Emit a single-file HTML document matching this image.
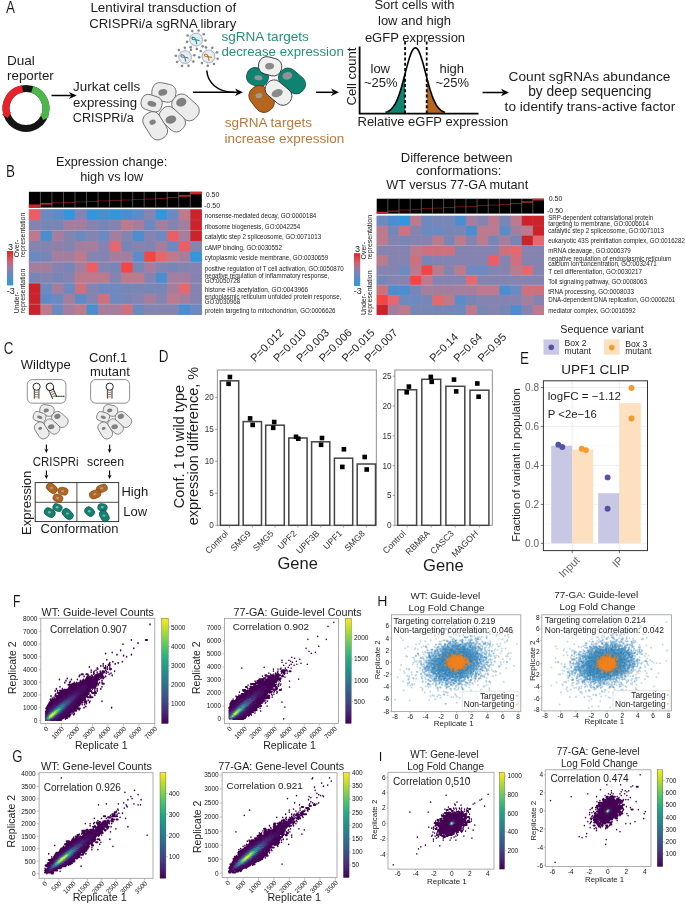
<!DOCTYPE html>
<html><head><meta charset="utf-8"><title>Figure</title>
<style>
html,body{margin:0;padding:0;background:#fff;}
body{width:685px;height:904px;overflow:hidden;}
svg{display:block;font-family:"Liberation Sans",sans-serif;fill:#1c1c1c;}
</style></head><body>
<svg width="685" height="904" viewBox="0 0 685 904">
<rect width="685" height="904" fill="#fff"/>
<text x="6.1" y="12.6" font-size="16" textLength="8.96" lengthAdjust="spacingAndGlyphs" fill="#111" stroke="#fff" stroke-width="0.12">A</text>
<text x="90.4" y="12.1" font-size="13.45" textLength="145.8" lengthAdjust="spacingAndGlyphs">Lentiviral transduction of</text>
<text x="89.2" y="28.1" font-size="13.1" textLength="147" lengthAdjust="spacingAndGlyphs">CRISPRi/a sgRNA library</text>
<text x="6.9" y="64.9" font-size="13.57" textLength="27.9" lengthAdjust="spacingAndGlyphs">Dual</text>
<text x="7.1" y="80.3" font-size="13.34" textLength="46.7" lengthAdjust="spacingAndGlyphs">reporter</text>
<path d="M26 88.4A20 20 0 1 1 25.97 88.4" fill="none" stroke="#141414" stroke-width="7"/>
<path d="M32.18 89.38A20 20 0 0 1 44.67 115.57" fill="none" stroke="#4db84a" stroke-width="7"/>
<path d="M22.53 88.7A20 20 0 0 0 6.68 113.58" fill="none" stroke="#e8212b" stroke-width="7"/>
<path d="M40.1 113.53L49.49 116.95L43.08 119.94Z" fill="#4db84a"/>
<path d="M1.74 114.45L11.45 112.03L7.8 118.09Z" fill="#e8212b"/>
<line x1="51.5" y1="95.5" x2="70.8" y2="95.5" stroke="#000" stroke-width="1.5"/>
<path d="M76.8 95.5L68.8 98.9L71.2 95.5L68.8 92.1Z" fill="#000"/>
<text x="73" y="90.7" font-size="13.46" textLength="67.3" lengthAdjust="spacingAndGlyphs">Jurkat cells</text>
<text x="73" y="106.5" font-size="13.25" textLength="64.1" lengthAdjust="spacingAndGlyphs">expressing</text>
<text x="72.8" y="122.4" font-size="12.62" textLength="61" lengthAdjust="spacingAndGlyphs">CRISPRi/a</text>
<rect x="151.9" y="83.4" width="24" height="18" rx="7.56" ry="7.56" fill="#ececec" stroke="#4a4a4a" stroke-width=".7" transform="rotate(12 163.9 92.4)"/>
<ellipse cx="162.8" cy="92.4" rx="4.5" ry="3.25" fill="#808080" transform="rotate(-10 162.8 92.4)"/>
<rect x="141.1" y="95.45" width="21" height="15.5" rx="6.51" ry="6.51" fill="#ececec" stroke="#4a4a4a" stroke-width=".7" transform="rotate(18 151.6 103.2)"/>
<ellipse cx="151.9" cy="103.8" rx="4.5" ry="2.75" fill="#808080" transform="rotate(15 151.9 103.8)"/>
<rect x="171" y="97.9" width="29" height="19" rx="7.98" ry="7.98" fill="#ececec" stroke="#4a4a4a" stroke-width=".7" transform="rotate(42 185.5 107.4)"/>
<ellipse cx="181.3" cy="102.2" rx="5.25" ry="4.25" fill="#808080" transform="rotate(-20 181.3 102.2)"/>
<rect x="158.3" y="110.45" width="28" height="17.5" rx="7.35" ry="7.35" fill="#ececec" stroke="#4a4a4a" stroke-width=".7" transform="rotate(42 172.3 119.2)"/>
<ellipse cx="170.9" cy="119.6" rx="5.5" ry="4" fill="#808080" transform="rotate(-15 170.9 119.6)"/>
<rect x="140.7" y="116.8" width="29" height="18" rx="7.56" ry="7.56" fill="#ececec" stroke="#4a4a4a" stroke-width=".7" transform="rotate(58 155.2 125.8)"/>
<ellipse cx="152.6" cy="122.2" rx="3.25" ry="2.5" fill="#808080" transform="rotate(-20 152.6 122.2)"/>
<line x1="202.37" y1="40.23" x2="205.45" y2="40.54" stroke="#b4b4b4" stroke-width=".5"/>
<circle cx="205.45" cy="40.54" r="1.3" fill="#888"/>
<line x1="200.5" y1="44.11" x2="202.66" y2="46.33" stroke="#b4b4b4" stroke-width=".5"/>
<circle cx="202.66" cy="46.33" r="1.3" fill="#888"/>
<line x1="196.57" y1="45.88" x2="196.8" y2="48.97" stroke="#b4b4b4" stroke-width=".5"/>
<circle cx="196.8" cy="48.97" r="1.3" fill="#888"/>
<line x1="192.42" y1="44.71" x2="190.61" y2="47.23" stroke="#b4b4b4" stroke-width=".5"/>
<circle cx="190.61" cy="47.23" r="1.3" fill="#888"/>
<line x1="189.99" y1="41.15" x2="186.99" y2="41.92" stroke="#b4b4b4" stroke-width=".5"/>
<circle cx="186.99" cy="41.92" r="1.3" fill="#888"/>
<line x1="190.42" y1="36.87" x2="187.63" y2="35.52" stroke="#b4b4b4" stroke-width=".5"/>
<circle cx="187.63" cy="35.52" r="1.3" fill="#888"/>
<line x1="193.51" y1="33.86" x2="192.24" y2="31.03" stroke="#b4b4b4" stroke-width=".5"/>
<circle cx="192.24" cy="31.03" r="1.3" fill="#888"/>
<line x1="197.81" y1="33.54" x2="198.65" y2="30.55" stroke="#b4b4b4" stroke-width=".5"/>
<circle cx="198.65" cy="30.55" r="1.3" fill="#888"/>
<line x1="201.31" y1="36.05" x2="203.87" y2="34.31" stroke="#b4b4b4" stroke-width=".5"/>
<circle cx="203.87" cy="34.31" r="1.3" fill="#888"/>
<circle cx="196.1" cy="39.6" r="6.4" fill="#e6eff6" stroke="#979eab" stroke-width="0.75"/>
<circle cx="196.1" cy="39.6" r="5.2" fill="none" stroke="#d2dde8" stroke-width="0.5"/>
<path d="M196.7 43.6l-.9 -3.6c-.9 -3.4 -4.4 -3.6 -3.7 -1.2c.5 1.6 3.2 .4 7 1.7" fill="none" stroke="#16907f" stroke-width="1.15" stroke-linecap="round" stroke-linejoin="round"/>
<line x1="190.63" y1="60.12" x2="193.35" y2="61.61" stroke="#b4b4b4" stroke-width=".5"/>
<circle cx="193.35" cy="61.61" r="1.3" fill="#888"/>
<line x1="187.39" y1="62.97" x2="188.52" y2="65.85" stroke="#b4b4b4" stroke-width=".5"/>
<circle cx="188.52" cy="65.85" r="1.3" fill="#888"/>
<line x1="183.09" y1="63.07" x2="182.09" y2="66.01" stroke="#b4b4b4" stroke-width=".5"/>
<circle cx="182.09" cy="66.01" r="1.3" fill="#888"/>
<line x1="179.72" y1="60.38" x2="177.07" y2="61.99" stroke="#b4b4b4" stroke-width=".5"/>
<circle cx="177.07" cy="61.99" r="1.3" fill="#888"/>
<line x1="178.87" y1="56.15" x2="175.81" y2="55.69" stroke="#b4b4b4" stroke-width=".5"/>
<circle cx="175.81" cy="55.69" r="1.3" fill="#888"/>
<line x1="180.94" y1="52.37" x2="178.89" y2="50.04" stroke="#b4b4b4" stroke-width=".5"/>
<circle cx="178.89" cy="50.04" r="1.3" fill="#888"/>
<line x1="184.95" y1="50.8" x2="184.88" y2="47.7" stroke="#b4b4b4" stroke-width=".5"/>
<circle cx="184.88" cy="47.7" r="1.3" fill="#888"/>
<line x1="189.03" y1="52.18" x2="190.97" y2="49.76" stroke="#b4b4b4" stroke-width=".5"/>
<circle cx="190.97" cy="49.76" r="1.3" fill="#888"/>
<line x1="191.28" y1="55.86" x2="194.32" y2="55.25" stroke="#b4b4b4" stroke-width=".5"/>
<circle cx="194.32" cy="55.25" r="1.3" fill="#888"/>
<circle cx="185.1" cy="57.1" r="6.4" fill="#e6eff6" stroke="#979eab" stroke-width="0.75"/>
<circle cx="185.1" cy="57.1" r="5.2" fill="none" stroke="#d2dde8" stroke-width="0.5"/>
<path d="M185.7 61.1l-.9 -3.6c-.9 -3.4 -4.4 -3.6 -3.7 -1.2c.5 1.6 3.2 .4 7 1.7" fill="none" stroke="#67788a" stroke-width="1.15" stroke-linecap="round" stroke-linejoin="round"/>
<line x1="214.6" y1="57.96" x2="217.61" y2="58.73" stroke="#b4b4b4" stroke-width=".5"/>
<circle cx="217.61" cy="58.73" r="1.3" fill="#888"/>
<line x1="212.17" y1="61.52" x2="213.98" y2="64.04" stroke="#b4b4b4" stroke-width=".5"/>
<circle cx="213.98" cy="64.04" r="1.3" fill="#888"/>
<line x1="208.03" y1="62.68" x2="207.79" y2="65.77" stroke="#b4b4b4" stroke-width=".5"/>
<circle cx="207.79" cy="65.77" r="1.3" fill="#888"/>
<line x1="204.1" y1="60.91" x2="201.93" y2="63.12" stroke="#b4b4b4" stroke-width=".5"/>
<circle cx="201.93" cy="63.12" r="1.3" fill="#888"/>
<line x1="202.23" y1="57.02" x2="199.15" y2="57.33" stroke="#b4b4b4" stroke-width=".5"/>
<circle cx="199.15" cy="57.33" r="1.3" fill="#888"/>
<line x1="203.3" y1="52.85" x2="200.74" y2="51.1" stroke="#b4b4b4" stroke-width=".5"/>
<circle cx="200.74" cy="51.1" r="1.3" fill="#888"/>
<line x1="206.8" y1="50.33" x2="205.96" y2="47.35" stroke="#b4b4b4" stroke-width=".5"/>
<circle cx="205.96" cy="47.35" r="1.3" fill="#888"/>
<line x1="211.09" y1="50.66" x2="212.37" y2="47.83" stroke="#b4b4b4" stroke-width=".5"/>
<circle cx="212.37" cy="47.83" r="1.3" fill="#888"/>
<line x1="214.18" y1="53.67" x2="216.97" y2="52.33" stroke="#b4b4b4" stroke-width=".5"/>
<circle cx="216.97" cy="52.33" r="1.3" fill="#888"/>
<circle cx="208.5" cy="56.4" r="6.4" fill="#e6eff6" stroke="#979eab" stroke-width="0.75"/>
<circle cx="208.5" cy="56.4" r="5.2" fill="none" stroke="#d2dde8" stroke-width="0.5"/>
<path d="M209.1 60.4l-.9 -3.6c-.9 -3.4 -4.4 -3.6 -3.7 -1.2c.5 1.6 3.2 .4 7 1.7" fill="none" stroke="#c47a22" stroke-width="1.15" stroke-linecap="round" stroke-linejoin="round"/>
<text x="221.4" y="41" font-size="13.56" textLength="87.4" lengthAdjust="spacingAndGlyphs" fill="#23907c">sgRNA targets</text>
<text x="221.4" y="55.8" font-size="13.26" textLength="122.4" lengthAdjust="spacingAndGlyphs" fill="#23907c">decrease expression</text>
<text x="224.7" y="126.6" font-size="13.54" textLength="87.3" lengthAdjust="spacingAndGlyphs" fill="#b9773a">sgRNA targets</text>
<text x="224.5" y="142.5" font-size="13.46" textLength="119.7" lengthAdjust="spacingAndGlyphs" fill="#b9773a">increase expression</text>
<line x1="193" y1="92.3" x2="237" y2="92.3" stroke="#000" stroke-width="1.5"/>
<path d="M243 92.3L235 96.1L237.4 92.3L235 88.5Z" fill="#000"/>
<path d="M206.8 70.5C207.5 82 217 92.3 234 92.3" fill="none" stroke="#000" stroke-width="1.5"/>
<rect x="246.6" y="68.2" width="21.8" height="17.6" rx="8.1" ry="8.1" fill="#0f8371" stroke="#0b5044" stroke-width=".8" transform="rotate(15 257.5 77)"/>
<ellipse cx="258.4" cy="77.8" rx="4" ry="2.5" fill="#8c9593" transform="rotate(5 258.4 77.8)"/>
<rect x="277.5" y="71.65" width="29" height="18.7" rx="8.6" ry="8.6" fill="#0f8371" stroke="#0b5044" stroke-width=".8" transform="rotate(40 292 81)"/>
<ellipse cx="287.3" cy="75.8" rx="5" ry="3.8" fill="#8c9593" transform="rotate(-15 287.3 75.8)"/>
<rect x="247.6" y="89.05" width="28" height="19.9" rx="9.15" ry="9.15" fill="#b4661f" stroke="#5a3510" stroke-width=".8" transform="rotate(52 261.6 99)"/>
<ellipse cx="258.9" cy="95.6" rx="3.5" ry="2.5" fill="#a09a94" transform="rotate(-10 258.9 95.6)"/>
<rect x="264" y="83.8" width="29" height="17.6" rx="8.1" ry="8.1" fill="#f0f0f0" stroke="#2a2a2a" stroke-width=".8" transform="rotate(40 278.5 92.6)"/>
<ellipse cx="277.2" cy="93.2" rx="5.75" ry="3.8" fill="#8a8a8a" transform="rotate(-20 277.2 93.2)"/>
<rect x="258.4" y="57.55" width="23.4" height="17.5" rx="8.05" ry="8.05" fill="#f0f0f0" stroke="#2a2a2a" stroke-width=".8" transform="rotate(15 270.1 66.3)"/>
<ellipse cx="269.6" cy="66.2" rx="4.5" ry="3.25" fill="#8a8a8a" transform="rotate(-5 269.6 66.2)"/>
<line x1="316" y1="92.3" x2="333" y2="92.3" stroke="#000" stroke-width="1.5"/>
<path d="M339 92.3L331 96.1L333.4 92.3L331 88.5Z" fill="#000"/>
<text x="414.5" y="9.3" font-size="13" text-anchor="middle">Sort cells with</text>
<text x="414.5" y="25.3" font-size="13" text-anchor="middle">low and high</text>
<text x="415" y="41.5" font-size="13" text-anchor="middle">eGFP expression</text>
<path d="M386.5 113.3L386.5 112.02L387.43 111.66L388.36 111.21L389.29 110.66L390.22 110L391.15 109.2L392.08 108.25L393.01 107.13L393.94 105.82L394.87 104.31L395.8 102.59L396.73 100.63L397.66 98.44L398.59 96.01L399.52 93.34L400.45 90.46L401.38 87.36L402.31 84.09L403.24 80.67L404.17 77.15L405.1 73.57L405.1 113.3Z" fill="#0f8371"/>
<path d="M426.7 113.3L426.7 77.42L427.56 80.69L428.43 83.87L429.3 86.93L430.16 89.84L431.02 92.57L431.89 95.12L432.75 97.46L433.62 99.6L434.49 101.53L435.35 103.26L436.21 104.8L437.08 106.15L437.94 107.33L438.81 108.35L439.68 109.23L440.54 109.97L441.4 110.6L442.27 111.12L443.13 111.56L444 111.91L444 113.3Z" fill="#b4661f"/>
<path d="M385.5 112.33L386.49 112.02L387.48 111.64L388.48 111.15L389.47 110.55L390.46 109.81L391.45 108.91L392.44 107.84L393.43 106.56L394.43 105.06L395.42 103.33L396.41 101.33L397.4 99.07L398.39 96.55L399.38 93.75L400.38 90.7L401.37 87.41L402.36 83.92L403.35 80.26L404.34 76.49L405.33 72.67L406.32 68.87L407.32 65.16L408.31 61.62L409.3 58.34L410.29 55.38L411.28 52.83L412.27 50.75L413.27 49.19L414.26 48.2L415.25 47.81L416.24 48.02L417.23 48.83L418.23 50.22L419.22 52.15L420.21 54.56L421.2 57.4L422.19 60.6L423.18 64.07L424.18 67.73L425.17 71.52L426.16 75.34L427.15 79.13L428.14 82.83L429.13 86.37L430.12 89.73L431.12 92.85L432.11 95.73L433.1 98.34L434.09 100.68L435.08 102.75L436.07 104.56L437.07 106.13L438.06 107.47L439.05 108.61L440.04 109.56L441.03 110.34L442.02 110.98L443.02 111.5L444.01 111.92L445 112.25" fill="none" stroke="#000" stroke-width="1.6"/>
<line x1="405.1" y1="41.6" x2="405.1" y2="113.3" stroke="#000" stroke-width="1.8" stroke-dasharray="3 2.3"/>
<line x1="426.7" y1="41.6" x2="426.7" y2="113.3" stroke="#000" stroke-width="1.8" stroke-dasharray="3 2.3"/>
<path d="M359.6 46.5V113.6H478.5" fill="none" stroke="#000" stroke-width="1.8"/>
<text x="370.5" y="72.8" font-size="13">low</text>
<text x="364" y="86.5" font-size="13">~25%</text>
<text x="439.5" y="72.8" font-size="13">high</text>
<text x="435.5" y="86.5" font-size="13">~25%</text>
<text x="355.5" y="105.5" font-size="13" transform="rotate(-90 355.5 105.5)">Cell count</text>
<text x="357.5" y="125.8" font-size="13">Relative eGFP expression</text>
<line x1="482.5" y1="92.5" x2="503" y2="92.5" stroke="#000" stroke-width="1.5"/>
<path d="M509 92.5L501 96.3L503.4 92.5L501 88.7Z" fill="#000"/>
<text x="508.6" y="80.6" font-size="13.66" textLength="161.8" lengthAdjust="spacingAndGlyphs">Count sgRNAs abundance</text>
<text x="528.2" y="96" font-size="13.77" textLength="123.3" lengthAdjust="spacingAndGlyphs">by deep sequencing</text>
<text x="504.6" y="110.9" font-size="13.64" textLength="170.6" lengthAdjust="spacingAndGlyphs">to identify trans-active factor</text>
<text x="5.9" y="177.1" font-size="16" textLength="8.96" lengthAdjust="spacingAndGlyphs" fill="#111" stroke="#fff" stroke-width="0.12">B</text>
<text x="56" y="166.3" font-size="12.67" textLength="111.3" lengthAdjust="spacingAndGlyphs">Expression change:</text>
<text x="80.2" y="181" font-size="12.74" textLength="63" lengthAdjust="spacingAndGlyphs">high vs low</text>
<text x="456.7" y="162.2" font-size="13" text-anchor="middle">Difference between</text>
<text x="458.7" y="175.3" font-size="13" text-anchor="middle">conformations:</text>
<text x="457.2" y="188.5" font-size="13" text-anchor="middle" textLength="142" lengthAdjust="spacingAndGlyphs">WT versus 77-GA mutant</text>
<rect x="28.9" y="191.8" width="172.9" height="15.8" fill="#000"/>
<rect x="28.9" y="204.42" width="11.53" height="3.2" fill="#c9252b"/>
<rect x="40.43" y="203.01" width="11.53" height="1.6" fill="#c9252b"/>
<rect x="51.95" y="202.46" width="11.53" height=".8" fill="#9a191e"/>
<rect x="63.48" y="202.04" width="11.53" height=".7" fill="#9a191e"/>
<rect x="75.01" y="201.56" width="11.53" height=".7" fill="#9a191e"/>
<rect x="86.53" y="201.09" width="11.53" height=".7" fill="#9a191e"/>
<rect x="98.06" y="200.61" width="11.53" height=".7" fill="#9a191e"/>
<rect x="109.59" y="200.14" width="11.53" height=".7" fill="#9a191e"/>
<rect x="121.11" y="199.67" width="11.53" height=".7" fill="#9a191e"/>
<rect x="132.64" y="199.19" width="11.53" height=".7" fill="#9a191e"/>
<rect x="144.17" y="198.72" width="11.53" height=".7" fill="#9a191e"/>
<rect x="155.69" y="198.09" width="11.53" height=".7" fill="#9a191e"/>
<rect x="167.22" y="197.2" width="11.53" height=".9" fill="#9a191e"/>
<rect x="178.75" y="195.11" width="11.53" height="1.6" fill="#c9252b"/>
<rect x="190.27" y="191.76" width="11.53" height="2.6" fill="#c9252b"/>
<line x1="40.43" y1="191.8" x2="40.43" y2="207.6" stroke="#9a9a9a" stroke-width=".5"/>
<line x1="51.95" y1="191.8" x2="51.95" y2="207.6" stroke="#9a9a9a" stroke-width=".5"/>
<line x1="63.48" y1="191.8" x2="63.48" y2="207.6" stroke="#9a9a9a" stroke-width=".5"/>
<line x1="75.01" y1="191.8" x2="75.01" y2="207.6" stroke="#9a9a9a" stroke-width=".5"/>
<line x1="86.53" y1="191.8" x2="86.53" y2="207.6" stroke="#9a9a9a" stroke-width=".5"/>
<line x1="98.06" y1="191.8" x2="98.06" y2="207.6" stroke="#9a9a9a" stroke-width=".5"/>
<line x1="109.59" y1="191.8" x2="109.59" y2="207.6" stroke="#9a9a9a" stroke-width=".5"/>
<line x1="121.11" y1="191.8" x2="121.11" y2="207.6" stroke="#9a9a9a" stroke-width=".5"/>
<line x1="132.64" y1="191.8" x2="132.64" y2="207.6" stroke="#9a9a9a" stroke-width=".5"/>
<line x1="144.17" y1="191.8" x2="144.17" y2="207.6" stroke="#9a9a9a" stroke-width=".5"/>
<line x1="155.69" y1="191.8" x2="155.69" y2="207.6" stroke="#9a9a9a" stroke-width=".5"/>
<line x1="167.22" y1="191.8" x2="167.22" y2="207.6" stroke="#9a9a9a" stroke-width=".5"/>
<line x1="178.75" y1="191.8" x2="178.75" y2="207.6" stroke="#9a9a9a" stroke-width=".5"/>
<line x1="190.27" y1="191.8" x2="190.27" y2="207.6" stroke="#9a9a9a" stroke-width=".5"/>
<rect x="28.9" y="209.4" width="172.9" height="105.4" fill="#8583b0"/>
<rect x="28.9" y="209.4" width="11.93" height="10.94" fill="#ec5e64"/>
<rect x="40.43" y="209.4" width="11.93" height="10.94" fill="#6c89c0"/>
<rect x="51.95" y="209.4" width="11.93" height="10.94" fill="#5c8cc8"/>
<rect x="63.48" y="209.4" width="11.93" height="10.94" fill="#3196dc"/>
<rect x="75.01" y="209.4" width="11.93" height="10.94" fill="#8583b0"/>
<rect x="86.53" y="209.4" width="11.93" height="10.94" fill="#3196dc"/>
<rect x="98.06" y="209.4" width="11.93" height="10.94" fill="#4a8ed0"/>
<rect x="109.59" y="209.4" width="11.93" height="10.94" fill="#3196dc"/>
<rect x="121.11" y="209.4" width="11.93" height="10.94" fill="#4a8ed0"/>
<rect x="132.64" y="209.4" width="11.93" height="10.94" fill="#5c8cc8"/>
<rect x="144.17" y="209.4" width="11.93" height="10.94" fill="#8583b0"/>
<rect x="155.69" y="209.4" width="11.93" height="10.94" fill="#3196dc"/>
<rect x="167.22" y="209.4" width="11.93" height="10.94" fill="#6c89c0"/>
<rect x="178.75" y="209.4" width="11.93" height="10.94" fill="#bc7a8c"/>
<rect x="190.27" y="209.4" width="11.53" height="10.94" fill="#cc2229"/>
<rect x="28.9" y="219.94" width="11.93" height="10.94" fill="#8583b0"/>
<rect x="40.43" y="219.94" width="11.93" height="10.94" fill="#7886b6"/>
<rect x="51.95" y="219.94" width="11.93" height="10.94" fill="#7886b6"/>
<rect x="63.48" y="219.94" width="11.93" height="10.94" fill="#a57e9e"/>
<rect x="75.01" y="219.94" width="11.93" height="10.94" fill="#a57e9e"/>
<rect x="86.53" y="219.94" width="11.93" height="10.94" fill="#8583b0"/>
<rect x="98.06" y="219.94" width="11.93" height="10.94" fill="#7886b6"/>
<rect x="109.59" y="219.94" width="11.93" height="10.94" fill="#8583b0"/>
<rect x="121.11" y="219.94" width="11.93" height="10.94" fill="#bc7a8c"/>
<rect x="132.64" y="219.94" width="11.93" height="10.94" fill="#a57e9e"/>
<rect x="144.17" y="219.94" width="11.93" height="10.94" fill="#6c89c0"/>
<rect x="155.69" y="219.94" width="11.93" height="10.94" fill="#a57e9e"/>
<rect x="167.22" y="219.94" width="11.93" height="10.94" fill="#8583b0"/>
<rect x="178.75" y="219.94" width="11.93" height="10.94" fill="#a57e9e"/>
<rect x="190.27" y="219.94" width="11.53" height="10.94" fill="#cc2229"/>
<rect x="28.9" y="230.48" width="11.93" height="10.94" fill="#bc7a8c"/>
<rect x="40.43" y="230.48" width="11.93" height="10.94" fill="#4a8ed0"/>
<rect x="51.95" y="230.48" width="11.93" height="10.94" fill="#a57e9e"/>
<rect x="63.48" y="230.48" width="11.93" height="10.94" fill="#8583b0"/>
<rect x="75.01" y="230.48" width="11.93" height="10.94" fill="#6c89c0"/>
<rect x="86.53" y="230.48" width="11.93" height="10.94" fill="#8583b0"/>
<rect x="98.06" y="230.48" width="11.93" height="10.94" fill="#6c89c0"/>
<rect x="109.59" y="230.48" width="11.93" height="10.94" fill="#a57e9e"/>
<rect x="121.11" y="230.48" width="11.93" height="10.94" fill="#8583b0"/>
<rect x="132.64" y="230.48" width="11.93" height="10.94" fill="#4a8ed0"/>
<rect x="144.17" y="230.48" width="11.93" height="10.94" fill="#8583b0"/>
<rect x="155.69" y="230.48" width="11.93" height="10.94" fill="#6c89c0"/>
<rect x="167.22" y="230.48" width="11.93" height="10.94" fill="#ec5e64"/>
<rect x="178.75" y="230.48" width="11.93" height="10.94" fill="#a57e9e"/>
<rect x="190.27" y="230.48" width="11.53" height="10.94" fill="#cc2229"/>
<rect x="28.9" y="241.02" width="11.93" height="10.94" fill="#8583b0"/>
<rect x="40.43" y="241.02" width="11.93" height="10.94" fill="#8583b0"/>
<rect x="51.95" y="241.02" width="11.93" height="10.94" fill="#9080a8"/>
<rect x="63.48" y="241.02" width="11.93" height="10.94" fill="#8583b0"/>
<rect x="75.01" y="241.02" width="11.93" height="10.94" fill="#a57e9e"/>
<rect x="86.53" y="241.02" width="11.93" height="10.94" fill="#a57e9e"/>
<rect x="98.06" y="241.02" width="11.93" height="10.94" fill="#8583b0"/>
<rect x="109.59" y="241.02" width="11.93" height="10.94" fill="#e4686e"/>
<rect x="121.11" y="241.02" width="11.93" height="10.94" fill="#7886b6"/>
<rect x="132.64" y="241.02" width="11.93" height="10.94" fill="#8583b0"/>
<rect x="144.17" y="241.02" width="11.93" height="10.94" fill="#8583b0"/>
<rect x="155.69" y="241.02" width="11.93" height="10.94" fill="#a57e9e"/>
<rect x="167.22" y="241.02" width="11.93" height="10.94" fill="#6c89c0"/>
<rect x="178.75" y="241.02" width="11.93" height="10.94" fill="#ec5e64"/>
<rect x="190.27" y="241.02" width="11.53" height="10.94" fill="#8583b0"/>
<rect x="28.9" y="251.56" width="11.93" height="10.94" fill="#6c89c0"/>
<rect x="40.43" y="251.56" width="11.93" height="10.94" fill="#7886b6"/>
<rect x="51.95" y="251.56" width="11.93" height="10.94" fill="#a57e9e"/>
<rect x="63.48" y="251.56" width="11.93" height="10.94" fill="#a57e9e"/>
<rect x="75.01" y="251.56" width="11.93" height="10.94" fill="#bc7a8c"/>
<rect x="86.53" y="251.56" width="11.93" height="10.94" fill="#8583b0"/>
<rect x="98.06" y="251.56" width="11.93" height="10.94" fill="#8583b0"/>
<rect x="109.59" y="251.56" width="11.93" height="10.94" fill="#a57e9e"/>
<rect x="121.11" y="251.56" width="11.93" height="10.94" fill="#a57e9e"/>
<rect x="132.64" y="251.56" width="11.93" height="10.94" fill="#5c8cc8"/>
<rect x="144.17" y="251.56" width="11.93" height="10.94" fill="#f44444"/>
<rect x="155.69" y="251.56" width="11.93" height="10.94" fill="#e4686e"/>
<rect x="167.22" y="251.56" width="11.93" height="10.94" fill="#bc7a8c"/>
<rect x="178.75" y="251.56" width="11.93" height="10.94" fill="#a57e9e"/>
<rect x="190.27" y="251.56" width="11.53" height="10.94" fill="#3196dc"/>
<rect x="28.9" y="262.1" width="11.93" height="10.94" fill="#a57e9e"/>
<rect x="40.43" y="262.1" width="11.93" height="10.94" fill="#a57e9e"/>
<rect x="51.95" y="262.1" width="11.93" height="10.94" fill="#8583b0"/>
<rect x="63.48" y="262.1" width="11.93" height="10.94" fill="#7886b6"/>
<rect x="75.01" y="262.1" width="11.93" height="10.94" fill="#a57e9e"/>
<rect x="86.53" y="262.1" width="11.93" height="10.94" fill="#ec5e64"/>
<rect x="98.06" y="262.1" width="11.93" height="10.94" fill="#8583b0"/>
<rect x="109.59" y="262.1" width="11.93" height="10.94" fill="#7886b6"/>
<rect x="121.11" y="262.1" width="11.93" height="10.94" fill="#f44444"/>
<rect x="132.64" y="262.1" width="11.93" height="10.94" fill="#7886b6"/>
<rect x="144.17" y="262.1" width="11.93" height="10.94" fill="#a57e9e"/>
<rect x="155.69" y="262.1" width="11.93" height="10.94" fill="#8583b0"/>
<rect x="167.22" y="262.1" width="11.93" height="10.94" fill="#7886b6"/>
<rect x="178.75" y="262.1" width="11.93" height="10.94" fill="#8583b0"/>
<rect x="190.27" y="262.1" width="11.53" height="10.94" fill="#8583b0"/>
<rect x="28.9" y="272.64" width="11.93" height="10.94" fill="#7886b6"/>
<rect x="40.43" y="272.64" width="11.93" height="10.94" fill="#8583b0"/>
<rect x="51.95" y="272.64" width="11.93" height="10.94" fill="#7886b6"/>
<rect x="63.48" y="272.64" width="11.93" height="10.94" fill="#8583b0"/>
<rect x="75.01" y="272.64" width="11.93" height="10.94" fill="#bc7a8c"/>
<rect x="86.53" y="272.64" width="11.93" height="10.94" fill="#bc7a8c"/>
<rect x="98.06" y="272.64" width="11.93" height="10.94" fill="#bc7a8c"/>
<rect x="109.59" y="272.64" width="11.93" height="10.94" fill="#8583b0"/>
<rect x="121.11" y="272.64" width="11.93" height="10.94" fill="#bc7a8c"/>
<rect x="132.64" y="272.64" width="11.93" height="10.94" fill="#bc7a8c"/>
<rect x="144.17" y="272.64" width="11.93" height="10.94" fill="#8583b0"/>
<rect x="155.69" y="272.64" width="11.93" height="10.94" fill="#4a8ed0"/>
<rect x="167.22" y="272.64" width="11.93" height="10.94" fill="#a57e9e"/>
<rect x="178.75" y="272.64" width="11.93" height="10.94" fill="#a57e9e"/>
<rect x="190.27" y="272.64" width="11.53" height="10.94" fill="#8583b0"/>
<rect x="28.9" y="283.18" width="11.93" height="10.94" fill="#cc2229"/>
<rect x="40.43" y="283.18" width="11.93" height="10.94" fill="#6c89c0"/>
<rect x="51.95" y="283.18" width="11.93" height="10.94" fill="#a57e9e"/>
<rect x="63.48" y="283.18" width="11.93" height="10.94" fill="#6c89c0"/>
<rect x="75.01" y="283.18" width="11.93" height="10.94" fill="#d0707c"/>
<rect x="86.53" y="283.18" width="11.93" height="10.94" fill="#8583b0"/>
<rect x="98.06" y="283.18" width="11.93" height="10.94" fill="#6c89c0"/>
<rect x="109.59" y="283.18" width="11.93" height="10.94" fill="#6c89c0"/>
<rect x="121.11" y="283.18" width="11.93" height="10.94" fill="#7886b6"/>
<rect x="132.64" y="283.18" width="11.93" height="10.94" fill="#7886b6"/>
<rect x="144.17" y="283.18" width="11.93" height="10.94" fill="#7886b6"/>
<rect x="155.69" y="283.18" width="11.93" height="10.94" fill="#7886b6"/>
<rect x="167.22" y="283.18" width="11.93" height="10.94" fill="#a57e9e"/>
<rect x="178.75" y="283.18" width="11.93" height="10.94" fill="#e4686e"/>
<rect x="190.27" y="283.18" width="11.53" height="10.94" fill="#8583b0"/>
<rect x="28.9" y="293.72" width="11.93" height="10.94" fill="#cc2229"/>
<rect x="40.43" y="293.72" width="11.93" height="10.94" fill="#5c8cc8"/>
<rect x="51.95" y="293.72" width="11.93" height="10.94" fill="#6c89c0"/>
<rect x="63.48" y="293.72" width="11.93" height="10.94" fill="#a57e9e"/>
<rect x="75.01" y="293.72" width="11.93" height="10.94" fill="#5c8cc8"/>
<rect x="86.53" y="293.72" width="11.93" height="10.94" fill="#8583b0"/>
<rect x="98.06" y="293.72" width="11.93" height="10.94" fill="#d0707c"/>
<rect x="109.59" y="293.72" width="11.93" height="10.94" fill="#6c89c0"/>
<rect x="121.11" y="293.72" width="11.93" height="10.94" fill="#7886b6"/>
<rect x="132.64" y="293.72" width="11.93" height="10.94" fill="#8583b0"/>
<rect x="144.17" y="293.72" width="11.93" height="10.94" fill="#a57e9e"/>
<rect x="155.69" y="293.72" width="11.93" height="10.94" fill="#8583b0"/>
<rect x="167.22" y="293.72" width="11.93" height="10.94" fill="#bc7a8c"/>
<rect x="178.75" y="293.72" width="11.93" height="10.94" fill="#a57e9e"/>
<rect x="190.27" y="293.72" width="11.53" height="10.94" fill="#8583b0"/>
<rect x="28.9" y="304.26" width="11.93" height="10.54" fill="#cc2229"/>
<rect x="40.43" y="304.26" width="11.93" height="10.54" fill="#bc7a8c"/>
<rect x="51.95" y="304.26" width="11.93" height="10.54" fill="#6c89c0"/>
<rect x="63.48" y="304.26" width="11.93" height="10.54" fill="#a57e9e"/>
<rect x="75.01" y="304.26" width="11.93" height="10.54" fill="#bc7a8c"/>
<rect x="86.53" y="304.26" width="11.93" height="10.54" fill="#4a8ed0"/>
<rect x="98.06" y="304.26" width="11.93" height="10.54" fill="#a57e9e"/>
<rect x="109.59" y="304.26" width="11.93" height="10.54" fill="#a57e9e"/>
<rect x="121.11" y="304.26" width="11.93" height="10.54" fill="#d0707c"/>
<rect x="132.64" y="304.26" width="11.93" height="10.54" fill="#6c89c0"/>
<rect x="144.17" y="304.26" width="11.93" height="10.54" fill="#8583b0"/>
<rect x="155.69" y="304.26" width="11.93" height="10.54" fill="#8583b0"/>
<rect x="167.22" y="304.26" width="11.93" height="10.54" fill="#8583b0"/>
<rect x="178.75" y="304.26" width="11.93" height="10.54" fill="#4a8ed0"/>
<rect x="190.27" y="304.26" width="11.53" height="10.54" fill="#6c89c0"/>
<line x1="40.43" y1="209.4" x2="40.43" y2="314.8" stroke="#a39ec2" stroke-width=".16"/>
<line x1="51.95" y1="209.4" x2="51.95" y2="314.8" stroke="#a39ec2" stroke-width=".16"/>
<line x1="63.48" y1="209.4" x2="63.48" y2="314.8" stroke="#a39ec2" stroke-width=".16"/>
<line x1="75.01" y1="209.4" x2="75.01" y2="314.8" stroke="#a39ec2" stroke-width=".16"/>
<line x1="86.53" y1="209.4" x2="86.53" y2="314.8" stroke="#a39ec2" stroke-width=".16"/>
<line x1="98.06" y1="209.4" x2="98.06" y2="314.8" stroke="#a39ec2" stroke-width=".16"/>
<line x1="109.59" y1="209.4" x2="109.59" y2="314.8" stroke="#a39ec2" stroke-width=".16"/>
<line x1="121.11" y1="209.4" x2="121.11" y2="314.8" stroke="#a39ec2" stroke-width=".16"/>
<line x1="132.64" y1="209.4" x2="132.64" y2="314.8" stroke="#a39ec2" stroke-width=".16"/>
<line x1="144.17" y1="209.4" x2="144.17" y2="314.8" stroke="#a39ec2" stroke-width=".16"/>
<line x1="155.69" y1="209.4" x2="155.69" y2="314.8" stroke="#a39ec2" stroke-width=".16"/>
<line x1="167.22" y1="209.4" x2="167.22" y2="314.8" stroke="#a39ec2" stroke-width=".16"/>
<line x1="178.75" y1="209.4" x2="178.75" y2="314.8" stroke="#a39ec2" stroke-width=".16"/>
<line x1="190.27" y1="209.4" x2="190.27" y2="314.8" stroke="#a39ec2" stroke-width=".16"/>
<line x1="28.9" y1="219.94" x2="201.8" y2="219.94" stroke="#a39ec2" stroke-width=".16"/>
<line x1="28.9" y1="230.48" x2="201.8" y2="230.48" stroke="#cfcbe0" stroke-width=".35"/>
<line x1="28.9" y1="241.02" x2="201.8" y2="241.02" stroke="#a39ec2" stroke-width=".16"/>
<line x1="28.9" y1="251.56" x2="201.8" y2="251.56" stroke="#a39ec2" stroke-width=".16"/>
<line x1="28.9" y1="262.1" x2="201.8" y2="262.1" stroke="#cfcbe0" stroke-width=".35"/>
<line x1="28.9" y1="272.64" x2="201.8" y2="272.64" stroke="#a39ec2" stroke-width=".16"/>
<line x1="28.9" y1="283.18" x2="201.8" y2="283.18" stroke="#cfcbe0" stroke-width=".35"/>
<line x1="28.9" y1="293.72" x2="201.8" y2="293.72" stroke="#a39ec2" stroke-width=".16"/>
<line x1="28.9" y1="304.26" x2="201.8" y2="304.26" stroke="#cfcbe0" stroke-width=".35"/>
<rect x="376.7" y="198.7" width="167.3" height="14.9" fill="#000"/>
<rect x="376.7" y="211.71" width="11.15" height="2" fill="#c9252b"/>
<rect x="387.85" y="210.62" width="11.15" height="1.2" fill="#9a191e"/>
<rect x="399.01" y="209.62" width="11.15" height=".8" fill="#9a191e"/>
<rect x="410.16" y="208.93" width="11.15" height=".7" fill="#9a191e"/>
<rect x="421.31" y="208.33" width="11.15" height=".7" fill="#9a191e"/>
<rect x="432.47" y="207.74" width="11.15" height=".7" fill="#9a191e"/>
<rect x="443.62" y="207.14" width="11.15" height=".7" fill="#9a191e"/>
<rect x="454.77" y="206.54" width="11.15" height=".7" fill="#9a191e"/>
<rect x="465.93" y="205.95" width="11.15" height=".7" fill="#9a191e"/>
<rect x="477.08" y="205.35" width="11.15" height=".7" fill="#9a191e"/>
<rect x="488.23" y="204.76" width="11.15" height=".7" fill="#9a191e"/>
<rect x="499.39" y="204.01" width="11.15" height=".7" fill="#9a191e"/>
<rect x="510.54" y="203.02" width="11.15" height=".9" fill="#9a191e"/>
<rect x="521.69" y="201.28" width="11.15" height="1.4" fill="#c9252b"/>
<rect x="532.85" y="198.69" width="11.15" height="1.8" fill="#c9252b"/>
<line x1="387.85" y1="198.7" x2="387.85" y2="213.6" stroke="#9a9a9a" stroke-width=".5"/>
<line x1="399.01" y1="198.7" x2="399.01" y2="213.6" stroke="#9a9a9a" stroke-width=".5"/>
<line x1="410.16" y1="198.7" x2="410.16" y2="213.6" stroke="#9a9a9a" stroke-width=".5"/>
<line x1="421.31" y1="198.7" x2="421.31" y2="213.6" stroke="#9a9a9a" stroke-width=".5"/>
<line x1="432.47" y1="198.7" x2="432.47" y2="213.6" stroke="#9a9a9a" stroke-width=".5"/>
<line x1="443.62" y1="198.7" x2="443.62" y2="213.6" stroke="#9a9a9a" stroke-width=".5"/>
<line x1="454.77" y1="198.7" x2="454.77" y2="213.6" stroke="#9a9a9a" stroke-width=".5"/>
<line x1="465.93" y1="198.7" x2="465.93" y2="213.6" stroke="#9a9a9a" stroke-width=".5"/>
<line x1="477.08" y1="198.7" x2="477.08" y2="213.6" stroke="#9a9a9a" stroke-width=".5"/>
<line x1="488.23" y1="198.7" x2="488.23" y2="213.6" stroke="#9a9a9a" stroke-width=".5"/>
<line x1="499.39" y1="198.7" x2="499.39" y2="213.6" stroke="#9a9a9a" stroke-width=".5"/>
<line x1="510.54" y1="198.7" x2="510.54" y2="213.6" stroke="#9a9a9a" stroke-width=".5"/>
<line x1="521.69" y1="198.7" x2="521.69" y2="213.6" stroke="#9a9a9a" stroke-width=".5"/>
<line x1="532.85" y1="198.7" x2="532.85" y2="213.6" stroke="#9a9a9a" stroke-width=".5"/>
<rect x="376.7" y="215.8" width="167.3" height="99.1" fill="#8583b0"/>
<rect x="376.7" y="215.8" width="11.55" height="10.31" fill="#6c89c0"/>
<rect x="387.85" y="215.8" width="11.55" height="10.31" fill="#4a8ed0"/>
<rect x="399.01" y="215.8" width="11.55" height="10.31" fill="#3196dc"/>
<rect x="410.16" y="215.8" width="11.55" height="10.31" fill="#bc7a8c"/>
<rect x="421.31" y="215.8" width="11.55" height="10.31" fill="#6c89c0"/>
<rect x="432.47" y="215.8" width="11.55" height="10.31" fill="#7886b6"/>
<rect x="443.62" y="215.8" width="11.55" height="10.31" fill="#7886b6"/>
<rect x="454.77" y="215.8" width="11.55" height="10.31" fill="#4a8ed0"/>
<rect x="465.93" y="215.8" width="11.55" height="10.31" fill="#a57e9e"/>
<rect x="477.08" y="215.8" width="11.55" height="10.31" fill="#8583b0"/>
<rect x="488.23" y="215.8" width="11.55" height="10.31" fill="#bc7a8c"/>
<rect x="499.39" y="215.8" width="11.55" height="10.31" fill="#7886b6"/>
<rect x="510.54" y="215.8" width="11.55" height="10.31" fill="#bc7a8c"/>
<rect x="521.69" y="215.8" width="11.55" height="10.31" fill="#cc2229"/>
<rect x="532.85" y="215.8" width="11.15" height="10.31" fill="#cc2229"/>
<rect x="376.7" y="225.71" width="11.55" height="10.31" fill="#bc7a8c"/>
<rect x="387.85" y="225.71" width="11.55" height="10.31" fill="#7886b6"/>
<rect x="399.01" y="225.71" width="11.55" height="10.31" fill="#d0707c"/>
<rect x="410.16" y="225.71" width="11.55" height="10.31" fill="#8583b0"/>
<rect x="421.31" y="225.71" width="11.55" height="10.31" fill="#6c89c0"/>
<rect x="432.47" y="225.71" width="11.55" height="10.31" fill="#6c89c0"/>
<rect x="443.62" y="225.71" width="11.55" height="10.31" fill="#7886b6"/>
<rect x="454.77" y="225.71" width="11.55" height="10.31" fill="#7886b6"/>
<rect x="465.93" y="225.71" width="11.55" height="10.31" fill="#4a8ed0"/>
<rect x="477.08" y="225.71" width="11.55" height="10.31" fill="#bc7a8c"/>
<rect x="488.23" y="225.71" width="11.55" height="10.31" fill="#bc7a8c"/>
<rect x="499.39" y="225.71" width="11.55" height="10.31" fill="#5c8cc8"/>
<rect x="510.54" y="225.71" width="11.55" height="10.31" fill="#a57e9e"/>
<rect x="521.69" y="225.71" width="11.55" height="10.31" fill="#bc7a8c"/>
<rect x="532.85" y="225.71" width="11.15" height="10.31" fill="#cc2229"/>
<rect x="376.7" y="235.62" width="11.55" height="10.31" fill="#bc7a8c"/>
<rect x="387.85" y="235.62" width="11.55" height="10.31" fill="#8583b0"/>
<rect x="399.01" y="235.62" width="11.55" height="10.31" fill="#7886b6"/>
<rect x="410.16" y="235.62" width="11.55" height="10.31" fill="#8583b0"/>
<rect x="421.31" y="235.62" width="11.55" height="10.31" fill="#8583b0"/>
<rect x="432.47" y="235.62" width="11.55" height="10.31" fill="#bc7a8c"/>
<rect x="443.62" y="235.62" width="11.55" height="10.31" fill="#7886b6"/>
<rect x="454.77" y="235.62" width="11.55" height="10.31" fill="#bc7a8c"/>
<rect x="465.93" y="235.62" width="11.55" height="10.31" fill="#8583b0"/>
<rect x="477.08" y="235.62" width="11.55" height="10.31" fill="#bc7a8c"/>
<rect x="488.23" y="235.62" width="11.55" height="10.31" fill="#7886b6"/>
<rect x="499.39" y="235.62" width="11.55" height="10.31" fill="#a57e9e"/>
<rect x="510.54" y="235.62" width="11.55" height="10.31" fill="#7886b6"/>
<rect x="521.69" y="235.62" width="11.55" height="10.31" fill="#cc2229"/>
<rect x="532.85" y="235.62" width="11.15" height="10.31" fill="#e4686e"/>
<rect x="376.7" y="245.53" width="11.55" height="10.31" fill="#8583b0"/>
<rect x="387.85" y="245.53" width="11.55" height="10.31" fill="#8583b0"/>
<rect x="399.01" y="245.53" width="11.55" height="10.31" fill="#8583b0"/>
<rect x="410.16" y="245.53" width="11.55" height="10.31" fill="#bc7a8c"/>
<rect x="421.31" y="245.53" width="11.55" height="10.31" fill="#d0707c"/>
<rect x="432.47" y="245.53" width="11.55" height="10.31" fill="#d0707c"/>
<rect x="443.62" y="245.53" width="11.55" height="10.31" fill="#d0707c"/>
<rect x="454.77" y="245.53" width="11.55" height="10.31" fill="#8583b0"/>
<rect x="465.93" y="245.53" width="11.55" height="10.31" fill="#8583b0"/>
<rect x="477.08" y="245.53" width="11.55" height="10.31" fill="#8583b0"/>
<rect x="488.23" y="245.53" width="11.55" height="10.31" fill="#8583b0"/>
<rect x="499.39" y="245.53" width="11.55" height="10.31" fill="#d0707c"/>
<rect x="510.54" y="245.53" width="11.55" height="10.31" fill="#e4686e"/>
<rect x="521.69" y="245.53" width="11.55" height="10.31" fill="#8583b0"/>
<rect x="532.85" y="245.53" width="11.15" height="10.31" fill="#8583b0"/>
<rect x="376.7" y="255.44" width="11.55" height="10.31" fill="#bc7a8c"/>
<rect x="387.85" y="255.44" width="11.55" height="10.31" fill="#8583b0"/>
<rect x="399.01" y="255.44" width="11.55" height="10.31" fill="#8583b0"/>
<rect x="410.16" y="255.44" width="11.55" height="10.31" fill="#d0707c"/>
<rect x="421.31" y="255.44" width="11.55" height="10.31" fill="#7886b6"/>
<rect x="432.47" y="255.44" width="11.55" height="10.31" fill="#8583b0"/>
<rect x="443.62" y="255.44" width="11.55" height="10.31" fill="#8583b0"/>
<rect x="454.77" y="255.44" width="11.55" height="10.31" fill="#8583b0"/>
<rect x="465.93" y="255.44" width="11.55" height="10.31" fill="#8583b0"/>
<rect x="477.08" y="255.44" width="11.55" height="10.31" fill="#8583b0"/>
<rect x="488.23" y="255.44" width="11.55" height="10.31" fill="#ec5e64"/>
<rect x="499.39" y="255.44" width="11.55" height="10.31" fill="#8583b0"/>
<rect x="510.54" y="255.44" width="11.55" height="10.31" fill="#d0707c"/>
<rect x="521.69" y="255.44" width="11.55" height="10.31" fill="#8583b0"/>
<rect x="532.85" y="255.44" width="11.15" height="10.31" fill="#8583b0"/>
<rect x="376.7" y="265.35" width="11.55" height="10.31" fill="#8583b0"/>
<rect x="387.85" y="265.35" width="11.55" height="10.31" fill="#8583b0"/>
<rect x="399.01" y="265.35" width="11.55" height="10.31" fill="#6c89c0"/>
<rect x="410.16" y="265.35" width="11.55" height="10.31" fill="#bc7a8c"/>
<rect x="421.31" y="265.35" width="11.55" height="10.31" fill="#f44444"/>
<rect x="432.47" y="265.35" width="11.55" height="10.31" fill="#bc7a8c"/>
<rect x="443.62" y="265.35" width="11.55" height="10.31" fill="#8583b0"/>
<rect x="454.77" y="265.35" width="11.55" height="10.31" fill="#bc7a8c"/>
<rect x="465.93" y="265.35" width="11.55" height="10.31" fill="#6c89c0"/>
<rect x="477.08" y="265.35" width="11.55" height="10.31" fill="#6c89c0"/>
<rect x="488.23" y="265.35" width="11.55" height="10.31" fill="#8583b0"/>
<rect x="499.39" y="265.35" width="11.55" height="10.31" fill="#8583b0"/>
<rect x="510.54" y="265.35" width="11.55" height="10.31" fill="#bc7a8c"/>
<rect x="521.69" y="265.35" width="11.55" height="10.31" fill="#e4686e"/>
<rect x="532.85" y="265.35" width="11.15" height="10.31" fill="#8583b0"/>
<rect x="376.7" y="275.26" width="11.55" height="10.31" fill="#7886b6"/>
<rect x="387.85" y="275.26" width="11.55" height="10.31" fill="#8583b0"/>
<rect x="399.01" y="275.26" width="11.55" height="10.31" fill="#8583b0"/>
<rect x="410.16" y="275.26" width="11.55" height="10.31" fill="#f44444"/>
<rect x="421.31" y="275.26" width="11.55" height="10.31" fill="#bc7a8c"/>
<rect x="432.47" y="275.26" width="11.55" height="10.31" fill="#8583b0"/>
<rect x="443.62" y="275.26" width="11.55" height="10.31" fill="#8583b0"/>
<rect x="454.77" y="275.26" width="11.55" height="10.31" fill="#8583b0"/>
<rect x="465.93" y="275.26" width="11.55" height="10.31" fill="#e4686e"/>
<rect x="477.08" y="275.26" width="11.55" height="10.31" fill="#8583b0"/>
<rect x="488.23" y="275.26" width="11.55" height="10.31" fill="#8583b0"/>
<rect x="499.39" y="275.26" width="11.55" height="10.31" fill="#8583b0"/>
<rect x="510.54" y="275.26" width="11.55" height="10.31" fill="#8583b0"/>
<rect x="521.69" y="275.26" width="11.55" height="10.31" fill="#8583b0"/>
<rect x="532.85" y="275.26" width="11.15" height="10.31" fill="#8583b0"/>
<rect x="376.7" y="285.17" width="11.55" height="10.31" fill="#d0707c"/>
<rect x="387.85" y="285.17" width="11.55" height="10.31" fill="#4a8ed0"/>
<rect x="399.01" y="285.17" width="11.55" height="10.31" fill="#4a8ed0"/>
<rect x="410.16" y="285.17" width="11.55" height="10.31" fill="#7886b6"/>
<rect x="421.31" y="285.17" width="11.55" height="10.31" fill="#a57e9e"/>
<rect x="432.47" y="285.17" width="11.55" height="10.31" fill="#a57e9e"/>
<rect x="443.62" y="285.17" width="11.55" height="10.31" fill="#a57e9e"/>
<rect x="454.77" y="285.17" width="11.55" height="10.31" fill="#a57e9e"/>
<rect x="465.93" y="285.17" width="11.55" height="10.31" fill="#a57e9e"/>
<rect x="477.08" y="285.17" width="11.55" height="10.31" fill="#bc7a8c"/>
<rect x="488.23" y="285.17" width="11.55" height="10.31" fill="#bc7a8c"/>
<rect x="499.39" y="285.17" width="11.55" height="10.31" fill="#4a8ed0"/>
<rect x="510.54" y="285.17" width="11.55" height="10.31" fill="#6c89c0"/>
<rect x="521.69" y="285.17" width="11.55" height="10.31" fill="#d0707c"/>
<rect x="532.85" y="285.17" width="11.15" height="10.31" fill="#d0707c"/>
<rect x="376.7" y="295.08" width="11.55" height="10.31" fill="#f44444"/>
<rect x="387.85" y="295.08" width="11.55" height="10.31" fill="#e4686e"/>
<rect x="399.01" y="295.08" width="11.55" height="10.31" fill="#6c89c0"/>
<rect x="410.16" y="295.08" width="11.55" height="10.31" fill="#6c89c0"/>
<rect x="421.31" y="295.08" width="11.55" height="10.31" fill="#7886b6"/>
<rect x="432.47" y="295.08" width="11.55" height="10.31" fill="#e4686e"/>
<rect x="443.62" y="295.08" width="11.55" height="10.31" fill="#bc7a8c"/>
<rect x="454.77" y="295.08" width="11.55" height="10.31" fill="#5c8cc8"/>
<rect x="465.93" y="295.08" width="11.55" height="10.31" fill="#7886b6"/>
<rect x="477.08" y="295.08" width="11.55" height="10.31" fill="#8583b0"/>
<rect x="488.23" y="295.08" width="11.55" height="10.31" fill="#8583b0"/>
<rect x="499.39" y="295.08" width="11.55" height="10.31" fill="#8583b0"/>
<rect x="510.54" y="295.08" width="11.55" height="10.31" fill="#8583b0"/>
<rect x="521.69" y="295.08" width="11.55" height="10.31" fill="#a57e9e"/>
<rect x="532.85" y="295.08" width="11.15" height="10.31" fill="#8583b0"/>
<rect x="376.7" y="304.99" width="11.55" height="9.91" fill="#cc2229"/>
<rect x="387.85" y="304.99" width="11.55" height="9.91" fill="#a57e9e"/>
<rect x="399.01" y="304.99" width="11.55" height="9.91" fill="#bc7a8c"/>
<rect x="410.16" y="304.99" width="11.55" height="9.91" fill="#7886b6"/>
<rect x="421.31" y="304.99" width="11.55" height="9.91" fill="#7886b6"/>
<rect x="432.47" y="304.99" width="11.55" height="9.91" fill="#7886b6"/>
<rect x="443.62" y="304.99" width="11.55" height="9.91" fill="#7886b6"/>
<rect x="454.77" y="304.99" width="11.55" height="9.91" fill="#6c89c0"/>
<rect x="465.93" y="304.99" width="11.55" height="9.91" fill="#bc7a8c"/>
<rect x="477.08" y="304.99" width="11.55" height="9.91" fill="#7886b6"/>
<rect x="488.23" y="304.99" width="11.55" height="9.91" fill="#8583b0"/>
<rect x="499.39" y="304.99" width="11.55" height="9.91" fill="#7886b6"/>
<rect x="510.54" y="304.99" width="11.55" height="9.91" fill="#4a8ed0"/>
<rect x="521.69" y="304.99" width="11.55" height="9.91" fill="#8583b0"/>
<rect x="532.85" y="304.99" width="11.15" height="9.91" fill="#bc7a8c"/>
<line x1="387.85" y1="215.8" x2="387.85" y2="314.9" stroke="#a39ec2" stroke-width=".16"/>
<line x1="399.01" y1="215.8" x2="399.01" y2="314.9" stroke="#a39ec2" stroke-width=".16"/>
<line x1="410.16" y1="215.8" x2="410.16" y2="314.9" stroke="#a39ec2" stroke-width=".16"/>
<line x1="421.31" y1="215.8" x2="421.31" y2="314.9" stroke="#a39ec2" stroke-width=".16"/>
<line x1="432.47" y1="215.8" x2="432.47" y2="314.9" stroke="#a39ec2" stroke-width=".16"/>
<line x1="443.62" y1="215.8" x2="443.62" y2="314.9" stroke="#a39ec2" stroke-width=".16"/>
<line x1="454.77" y1="215.8" x2="454.77" y2="314.9" stroke="#a39ec2" stroke-width=".16"/>
<line x1="465.93" y1="215.8" x2="465.93" y2="314.9" stroke="#a39ec2" stroke-width=".16"/>
<line x1="477.08" y1="215.8" x2="477.08" y2="314.9" stroke="#a39ec2" stroke-width=".16"/>
<line x1="488.23" y1="215.8" x2="488.23" y2="314.9" stroke="#a39ec2" stroke-width=".16"/>
<line x1="499.39" y1="215.8" x2="499.39" y2="314.9" stroke="#a39ec2" stroke-width=".16"/>
<line x1="510.54" y1="215.8" x2="510.54" y2="314.9" stroke="#a39ec2" stroke-width=".16"/>
<line x1="521.69" y1="215.8" x2="521.69" y2="314.9" stroke="#a39ec2" stroke-width=".16"/>
<line x1="532.85" y1="215.8" x2="532.85" y2="314.9" stroke="#a39ec2" stroke-width=".16"/>
<line x1="376.7" y1="225.71" x2="544" y2="225.71" stroke="#a39ec2" stroke-width=".16"/>
<line x1="376.7" y1="235.62" x2="544" y2="235.62" stroke="#a39ec2" stroke-width=".16"/>
<line x1="376.7" y1="245.53" x2="544" y2="245.53" stroke="#cfcbe0" stroke-width=".35"/>
<line x1="376.7" y1="255.44" x2="544" y2="255.44" stroke="#a39ec2" stroke-width=".16"/>
<line x1="376.7" y1="265.35" x2="544" y2="265.35" stroke="#a39ec2" stroke-width=".16"/>
<line x1="376.7" y1="275.26" x2="544" y2="275.26" stroke="#cfcbe0" stroke-width=".35"/>
<line x1="376.7" y1="285.17" x2="544" y2="285.17" stroke="#cfcbe0" stroke-width=".35"/>
<line x1="376.7" y1="295.08" x2="544" y2="295.08" stroke="#a39ec2" stroke-width=".16"/>
<line x1="376.7" y1="304.99" x2="544" y2="304.99" stroke="#a39ec2" stroke-width=".16"/>
<text x="205.7" y="196.6" font-size="7">0.50</text>
<text x="204.2" y="208" font-size="7">-0.50</text>
<text x="548.7" y="201.2" font-size="7">0.50</text>
<text x="547" y="212.9" font-size="7">-0.50</text>
<text x="204.8" y="217.97" font-size="7.1" textLength="111.5" lengthAdjust="spacingAndGlyphs">nonsense-mediated decay, GO:0000184</text>
<text x="204.8" y="228.51" font-size="7.1" textLength="95.4" lengthAdjust="spacingAndGlyphs">ribosome biogenesis, GO:0042254</text>
<text x="204.8" y="239.05" font-size="7.1" textLength="116.3" lengthAdjust="spacingAndGlyphs">catalytic step 2 spliceosome, GO:0071013</text>
<text x="204.8" y="249.59" font-size="7.1" textLength="77.1" lengthAdjust="spacingAndGlyphs">cAMP binding, GO:0030552</text>
<text x="204.8" y="260.13" font-size="7.1" textLength="123.4" lengthAdjust="spacingAndGlyphs">cytoplasmic vesicle membrane, GO:0030659</text>
<text x="204.8" y="270.67" font-size="7.1" textLength="138.8" lengthAdjust="spacingAndGlyphs">positive regulation of T cell activation, GO:0050870</text>
<text x="204.8" y="278.31" font-size="7.1" textLength="124.3" lengthAdjust="spacingAndGlyphs">negative regulation of inflammatory response,</text>
<text x="204.8" y="283.31" font-size="7.1" textLength="35.3" lengthAdjust="spacingAndGlyphs">GO:0050728</text>
<text x="204.8" y="291.75" font-size="7.1" textLength="103.4" lengthAdjust="spacingAndGlyphs">histone H3 acetylation, GO:0043966</text>
<text x="204.8" y="299.39" font-size="7.1" textLength="136.5" lengthAdjust="spacingAndGlyphs">endoplasmic reticulum unfolded protein response,</text>
<text x="204.8" y="304.39" font-size="7.1" textLength="35.3" lengthAdjust="spacingAndGlyphs">GO:0030968</text>
<text x="204.8" y="312.83" font-size="7.1" textLength="130.7" lengthAdjust="spacingAndGlyphs">protein targeting to mitochondrion, GO:0006626</text>
<text x="548.2" y="220.4" font-size="7.1" textLength="105" lengthAdjust="spacingAndGlyphs">SRP-dependent cotranslational protein</text>
<text x="548.2" y="226.2" font-size="7.1" textLength="100.7" lengthAdjust="spacingAndGlyphs">targeting to membrane, GO:0006614</text>
<text x="548.2" y="233.3" font-size="7.1" textLength="115.8" lengthAdjust="spacingAndGlyphs">catalytic step 2 spliceosome, GO:0071013</text>
<text x="548.2" y="243.2" font-size="7.1" textLength="136.6" lengthAdjust="spacingAndGlyphs">eukaryotic 43S preinitiation complex, GO:0016282</text>
<text x="548.2" y="253.3" font-size="7.1" textLength="82.6" lengthAdjust="spacingAndGlyphs">mRNA cleavage, GO:0006379</text>
<text x="548.2" y="260.8" font-size="7.1" textLength="123.1" lengthAdjust="spacingAndGlyphs">negative regulation of endoplasmic reticulum</text>
<text x="548.2" y="266.1" font-size="7.1" textLength="108.4" lengthAdjust="spacingAndGlyphs">calcium ion concentration, GO:0032471</text>
<text x="548.2" y="273.5" font-size="7.1" textLength="93.9" lengthAdjust="spacingAndGlyphs">T cell differentiation, GO:0030217</text>
<text x="548.2" y="283.7" font-size="7.1" textLength="98.7" lengthAdjust="spacingAndGlyphs">Toll signaling pathway, GO:0008063</text>
<text x="548.2" y="294" font-size="7.1" textLength="85.7" lengthAdjust="spacingAndGlyphs">tRNA processing, GO:0008033</text>
<text x="548.2" y="302.2" font-size="7.1" textLength="127.1" lengthAdjust="spacingAndGlyphs">DNA-dependent DNA replication, GO:0006261</text>
<text x="548.2" y="312.8" font-size="7.1" textLength="87.4" lengthAdjust="spacingAndGlyphs">mediator complex, GO:0016592</text>
<defs><linearGradient id="hg" x1="0" y1="0" x2="0" y2="1"><stop offset="0" stop-color="#e3222a"/><stop offset="0.3" stop-color="#d8606e"/><stop offset="0.5" stop-color="#8c80ae"/><stop offset="0.75" stop-color="#5a8cc8"/><stop offset="1" stop-color="#2c9ade"/></linearGradient></defs>
<rect x="7" y="251" width="6.2" height="34.4" fill="url(#hg)"/>
<text x="7.9" y="249.7" font-size="9">3</text>
<text x="6.8" y="293.8" font-size="9">-3</text>
<text x="19" y="257.2" font-size="7" transform="rotate(-90 19 257.2)">Over-</text>
<text x="24.6" y="257.2" font-size="7" transform="rotate(-90 24.6 257.2)" textLength="44.6" lengthAdjust="spacingAndGlyphs">representation</text>
<text x="19" y="313.2" font-size="7" transform="rotate(-90 19 313.2)">Under-</text>
<text x="24.6" y="313.2" font-size="7" transform="rotate(-90 24.6 313.2)" textLength="44.6" lengthAdjust="spacingAndGlyphs">representation</text>
<rect x="354" y="253.2" width="6.2" height="32.8" fill="url(#hg)"/>
<text x="354.9" y="251.9" font-size="9">3</text>
<text x="353.8" y="294.4" font-size="9">-3</text>
<text x="366" y="259.5" font-size="7" transform="rotate(-90 366 259.5)">Over-</text>
<text x="371.8" y="259.5" font-size="7" transform="rotate(-90 371.8 259.5)" textLength="44.6" lengthAdjust="spacingAndGlyphs">representation</text>
<text x="366" y="315" font-size="7" transform="rotate(-90 366 315)">Under-</text>
<text x="371.8" y="315" font-size="7" transform="rotate(-90 371.8 315)" textLength="44.6" lengthAdjust="spacingAndGlyphs">representation</text>
<text x="3.7" y="353.8" font-size="16" textLength="9.71" lengthAdjust="spacingAndGlyphs" fill="#111" stroke="#fff" stroke-width="0.12">C</text>
<text x="20.8" y="368.8" font-size="13">Wildtype</text>
<text x="89" y="362" font-size="13">Conf.1</text>
<text x="90" y="375.6" font-size="13">mutant</text>
<rect x="27.3" y="379.6" width="38.6" height="23.6" fill="#fff" stroke="#6a6a6a" stroke-width=".75" rx="5" ry="5"/>
<rect x="90.6" y="379.6" width="39" height="23.6" fill="#fff" stroke="#6a6a6a" stroke-width=".75" rx="5" ry="5"/>
<g transform="rotate(0 36.6 386.7)">
<line x1="34.3" y1="389.3" x2="34.3" y2="398.7" stroke="#222" stroke-width=".9"/>
<line x1="38.9" y1="389.3" x2="38.9" y2="398.7" stroke="#222" stroke-width=".9"/>
<circle cx="36.6" cy="386.7" r="3.6" fill="#fff" stroke="#222" stroke-width="0.95"/>
<line x1="34.6" y1="392.3" x2="38.6" y2="392.3" stroke="#a88a45" stroke-width="1"/>
<line x1="34.6" y1="394.6" x2="38.6" y2="394.6" stroke="#80709a" stroke-width="1"/>
<line x1="34.6" y1="396.9" x2="38.6" y2="396.9" stroke="#a88a45" stroke-width="1"/>
</g>
<g transform="rotate(-24 49.9 386.8)">
<line x1="47.6" y1="389.4" x2="47.6" y2="398.8" stroke="#222" stroke-width=".9"/>
<line x1="52.2" y1="389.4" x2="52.2" y2="398.8" stroke="#222" stroke-width=".9"/>
<circle cx="49.9" cy="386.8" r="3.6" fill="#fff" stroke="#222" stroke-width="0.95"/>
<line x1="47.9" y1="392.4" x2="51.9" y2="392.4" stroke="#a88a45" stroke-width="1"/>
<line x1="47.9" y1="394.7" x2="51.9" y2="394.7" stroke="#80709a" stroke-width="1"/>
<line x1="47.9" y1="397" x2="51.9" y2="397" stroke="#a88a45" stroke-width="1"/>
</g>
<line x1="55.5" y1="396.4" x2="64.5" y2="396.4" stroke="#222" stroke-width="1.1" stroke-dasharray="1.3 0.6"/>
<g transform="rotate(0 109.7 386.7)">
<line x1="107.4" y1="389.3" x2="107.4" y2="398.7" stroke="#222" stroke-width=".9"/>
<line x1="112" y1="389.3" x2="112" y2="398.7" stroke="#222" stroke-width=".9"/>
<circle cx="109.7" cy="386.7" r="3.6" fill="#fff" stroke="#222" stroke-width="0.95"/>
<line x1="107.7" y1="392.3" x2="111.7" y2="392.3" stroke="#a88a45" stroke-width="1"/>
<line x1="107.7" y1="394.6" x2="111.7" y2="394.6" stroke="#80709a" stroke-width="1"/>
<line x1="107.7" y1="396.9" x2="111.7" y2="396.9" stroke="#a88a45" stroke-width="1"/>
</g>
<g transform="translate(-51.4 355) scale(.6)">
<rect x="151.9" y="83.4" width="24" height="18" rx="7.56" ry="7.56" fill="#ececec" stroke="#4a4a4a" stroke-width="1" transform="rotate(12 163.9 92.4)"/>
<ellipse cx="162.8" cy="92.4" rx="4.5" ry="3.25" fill="#808080" transform="rotate(-10 162.8 92.4)"/>
<rect x="141.1" y="95.45" width="21" height="15.5" rx="6.51" ry="6.51" fill="#ececec" stroke="#4a4a4a" stroke-width="1" transform="rotate(18 151.6 103.2)"/>
<ellipse cx="151.9" cy="103.8" rx="4.5" ry="2.75" fill="#808080" transform="rotate(15 151.9 103.8)"/>
<rect x="171" y="97.9" width="29" height="19" rx="7.98" ry="7.98" fill="#ececec" stroke="#4a4a4a" stroke-width="1" transform="rotate(42 185.5 107.4)"/>
<ellipse cx="181.3" cy="102.2" rx="5.25" ry="4.25" fill="#808080" transform="rotate(-20 181.3 102.2)"/>
<rect x="158.3" y="110.45" width="28" height="17.5" rx="7.35" ry="7.35" fill="#ececec" stroke="#4a4a4a" stroke-width="1" transform="rotate(42 172.3 119.2)"/>
<ellipse cx="170.9" cy="119.6" rx="5.5" ry="4" fill="#808080" transform="rotate(-15 170.9 119.6)"/>
<rect x="140.7" y="116.8" width="29" height="18" rx="7.56" ry="7.56" fill="#ececec" stroke="#4a4a4a" stroke-width="1" transform="rotate(58 155.2 125.8)"/>
<ellipse cx="152.6" cy="122.2" rx="3.25" ry="2.5" fill="#808080" transform="rotate(-20 152.6 122.2)"/>
</g>
<g transform="translate(12.1 355) scale(.6)">
<rect x="151.9" y="83.4" width="24" height="18" rx="7.56" ry="7.56" fill="#ececec" stroke="#4a4a4a" stroke-width="1" transform="rotate(12 163.9 92.4)"/>
<ellipse cx="162.8" cy="92.4" rx="4.5" ry="3.25" fill="#808080" transform="rotate(-10 162.8 92.4)"/>
<rect x="141.1" y="95.45" width="21" height="15.5" rx="6.51" ry="6.51" fill="#ececec" stroke="#4a4a4a" stroke-width="1" transform="rotate(18 151.6 103.2)"/>
<ellipse cx="151.9" cy="103.8" rx="4.5" ry="2.75" fill="#808080" transform="rotate(15 151.9 103.8)"/>
<rect x="171" y="97.9" width="29" height="19" rx="7.98" ry="7.98" fill="#ececec" stroke="#4a4a4a" stroke-width="1" transform="rotate(42 185.5 107.4)"/>
<ellipse cx="181.3" cy="102.2" rx="5.25" ry="4.25" fill="#808080" transform="rotate(-20 181.3 102.2)"/>
<rect x="158.3" y="110.45" width="28" height="17.5" rx="7.35" ry="7.35" fill="#ececec" stroke="#4a4a4a" stroke-width="1" transform="rotate(42 172.3 119.2)"/>
<ellipse cx="170.9" cy="119.6" rx="5.5" ry="4" fill="#808080" transform="rotate(-15 170.9 119.6)"/>
<rect x="140.7" y="116.8" width="29" height="18" rx="7.56" ry="7.56" fill="#ececec" stroke="#4a4a4a" stroke-width="1" transform="rotate(58 155.2 125.8)"/>
<ellipse cx="152.6" cy="122.2" rx="3.25" ry="2.5" fill="#808080" transform="rotate(-20 152.6 122.2)"/>
</g>
<line x1="46.4" y1="444.5" x2="46.4" y2="449.85" stroke="#000" stroke-width="1.1"/>
<path d="M46.4 453L44.4 448.8L46.4 450.06L48.4 448.8Z" fill="#000"/>
<line x1="109.6" y1="444.5" x2="109.6" y2="449.85" stroke="#000" stroke-width="1.1"/>
<path d="M109.6 453L107.6 448.8L109.6 450.06L111.6 448.8Z" fill="#000"/>
<text x="32.8" y="466" font-size="12.3" textLength="45.8" lengthAdjust="spacingAndGlyphs">CRISPRi</text>
<text x="87" y="466" font-size="12.3" textLength="37" lengthAdjust="spacingAndGlyphs">screen</text>
<line x1="46.4" y1="470.5" x2="46.4" y2="475.85" stroke="#000" stroke-width="1.1"/>
<path d="M46.4 479L44.4 474.8L46.4 476.06L48.4 474.8Z" fill="#000"/>
<line x1="109.6" y1="470.5" x2="109.6" y2="475.85" stroke="#000" stroke-width="1.1"/>
<path d="M109.6 479L107.6 474.8L109.6 476.06L111.6 474.8Z" fill="#000"/>
<rect x="35.2" y="482.6" width="83.5" height="39" fill="#fff" stroke="#222" stroke-width=".9"/>
<line x1="76.9" y1="482.6" x2="76.9" y2="521.6" stroke="#222" stroke-width=".8"/>
<line x1="35.2" y1="502.3" x2="118.7" y2="502.3" stroke="#222" stroke-width=".8"/>
<text x="121.4" y="496.3" font-size="13">High</text>
<text x="123.3" y="515.7" font-size="13">Low</text>
<text x="30.8" y="535" font-size="13" transform="rotate(-90 30.8 535)">Expression</text>
<text x="40.5" y="533" font-size="13">Conformation</text>
<rect x="45.8" y="484.2" width="12" height="8" rx="4" ry="4" fill="#b4661f" stroke="#6a3d12" stroke-width=".6" transform="rotate(40 51.8 488.2)"/>
<ellipse cx="51.5" cy="488" rx="1.5" ry="1.2" fill="#a79f96" transform="rotate(0 51.5 488)"/>
<rect x="58" y="487.5" width="10" height="7.4" rx="3.7" ry="3.7" fill="#b4661f" stroke="#6a3d12" stroke-width=".6" transform="rotate(10 63 491.2)"/>
<ellipse cx="62.7" cy="491" rx="1.5" ry="1.2" fill="#a79f96" transform="rotate(0 62.7 491)"/>
<rect x="52.9" y="494.6" width="10" height="7.2" rx="3.6" ry="3.6" fill="#b4661f" stroke="#6a3d12" stroke-width=".6" transform="rotate(20 57.9 498.2)"/>
<ellipse cx="57.6" cy="498" rx="1.5" ry="1.2" fill="#a79f96" transform="rotate(0 57.6 498)"/>
<rect x="96.4" y="484.8" width="11" height="7.4" rx="3.7" ry="3.7" fill="#b4661f" stroke="#6a3d12" stroke-width=".6" transform="rotate(-20 101.9 488.5)"/>
<ellipse cx="101.6" cy="488.3" rx="1.5" ry="1.2" fill="#a79f96" transform="rotate(0 101.6 488.3)"/>
<rect x="89.35" y="490.3" width="11.5" height="8" rx="4" ry="4" fill="#b4661f" stroke="#6a3d12" stroke-width=".6" transform="rotate(-20 95.1 494.3)"/>
<ellipse cx="94.8" cy="494.1" rx="1.5" ry="1.2" fill="#a79f96" transform="rotate(0 94.8 494.1)"/>
<rect x="43.95" y="508.6" width="11.5" height="8" rx="4" ry="4" fill="#0f8371" stroke="#0a4a40" stroke-width=".6" transform="rotate(30 49.7 512.6)"/>
<ellipse cx="49.4" cy="512.2" rx="1.5" ry="1.2" fill="#9aa3a0" transform="rotate(0 49.4 512.2)"/>
<rect x="52.75" y="504.1" width="9.5" height="7" rx="3.5" ry="3.5" fill="#0f8371" stroke="#0a4a40" stroke-width=".6" transform="rotate(20 57.5 507.6)"/>
<ellipse cx="57.2" cy="507.2" rx="1.5" ry="1.2" fill="#9aa3a0" transform="rotate(0 57.2 507.2)"/>
<rect x="61.45" y="510" width="12.5" height="8" rx="4" ry="4" fill="#0f8371" stroke="#0a4a40" stroke-width=".6" transform="rotate(45 67.7 514)"/>
<ellipse cx="67.4" cy="513.6" rx="1.5" ry="1.2" fill="#9aa3a0" transform="rotate(0 67.4 513.6)"/>
<rect x="84.35" y="507.6" width="10.5" height="8" rx="4" ry="4" fill="#0f8371" stroke="#0a4a40" stroke-width=".6" transform="rotate(40 89.6 511.6)"/>
<ellipse cx="89.3" cy="511.2" rx="1.5" ry="1.2" fill="#9aa3a0" transform="rotate(0 89.3 511.2)"/>
<rect x="97.75" y="503.8" width="9.5" height="7.4" rx="3.7" ry="3.7" fill="#0f8371" stroke="#0a4a40" stroke-width=".6" transform="rotate(10 102.5 507.5)"/>
<ellipse cx="102.2" cy="507.1" rx="1.5" ry="1.2" fill="#9aa3a0" transform="rotate(0 102.2 507.1)"/>
<rect x="98.3" y="512" width="12" height="8" rx="4" ry="4" fill="#0f8371" stroke="#0a4a40" stroke-width=".6" transform="rotate(60 104.3 516)"/>
<ellipse cx="104" cy="515.6" rx="1.5" ry="1.2" fill="#9aa3a0" transform="rotate(0 104 515.6)"/>
<text x="158.8" y="361.5" font-size="16" textLength="9.71" lengthAdjust="spacingAndGlyphs" fill="#111" stroke="#fff" stroke-width="0.12">D</text>
<text x="184" y="446.5" font-size="14.5" text-anchor="middle" transform="rotate(-90 184 446.5)">Conf. 1 to wild type</text>
<text x="198.3" y="446" font-size="14.5" text-anchor="middle" transform="rotate(-90 198.3 446)">expression difference, %</text>
<rect x="217.3" y="370" width="159" height="155.3" fill="#fff" stroke="#7f7f7f" stroke-width=".85"/>
<line x1="215.1" y1="525.3" x2="217.3" y2="525.3" stroke="#666" stroke-width=".6"/>
<text x="213.9" y="528.2" font-size="8.2" text-anchor="end" fill="#333">0</text>
<line x1="215.1" y1="493.3" x2="217.3" y2="493.3" stroke="#666" stroke-width=".6"/>
<text x="213.9" y="496.2" font-size="8.2" text-anchor="end" fill="#333">5</text>
<line x1="215.1" y1="461.3" x2="217.3" y2="461.3" stroke="#666" stroke-width=".6"/>
<text x="213.9" y="464.2" font-size="8.2" text-anchor="end" fill="#333">10</text>
<line x1="215.1" y1="429.4" x2="217.3" y2="429.4" stroke="#666" stroke-width=".6"/>
<text x="213.9" y="432.3" font-size="8.2" text-anchor="end" fill="#333">15</text>
<line x1="215.1" y1="397.4" x2="217.3" y2="397.4" stroke="#666" stroke-width=".6"/>
<text x="213.9" y="400.3" font-size="8.2" text-anchor="end" fill="#333">20</text>
<rect x="220.4" y="380.8" width="18.3" height="144.5" fill="#fff" stroke="#444" stroke-width="1.5"/>
<rect x="227.6" y="374.7" width="4.6" height="4.6" fill="#000"/>
<rect x="226.3" y="381.5" width="4.6" height="4.6" fill="#000"/>
<line x1="229.55" y1="525.3" x2="229.55" y2="527.5" stroke="#666" stroke-width=".6"/>
<text x="228.75" y="534.1" font-size="8.8" text-anchor="end" transform="rotate(-45 228.75 534.1)" fill="#333">Control</text>
<rect x="243.2" y="421.6" width="18.3" height="103.7" fill="#fff" stroke="#444" stroke-width="1.5"/>
<rect x="247.8" y="416.1" width="4.6" height="4.6" fill="#000"/>
<rect x="250.4" y="422.6" width="4.6" height="4.6" fill="#000"/>
<line x1="252.35" y1="525.3" x2="252.35" y2="527.5" stroke="#666" stroke-width=".6"/>
<text x="251.55" y="534.1" font-size="8.8" text-anchor="end" transform="rotate(-45 251.55 534.1)" fill="#333">SMG9</text>
<rect x="265.7" y="425.2" width="18.6" height="100.1" fill="#fff" stroke="#444" stroke-width="1.5"/>
<rect x="271.9" y="419.7" width="4.6" height="4.6" fill="#000"/>
<rect x="270.9" y="425.5" width="4.6" height="4.6" fill="#000"/>
<line x1="275" y1="525.3" x2="275" y2="527.5" stroke="#666" stroke-width=".6"/>
<text x="274.2" y="534.1" font-size="8.8" text-anchor="end" transform="rotate(-45 274.2 534.1)" fill="#333">SMG5</text>
<rect x="288.8" y="438" width="18.3" height="87.3" fill="#fff" stroke="#444" stroke-width="1.5"/>
<rect x="293.7" y="434.5" width="4.6" height="4.6" fill="#000"/>
<rect x="296" y="436.4" width="4.6" height="4.6" fill="#000"/>
<line x1="297.95" y1="525.3" x2="297.95" y2="527.5" stroke="#666" stroke-width=".6"/>
<text x="297.15" y="534.1" font-size="8.8" text-anchor="end" transform="rotate(-45 297.15 534.1)" fill="#333">UPF2</text>
<rect x="311.6" y="441.8" width="18.2" height="83.5" fill="#fff" stroke="#444" stroke-width="1.5"/>
<rect x="319.7" y="435.7" width="4.6" height="4.6" fill="#000"/>
<rect x="318.8" y="442.5" width="4.6" height="4.6" fill="#000"/>
<line x1="320.7" y1="525.3" x2="320.7" y2="527.5" stroke="#666" stroke-width=".6"/>
<text x="319.9" y="534.1" font-size="8.8" text-anchor="end" transform="rotate(-45 319.9 534.1)" fill="#333">UPF3B</text>
<rect x="334.4" y="458.2" width="18.3" height="67.1" fill="#fff" stroke="#444" stroke-width="1.5"/>
<rect x="341.6" y="447" width="4.6" height="4.6" fill="#000"/>
<rect x="340" y="464.6" width="4.6" height="4.6" fill="#000"/>
<line x1="343.55" y1="525.3" x2="343.55" y2="527.5" stroke="#666" stroke-width=".6"/>
<text x="342.75" y="534.1" font-size="8.8" text-anchor="end" transform="rotate(-45 342.75 534.1)" fill="#333">UPF1</text>
<rect x="357.2" y="464" width="18.3" height="61.3" fill="#fff" stroke="#444" stroke-width="1.5"/>
<rect x="362.4" y="454.7" width="4.6" height="4.6" fill="#000"/>
<rect x="364.4" y="467.2" width="4.6" height="4.6" fill="#000"/>
<line x1="366.35" y1="525.3" x2="366.35" y2="527.5" stroke="#666" stroke-width=".6"/>
<text x="365.55" y="534.1" font-size="8.8" text-anchor="end" transform="rotate(-45 365.55 534.1)" fill="#333">SMG8</text>
<text x="255.05" y="362.6" font-size="11" transform="rotate(-45 255.05 362.6)">P=0.012</text>
<text x="277.7" y="362.6" font-size="11" transform="rotate(-45 277.7 362.6)">P=0.010</text>
<text x="300.65" y="362.6" font-size="11" transform="rotate(-45 300.65 362.6)">P=0.003</text>
<text x="323.4" y="362.6" font-size="11" transform="rotate(-45 323.4 362.6)">P=0.006</text>
<text x="346.25" y="362.6" font-size="11" transform="rotate(-45 346.25 362.6)">P=0.015</text>
<text x="369.05" y="362.6" font-size="11" transform="rotate(-45 369.05 362.6)">P=0.007</text>
<text x="297.7" y="569" font-size="16.5" text-anchor="middle">Gene</text>
<rect x="394.9" y="370" width="97.4" height="155.3" fill="#fff" stroke="#7f7f7f" stroke-width=".85"/>
<line x1="392.7" y1="525.3" x2="394.9" y2="525.3" stroke="#666" stroke-width=".6"/>
<text x="391.5" y="528.2" font-size="8.2" text-anchor="end" fill="#333">0</text>
<line x1="392.7" y1="495.4" x2="394.9" y2="495.4" stroke="#666" stroke-width=".6"/>
<text x="391.5" y="498.3" font-size="8.2" text-anchor="end" fill="#333">5</text>
<line x1="392.7" y1="465.6" x2="394.9" y2="465.6" stroke="#666" stroke-width=".6"/>
<text x="391.5" y="468.5" font-size="8.2" text-anchor="end" fill="#333">10</text>
<line x1="392.7" y1="435.8" x2="394.9" y2="435.8" stroke="#666" stroke-width=".6"/>
<text x="391.5" y="438.7" font-size="8.2" text-anchor="end" fill="#333">15</text>
<line x1="392.7" y1="406" x2="394.9" y2="406" stroke="#666" stroke-width=".6"/>
<text x="391.5" y="408.9" font-size="8.2" text-anchor="end" fill="#333">20</text>
<line x1="392.7" y1="376.2" x2="394.9" y2="376.2" stroke="#666" stroke-width=".6"/>
<text x="391.5" y="379.1" font-size="8.2" text-anchor="end" fill="#333">25</text>
<rect x="397.7" y="389.8" width="18.9" height="135.5" fill="#fff" stroke="#444" stroke-width="1.5"/>
<rect x="406.6" y="384.3" width="4.6" height="4.6" fill="#000"/>
<rect x="404.4" y="390" width="4.6" height="4.6" fill="#000"/>
<line x1="407.15" y1="525.3" x2="407.15" y2="527.5" stroke="#666" stroke-width=".6"/>
<text x="406.35" y="534.1" font-size="8.8" text-anchor="end" transform="rotate(-45 406.35 534.1)" fill="#333">Control</text>
<rect x="421.8" y="379.3" width="18.9" height="146" fill="#fff" stroke="#444" stroke-width="1.5"/>
<rect x="428.5" y="374.6" width="4.6" height="4.6" fill="#000"/>
<rect x="429.4" y="379.5" width="4.6" height="4.6" fill="#000"/>
<line x1="431.25" y1="525.3" x2="431.25" y2="527.5" stroke="#666" stroke-width=".6"/>
<text x="430.45" y="534.1" font-size="8.8" text-anchor="end" transform="rotate(-45 430.45 534.1)" fill="#333">RBM8A</text>
<rect x="445.9" y="386.3" width="18.9" height="139" fill="#fff" stroke="#444" stroke-width="1.5"/>
<rect x="451.7" y="377.3" width="4.6" height="4.6" fill="#000"/>
<rect x="453.9" y="389.1" width="4.6" height="4.6" fill="#000"/>
<line x1="455.35" y1="525.3" x2="455.35" y2="527.5" stroke="#666" stroke-width=".6"/>
<text x="454.55" y="534.1" font-size="8.8" text-anchor="end" transform="rotate(-45 454.55 534.1)" fill="#333">CASC3</text>
<rect x="470" y="390.2" width="18.9" height="135.1" fill="#fff" stroke="#444" stroke-width="1.5"/>
<rect x="475" y="381.2" width="4.6" height="4.6" fill="#000"/>
<rect x="476.3" y="394.4" width="4.6" height="4.6" fill="#000"/>
<line x1="479.45" y1="525.3" x2="479.45" y2="527.5" stroke="#666" stroke-width=".6"/>
<text x="478.65" y="534.1" font-size="8.8" text-anchor="end" transform="rotate(-45 478.65 534.1)" fill="#333">MAGOH</text>
<text x="433.95" y="362.6" font-size="11" transform="rotate(-45 433.95 362.6)">P=0.14</text>
<text x="458.05" y="362.6" font-size="11" transform="rotate(-45 458.05 362.6)">P=0.64</text>
<text x="482.15" y="362.6" font-size="11" transform="rotate(-45 482.15 362.6)">P=0.95</text>
<text x="443.4" y="571.4" font-size="16.6" text-anchor="middle">Gene</text>
<text x="560.3" y="332.8" font-size="10.72" textLength="83.4" lengthAdjust="spacingAndGlyphs">Sequence variant</text>
<rect x="543.5" y="339.4" width="15.7" height="15.3" fill="#c9c8e4"/>
<circle cx="551.3" cy="347.2" r="2.8" fill="#5553a6"/>
<text x="564.6" y="346.3" font-size="8.6">Box 2</text>
<text x="564.6" y="353.8" font-size="8.6">mutant</text>
<rect x="603.9" y="339.4" width="15.7" height="15.3" fill="#fce0bf"/>
<circle cx="611.8" cy="347.6" r="2.8" fill="#f4992c"/>
<text x="625.2" y="346.8" font-size="8.6">Box 3</text>
<text x="625.2" y="354.4" font-size="8.6">mutant</text>
<text x="519.9" y="363.7" font-size="16" textLength="8.96" lengthAdjust="spacingAndGlyphs" fill="#111" stroke="#fff" stroke-width="0.12">E</text>
<text x="561.2" y="374.2" font-size="13.51" textLength="68.3" lengthAdjust="spacingAndGlyphs">UPF1 CLIP</text>
<rect x="543.4" y="380.8" width="104.1" height="169.8" fill="#fff"/>
<line x1="543.4" y1="543.3" x2="647.5" y2="543.3" stroke="#e9e9e9" stroke-width=".7"/>
<line x1="543.4" y1="523.8" x2="647.5" y2="523.8" stroke="#f2f2f2" stroke-width=".4"/>
<line x1="543.4" y1="504.4" x2="647.5" y2="504.4" stroke="#e9e9e9" stroke-width=".7"/>
<line x1="543.4" y1="484.9" x2="647.5" y2="484.9" stroke="#f2f2f2" stroke-width=".4"/>
<line x1="543.4" y1="465.4" x2="647.5" y2="465.4" stroke="#e9e9e9" stroke-width=".7"/>
<line x1="543.4" y1="445.9" x2="647.5" y2="445.9" stroke="#f2f2f2" stroke-width=".4"/>
<line x1="543.4" y1="426.4" x2="647.5" y2="426.4" stroke="#e9e9e9" stroke-width=".7"/>
<line x1="543.4" y1="406.9" x2="647.5" y2="406.9" stroke="#f2f2f2" stroke-width=".4"/>
<line x1="543.4" y1="387.5" x2="647.5" y2="387.5" stroke="#e9e9e9" stroke-width=".7"/>
<line x1="572.2" y1="380.8" x2="572.2" y2="550.6" stroke="#e9e9e9" stroke-width=".7"/>
<line x1="619.4" y1="380.8" x2="619.4" y2="550.6" stroke="#e9e9e9" stroke-width=".7"/>
<rect x="551.2" y="445.8" width="21" height="97.5" fill="#c9c8e4"/>
<rect x="572.2" y="449.6" width="21" height="93.7" fill="#fce0bf"/>
<rect x="598.2" y="493.2" width="21.2" height="50.1" fill="#c9c8e4"/>
<rect x="619.4" y="403.1" width="21.4" height="140.2" fill="#fce0bf"/>
<circle cx="558.3" cy="444.7" r="2.95" fill="#5553a6"/>
<circle cx="562.3" cy="447" r="2.95" fill="#5553a6"/>
<circle cx="581.7" cy="448.7" r="2.95" fill="#f4992c"/>
<circle cx="585.9" cy="450.1" r="2.95" fill="#f4992c"/>
<circle cx="607.6" cy="477.4" r="2.95" fill="#5553a6"/>
<circle cx="607.6" cy="508.7" r="2.95" fill="#5553a6"/>
<circle cx="631.5" cy="388" r="2.95" fill="#f4992c"/>
<circle cx="631.5" cy="418.5" r="2.95" fill="#f4992c"/>
<rect x="543.4" y="380.8" width="104.1" height="169.8" fill="none" stroke="#333" stroke-width="1"/>
<line x1="540.8" y1="543.3" x2="543.4" y2="543.3" stroke="#333" stroke-width=".7"/>
<text x="539" y="546.8" font-size="10" text-anchor="end" fill="#636363">0.0</text>
<line x1="540.8" y1="504.4" x2="543.4" y2="504.4" stroke="#333" stroke-width=".7"/>
<text x="539" y="507.9" font-size="10" text-anchor="end" fill="#636363">0.2</text>
<line x1="540.8" y1="465.4" x2="543.4" y2="465.4" stroke="#333" stroke-width=".7"/>
<text x="539" y="468.9" font-size="10" text-anchor="end" fill="#636363">0.4</text>
<line x1="540.8" y1="426.4" x2="543.4" y2="426.4" stroke="#333" stroke-width=".7"/>
<text x="539" y="429.9" font-size="10" text-anchor="end" fill="#636363">0.6</text>
<line x1="540.8" y1="387.5" x2="543.4" y2="387.5" stroke="#333" stroke-width=".7"/>
<text x="539" y="391" font-size="10" text-anchor="end" fill="#636363">0.8</text>
<line x1="572.2" y1="550.6" x2="572.2" y2="553.2" stroke="#333" stroke-width=".7"/>
<line x1="619.4" y1="550.6" x2="619.4" y2="553.2" stroke="#333" stroke-width=".7"/>
<text x="580.5" y="561" font-size="11" text-anchor="end" transform="rotate(-45 580.5 561)" fill="#636363">Input</text>
<text x="624" y="561" font-size="11" text-anchor="end" transform="rotate(-45 624 561)" fill="#636363">IP</text>
<text x="547.8" y="399.8" font-size="11.55" textLength="73.2" lengthAdjust="spacingAndGlyphs">logFC = −1.12</text>
<text x="547.8" y="418.2" font-size="11.34" textLength="49" lengthAdjust="spacingAndGlyphs">P &lt;2e−16</text>
<text x="520.3" y="465" font-size="11" text-anchor="middle" transform="rotate(-90 520.3 465)">Fraction of variant in population</text>
<defs><linearGradient id="vg" x1="0" y1="1" x2="0" y2="0"><stop offset="0" stop-color="#440154"/><stop offset=".1" stop-color="#482475"/><stop offset=".2" stop-color="#414487"/><stop offset=".3" stop-color="#355f8d"/><stop offset=".4" stop-color="#2a788e"/><stop offset=".5" stop-color="#21918c"/><stop offset=".6" stop-color="#22a884"/><stop offset=".7" stop-color="#44bf70"/><stop offset=".8" stop-color="#7ad151"/><stop offset=".9" stop-color="#bddf26"/><stop offset="1" stop-color="#fde725"/></linearGradient></defs>
<text x="12.9" y="606.8" font-size="16" textLength="7.43" lengthAdjust="spacingAndGlyphs" fill="#111" stroke="#fff" stroke-width="0.12">F</text>
<text x="41.6" y="615.5" font-size="10.69" textLength="112.3" lengthAdjust="spacingAndGlyphs">WT: Guide-level Counts</text>
<g fill="none" stroke-linecap="round" stroke-width="2.1">
<path stroke="#440154" d="M145.8 640h1.2M108.6 665h1.2M104.4 668.1h1.2M109.8 669.1h1.2M102.6 671.2h1.2M103.2 672.2h1.2M100.2 673.3h2.4M81.6 674.3h1.2M86.4 674.3h1.2M97.2 674.3h3.6M95.4 675.4h2.4M100.2 675.4h2.4M94.8 676.4h6M87 677.4h6M95.4 677.4h3.6M101.4 677.4h2.4M86.4 678.5h12M85.8 679.5h13.2M82.8 680.6h3.6M88.8 680.6h3.6M94.8 680.6h2.4M81 681.6h13.2M79.2 682.6h18M72.6 683.7h18M93 683.7h4.8M102.6 683.7h1.2M68.4 684.7h4.8M75.6 684.7h1.2M79.2 684.7h15.6M70.2 685.7h1.2M73.8 685.7h8.4M87 685.7h9.6M69.6 686.8h7.2M79.2 686.8h2.4M87.6 686.8h4.8M71.4 687.8h4.8M78.6 687.8h1.2M87 687.8h8.4M68.4 688.9h9.6M86.4 688.9h3.6M64.2 689.9h10.8M85.8 689.9h3.6M60 690.9h14.4M85.2 690.9h6M61.8 692h9.6M85.8 692h2.4M57.6 693h3.6M63.6 693h6M84 693h4.8M92.4 693h3.6M59.4 694.1h9.6M83.4 694.1h1.2M87 694.1h1.2M58.8 695.1h7.2M81.6 695.1h4.8M55.8 696.1h7.2M79.8 696.1h3.6M85.8 696.1h1.2M56.4 697.2h6M79.2 697.2h6M87.6 697.2h4.8M57 698.2h4.8M78.6 698.2h6M52.8 699.3h7.2M78 699.3h7.2M51 700.3h7.2M77.4 700.3h7.2M51.6 701.3h4.8M76.8 701.3h3.6M85.2 701.3h1.2M49.8 702.4h4.8M76.2 702.4h6M84.6 702.4h1.2M49.2 703.4h3.6M75.6 703.4h4.8M48.6 704.5h3.6M75 704.5h4.8M48 705.5h3.6M74.4 705.5h4.8M47.4 706.5h2.4M72.6 706.5h4.8M46.8 707.6h1.2M70.8 707.6h4.8M46.2 708.6h2.4M71.4 708.6h8.4M70.8 709.7h4.8M70.2 710.7h6M69.6 711.7h3.6M67.8 712.8h2.4M66 713.8h3.6M65.4 714.8h4.8M63.6 715.9h6M61.8 716.9h4.8M60 718h3.6M66 718h1.2M59.4 719h2.4M56.4 720h4.8"/>
<path stroke="#450c5e" d="M83.4 685.7h2.4M82.8 686.8h1.2M81 687.8h4.8M79.2 688.9h6M76.2 689.9h8.4M75.6 690.9h8.4M72.6 692h9.6M70.8 693h2.4M78 693h4.8M70.2 694.1h2.4M79.8 694.1h2.4M67.2 695.1h3.6M78 695.1h2.4M66.6 696.1h1.2M63.6 697.2h3.6M63 698.2h2.4M76.2 698.2h1.2M61.2 699.3h2.4M75.6 699.3h1.2M59.4 700.3h3.6M75 700.3h1.2M57.6 701.3h3.6M73.2 701.3h2.4M55.8 702.4h3.6M72.6 702.4h2.4M54 703.4h4.8M72 703.4h2.4M53.4 704.5h3.6M70.2 704.5h3.6M52.8 705.5h1.2M69.6 705.5h3.6M51 706.5h2.4M70.2 706.5h1.2M49.2 707.6h2.4M68.4 707.6h1.2M49.8 708.6h1.2M66.6 708.6h3.6M48 709.7h1.2M66 709.7h3.6M47.4 710.7h1.2M65.4 710.7h3.6M46.8 711.7h1.2M64.8 711.7h1.2M46.2 712.8h1.2M63 712.8h3.6M61.2 713.8h3.6M60.6 714.8h3.6M58.8 715.9h3.6M59.4 716.9h1.2M57.6 718h1.2M54.6 719h3.6M51.6 720h3.6"/>
<path stroke="#461769" d="M74.4 693h2.4M73.8 694.1h4.8M72 695.1h2.4M69 696.1h2.4M76.2 696.1h1.2M68.4 697.2h1.2M75.6 697.2h1.2M60.6 702.4h1.2M55.2 705.5h1.2M67.8 706.5h1.2M52.8 707.6h1.2M50.4 709.7h1.2M63 710.7h1.2M62.4 711.7h1.2M46.8 713.8h1.2M57 716.9h1.2M55.2 718h1.2"/>
<path stroke="#482273" d="M72.6 696.1h2.4M66 699.3h1.2"/>
<path stroke="#462c7a" d="M69 698.2h3.6"/>
<path stroke="#44367f" d="M68.4 699.3h2.4"/>
<path stroke="#424085" d="M67.8 700.3h1.2"/>
<path stroke="#3f4988" d="M67.2 701.3h1.2M64.2 702.4h1.2M46.8 720h1.2"/>
<path stroke="#375a8c" d="M64.8 703.4h1.2"/>
<path stroke="#21988a" d="M60 707.6h1.2"/>
</g>
<g fill="none" stroke-linecap="round" stroke-width="1.5">
<path stroke="#440154" d="M150 624.1v.6M131.4 639.7v.6M138 642.8v.6M123 643.9v.6M133.8 648v.6M120.6 650.1v.6M112.2 652.2v.6M105.6 653.2v.6M117 654.3v.6M131.4 654.3v.6M123.6 655.3v.6M126.6 656.4v.6M106.8 659.5v.6M112.8 661.5v.6M122.4 661.5v.6M109.8 662.6v.6M118.2 662.6v.6M103.2 663.6v.6M109.2 663.6v.6M115.2 663.6v.6M100.8 665.7v.6M103.2 665.7v.6M105.6 665.7v.6M89.4 666.7v.6M107.4 666.7v.6M109.8 666.7v.6M97.2 667.8v.6M97.8 668.8v.6M107.4 668.8v.6M91.2 669.9v.6M96 669.9v.6M105.6 669.9v.6M94.2 670.9v.6M100.2 670.9v.6M106.2 670.9v.6M114.6 670.9v.6M91.2 671.9v.6M93.6 671.9v.6M97.2 671.9v.6M100.8 671.9v.6M108 671.9v.6M94.2 673v.6M106.2 673v.6M111 673v.6M93.6 674v.6M109.2 674v.6M79.8 675.1v.6M88.2 675.1v.6M91.8 675.1v.6M112.2 675.1v.6M79.2 676.1v.6M84 676.1v.6M87.6 676.1v.6M90 676.1v.6M92.4 676.1v.6M105.6 676.1v.6M67.2 678.2v.6M100.8 678.2v.6M103.2 678.2v.6M59.4 679.2v.6M71.4 679.2v.6M77.4 679.2v.6M83.4 679.2v.6M66 680.3v.6M80.4 680.3v.6M102 680.3v.6M70.2 681.3v.6M96.6 681.3v.6M64.8 682.3v.6M69.6 682.3v.6M74.4 682.3v.6M76.8 682.3v.6M99.6 682.3v.6M102 682.3v.6M98.4 684.4v.6M60 686.5v.6M85.2 686.5v.6M102 686.5v.6M69 687.5v.6M56.4 688.6v.6M62.4 688.6v.6M92.4 688.6v.6M94.8 688.6v.6M97.2 688.6v.6M100.8 688.6v.6M55.2 690.6v.6M57.6 690.6v.6M94.8 690.6v.6M97.2 690.6v.6M83.4 691.7v.6M91.8 691.7v.6M95.4 691.7v.6M55.8 693.8v.6M55.2 694.8v.6M90 694.8v.6M94.8 694.8v.6M51 695.8v.6M65.4 695.8v.6M90.6 695.8v.6M54 696.9v.6M52.2 697.9v.6M54.6 697.9v.6M50.4 699v.6M88.2 700v.6M90 701v.6M102 701v.6M89.4 702.1v.6M86.4 703.1v.6M82.2 704.2v.6M84.6 704.2v.6M85.8 706.2v.6M78 707.3v.6M84 707.3v.6M111.6 707.3v.6M46.8 709.4v.6M79.2 709.4v.6M46.2 710.4v.6M45.6 711.4v.6M67.2 711.4v.6M73.8 712.5v.6M45.6 713.5v.6M72 713.5v.6M74.4 713.5v.6M73.8 714.5v.6M69 716.6v.6M65.4 718.7v.6"/>
<path stroke="#450c5e" d="M86.4 686.5v.6M77.4 687.5v.6M84.6 691.7v.6M64.2 695.8v.6M78.6 695.8v.6M78 696.9v.6M68.4 711.4v.6M46.2 714.5v.6M45.6 715.6v.6M45.6 717.7v.6"/>
<path stroke="#461769" d="M76.8 694.8v.6M66.6 697.9v.6M75 697.9v.6M64.8 699v.6M74.4 699v.6M73.8 700v.6M62.4 701v.6M71.4 702.1v.6M60 703.1v.6M70.8 703.1v.6M58.2 704.2v.6M68.4 705.2v.6M54.6 706.2v.6M67.2 707.3v.6M52.2 708.3v.6M65.4 708.3v.6M64.8 709.4v.6M49.8 710.4v.6M49.2 711.4v.6M61.8 712.5v.6M60 713.5v.6M59.4 714.5v.6M57.6 715.6v.6M53.4 718.7v.6M45.6 719.7v.6"/>
<path stroke="#482273" d="M75.6 694.8v.6M70.8 696.9v.6M73.2 696.9v.6M67.8 697.9v.6M73.8 697.9v.6M73.2 699v.6M64.2 700v.6M72.6 700v.6M63.6 701v.6M72 701v.6M69 704.2v.6M57.6 705.2v.6M67.2 705.2v.6M55.8 706.2v.6M66.6 706.2v.6M55.2 707.3v.6M66 707.3v.6M53.4 708.3v.6M51 710.4v.6M50.4 711.4v.6M48.6 712.5v.6M60.6 712.5v.6M47.4 714.5v.6M58.2 714.5v.6M46.8 715.6v.6M46.2 716.6v.6M55.8 716.6v.6M54 717.7v.6M52.2 718.7v.6M50.4 719.7v.6"/>
<path stroke="#462c7a" d="M72 696.9v.6M74.4 696.9v.6M72 699v.6M65.4 700v.6M71.4 700v.6M70.2 702.1v.6M61.2 703.1v.6M69.6 703.1v.6M59.4 704.2v.6M57 706.2v.6M52.8 709.4v.6M63.6 709.4v.6M52.2 710.4v.6M61.8 710.4v.6M49.8 712.5v.6M58.8 713.5v.6M56.4 715.6v.6"/>
<path stroke="#44367f" d="M66.6 700v.6M70.2 700v.6M64.8 701v.6M70.8 701v.6M63 702.1v.6M67.8 704.2v.6M58.8 705.2v.6M64.8 707.3v.6M54.6 708.3v.6M64.2 708.3v.6M61.2 711.4v.6M49.2 713.5v.6M57 714.5v.6M54.6 716.6v.6M51 718.7v.6M49.2 719.7v.6"/>
<path stroke="#424085" d="M66 701v.6M69.6 701v.6M69 702.1v.6M68.4 703.1v.6M60.6 704.2v.6M66 705.2v.6M65.4 706.2v.6M56.4 707.3v.6M54 709.4v.6M62.4 709.4v.6M51.6 711.4v.6M59.4 712.5v.6M52.8 717.7v.6"/>
<path stroke="#3f4988" d="M62.4 703.1v.6M67.2 703.1v.6M66.6 704.2v.6M60 705.2v.6M58.2 706.2v.6M60 711.4v.6M57.6 713.5v.6M48.6 714.5v.6M55.2 715.6v.6"/>
<path stroke="#3b528a" d="M67.8 702.1v.6M63.6 703.1v.6M55.8 708.3v.6M63 708.3v.6M53.4 710.4v.6M48 715.6v.6M46.2 718.7v.6"/>
<path stroke="#375a8c" d="M66.6 702.1v.6M61.8 704.2v.6M63.6 707.3v.6M60.6 710.4v.6M51 712.5v.6M47.4 716.6v.6M53.4 716.6v.6M46.8 717.7v.6M51.6 717.7v.6"/>
<path stroke="#34628d" d="M65.4 704.2v.6M64.8 705.2v.6M64.2 706.2v.6M57.6 707.3v.6M58.2 712.5v.6M55.8 714.5v.6M49.8 718.7v.6"/>
<path stroke="#306a8d" d="M63 704.2v.6M61.2 705.2v.6M59.4 706.2v.6M61.2 709.4v.6M52.8 711.4v.6M50.4 713.5v.6"/>
<path stroke="#2d728e" d="M64.2 704.2v.6M63.6 705.2v.6M55.2 709.4v.6"/>
<path stroke="#297a8e" d="M62.4 705.2v.6M63 706.2v.6M57 708.3v.6M61.8 708.3v.6M58.8 711.4v.6M54 715.6v.6"/>
<path stroke="#27818d" d="M60.6 706.2v.6M62.4 707.3v.6M56.4 713.5v.6"/>
<path stroke="#24898d" d="M58.8 707.3v.6M49.8 714.5v.6"/>
<path stroke="#21918c" d="M61.8 706.2v.6M60 709.4v.6M54.6 710.4v.6M59.4 710.4v.6M52.2 712.5v.6M52.2 716.6v.6M47.4 718.7v.6"/>
<path stroke="#21988a" d="M48.6 718.7v.6"/>
<path stroke="#229f87" d="M58.2 708.3v.6M60.6 708.3v.6M56.4 709.4v.6M57 712.5v.6M50.4 717.7v.6"/>
<path stroke="#22a784" d="M54.6 714.5v.6M49.2 715.6v.6"/>
<path stroke="#2aae7f" d="M54 711.4v.6M48.6 716.6v.6"/>
<path stroke="#35b579" d="M59.4 708.3v.6M57.6 711.4v.6"/>
<path stroke="#40bc72" d="M58.8 709.4v.6M58.2 710.4v.6M51.6 713.5v.6M48 717.7v.6"/>
<path stroke="#4ec26a" d="M57.6 709.4v.6M55.8 710.4v.6M55.2 713.5v.6"/>
<path stroke="#5fc860" d="M52.8 715.6v.6M49.2 717.7v.6"/>
<path stroke="#70ce57" d="M57 710.4v.6M53.4 712.5v.6"/>
<path stroke="#82d34c" d="M56.4 711.4v.6M55.8 712.5v.6M51 714.5v.6"/>
<path stroke="#97d73e" d="M55.2 711.4v.6M51 716.6v.6"/>
<path stroke="#c1e026" d="M53.4 714.5v.6"/>
<path stroke="#d5e226" d="M54.6 712.5v.6M54 713.5v.6M50.4 715.6v.6M49.8 716.6v.6"/>
<path stroke="#e9e425" d="M52.8 713.5v.6M51.6 715.6v.6"/>
<path stroke="#fde725" d="M52.2 714.5v.6"/>
</g>
<rect x="40.8" y="618.2" width="114" height="105.4" fill="none" stroke="#9a9a9a" stroke-width=".8"/>
<line x1="45.9" y1="723.6" x2="45.9" y2="725.8" stroke="#9a9a9a" stroke-width=".6"/>
<text x="48.9" y="729.2" font-size="6.5" text-anchor="end" transform="rotate(-45 48.9 729.2)" fill="#151515">0</text>
<line x1="61.42" y1="723.6" x2="61.42" y2="725.8" stroke="#9a9a9a" stroke-width=".6"/>
<text x="64.42" y="729.2" font-size="6.5" text-anchor="end" transform="rotate(-45 64.42 729.2)" fill="#151515">1000</text>
<line x1="76.94" y1="723.6" x2="76.94" y2="725.8" stroke="#9a9a9a" stroke-width=".6"/>
<text x="79.94" y="729.2" font-size="6.5" text-anchor="end" transform="rotate(-45 79.94 729.2)" fill="#151515">2000</text>
<line x1="92.46" y1="723.6" x2="92.46" y2="725.8" stroke="#9a9a9a" stroke-width=".6"/>
<text x="95.46" y="729.2" font-size="6.5" text-anchor="end" transform="rotate(-45 95.46 729.2)" fill="#151515">3000</text>
<line x1="107.98" y1="723.6" x2="107.98" y2="725.8" stroke="#9a9a9a" stroke-width=".6"/>
<text x="110.98" y="729.2" font-size="6.5" text-anchor="end" transform="rotate(-45 110.98 729.2)" fill="#151515">4000</text>
<line x1="123.5" y1="723.6" x2="123.5" y2="725.8" stroke="#9a9a9a" stroke-width=".6"/>
<text x="126.5" y="729.2" font-size="6.5" text-anchor="end" transform="rotate(-45 126.5 729.2)" fill="#151515">5000</text>
<line x1="139.02" y1="723.6" x2="139.02" y2="725.8" stroke="#9a9a9a" stroke-width=".6"/>
<text x="142.02" y="729.2" font-size="6.5" text-anchor="end" transform="rotate(-45 142.02 729.2)" fill="#151515">6000</text>
<line x1="154.54" y1="723.6" x2="154.54" y2="725.8" stroke="#9a9a9a" stroke-width=".6"/>
<text x="157.54" y="729.2" font-size="6.5" text-anchor="end" transform="rotate(-45 157.54 729.2)" fill="#151515">7000</text>
<line x1="38.6" y1="720.4" x2="40.8" y2="720.4" stroke="#9a9a9a" stroke-width=".6"/>
<text x="37.4" y="722.8" font-size="6.5" text-anchor="end" fill="#151515">0</text>
<line x1="38.6" y1="707.67" x2="40.8" y2="707.67" stroke="#9a9a9a" stroke-width=".6"/>
<text x="37.4" y="710.07" font-size="6.5" text-anchor="end" fill="#151515">1000</text>
<line x1="38.6" y1="694.94" x2="40.8" y2="694.94" stroke="#9a9a9a" stroke-width=".6"/>
<text x="37.4" y="697.34" font-size="6.5" text-anchor="end" fill="#151515">2000</text>
<line x1="38.6" y1="682.21" x2="40.8" y2="682.21" stroke="#9a9a9a" stroke-width=".6"/>
<text x="37.4" y="684.61" font-size="6.5" text-anchor="end" fill="#151515">3000</text>
<line x1="38.6" y1="669.48" x2="40.8" y2="669.48" stroke="#9a9a9a" stroke-width=".6"/>
<text x="37.4" y="671.88" font-size="6.5" text-anchor="end" fill="#151515">4000</text>
<line x1="38.6" y1="656.75" x2="40.8" y2="656.75" stroke="#9a9a9a" stroke-width=".6"/>
<text x="37.4" y="659.15" font-size="6.5" text-anchor="end" fill="#151515">5000</text>
<line x1="38.6" y1="644.02" x2="40.8" y2="644.02" stroke="#9a9a9a" stroke-width=".6"/>
<text x="37.4" y="646.42" font-size="6.5" text-anchor="end" fill="#151515">6000</text>
<line x1="38.6" y1="631.29" x2="40.8" y2="631.29" stroke="#9a9a9a" stroke-width=".6"/>
<text x="37.4" y="633.69" font-size="6.5" text-anchor="end" fill="#151515">7000</text>
<line x1="38.6" y1="618.56" x2="40.8" y2="618.56" stroke="#9a9a9a" stroke-width=".6"/>
<text x="37.4" y="620.96" font-size="6.5" text-anchor="end" fill="#151515">8000</text>
<text x="49.9" y="633" font-size="10.05" textLength="77.1" lengthAdjust="spacingAndGlyphs">Correlation 0.907</text>
<text x="16" y="667.7" font-size="10.5" text-anchor="middle" transform="rotate(-90 16 667.7)">Replicate 2</text>
<text x="74.9" y="749" font-size="10.53" textLength="52.7" lengthAdjust="spacingAndGlyphs">Replicate 1</text>
<rect x="161.6" y="618.2" width="6.6" height="105.4" fill="url(#vg)" stroke="#3a3a3a" stroke-width=".35"/>
<line x1="168.2" y1="627.3" x2="170" y2="627.3" stroke="#9a9a9a" stroke-width=".6"/>
<text x="171" y="629.6" font-size="6.5" fill="#151515">5000</text>
<line x1="168.2" y1="646.3" x2="170" y2="646.3" stroke="#9a9a9a" stroke-width=".6"/>
<text x="171" y="648.6" font-size="6.5" fill="#151515">4000</text>
<line x1="168.2" y1="665.4" x2="170" y2="665.4" stroke="#9a9a9a" stroke-width=".6"/>
<text x="171" y="667.7" font-size="6.5" fill="#151515">3000</text>
<line x1="168.2" y1="684.6" x2="170" y2="684.6" stroke="#9a9a9a" stroke-width=".6"/>
<text x="171" y="686.9" font-size="6.5" fill="#151515">2000</text>
<line x1="168.2" y1="703.7" x2="170" y2="703.7" stroke="#9a9a9a" stroke-width=".6"/>
<text x="171" y="706" font-size="6.5" fill="#151515">1000</text>
<text x="233.5" y="615.5" font-size="10.73" textLength="128.2" lengthAdjust="spacingAndGlyphs">77-GA: Guide-level Counts</text>
<g fill="none" stroke-linecap="round" stroke-width="2.01">
<path stroke="#440154" d="M282 670.2h4.6M281.4 671.2h1.1M289.5 671.2h1.1M282 672.2h2.3M283.7 673.2h1.1M276.2 674.2h2.3M265.3 675.2h1.1M271.1 675.2h2.3M275.7 675.2h4.6M267.1 676.2h2.3M273.9 676.2h4.6M282 676.2h1.1M268.8 677.2h8M263.6 678.2h1.1M270.5 678.2h10.3M259.6 679.2h3.4M267.6 679.2h8M278 679.2h2.3M259 680.1h4.6M265.9 680.1h11.5M257.3 681.1h5.8M265.3 681.1h10.3M260.1 682.1h16.1M256.1 683.1h18.4M250.9 684.1h4.6M260.1 684.1h11.5M258.4 685.1h17.2M254.4 686.1h9.2M268.2 686.1h2.3M272.8 686.1h2.3M245.8 687.1h1.1M250.4 687.1h11.5M266.5 687.1h5.8M275.7 687.1h1.1M250.9 688.1h8M267.1 688.1h4.6M249.2 689.1h8M266.5 689.1h5.8M275.7 689.1h1.1M242.9 690.1h2.3M249.8 690.1h6.9M264.8 690.1h5.8M273.9 690.1h1.1M279.7 690.1h1.1M243.5 691.1h11.5M264.2 691.1h5.8M245.2 692.1h1.1M248.7 692.1h4.6M263.6 692.1h8M246.9 693.1h4.6M264.2 693.1h3.4M241.8 694.1h8M263.6 694.1h3.4M241.2 695.1h5.8M261.9 695.1h4.6M239.4 696.1h4.6M262.4 696.1h6.9M236.6 697.1h9.2M260.7 697.1h1.1M264.2 697.1h2.3M238.3 698.1h5.8M259 698.1h10.3M236.6 699.1h5.8M258.4 699.1h5.8M236 700.1h3.4M256.7 700.1h6.9M232 701.1h6.9M256.1 701.1h8M231.4 702.1h5.8M256.7 702.1h5.8M230.8 703.1h5.8M256.1 703.1h5.8M230.2 704h4.6M255.6 704h4.6M230.8 705h3.4M253.8 705h4.6M230.2 706h2.3M253.2 706h4.6M260.1 706h1.1M229.7 707h2.3M252.7 707h5.8M229.1 708h2.3M252.1 708h4.6M250.4 709h5.8M249.8 710h6.9M249.2 711h3.4M248.7 712h4.6M246.9 713h3.4M246.3 714h4.6M243.5 715h5.8M242.9 716h3.4M241.2 717h4.6M240.6 718h4.6M237.7 719h5.8"/>
<path stroke="#450c5e" d="M263 687.1h2.3M260.1 688.1h2.3M264.8 688.1h1.1M258.4 689.1h6.9M257.9 690.1h5.8M256.1 691.1h6.9M254.4 692.1h2.3M260.1 692.1h2.3M252.7 693.1h1.1M259.6 693.1h3.4M250.9 694.1h2.3M260.1 694.1h2.3M248.1 695.1h3.4M258.4 695.1h2.3M247.5 696.1h2.3M259 696.1h2.3M246.9 697.1h1.1M257.3 697.1h2.3M245.2 698.1h1.1M256.7 698.1h1.1M243.5 699.1h2.3M256.1 699.1h1.1M240.6 700.1h3.4M240 701.1h2.3M238.3 702.1h3.4M253.2 702.1h2.3M237.7 703.1h2.3M252.7 703.1h2.3M236 704h2.3M252.1 704h2.3M235.4 705h2.3M250.4 705h2.3M233.7 706h2.3M249.8 706h2.3M233.1 707h2.3M249.2 707h2.3M232.6 708h1.1M248.7 708h2.3M230.8 709h1.1M246.9 709h2.3M230.2 710h1.1M247.5 710h1.1M229.7 711h1.1M245.8 711h2.3M243.5 713h2.3M242.9 714h2.3M240.6 716h1.1M238.9 717h1.1M236 718h3.4M233.1 719h3.4"/>
<path stroke="#461769" d="M257.9 692.1h1.1M255 693.1h3.4M254.4 694.1h4.6M252.7 695.1h1.1M250.9 696.1h1.1M256.7 696.1h1.1M249.2 697.1h1.1M247.5 698.1h1.1M234.8 708h1.1M246.3 708h1.1M233.1 709h1.1M232.6 710h1.1M245.2 710h1.1M242.9 712h1.1M240.6 714h1.1M240 715h1.1M238.3 716h1.1M236.6 717h1.1"/>
<path stroke="#482273" d="M255 695.1h1.1M253.2 696.1h2.3M233.7 718h1.1"/>
<path stroke="#462c7a" d="M252.7 697.1h1.1M250.9 698.1h2.3"/>
<path stroke="#44367f" d="M251.5 699.1h1.1"/>
<path stroke="#3f4988" d="M248.1 701.1h1.1"/>
<path stroke="#375a8c" d="M247.5 702.1h1.1"/>
<path stroke="#34628d" d="M245.8 703.1h1.1"/>
<path stroke="#2aae7f" d="M240.6 708h1.1"/>
<path stroke="#acdc31" d="M233.1 715h1.1"/>
</g>
<g fill="none" stroke-linecap="round" stroke-width="1.44">
<path stroke="#440154" d="M333.8 622.2v.3M328 626.2v.3M317.6 636.2v.3M307.9 639.2v.3M326.3 639.2v.3M318.8 646.1v.3M306.1 648.1v.3M309 651.1v.3M315.4 652.1v.3M311.3 653.1v.3M291.8 657.1v.3M294.6 658.1v.3M299.8 659.1v.3M282 660.1v.3M288.9 660.1v.3M290.6 661.1v.3M296.4 661.1v.3M282 662.1v.3M292.4 662.1v.3M286 663.1v.3M301 663.1v.3M291.2 664.1v.3M296.9 664.1v.3M307.3 664.1v.3M283.7 665.1v.3M289.5 665.1v.3M294.1 665.1v.3M264.2 667.1v.3M288.3 667.1v.3M241.8 668v.3M280.9 668v.3M285.4 668v.3M291.2 668v.3M273.4 669v.3M278 669v.3M280.3 669v.3M273.4 671v.3M278 671v.3M284.9 671v.3M287.2 671v.3M277.4 672v.3M268.8 673v.3M275.7 673v.3M278 673v.3M281.4 673v.3M287.2 673v.3M270.5 674v.3M273.9 674v.3M284.3 674v.3M282.6 675v.3M262.4 676v.3M271.6 676v.3M265.3 677v.3M284.9 677v.3M267.1 678v.3M265.3 679v.3M298.7 679v.3M279.7 680v.3M255 681v.3M278 681v.3M280.3 681v.3M289.5 681v.3M255.6 682v.3M257.9 682v.3M279.1 683v.3M257.9 684v.3M273.9 684v.3M276.2 684v.3M278.6 684v.3M280.9 684v.3M248.1 685v.3M253.8 685v.3M256.1 685v.3M278 685v.3M280.3 685v.3M250.9 686v.3M265.9 686v.3M278.6 686v.3M289.5 687v.3M247.5 688v.3M263.6 688v.3M273.9 688v.3M277.4 688v.3M281.4 689v.3M247.5 690v.3M272.2 691v.3M274.5 691v.3M276.8 691v.3M239.4 691.9v.3M273.9 691.9v.3M277.4 691.9v.3M244.6 692.9v.3M269.9 692.9v.3M276.8 692.9v.3M271.6 693.9v.3M273.9 693.9v.3M238.9 694.9v.3M268.8 694.9v.3M272.2 694.9v.3M236 695.9v.3M246.3 695.9v.3M272.2 696.9v.3M233.1 698.9v.3M265.9 699.9v.3M267.6 700.9v.3M265.9 701.9v.3M282 701.9v.3M265.3 702.9v.3M260.7 704.9v.3M267.1 705.9v.3M284.9 706.9v.3M260.1 707.9v.3M229.7 708.9v.3M229.1 709.9v.3M255 710.9v.3M260.7 710.9v.3M229.1 711.9v.3M246.3 711.9v.3M255 712.9v.3M229.1 713.9v.3M251.5 714.9v.3M248.7 715.9v.3M283.7 718.8v.3"/>
<path stroke="#450c5e" d="M264.8 686v.3M267.1 686v.3M245.2 695.9v.3M255.6 699.9v.3M255 700.9v.3M230.2 711.9v.3M245.2 711.9v.3M247.5 711.9v.3M229.7 712.9v.3M242.3 714.9v.3M229.1 715.9v.3"/>
<path stroke="#461769" d="M257.3 694.9v.3M256.1 696.9v.3M255.6 697.9v.3M246.9 698.9v.3M255 698.9v.3M245.2 699.9v.3M254.4 699.9v.3M243.5 700.9v.3M253.8 700.9v.3M242.9 701.9v.3M252.1 701.9v.3M241.2 702.9v.3M251.5 702.9v.3M239.4 703.9v.3M250.9 703.9v.3M238.9 704.9v.3M237.2 705.9v.3M248.7 705.9v.3M236.6 706.9v.3M248.1 706.9v.3M232 710.9v.3M244.6 710.9v.3M231.4 711.9v.3M230.8 712.9v.3M242.3 712.9v.3M230.2 713.9v.3M229.7 714.9v.3M229.1 717.8v.3M229.7 718.8v.3M232 718.8v.3"/>
<path stroke="#482273" d="M251.5 696.9v.3M255 696.9v.3M249.8 697.9v.3M254.4 697.9v.3M248.1 698.9v.3M253.8 698.9v.3M246.3 699.9v.3M253.2 699.9v.3M244.6 700.9v.3M252.7 700.9v.3M242.3 702.9v.3M240.6 703.9v.3M249.8 703.9v.3M240 704.9v.3M249.2 704.9v.3M238.3 705.9v.3M246.9 706.9v.3M235.4 708.9v.3M245.8 708.9v.3M233.1 710.9v.3M243.5 710.9v.3M232.6 711.9v.3M241.8 711.9v.3M241.2 712.9v.3M238.9 714.9v.3M237.2 715.9v.3M230.8 718.8v.3"/>
<path stroke="#462c7a" d="M249.2 698.9v.3M247.5 699.9v.3M252.1 699.9v.3M245.8 700.9v.3M244.1 701.9v.3M250.9 701.9v.3M243.5 702.9v.3M250.4 702.9v.3M241.8 703.9v.3M239.4 705.9v.3M247.5 705.9v.3M237.7 706.9v.3M244.6 708.9v.3M244.1 709.9v.3M239.4 713.9v.3M235.4 716.8v.3"/>
<path stroke="#44367f" d="M248.7 699.9v.3M251.5 700.9v.3M248.1 704.9v.3M237.2 707.9v.3M245.2 707.9v.3M234.8 709.9v.3M242.3 710.9v.3M232 712.9v.3M240 712.9v.3M231.4 713.9v.3M237.7 714.9v.3"/>
<path stroke="#424085" d="M250.4 698.9v.3M250.9 699.9v.3M246.9 700.9v.3M250.4 700.9v.3M245.2 701.9v.3M249.8 701.9v.3M249.2 702.9v.3M248.7 703.9v.3M241.2 704.9v.3M246.3 705.9v.3M238.9 706.9v.3M245.8 706.9v.3M242.9 709.9v.3M234.3 710.9v.3M230.8 714.9v.3M236 715.9v.3"/>
<path stroke="#3f4988" d="M249.8 699.9v.3M242.9 703.9v.3M236.6 708.9v.3M243.5 708.9v.3M233.7 711.9v.3M240.6 711.9v.3M230.2 715.9v.3M229.7 716.8v.3"/>
<path stroke="#3b528a" d="M246.3 701.9v.3M244.6 702.9v.3M248.1 702.9v.3M246.9 704.9v.3M240.6 705.9v.3M236 709.9v.3M238.3 713.9v.3M234.3 716.8v.3M232.6 717.8v.3"/>
<path stroke="#375a8c" d="M247.5 703.9v.3M242.3 704.9v.3M238.3 707.9v.3M244.1 707.9v.3M241.2 710.9v.3"/>
<path stroke="#34628d" d="M244.1 703.9v.3M244.6 706.9v.3M238.9 712.9v.3M236.6 714.9v.3"/>
<path stroke="#306a8d" d="M246.3 703.9v.3M245.2 705.9v.3M233.1 712.9v.3M230.2 717.8v.3"/>
<path stroke="#2d728e" d="M245.2 703.9v.3M245.8 704.9v.3M241.8 705.9v.3M240 706.9v.3M237.7 708.9v.3"/>
<path stroke="#297a8e" d="M243.5 704.9v.3M241.8 709.9v.3M235.4 710.9v.3M239.4 711.9v.3M234.8 715.9v.3M231.4 717.8v.3"/>
<path stroke="#27818d" d="M244.6 704.9v.3M232.6 713.9v.3"/>
<path stroke="#24898d" d="M242.9 705.9v.3M239.4 707.9v.3M242.9 707.9v.3M242.3 708.9v.3M237.2 713.9v.3M233.1 716.8v.3"/>
<path stroke="#21918c" d="M244.1 705.9v.3M241.2 706.9v.3M243.5 706.9v.3M232 714.9v.3"/>
<path stroke="#21988a" d="M237.2 709.9v.3M240 710.9v.3M234.8 711.9v.3"/>
<path stroke="#229f87" d="M242.3 706.9v.3M235.4 714.9v.3M231.4 715.9v.3M230.8 716.8v.3"/>
<path stroke="#22a784" d="M240.6 709.9v.3M237.7 712.9v.3"/>
<path stroke="#2aae7f" d="M238.9 708.9v.3M234.3 712.9v.3"/>
<path stroke="#35b579" d="M241.2 708.9v.3M232 716.8v.3"/>
<path stroke="#40bc72" d="M240 708.9v.3M236.6 710.9v.3M238.3 711.9v.3M233.7 715.9v.3"/>
<path stroke="#4ec26a" d="M238.3 709.9v.3"/>
<path stroke="#70ce57" d="M239.4 709.9v.3M238.9 710.9v.3"/>
<path stroke="#82d34c" d="M233.7 713.9v.3M236 713.9v.3"/>
<path stroke="#97d73e" d="M237.7 710.9v.3M236 711.9v.3M232.6 715.9v.3"/>
<path stroke="#acdc31" d="M236.6 712.9v.3"/>
<path stroke="#c1e026" d="M237.2 711.9v.3"/>
<path stroke="#d5e226" d="M235.4 712.9v.3"/>
<path stroke="#fde725" d="M234.8 713.9v.3"/>
</g>
<rect x="224.5" y="618.4" width="114" height="105.1" fill="none" stroke="#9a9a9a" stroke-width=".8"/>
<line x1="229.3" y1="723.5" x2="229.3" y2="725.7" stroke="#9a9a9a" stroke-width=".6"/>
<text x="232.3" y="729.1" font-size="6.5" text-anchor="end" transform="rotate(-45 232.3 729.1)" fill="#151515">0</text>
<line x1="244.3" y1="723.5" x2="244.3" y2="725.7" stroke="#9a9a9a" stroke-width=".6"/>
<text x="247.3" y="729.1" font-size="6.5" text-anchor="end" transform="rotate(-45 247.3 729.1)" fill="#151515">1000</text>
<line x1="259.3" y1="723.5" x2="259.3" y2="725.7" stroke="#9a9a9a" stroke-width=".6"/>
<text x="262.3" y="729.1" font-size="6.5" text-anchor="end" transform="rotate(-45 262.3 729.1)" fill="#151515">2000</text>
<line x1="274.3" y1="723.5" x2="274.3" y2="725.7" stroke="#9a9a9a" stroke-width=".6"/>
<text x="277.3" y="729.1" font-size="6.5" text-anchor="end" transform="rotate(-45 277.3 729.1)" fill="#151515">3000</text>
<line x1="289.3" y1="723.5" x2="289.3" y2="725.7" stroke="#9a9a9a" stroke-width=".6"/>
<text x="292.3" y="729.1" font-size="6.5" text-anchor="end" transform="rotate(-45 292.3 729.1)" fill="#151515">4000</text>
<line x1="304.3" y1="723.5" x2="304.3" y2="725.7" stroke="#9a9a9a" stroke-width=".6"/>
<text x="307.3" y="729.1" font-size="6.5" text-anchor="end" transform="rotate(-45 307.3 729.1)" fill="#151515">5000</text>
<line x1="319.3" y1="723.5" x2="319.3" y2="725.7" stroke="#9a9a9a" stroke-width=".6"/>
<text x="322.3" y="729.1" font-size="6.5" text-anchor="end" transform="rotate(-45 322.3 729.1)" fill="#151515">6000</text>
<line x1="334.3" y1="723.5" x2="334.3" y2="725.7" stroke="#9a9a9a" stroke-width=".6"/>
<text x="337.3" y="729.1" font-size="6.5" text-anchor="end" transform="rotate(-45 337.3 729.1)" fill="#151515">7000</text>
<line x1="222.3" y1="718.9" x2="224.5" y2="718.9" stroke="#9a9a9a" stroke-width=".6"/>
<text x="221.1" y="721.3" font-size="6.5" text-anchor="end" fill="#151515">0</text>
<line x1="222.3" y1="705.87" x2="224.5" y2="705.87" stroke="#9a9a9a" stroke-width=".6"/>
<text x="221.1" y="708.27" font-size="6.5" text-anchor="end" fill="#151515">1000</text>
<line x1="222.3" y1="692.84" x2="224.5" y2="692.84" stroke="#9a9a9a" stroke-width=".6"/>
<text x="221.1" y="695.24" font-size="6.5" text-anchor="end" fill="#151515">2000</text>
<line x1="222.3" y1="679.81" x2="224.5" y2="679.81" stroke="#9a9a9a" stroke-width=".6"/>
<text x="221.1" y="682.21" font-size="6.5" text-anchor="end" fill="#151515">3000</text>
<line x1="222.3" y1="666.78" x2="224.5" y2="666.78" stroke="#9a9a9a" stroke-width=".6"/>
<text x="221.1" y="669.18" font-size="6.5" text-anchor="end" fill="#151515">4000</text>
<line x1="222.3" y1="653.75" x2="224.5" y2="653.75" stroke="#9a9a9a" stroke-width=".6"/>
<text x="221.1" y="656.15" font-size="6.5" text-anchor="end" fill="#151515">5000</text>
<line x1="222.3" y1="640.72" x2="224.5" y2="640.72" stroke="#9a9a9a" stroke-width=".6"/>
<text x="221.1" y="643.12" font-size="6.5" text-anchor="end" fill="#151515">6000</text>
<line x1="222.3" y1="627.69" x2="224.5" y2="627.69" stroke="#9a9a9a" stroke-width=".6"/>
<text x="221.1" y="630.09" font-size="6.5" text-anchor="end" fill="#151515">7000</text>
<text x="232.7" y="630.2" font-size="9.95" textLength="76.3" lengthAdjust="spacingAndGlyphs">Correlation 0.902</text>
<text x="200.3" y="667.7" font-size="10.5" text-anchor="middle" transform="rotate(-90 200.3 667.7)">Replicate 2</text>
<text x="263.2" y="749" font-size="10.53" textLength="52.7" lengthAdjust="spacingAndGlyphs">Replicate 1</text>
<rect x="345.5" y="618.4" width="5.7" height="105.1" fill="url(#vg)" stroke="#3a3a3a" stroke-width=".35"/>
<line x1="351.2" y1="637.2" x2="353" y2="637.2" stroke="#9a9a9a" stroke-width=".6"/>
<text x="354" y="639.5" font-size="6.5" fill="#151515">2000</text>
<line x1="351.2" y1="658.8" x2="353" y2="658.8" stroke="#9a9a9a" stroke-width=".6"/>
<text x="354" y="661.1" font-size="6.5" fill="#151515">1500</text>
<line x1="351.2" y1="680.2" x2="353" y2="680.2" stroke="#9a9a9a" stroke-width=".6"/>
<text x="354" y="682.5" font-size="6.5" fill="#151515">1000</text>
<line x1="351.2" y1="701.5" x2="353" y2="701.5" stroke="#9a9a9a" stroke-width=".6"/>
<text x="354" y="703.8" font-size="6.5" fill="#151515">500</text>
<text x="12.3" y="761.6" font-size="16" textLength="10.2" lengthAdjust="spacingAndGlyphs" fill="#111" stroke="#fff" stroke-width="0.12">G</text>
<text x="41" y="770.3" font-size="10.8" textLength="111" lengthAdjust="spacingAndGlyphs">WT: Gene-level Counts</text>
<g fill="none" stroke-linecap="round" stroke-width="2.1">
<path stroke="#440154" d="M114.7 812.2h1.2M112.3 814.3h2.4M103.9 816.3h1.2M112.3 816.3h4.8M108.1 817.4h2.4M111.7 819.5h2.4M116.5 819.5h1.2M107.5 820.5h1.2M103.3 821.5h2.4M111.7 821.5h1.2M96.7 822.6h3.6M102.7 822.6h2.4M107.5 822.6h1.2M97.3 823.6h1.2M102.1 823.6h4.8M97.9 824.7h7.2M98.5 825.7h8.4M93.1 826.7h2.4M97.9 826.7h10.8M96.1 827.8h7.2M106.9 827.8h1.2M97.9 828.8h6M86.5 829.9h1.2M90.1 829.9h3.6M96.1 829.9h6M104.5 829.9h1.2M82.3 830.9h2.4M90.7 830.9h1.2M94.3 830.9h7.2M86.5 831.9h6M96.1 831.9h6M82.3 833h2.4M87.1 833h15.6M84.1 834h4.8M93.7 834h6M77.5 835.1h1.2M83.5 835.1h2.4M94.3 835.1h4.8M82.9 836.1h3.6M93.7 836.1h2.4M76.3 837.1h1.2M79.9 837.1h3.6M93.1 837.1h2.4M75.7 838.2h7.2M91.3 838.2h3.6M72.7 839.2h7.2M89.5 839.2h6M97.9 839.2h1.2M72.1 840.2h6M91.3 840.2h3.6M66.7 841.3h2.4M71.5 841.3h4.8M91.9 841.3h2.4M69.7 842.3h4.8M87.7 842.3h2.4M96.1 842.3h1.2M66.7 843.4h4.8M88.3 843.4h3.6M64.9 844.4h7.2M87.7 844.4h1.2M66.7 845.4h4.8M87.1 845.4h1.2M91.9 845.4h1.2M66.1 846.5h2.4M84.1 846.5h4.8M63.1 847.5h3.6M84.7 847.5h3.6M61.3 848.6h4.8M82.9 848.6h4.8M60.7 849.6h2.4M81.1 849.6h3.6M60.1 850.6h2.4M80.5 850.6h2.4M85.3 850.6h1.2M59.5 851.7h2.4M81.1 851.7h3.6M56.5 852.7h3.6M79.3 852.7h1.2M82.9 852.7h1.2M55.9 853.8h2.4M77.5 853.8h2.4M55.3 854.8h1.2M76.9 854.8h6M54.7 855.8h2.4M76.3 855.8h2.4M54.1 856.9h1.2M75.7 856.9h3.6M53.5 857.9h1.2M73.9 857.9h3.6M51.7 859h2.4M73.3 859h1.2M48.7 860h4.8M72.7 860h1.2M50.5 861h2.4M69.7 861h4.8M49.9 862.1h1.2M69.1 862.1h1.2M48.1 863.1h2.4M67.3 863.1h4.8M47.5 864.2h2.4M65.5 864.2h4.8M45.7 865.2h3.6M64.9 865.2h1.2M46.3 866.2h2.4M61.9 866.2h3.6M60.1 867.3h1.2M57.1 868.3h3.6M54.1 869.3h2.4M45.1 870.4h1.2M53.5 870.4h3.6M49.3 871.4h3.6M45.1 872.5h6M51.7 873.5h1.2"/>
<path stroke="#450c5e" d="M93.7 831.9h1.2M89.5 835.1h3.6M87.7 836.1h4.8M84.7 837.1h7.2M84.1 838.2h2.4M88.9 838.2h1.2M81.1 839.2h3.6M79.3 840.2h2.4M87.7 840.2h2.4M77.5 841.3h2.4M87.1 841.3h1.2M75.7 842.3h2.4M85.9 843.4h1.2M73.3 844.4h1.2M84.1 844.4h2.4M69.7 846.5h1.2M67.9 847.5h1.2M81.1 847.5h2.4M80.5 848.6h1.2M64.3 849.6h1.2M63.7 850.6h1.2M63.1 851.7h1.2M76.9 852.7h1.2M59.5 853.8h1.2M75.1 853.8h1.2M57.7 854.8h1.2M74.5 854.8h1.2M58.3 855.8h1.2M73.9 855.8h1.2M56.5 856.9h1.2M72.1 856.9h2.4M55.9 857.9h1.2M71.5 857.9h1.2M55.3 859h1.2M69.7 859h2.4M69.1 860h2.4M67.3 861h1.2M52.3 862.1h1.2M65.5 862.1h2.4M51.7 863.1h1.2M64.9 863.1h1.2M63.1 864.2h1.2M61.3 865.2h2.4M59.5 866.2h1.2M57.7 867.3h1.2M54.7 868.3h1.2M46.9 869.3h1.2M51.1 870.4h1.2M46.9 871.4h1.2"/>
<path stroke="#461769" d="M85.9 839.2h2.4M82.9 840.2h3.6M84.7 841.3h1.2M84.1 842.3h1.2M76.3 843.4h1.2M83.5 843.4h1.2M75.7 844.4h1.2M72.1 846.5h1.2M70.3 847.5h1.2M68.5 848.6h1.2M66.7 849.6h1.2M62.5 852.7h1.2M61.9 853.8h1.2M60.1 854.8h1.2M48.7 870.4h1.2"/>
<path stroke="#482273" d="M82.3 841.3h1.2M80.5 842.3h2.4M49.3 869.3h1.2"/>
<path stroke="#462c7a" d="M79.9 843.4h1.2"/>
<path stroke="#44367f" d="M79.3 844.4h1.2"/>
<path stroke="#424085" d="M77.5 845.4h1.2"/>
<path stroke="#3f4988" d="M75.7 846.5h2.4"/>
<path stroke="#3b528a" d="M75.1 847.5h1.2"/>
<path stroke="#34628d" d="M74.5 848.6h1.2"/>
<path stroke="#2d728e" d="M72.7 849.6h1.2"/>
<path stroke="#21988a" d="M70.3 851.7h1.2"/>
<path stroke="#4ec26a" d="M67.9 853.8h1.2"/>
</g>
<g fill="none" stroke-linecap="round" stroke-width="1.5">
<path stroke="#440154" d="M61.3 777.7v.3M134.5 790.2v.3M124.9 792.3v.3M138.1 794.4v.3M130.9 796.5v.3M132.1 798.5v.3M127.9 799.6v.3M141.1 799.6v.3M123.7 802.7v.3M106.3 803.7v.3M118.3 803.7v.3M133.9 803.7v.3M98.5 804.8v.3M126.1 804.8v.3M138.1 804.8v.3M140.5 804.8v.3M126.7 805.8v.3M127.3 806.8v.3M124.3 807.9v.3M117.7 808.9v.3M118.3 810v.3M116.5 811v.3M118.9 813.1v.3M122.5 813.1v.3M117.1 814.1v.3M110.5 815.2v.3M120.1 817.2v.3M94.3 818.3v.3M101.5 818.3v.3M106.3 818.3v.3M112.3 818.3v.3M125.5 818.3v.3M97.9 820.4v.3M105.1 820.4v.3M111.1 820.4v.3M99.7 821.4v.3M109.3 821.4v.3M94.3 822.4v.3M85.3 823.5v.3M90.1 823.5v.3M93.7 823.5v.3M109.3 823.5v.3M111.7 823.5v.3M107.5 824.5v.3M90.1 825.6v.3M94.9 825.6v.3M111.1 826.6v.3M127.9 826.6v.3M93.7 827.6v.3M93.1 828.7v.3M95.5 828.7v.3M107.5 828.7v.3M115.9 828.7v.3M88.3 830.7v.3M105.1 830.7v.3M110.5 831.8v.3M79.3 833.9v.3M81.7 833.9v.3M91.3 833.9v.3M88.3 834.9v.3M101.5 834.9v.3M147.1 834.9v.3M75.7 835.9v.3M78.1 835.9v.3M80.5 835.9v.3M98.5 835.9v.3M73.9 837v.3M73.3 838v.3M109.9 839.1v.3M99.7 840.1v.3M89.5 841.1v.3M92.5 842.2v.3M100.9 842.2v.3M73.9 843.2v.3M99.7 844.3v.3M54.7 845.3v.3M84.7 845.3v.3M63.7 846.3v.3M112.9 846.3v.3M91.9 847.4v.3M91.9 849.5v.3M97.9 849.5v.3M78.7 851.5v.3M48.7 853.6v.3M83.5 853.6v.3M85.9 853.6v.3M51.7 856.7v.3M81.1 857.8v.3M76.9 858.8v.3M73.9 861.9v.3M68.5 865v.3M81.1 866.1v.3M48.1 867.1v.3M45.1 868.2v.3M47.5 868.2v.3M45.7 869.2v.3M45.7 871.3v.3M60.1 871.3v.3M53.5 872.3v.3M46.9 873.4v.3"/>
<path stroke="#450c5e" d="M96.7 828.7v.3M90.1 833.9v.3M92.5 833.9v.3M87.1 834.9v.3M86.5 842.2v.3M72.7 843.2v.3M75.1 843.2v.3M72.7 845.3v.3M83.5 845.3v.3M82.9 846.3v.3M67.3 848.4v.3M79.9 849.5v.3M79.3 850.5v.3M77.5 851.5v.3M79.9 851.5v.3M61.3 852.6v.3M54.7 859.8v.3M54.1 860.9v.3M51.1 864v.3M50.5 865v.3M49.9 866.1v.3M49.3 867.1v.3M48.7 868.2v.3M52.9 869.2v.3M47.5 870.2v.3"/>
<path stroke="#461769" d="M87.7 838v.3M81.1 841.1v.3M79.3 842.2v.3M82.9 844.3v.3M73.9 845.3v.3M82.3 845.3v.3M81.7 846.3v.3M79.3 848.4v.3M78.7 849.5v.3M66.1 850.5v.3M78.1 850.5v.3M65.5 851.5v.3M76.3 851.5v.3M75.7 852.6v.3M73.9 853.6v.3M73.3 854.6v.3M72.7 855.7v.3M58.9 856.7v.3M70.3 857.8v.3M68.5 858.8v.3M55.9 859.8v.3M67.9 859.8v.3M55.3 860.9v.3M66.1 860.9v.3M64.3 861.9v.3M63.7 863v.3M52.3 864v.3M61.9 864v.3M51.7 865v.3M60.1 865v.3M51.1 866.1v.3M58.3 866.1v.3M56.5 867.1v.3M51.7 869.2v.3"/>
<path stroke="#482273" d="M78.7 843.2v.3M82.3 843.2v.3M75.1 845.3v.3M80.5 846.3v.3M79.9 847.4v.3M69.1 849.5v.3M77.5 849.5v.3M67.3 850.5v.3M76.9 850.5v.3M64.9 852.6v.3M60.7 855.7v.3M71.5 855.7v.3M70.9 856.7v.3M58.3 857.8v.3M69.1 857.8v.3M57.7 858.8v.3M66.7 859.8v.3M54.7 861.9v.3M62.5 863v.3M60.7 864v.3M58.9 865v.3M57.1 866.1v.3M50.5 867.1v.3M55.3 867.1v.3M49.9 868.2v.3M53.5 868.2v.3"/>
<path stroke="#462c7a" d="M78.1 844.3v.3M81.7 844.3v.3M81.1 845.3v.3M74.5 846.3v.3M72.7 847.4v.3M70.9 848.4v.3M78.1 848.4v.3M68.5 850.5v.3M66.7 851.5v.3M75.1 851.5v.3M74.5 852.6v.3M72.1 854.6v.3M60.1 856.7v.3M69.7 856.7v.3M67.3 858.8v.3M57.1 859.8v.3M64.9 860.9v.3M63.1 861.9v.3M54.1 863v.3M61.3 863v.3M52.3 868.2v.3"/>
<path stroke="#44367f" d="M76.3 845.3v.3M79.9 845.3v.3M79.3 846.3v.3M78.7 847.4v.3M64.3 853.6v.3M62.5 854.6v.3M61.9 855.7v.3M59.5 857.8v.3M67.9 857.8v.3M56.5 860.9v.3M53.5 864v.3M54.1 867.1v.3M51.1 868.2v.3"/>
<path stroke="#424085" d="M72.1 848.4v.3M70.3 849.5v.3M76.3 849.5v.3M75.7 850.5v.3M66.1 852.6v.3M72.7 853.6v.3M70.3 855.7v.3M65.5 859.8v.3M63.7 860.9v.3M59.5 864v.3M52.9 865v.3M57.7 865v.3M55.9 866.1v.3"/>
<path stroke="#3f4988" d="M73.9 847.4v.3M77.5 847.4v.3M76.9 848.4v.3M73.9 851.5v.3M73.3 852.6v.3M66.1 858.8v.3M52.3 866.1v.3M51.7 867.1v.3"/>
<path stroke="#3b528a" d="M67.9 851.5v.3M63.7 854.6v.3M70.9 854.6v.3M61.3 856.7v.3M68.5 856.7v.3M58.9 858.8v.3M55.9 861.9v.3M61.9 861.9v.3M52.9 867.1v.3"/>
<path stroke="#375a8c" d="M73.3 848.4v.3M71.5 849.5v.3M69.7 850.5v.3M65.5 853.6v.3M71.5 853.6v.3M60.1 863v.3M54.7 866.1v.3"/>
<path stroke="#34628d" d="M75.1 849.5v.3M74.5 850.5v.3M63.1 855.7v.3M58.3 859.8v.3M64.3 859.8v.3"/>
<path stroke="#306a8d" d="M67.3 852.6v.3M69.1 855.7v.3M55.3 863v.3M58.3 864v.3M56.5 865v.3M53.5 866.1v.3"/>
<path stroke="#2d728e" d="M72.1 852.6v.3M60.7 857.8v.3M66.7 857.8v.3M62.5 860.9v.3M54.7 864v.3M54.1 865v.3"/>
<path stroke="#297a8e" d="M70.9 850.5v.3M73.3 850.5v.3M69.1 851.5v.3M72.7 851.5v.3"/>
<path stroke="#27818d" d="M55.3 865v.3"/>
<path stroke="#24898d" d="M72.1 850.5v.3M64.9 854.6v.3M69.7 854.6v.3M67.3 856.7v.3M57.7 860.9v.3"/>
<path stroke="#21918c" d="M68.5 852.6v.3M62.5 856.7v.3M64.9 858.8v.3M60.7 861.9v.3"/>
<path stroke="#21988a" d="M66.7 853.6v.3M70.3 853.6v.3M58.9 863v.3"/>
<path stroke="#229f87" d="M60.1 858.8v.3M57.1 864v.3"/>
<path stroke="#22a784" d="M70.9 852.6v.3M64.3 855.7v.3M63.1 859.8v.3M57.1 861.9v.3M56.5 863v.3"/>
<path stroke="#2aae7f" d="M69.7 852.6v.3M67.9 855.7v.3M65.5 857.8v.3M59.5 859.8v.3M55.9 864v.3"/>
<path stroke="#35b579" d="M68.5 854.6v.3"/>
<path stroke="#40bc72" d="M66.1 854.6v.3"/>
<path stroke="#4ec26a" d="M61.9 857.8v.3M61.3 860.9v.3"/>
<path stroke="#5fc860" d="M66.1 856.7v.3M58.9 860.9v.3M57.7 863v.3"/>
<path stroke="#70ce57" d="M63.7 856.7v.3M63.7 858.8v.3M59.5 861.9v.3"/>
<path stroke="#82d34c" d="M67.3 854.6v.3"/>
<path stroke="#97d73e" d="M58.3 861.9v.3"/>
<path stroke="#acdc31" d="M66.7 855.7v.3M61.3 858.8v.3"/>
<path stroke="#c1e026" d="M65.5 855.7v.3M60.1 860.9v.3"/>
<path stroke="#d5e226" d="M64.3 857.8v.3M61.9 859.8v.3"/>
<path stroke="#e9e425" d="M64.9 856.7v.3M60.7 859.8v.3"/>
<path stroke="#fde725" d="M63.1 857.8v.3M62.5 858.8v.3"/>
</g>
<rect x="39.1" y="772.7" width="113.9" height="105.6" fill="none" stroke="#9a9a9a" stroke-width=".8"/>
<line x1="44.5" y1="878.3" x2="44.5" y2="880.5" stroke="#9a9a9a" stroke-width=".6"/>
<text x="47.5" y="883.9" font-size="6.5" text-anchor="end" transform="rotate(-45 47.5 883.9)" fill="#151515">0</text>
<line x1="58.8" y1="878.3" x2="58.8" y2="880.5" stroke="#9a9a9a" stroke-width=".6"/>
<text x="61.8" y="883.9" font-size="6.5" text-anchor="end" transform="rotate(-45 61.8 883.9)" fill="#151515">500</text>
<line x1="73.1" y1="878.3" x2="73.1" y2="880.5" stroke="#9a9a9a" stroke-width=".6"/>
<text x="76.1" y="883.9" font-size="6.5" text-anchor="end" transform="rotate(-45 76.1 883.9)" fill="#151515">1000</text>
<line x1="87.4" y1="878.3" x2="87.4" y2="880.5" stroke="#9a9a9a" stroke-width=".6"/>
<text x="90.4" y="883.9" font-size="6.5" text-anchor="end" transform="rotate(-45 90.4 883.9)" fill="#151515">1500</text>
<line x1="101.7" y1="878.3" x2="101.7" y2="880.5" stroke="#9a9a9a" stroke-width=".6"/>
<text x="104.7" y="883.9" font-size="6.5" text-anchor="end" transform="rotate(-45 104.7 883.9)" fill="#151515">2000</text>
<line x1="116" y1="878.3" x2="116" y2="880.5" stroke="#9a9a9a" stroke-width=".6"/>
<text x="119" y="883.9" font-size="6.5" text-anchor="end" transform="rotate(-45 119 883.9)" fill="#151515">2500</text>
<line x1="130.3" y1="878.3" x2="130.3" y2="880.5" stroke="#9a9a9a" stroke-width=".6"/>
<text x="133.3" y="883.9" font-size="6.5" text-anchor="end" transform="rotate(-45 133.3 883.9)" fill="#151515">3000</text>
<line x1="144.6" y1="878.3" x2="144.6" y2="880.5" stroke="#9a9a9a" stroke-width=".6"/>
<text x="147.6" y="883.9" font-size="6.5" text-anchor="end" transform="rotate(-45 147.6 883.9)" fill="#151515">3500</text>
<line x1="36.9" y1="873.6" x2="39.1" y2="873.6" stroke="#9a9a9a" stroke-width=".6"/>
<text x="35.7" y="876" font-size="6.5" text-anchor="end" fill="#151515">0</text>
<line x1="36.9" y1="861.15" x2="39.1" y2="861.15" stroke="#9a9a9a" stroke-width=".6"/>
<text x="35.7" y="863.55" font-size="6.5" text-anchor="end" fill="#151515">500</text>
<line x1="36.9" y1="848.7" x2="39.1" y2="848.7" stroke="#9a9a9a" stroke-width=".6"/>
<text x="35.7" y="851.1" font-size="6.5" text-anchor="end" fill="#151515">1000</text>
<line x1="36.9" y1="836.25" x2="39.1" y2="836.25" stroke="#9a9a9a" stroke-width=".6"/>
<text x="35.7" y="838.65" font-size="6.5" text-anchor="end" fill="#151515">1500</text>
<line x1="36.9" y1="823.8" x2="39.1" y2="823.8" stroke="#9a9a9a" stroke-width=".6"/>
<text x="35.7" y="826.2" font-size="6.5" text-anchor="end" fill="#151515">2000</text>
<line x1="36.9" y1="811.35" x2="39.1" y2="811.35" stroke="#9a9a9a" stroke-width=".6"/>
<text x="35.7" y="813.75" font-size="6.5" text-anchor="end" fill="#151515">2500</text>
<line x1="36.9" y1="798.9" x2="39.1" y2="798.9" stroke="#9a9a9a" stroke-width=".6"/>
<text x="35.7" y="801.3" font-size="6.5" text-anchor="end" fill="#151515">3000</text>
<line x1="36.9" y1="786.45" x2="39.1" y2="786.45" stroke="#9a9a9a" stroke-width=".6"/>
<text x="35.7" y="788.85" font-size="6.5" text-anchor="end" fill="#151515">3500</text>
<line x1="36.9" y1="774" x2="39.1" y2="774" stroke="#9a9a9a" stroke-width=".6"/>
<text x="35.7" y="776.4" font-size="6.5" text-anchor="end" fill="#151515">4000</text>
<text x="43.7" y="791.3" font-size="10.08" textLength="77.3" lengthAdjust="spacingAndGlyphs">Correlation 0.926</text>
<text x="14.8" y="821.3" font-size="10.5" text-anchor="middle" transform="rotate(-90 14.8 821.3)">Replicate 2</text>
<text x="72.7" y="901.2" font-size="10.81" textLength="54.1" lengthAdjust="spacingAndGlyphs">Replicate 1</text>
<rect x="160" y="772.5" width="5.9" height="105.8" fill="url(#vg)" stroke="#3a3a3a" stroke-width=".35"/>
<line x1="165.9" y1="793.3" x2="167.7" y2="793.3" stroke="#9a9a9a" stroke-width=".6"/>
<text x="168.7" y="795.6" font-size="6.5" fill="#151515">400</text>
<line x1="165.9" y1="814.3" x2="167.7" y2="814.3" stroke="#9a9a9a" stroke-width=".6"/>
<text x="168.7" y="816.6" font-size="6.5" fill="#151515">300</text>
<line x1="165.9" y1="835.7" x2="167.7" y2="835.7" stroke="#9a9a9a" stroke-width=".6"/>
<text x="168.7" y="838" font-size="6.5" fill="#151515">200</text>
<line x1="165.9" y1="856.8" x2="167.7" y2="856.8" stroke="#9a9a9a" stroke-width=".6"/>
<text x="168.7" y="859.1" font-size="6.5" fill="#151515">100</text>
<text x="218.3" y="770" font-size="10.73" textLength="125.9" lengthAdjust="spacingAndGlyphs">77-GA: Gene-level Counts</text>
<g fill="none" stroke-linecap="round" stroke-width="2.1">
<path stroke="#440154" d="M313.9 804.9h1.2M309.7 806h1.2M301.9 807h1.2M306.1 808h2.4M307.9 809.1h1.2M303.1 811.2h1.2M301.3 812.2h1.2M296.5 814.3h2.4M301.3 814.3h4.8M295.9 815.3h1.2M300.7 815.3h1.2M297.7 816.3h1.2M298.3 817.4h1.2M290.5 818.4h3.6M296.5 818.4h3.6M288.7 819.5h4.8M282.1 820.5h2.4M290.5 820.5h1.2M283.9 821.5h2.4M288.7 821.5h1.2M293.5 821.5h1.2M279.7 822.6h1.2M283.3 822.6h1.2M286.9 822.6h7.2M274.3 823.6h1.2M277.9 823.6h1.2M281.5 823.6h4.8M288.7 823.6h1.2M279.7 824.7h9.6M274.3 825.7h1.2M277.9 825.7h1.2M282.7 825.7h8.4M273.7 826.7h13.2M275.5 827.8h7.2M285.1 827.8h1.2M264.1 828.8h1.2M273.7 828.8h3.6M279.7 828.8h4.8M264.7 829.9h1.2M268.3 829.9h1.2M273.1 829.9h4.8M281.5 829.9h1.2M268.9 830.9h7.2M279.7 830.9h1.2M283.3 830.9h1.2M264.7 831.9h10.8M280.3 831.9h3.6M264.1 833h2.4M268.9 833h1.2M280.9 833h1.2M286.9 833h1.2M259.9 834h1.2M265.9 834h3.6M280.3 834h3.6M259.3 835.1h2.4M264.1 835.1h3.6M282.1 835.1h1.2M285.7 835.1h1.2M257.5 836.1h1.2M261.1 836.1h6M277.9 836.1h1.2M259.3 837.1h2.4M276.1 837.1h6M255.1 838.2h7.2M277.9 838.2h2.4M256.9 839.2h3.6M273.7 839.2h6M251.5 840.2h7.2M273.1 840.2h6M249.7 841.3h8.4M273.7 841.3h4.8M252.7 842.3h1.2M273.1 842.3h6M249.7 843.4h4.8M271.3 843.4h7.2M249.1 844.4h2.4M270.7 844.4h7.2M247.3 845.4h2.4M268.9 845.4h2.4M246.7 846.5h2.4M269.5 846.5h1.2M244.9 847.5h2.4M267.7 847.5h6M244.3 848.6h2.4M267.1 848.6h2.4M242.5 849.6h2.4M266.5 849.6h2.4M240.7 850.6h2.4M264.7 850.6h4.8M238.9 851.7h3.6M265.3 851.7h2.4M238.3 852.7h3.6M264.7 852.7h2.4M238.9 853.8h1.2M262.9 853.8h3.6M238.3 854.8h1.2M261.1 854.8h3.6M260.5 855.8h7.2M234.7 856.9h3.6M261.1 856.9h2.4M235.3 857.9h1.2M258.1 857.9h2.4M233.5 859h2.4M258.7 859h3.6M234.1 860h2.4M255.7 860h4.8M233.5 861h1.2M253.9 861h4.8M232.9 862.1h1.2M253.3 862.1h2.4M232.3 863.1h1.2M250.3 863.1h3.6M230.5 864.2h1.2M248.5 864.2h2.4M253.3 864.2h1.2M231.1 865.2h1.2M247.9 865.2h2.4M230.5 866.2h1.2M244.9 866.2h3.6M229.9 867.3h1.2M243.1 867.3h3.6M229.3 868.3h1.2M240.1 868.3h3.6M238.3 869.3h3.6M236.5 870.4h4.8M232.3 871.4h1.2M235.9 871.4h2.4M229.3 872.5h1.2M232.9 872.5h2.4"/>
<path stroke="#450c5e" d="M279.1 829.9h1.2M277.3 830.9h1.2M276.7 831.9h2.4M273.7 833h6M270.7 834h8.4M268.9 835.1h2.4M276.1 835.1h2.4M268.3 836.1h1.2M274.3 836.1h2.4M265.3 837.1h2.4M273.7 837.1h1.2M263.5 838.2h1.2M273.1 838.2h1.2M261.7 839.2h1.2M259.9 840.2h2.4M259.3 841.3h1.2M271.3 841.3h1.2M255.1 842.3h2.4M269.5 842.3h2.4M255.7 843.4h1.2M268.9 843.4h1.2M252.7 844.4h2.4M268.3 844.4h1.2M250.9 845.4h2.4M250.3 846.5h2.4M267.1 846.5h1.2M248.5 847.5h2.4M265.3 847.5h1.2M247.9 848.6h1.2M264.7 848.6h1.2M246.1 849.6h2.4M262.9 849.6h2.4M244.3 850.6h2.4M262.3 850.6h1.2M243.7 851.7h2.4M243.1 852.7h1.2M261.1 852.7h2.4M241.3 853.8h2.4M259.3 853.8h2.4M240.7 854.8h1.2M258.7 854.8h1.2M240.1 855.8h1.2M256.9 855.8h2.4M239.5 856.9h1.2M256.3 856.9h1.2M237.7 857.9h1.2M254.5 857.9h2.4M237.1 859h1.2M252.7 859h2.4M252.1 860h2.4M235.9 861h1.2M251.5 861h1.2M249.7 862.1h2.4M246.7 863.1h2.4M232.9 864.2h1.2M246.1 864.2h1.2M244.3 865.2h2.4M242.5 866.2h1.2M239.5 867.3h2.4M237.7 868.3h1.2M234.7 869.3h2.4M230.5 870.4h2.4M229.9 871.4h1.2"/>
<path stroke="#461769" d="M270.7 836.1h2.4M268.9 837.1h2.4M265.9 838.2h1.2M270.7 838.2h1.2M264.1 839.2h1.2M263.5 840.2h1.2M268.9 841.3h1.2M258.7 842.3h1.2M256.3 844.4h1.2M254.5 845.4h1.2M250.3 848.6h1.2M258.7 852.7h1.2M253.9 856.9h1.2M241.9 865.2h1.2M240.1 866.2h1.2M232.3 869.3h1.2"/>
<path stroke="#482273" d="M268.3 838.2h1.2M266.5 839.2h1.2M268.3 840.2h1.2M247.9 861h1.2"/>
<path stroke="#462c7a" d="M265.9 840.2h1.2M264.1 841.3h3.6M265.9 842.3h1.2M232.9 868.3h1.2"/>
<path stroke="#424085" d="M264.1 843.4h1.2"/>
<path stroke="#3f4988" d="M261.7 843.4h1.2M261.1 844.4h2.4"/>
<path stroke="#34628d" d="M259.9 846.5h1.2"/>
<path stroke="#27818d" d="M256.3 848.6h1.2"/>
<path stroke="#22a784" d="M253.9 850.6h1.2"/>
</g>
<g fill="none" stroke-linecap="round" stroke-width="1.5">
<path stroke="#440154" d="M312.7 777.7v.3M329.5 777.7v.3M312.1 778.8v.3M331.3 780.9v.3M321.7 782.9v.3M327.7 785v.3M323.5 786.1v.3M314.5 787.1v.3M315.1 790.2v.3M316.9 793.3v.3M318.7 794.4v.3M296.5 795.4v.3M320.5 795.4v.3M322.9 795.4v.3M309.1 796.5v.3M323.5 796.5v.3M310.9 797.5v.3M316.9 797.5v.3M287.5 798.5v.3M308.5 799.6v.3M310.9 801.6v.3M294.7 802.7v.3M312.7 802.7v.3M318.7 802.7v.3M309.7 803.7v.3M314.5 803.7v.3M316.9 803.7v.3M299.5 804.8v.3M309.1 804.8v.3M300.1 807.9v.3M293.5 808.9v.3M249.7 810v.3M289.3 810v.3M300.1 810v.3M304.9 810v.3M307.3 810v.3M295.9 811v.3M307.9 811v.3M289.3 812v.3M298.9 812v.3M297.1 813.1v.3M300.7 813.1v.3M303.1 813.1v.3M285.7 814.1v.3M291.7 814.1v.3M294.1 814.1v.3M244.3 815.2v.3M293.5 815.2v.3M291.7 816.2v.3M294.1 816.2v.3M302.5 816.2v.3M276.7 817.2v.3M282.7 817.2v.3M286.3 817.2v.3M289.9 817.2v.3M292.3 817.2v.3M295.9 817.2v.3M303.1 817.2v.3M285.7 818.3v.3M283.9 819.3v.3M286.3 819.3v.3M298.3 819.3v.3M288.1 820.4v.3M296.5 820.4v.3M281.5 821.4v.3M297.1 821.4v.3M293.5 823.5v.3M295.9 823.5v.3M273.7 824.5v.3M292.9 824.5v.3M269.5 825.6v.3M293.5 825.6v.3M289.3 826.6v.3M270.7 827.6v.3M271.3 828.7v.3M290.5 828.7v.3M298.9 828.7v.3M285.1 829.7v.3M288.7 829.7v.3M304.3 829.7v.3M262.9 830.7v.3M266.5 830.7v.3M288.1 830.7v.3M235.9 831.8v.3M286.3 831.8v.3M289.9 831.8v.3M259.3 832.8v.3M261.7 832.8v.3M272.5 832.8v.3M286.3 833.9v.3M301.9 833.9v.3M279.7 834.9v.3M291.7 834.9v.3M250.9 837v.3M264.1 837v.3M291.7 837v.3M275.5 838v.3M283.3 839.1v.3M286.9 839.1v.3M249.1 840.1v.3M281.5 840.1v.3M247.3 841.1v.3M281.5 842.2v.3M246.7 844.3v.3M288.7 844.3v.3M244.9 845.3v.3M274.9 845.3v.3M277.3 845.3v.3M243.1 846.3v.3M277.9 846.3v.3M240.7 848.4v.3M238.9 849.5v.3M271.3 849.5v.3M271.9 850.5v.3M262.9 851.5v.3M269.5 852.6v.3M267.1 854.6v.3M236.5 855.7v.3M238.9 855.7v.3M258.7 856.7v.3M262.9 857.8v.3M265.3 857.8v.3M256.3 858.8v.3M282.1 864v.3M252.7 865v.3M246.1 868.2v.3M229.9 869.2v.3M229.3 870.2v.3M234.1 870.2v.3M228.7 871.3v.3M240.7 871.3v.3"/>
<path stroke="#450c5e" d="M287.5 823.5v.3M283.9 827.6v.3M278.5 828.7v.3M283.9 829.7v.3M282.1 830.7v.3M271.3 832.8v.3M273.7 834.9v.3M262.9 837v.3M276.7 838v.3M272.5 839.1v.3M271.9 840.1v.3M267.7 845.3v.3M261.7 851.5v.3M264.1 851.5v.3M259.9 856.7v.3M237.7 859.8v.3M235.3 861.9v.3M234.7 863v.3M233.5 865v.3M232.9 866.1v.3M232.3 867.1v.3M231.7 868.2v.3M231.1 869.2v.3M235.3 870.2v.3"/>
<path stroke="#461769" d="M272.5 834.9v.3M274.9 834.9v.3M268.9 839.1v.3M271.3 839.1v.3M270.7 840.1v.3M261.7 841.1v.3M268.3 842.2v.3M258.1 843.2v.3M267.7 843.2v.3M267.1 844.3v.3M266.5 845.3v.3M253.9 846.3v.3M265.9 846.3v.3M252.1 847.4v.3M264.1 847.4v.3M263.5 848.4v.3M249.7 849.5v.3M261.7 849.5v.3M247.9 850.5v.3M261.1 850.5v.3M260.5 851.5v.3M245.5 852.6v.3M258.1 853.6v.3M243.1 854.6v.3M257.5 854.6v.3M242.5 855.7v.3M255.7 855.7v.3M240.1 857.8v.3M253.3 857.8v.3M251.5 858.8v.3M238.9 859.8v.3M250.9 859.8v.3M250.3 860.9v.3M236.5 861.9v.3M248.5 861.9v.3M235.9 863v.3M235.3 864v.3M244.9 864v.3M234.7 865v.3M233.5 867.1v.3M238.3 867.1v.3M236.5 868.2v.3"/>
<path stroke="#482273" d="M272.5 837v.3M270.1 839.1v.3M262.9 841.1v.3M261.1 842.2v.3M259.3 843.2v.3M265.9 844.3v.3M265.3 845.3v.3M255.1 846.3v.3M264.7 846.3v.3M253.3 847.4v.3M249.1 850.5v.3M259.9 850.5v.3M247.3 851.5v.3M259.3 851.5v.3M246.7 852.6v.3M244.9 853.6v.3M256.9 853.6v.3M244.3 854.6v.3M256.3 854.6v.3M241.9 856.7v.3M241.3 857.8v.3M239.5 858.8v.3M249.7 859.8v.3M238.3 860.9v.3M247.3 861.9v.3M245.5 863v.3M243.7 864v.3M234.1 866.1v.3M237.1 867.1v.3M235.3 868.2v.3"/>
<path stroke="#462c7a" d="M262.3 842.2v.3M260.5 843.2v.3M266.5 843.2v.3M258.7 844.3v.3M256.9 845.3v.3M263.5 846.3v.3M254.5 847.4v.3M262.9 847.4v.3M252.7 848.4v.3M262.3 848.4v.3M250.9 849.5v.3M248.5 851.5v.3M257.5 852.6v.3M255.1 854.6v.3M254.5 855.7v.3M252.7 856.7v.3M252.1 857.8v.3M240.7 858.8v.3M250.3 858.8v.3M237.7 861.9v.3M246.1 861.9v.3M237.1 863v.3M244.3 863v.3M242.5 864v.3M238.9 866.1v.3M234.7 867.1v.3"/>
<path stroke="#44367f" d="M263.5 842.2v.3M259.9 844.3v.3M264.7 844.3v.3M258.1 845.3v.3M264.1 845.3v.3M261.1 848.4v.3M260.5 849.5v.3M246.1 853.6v.3M243.7 855.7v.3M243.1 856.7v.3M240.1 859.8v.3M248.5 859.8v.3M236.5 864v.3M240.7 865v.3M235.9 867.1v.3"/>
<path stroke="#424085" d="M264.7 842.2v.3M256.3 846.3v.3M250.3 850.5v.3M258.7 850.5v.3M258.1 851.5v.3M247.9 852.6v.3M255.7 853.6v.3M253.3 855.7v.3M250.9 857.8v.3M235.9 865v.3M235.3 866.1v.3"/>
<path stroke="#3f4988" d="M262.9 845.3v.3M262.3 846.3v.3M261.7 847.4v.3M252.1 849.5v.3M249.7 851.5v.3M245.5 854.6v.3M242.5 857.8v.3M239.5 860.9v.3M246.7 860.9v.3M244.9 861.9v.3M239.5 865v.3M237.7 866.1v.3"/>
<path stroke="#3b528a" d="M259.3 845.3v.3M257.5 846.3v.3M255.7 847.4v.3M253.9 848.4v.3M259.3 849.5v.3M256.3 852.6v.3M247.3 853.6v.3M249.1 858.8v.3M241.3 864v.3M236.5 866.1v.3"/>
<path stroke="#375a8c" d="M261.7 845.3v.3M258.7 846.3v.3M260.5 847.4v.3M251.5 850.5v.3M253.9 854.6v.3M244.9 855.7v.3M251.5 856.7v.3M243.1 863v.3"/>
<path stroke="#34628d" d="M260.5 845.3v.3M255.1 848.4v.3M259.9 848.4v.3M256.9 851.5v.3M249.1 852.6v.3M244.3 856.7v.3M249.7 857.8v.3M241.9 858.8v.3M247.3 859.8v.3M238.9 861.9v.3"/>
<path stroke="#306a8d" d="M256.9 847.4v.3M253.3 849.5v.3M258.1 849.5v.3M257.5 850.5v.3M254.5 853.6v.3M246.7 854.6v.3M252.1 855.7v.3M241.3 859.8v.3M238.3 863v.3M237.7 864v.3M237.1 865v.3"/>
<path stroke="#2d728e" d="M259.3 847.4v.3M245.5 860.9v.3M243.7 861.9v.3M240.1 864v.3M238.3 865v.3"/>
<path stroke="#297a8e" d="M258.7 848.4v.3M250.9 851.5v.3"/>
<path stroke="#27818d" d="M258.1 847.4v.3M254.5 849.5v.3M255.1 852.6v.3M248.5 853.6v.3M243.7 857.8v.3M241.9 863v.3"/>
<path stroke="#24898d" d="M252.7 850.5v.3M252.7 854.6v.3M246.1 855.7v.3M247.9 858.8v.3M238.9 864v.3"/>
<path stroke="#21918c" d="M256.9 849.5v.3M256.3 850.5v.3M255.7 851.5v.3M250.3 856.7v.3M240.7 860.9v.3M239.5 863v.3"/>
<path stroke="#21988a" d="M250.3 852.6v.3M243.1 858.8v.3M240.1 861.9v.3"/>
<path stroke="#229f87" d="M255.7 849.5v.3M246.1 859.8v.3M240.7 863v.3"/>
<path stroke="#22a784" d="M252.1 851.5v.3M244.3 860.9v.3"/>
<path stroke="#2aae7f" d="M253.9 852.6v.3M253.3 853.6v.3M247.9 854.6v.3"/>
<path stroke="#35b579" d="M254.5 851.5v.3M250.9 855.7v.3M245.5 856.7v.3M248.5 857.8v.3M242.5 861.9v.3"/>
<path stroke="#40bc72" d="M253.3 851.5v.3M251.5 854.6v.3M242.5 859.8v.3M241.3 861.9v.3"/>
<path stroke="#4ec26a" d="M247.3 855.7v.3M249.1 856.7v.3M244.9 857.8v.3M246.7 858.8v.3M241.9 860.9v.3"/>
<path stroke="#5fc860" d="M252.7 852.6v.3M249.7 853.6v.3"/>
<path stroke="#70ce57" d="M251.5 852.6v.3M252.1 853.6v.3M243.1 860.9v.3"/>
<path stroke="#82d34c" d="M249.1 854.6v.3"/>
<path stroke="#97d73e" d="M247.3 857.8v.3"/>
<path stroke="#acdc31" d="M250.9 853.6v.3M249.7 855.7v.3M244.3 858.8v.3M244.9 859.8v.3"/>
<path stroke="#c1e026" d="M250.3 854.6v.3M248.5 855.7v.3M246.7 856.7v.3M245.5 858.8v.3M243.7 859.8v.3"/>
<path stroke="#fde725" d="M247.9 856.7v.3M246.1 857.8v.3"/>
</g>
<rect x="222.1" y="772.7" width="114.9" height="104.9" fill="none" stroke="#9a9a9a" stroke-width=".8"/>
<line x1="227.7" y1="877.6" x2="227.7" y2="879.8" stroke="#9a9a9a" stroke-width=".6"/>
<text x="230.7" y="883.2" font-size="6.5" text-anchor="end" transform="rotate(-45 230.7 883.2)" fill="#151515">0</text>
<line x1="243.08" y1="877.6" x2="243.08" y2="879.8" stroke="#9a9a9a" stroke-width=".6"/>
<text x="246.08" y="883.2" font-size="6.5" text-anchor="end" transform="rotate(-45 246.08 883.2)" fill="#151515">500</text>
<line x1="258.46" y1="877.6" x2="258.46" y2="879.8" stroke="#9a9a9a" stroke-width=".6"/>
<text x="261.46" y="883.2" font-size="6.5" text-anchor="end" transform="rotate(-45 261.46 883.2)" fill="#151515">1000</text>
<line x1="273.84" y1="877.6" x2="273.84" y2="879.8" stroke="#9a9a9a" stroke-width=".6"/>
<text x="276.84" y="883.2" font-size="6.5" text-anchor="end" transform="rotate(-45 276.84 883.2)" fill="#151515">1500</text>
<line x1="289.22" y1="877.6" x2="289.22" y2="879.8" stroke="#9a9a9a" stroke-width=".6"/>
<text x="292.22" y="883.2" font-size="6.5" text-anchor="end" transform="rotate(-45 292.22 883.2)" fill="#151515">2000</text>
<line x1="304.6" y1="877.6" x2="304.6" y2="879.8" stroke="#9a9a9a" stroke-width=".6"/>
<text x="307.6" y="883.2" font-size="6.5" text-anchor="end" transform="rotate(-45 307.6 883.2)" fill="#151515">2500</text>
<line x1="319.98" y1="877.6" x2="319.98" y2="879.8" stroke="#9a9a9a" stroke-width=".6"/>
<text x="322.98" y="883.2" font-size="6.5" text-anchor="end" transform="rotate(-45 322.98 883.2)" fill="#151515">3000</text>
<line x1="335.36" y1="877.6" x2="335.36" y2="879.8" stroke="#9a9a9a" stroke-width=".6"/>
<text x="338.36" y="883.2" font-size="6.5" text-anchor="end" transform="rotate(-45 338.36 883.2)" fill="#151515">3500</text>
<line x1="219.9" y1="873.2" x2="222.1" y2="873.2" stroke="#9a9a9a" stroke-width=".6"/>
<text x="218.7" y="875.6" font-size="6.5" text-anchor="end" fill="#151515">0</text>
<line x1="219.9" y1="859.17" x2="222.1" y2="859.17" stroke="#9a9a9a" stroke-width=".6"/>
<text x="218.7" y="861.57" font-size="6.5" text-anchor="end" fill="#151515">500</text>
<line x1="219.9" y1="845.14" x2="222.1" y2="845.14" stroke="#9a9a9a" stroke-width=".6"/>
<text x="218.7" y="847.54" font-size="6.5" text-anchor="end" fill="#151515">1000</text>
<line x1="219.9" y1="831.11" x2="222.1" y2="831.11" stroke="#9a9a9a" stroke-width=".6"/>
<text x="218.7" y="833.51" font-size="6.5" text-anchor="end" fill="#151515">1500</text>
<line x1="219.9" y1="817.08" x2="222.1" y2="817.08" stroke="#9a9a9a" stroke-width=".6"/>
<text x="218.7" y="819.48" font-size="6.5" text-anchor="end" fill="#151515">2000</text>
<line x1="219.9" y1="803.05" x2="222.1" y2="803.05" stroke="#9a9a9a" stroke-width=".6"/>
<text x="218.7" y="805.45" font-size="6.5" text-anchor="end" fill="#151515">2500</text>
<line x1="219.9" y1="789.02" x2="222.1" y2="789.02" stroke="#9a9a9a" stroke-width=".6"/>
<text x="218.7" y="791.42" font-size="6.5" text-anchor="end" fill="#151515">3000</text>
<line x1="219.9" y1="774.99" x2="222.1" y2="774.99" stroke="#9a9a9a" stroke-width=".6"/>
<text x="218.7" y="777.39" font-size="6.5" text-anchor="end" fill="#151515">3500</text>
<text x="226.6" y="789.4" font-size="9.95" textLength="76.3" lengthAdjust="spacingAndGlyphs">Correlation 0.921</text>
<text x="200.6" y="826.8" font-size="10.5" text-anchor="middle" transform="rotate(-90 200.6 826.8)">Replicate 2</text>
<text x="267.4" y="901.2" font-size="10.69" textLength="53.5" lengthAdjust="spacingAndGlyphs">Replicate 1</text>
<rect x="343.4" y="772.7" width="5.7" height="104.9" fill="url(#vg)" stroke="#3a3a3a" stroke-width=".35"/>
<line x1="349.1" y1="772.9" x2="350.9" y2="772.9" stroke="#9a9a9a" stroke-width=".6"/>
<text x="351.9" y="775.2" font-size="6.5" fill="#151515">400</text>
<line x1="349.1" y1="785.8" x2="350.9" y2="785.8" stroke="#9a9a9a" stroke-width=".6"/>
<text x="351.9" y="788.1" font-size="6.5" fill="#151515">350</text>
<line x1="349.1" y1="799.1" x2="350.9" y2="799.1" stroke="#9a9a9a" stroke-width=".6"/>
<text x="351.9" y="801.4" font-size="6.5" fill="#151515">300</text>
<line x1="349.1" y1="812.4" x2="350.9" y2="812.4" stroke="#9a9a9a" stroke-width=".6"/>
<text x="351.9" y="814.7" font-size="6.5" fill="#151515">250</text>
<line x1="349.1" y1="825.4" x2="350.9" y2="825.4" stroke="#9a9a9a" stroke-width=".6"/>
<text x="351.9" y="827.7" font-size="6.5" fill="#151515">200</text>
<line x1="349.1" y1="838.8" x2="350.9" y2="838.8" stroke="#9a9a9a" stroke-width=".6"/>
<text x="351.9" y="841.1" font-size="6.5" fill="#151515">150</text>
<line x1="349.1" y1="852.1" x2="350.9" y2="852.1" stroke="#9a9a9a" stroke-width=".6"/>
<text x="351.9" y="854.4" font-size="6.5" fill="#151515">100</text>
<line x1="349.1" y1="865.1" x2="350.9" y2="865.1" stroke="#9a9a9a" stroke-width=".6"/>
<text x="351.9" y="867.4" font-size="6.5" fill="#151515">50</text>
<text x="378.7" y="761.1" font-size="13.6" textLength="3.59" lengthAdjust="spacingAndGlyphs" fill="#111" stroke="#fff" stroke-width="0.12">I</text>
<text x="444.4" y="757.9" font-size="10" text-anchor="middle">WT: Gene-level</text>
<text x="445.6" y="769.8" font-size="10" text-anchor="middle">Log Fold Change</text>
<g fill="none" stroke-linecap="round" stroke-width="2.01">
<path stroke="#440154" d="M449.5 809.1h1.1M469.1 809.1h1.1M446.6 810.1h1.1M451.8 811.1h1.1M466.8 811.1h1.1M457 812.1h2.3M461.6 812.1h1.1M444.9 813.1h5.8M453 813.1h2.3M457.6 813.1h2.3M447.8 814.1h6.9M457 814.1h5.8M465.1 814.1h1.1M446.1 815.1h2.3M450.7 815.1h10.3M463.3 815.1h2.3M442.1 816.1h24.1M443.8 817.1h18.4M467.9 817.1h1.1M448.9 818.1h13.8M465.1 818.1h1.1M440.3 819.1h1.1M443.8 819.1h9.2M455.3 819.1h10.3M437.4 820.1h1.1M444.4 820.1h8M454.7 820.1h10.3M440.3 821.1h9.2M457.6 821.1h8M467.9 821.1h1.1M440.9 822.1h8M457 822.1h8M467.4 822.1h2.3M434.6 823.1h4.6M443.8 823.1h4.6M456.4 823.1h4.6M465.6 823.1h1.1M438.6 824.1h9.2M455.9 824.1h6.9M465.1 824.1h1.1M435.7 825.1h11.5M454.1 825.1h12.6M438.6 826.1h10.3M453.6 826.1h8M441.5 827.1h19.5M439.8 828.1h20.7M435.7 829.1h1.1M441.5 829.1h19.5M438.6 830.1h17.2M458.1 830.1h1.1M438 831.1h14.9M455.3 831.1h2.3M461 831.1h1.1M440.9 832.1h13.8M457 832.1h1.1M439.2 833.1h14.9M439.8 834h1.1M445.5 834h4.6M452.4 834h1.1M436.9 835h1.1M440.3 835h1.1M447.2 835h4.6M442.1 836h2.3M446.6 836h1.1M443.8 837h1.1"/>
<path stroke="#450c5e" d="M450.7 821.1h5.8M454.7 822.1h1.1M448.4 825.1h1.1M450.1 826.1h2.3"/>
</g>
<g fill="none" stroke-linecap="round" stroke-width="1.44">
<path stroke="#440154" d="M468.5 778.1v.3M452.4 786.1v.3M488.1 794.1v.3M446.1 795.1v.3M481.7 799v.3M480 800v.3M430.6 802v.3M457 802v.3M474.8 803v.3M454.7 804v.3M473.1 804v.3M455.3 805v.3M461 805v.3M484.6 806v.3M448.4 807v.3M453.6 808v.3M455.9 808v.3M459.3 808v.3M461.6 808v.3M467.4 808v.3M444.9 809v.3M454.1 809v.3M456.4 809v.3M459.9 809v.3M464.5 809v.3M466.8 809v.3M451.2 810v.3M461.6 810v.3M456.4 811v.3M458.7 811v.3M461 811v.3M464.5 811v.3M409.9 812v.3M428.2 812v.3M446.6 812v.3M448.9 812v.3M454.7 812v.3M468.5 812v.3M463.3 813v.3M466.8 813v.3M443.2 814v.3M469.6 814v.3M441.5 815v.3M443.8 815v.3M464.5 817v.3M442.1 818v.3M444.4 818v.3M469.6 818v.3M469.1 819v.3M471.4 819v.3M442.1 820v.3M435.7 821v.3M438 821v.3M471.4 821v.3M438.6 821.9v.3M441.5 822.9v.3M463.3 822.9v.3M474.8 824.9v.3M435.1 825.9v.3M463.9 825.9v.3M428.8 826.9v.3M433.4 826.9v.3M436.9 826.9v.3M439.2 826.9v.3M463.3 826.9v.3M431.7 827.9v.3M434 827.9v.3M436.3 827.9v.3M462.8 827.9v.3M468.5 827.9v.3M433.4 828.9v.3M439.2 828.9v.3M463.3 828.9v.3M462.8 829.9v.3M473.1 829.9v.3M465.6 830.9v.3M432.9 831.9v.3M437.4 831.9v.3M461.6 831.9v.3M434.6 832.9v.3M436.9 832.9v.3M456.4 832.9v.3M443.2 833.9v.3M457 833.9v.3M432.3 834.9v.3M444.9 834.9v.3M457.6 834.9v.3M431.7 835.9v.3M435.1 835.9v.3M438.6 835.9v.3M455.9 835.9v.3M463.9 835.9v.3M417.3 836.9v.3M438 836.9v.3M454.1 836.9v.3M436.3 837.9v.3M443.2 837.9v.3M451.2 837.9v.3M471.9 837.9v.3M433.4 838.9v.3M443.2 839.9v.3M450.1 839.9v.3M455.9 839.9v.3M433.4 840.9v.3M425.4 844.9v.3M439.8 845.8v.3M420.8 846.8v.3M418.5 848.8v.3M416.8 853.8v.3M393.2 864.8v.3"/>
<path stroke="#450c5e" d="M454.1 819v.3M453.6 820v.3M450.1 821.9v.3M449.5 822.9v.3M455.3 822.9v.3M448.9 823.9v.3M454.7 823.9v.3M453 824.9v.3"/>
<path stroke="#461769" d="M454.1 822.9v.3M453.6 823.9v.3"/>
<path stroke="#482273" d="M451.8 824.9v.3"/>
<path stroke="#44367f" d="M451.2 821.9v.3M453.6 821.9v.3M450.7 824.9v.3"/>
<path stroke="#3b528a" d="M450.1 823.9v.3"/>
<path stroke="#306a8d" d="M452.4 821.9v.3"/>
<path stroke="#2d728e" d="M450.7 822.9v.3"/>
<path stroke="#27818d" d="M452.4 823.9v.3"/>
<path stroke="#21988a" d="M453 822.9v.3"/>
<path stroke="#4ec26a" d="M451.2 823.9v.3"/>
<path stroke="#fde725" d="M451.8 822.9v.3"/>
</g>
<rect x="388" y="772.3" width="106" height="96.8" fill="none" stroke="#9a9a9a" stroke-width=".8"/>
<line x1="397.74" y1="869.1" x2="397.74" y2="870.7" stroke="#9a9a9a" stroke-width=".6"/>
<text x="397.74" y="876.1" font-size="6.5" text-anchor="middle" fill="#151515">-6</text>
<line x1="415.76" y1="869.1" x2="415.76" y2="870.7" stroke="#9a9a9a" stroke-width=".6"/>
<text x="415.76" y="876.1" font-size="6.5" text-anchor="middle" fill="#151515">-4</text>
<line x1="433.78" y1="869.1" x2="433.78" y2="870.7" stroke="#9a9a9a" stroke-width=".6"/>
<text x="433.78" y="876.1" font-size="6.5" text-anchor="middle" fill="#151515">-2</text>
<line x1="451.8" y1="869.1" x2="451.8" y2="870.7" stroke="#9a9a9a" stroke-width=".6"/>
<text x="451.8" y="876.1" font-size="6.5" text-anchor="middle" fill="#151515">0</text>
<line x1="469.82" y1="869.1" x2="469.82" y2="870.7" stroke="#9a9a9a" stroke-width=".6"/>
<text x="469.82" y="876.1" font-size="6.5" text-anchor="middle" fill="#151515">2</text>
<line x1="487.84" y1="869.1" x2="487.84" y2="870.7" stroke="#9a9a9a" stroke-width=".6"/>
<text x="487.84" y="876.1" font-size="6.5" text-anchor="middle" fill="#151515">4</text>
<line x1="386.4" y1="854.18" x2="388" y2="854.18" stroke="#9a9a9a" stroke-width=".6"/>
<text x="385.7" y="856.58" font-size="6.5" text-anchor="end" fill="#151515">-4</text>
<line x1="386.4" y1="838.79" x2="388" y2="838.79" stroke="#9a9a9a" stroke-width=".6"/>
<text x="385.7" y="841.19" font-size="6.5" text-anchor="end" fill="#151515">-2</text>
<line x1="386.4" y1="823.4" x2="388" y2="823.4" stroke="#9a9a9a" stroke-width=".6"/>
<text x="385.7" y="825.8" font-size="6.5" text-anchor="end" fill="#151515">0</text>
<line x1="386.4" y1="808.01" x2="388" y2="808.01" stroke="#9a9a9a" stroke-width=".6"/>
<text x="385.7" y="810.41" font-size="6.5" text-anchor="end" fill="#151515">2</text>
<line x1="386.4" y1="792.62" x2="388" y2="792.62" stroke="#9a9a9a" stroke-width=".6"/>
<text x="385.7" y="795.02" font-size="6.5" text-anchor="end" fill="#151515">4</text>
<line x1="386.4" y1="777.23" x2="388" y2="777.23" stroke="#9a9a9a" stroke-width=".6"/>
<text x="385.7" y="779.63" font-size="6.5" text-anchor="end" fill="#151515">6</text>
<text x="393" y="785.2" font-size="10.09" textLength="77.4" lengthAdjust="spacingAndGlyphs">Correlation 0.510</text>
<text x="377.2" y="819.5" font-size="8" text-anchor="middle" transform="rotate(-90 377.2 819.5)">Replicate 2</text>
<text x="427" y="884" font-size="7.94" textLength="39.7" lengthAdjust="spacingAndGlyphs">Replicate 1</text>
<rect x="499.5" y="772.3" width="5.1" height="96.8" fill="url(#vg)" stroke="#3a3a3a" stroke-width=".35"/>
<line x1="504.6" y1="776" x2="506.4" y2="776" stroke="#9a9a9a" stroke-width=".6"/>
<text x="507.4" y="778.3" font-size="6.5" fill="#151515">1000</text>
<line x1="504.6" y1="794.6" x2="506.4" y2="794.6" stroke="#9a9a9a" stroke-width=".6"/>
<text x="507.4" y="796.9" font-size="6.5" fill="#151515">800</text>
<line x1="504.6" y1="813.3" x2="506.4" y2="813.3" stroke="#9a9a9a" stroke-width=".6"/>
<text x="507.4" y="815.6" font-size="6.5" fill="#151515">600</text>
<line x1="504.6" y1="831.9" x2="506.4" y2="831.9" stroke="#9a9a9a" stroke-width=".6"/>
<text x="507.4" y="834.2" font-size="6.5" fill="#151515">400</text>
<line x1="504.6" y1="850.5" x2="506.4" y2="850.5" stroke="#9a9a9a" stroke-width=".6"/>
<text x="507.4" y="852.8" font-size="6.5" fill="#151515">200</text>
<text x="598.1" y="754.9" font-size="10" text-anchor="middle">77-GA: Gene-level</text>
<text x="599.4" y="766.8" font-size="10" text-anchor="middle">Log Fold Change</text>
<g fill="none" stroke-linecap="round" stroke-width="2.01">
<path stroke="#440154" d="M636.7 786.7h1.1M606.8 796.7h1.1M610.3 796.7h4.6M609.7 797.7h3.4M606.8 798.7h6.9M617.2 798.7h1.1M602.8 799.7h2.3M607.4 799.7h3.4M613.1 799.7h1.1M616.6 799.7h3.4M603.4 800.7h2.3M609.1 800.7h13.8M603.9 801.7h12.6M618.9 801.7h1.1M598.8 802.7h23M601.6 803.7h16.1M598.8 804.7h1.1M602.2 804.7h14.9M622.9 804.7h1.1M597 805.7h25.3M597.6 806.6h2.3M602.2 806.6h17.2M595.9 807.6h1.1M601.6 807.6h5.8M609.7 807.6h12.6M599.9 808.6h5.8M612.6 808.6h10.3M598.2 809.6h5.8M612 809.6h8M631.5 809.6h1.1M598.8 810.6h4.6M611.4 810.6h6.9M597 811.6h6.9M612 811.6h8M598.8 812.6h4.6M610.3 812.6h11.5M594.8 813.6h1.1M598.2 813.6h5.8M609.7 813.6h5.8M620 813.6h2.3M597.6 814.6h8M609.1 814.6h8M619.5 814.6h1.1M594.8 815.6h23M594.2 816.6h17.2M613.7 816.6h3.4M593.6 817.6h23M590.7 818.6h1.1M594.2 818.6h1.1M597.6 818.6h14.9M616 818.6h1.1M595.9 819.6h2.3M600.5 819.6h11.5M594.2 820.6h3.4M599.9 820.6h9.2M594.8 821.6h3.4M600.5 821.6h8M594.2 822.6h3.4M602.2 822.6h9.2M597 823.6h3.4M602.8 823.6h2.3M597.6 824.6h1.1M601.1 824.6h1.1M610.3 824.6h1.1M593.6 825.6h1.1M598.2 825.6h1.1M601.6 825.6h1.1M606.2 825.6h1.1M598.8 826.6h1.1M606.8 826.6h1.1M606.2 827.6h1.1"/>
<path stroke="#450c5e" d="M606.8 808.6h4.6M605.1 809.6h1.1M604.5 810.6h1.1M605.1 813.6h3.4M606.8 814.6h1.1"/>
</g>
<g fill="none" stroke-linecap="round" stroke-width="1.44">
<path stroke="#440154" d="M640.2 774.6v.3M606.8 784.6v.3M620.6 784.6v.3M632.7 785.6v.3M631 786.6v.3M600.5 789.6v.3M622.3 789.6v.3M611.4 790.6v.3M625.2 790.6v.3M628.7 790.6v.3M621.2 791.6v.3M626.9 791.6v.3M611.4 792.6v.3M587.8 793.6v.3M608.5 793.6v.3M613.1 793.6v.3M620 793.6v.3M624.6 793.6v.3M610.3 794.5v.3M605.1 795.5v.3M612 795.5v.3M621.2 795.5v.3M626.9 795.5v.3M571.2 796.5v.3M596.5 796.5v.3M617.2 796.5v.3M606.2 797.5v.3M618.9 797.5v.3M630.4 797.5v.3M603.4 798.5v.3M623.5 799.5v.3M625.8 799.5v.3M628.1 799.5v.3M550.5 800.5v.3M599.9 800.5v.3M597 801.5v.3M622.3 801.5v.3M636.1 801.5v.3M599.3 803.5v.3M620 803.5v.3M619.5 804.5v.3M626.4 806.5v.3M592.4 807.5v.3M630.4 807.5v.3M591.9 808.5v.3M597.6 808.5v.3M590.1 809.5v.3M595.9 809.5v.3M623.5 809.5v.3M638.4 809.5v.3M622.9 810.5v.3M593.6 811.5v.3M622.3 811.5v.3M645.3 811.5v.3M589.6 812.5v.3M591.9 812.5v.3M595.3 812.5v.3M626.9 813.5v.3M644.2 813.5v.3M589.6 814.5v.3M592.4 815.5v.3M620 815.5v.3M628.1 815.5v.3M591.9 816.5v.3M585.5 817.5v.3M643.6 818.5v.3M591.3 819.4v.3M593.6 819.4v.3M617.2 820.4v.3M587.8 821.4v.3M591.3 821.4v.3M612 821.4v.3M635 821.4v.3M590.7 822.4v.3M599.9 822.4v.3M590.1 823.4v.3M625.8 823.4v.3M630.4 823.4v.3M584.4 825.4v.3M609.7 825.4v.3M602.2 826.4v.3M590.1 827.4v.3M595.9 827.4v.3M600.5 827.4v.3M594.2 828.4v.3M596.5 828.4v.3M605.7 828.4v.3M616.6 829.4v.3M596.5 830.4v.3M620 831.4v.3M586.7 833.4v.3M579.2 836.4v.3M586.1 836.4v.3M582.1 837.4v.3M606.2 839.4v.3M605.7 844.3v.3M555.1 862.3v.3"/>
<path stroke="#450c5e" d="M608.5 807.5v.3M610.8 809.5v.3M610.3 810.5v.3M605.1 811.5v.3M610.8 811.5v.3M604.5 812.5v.3M609.1 812.5v.3"/>
<path stroke="#461769" d="M609.7 811.5v.3M605.7 812.5v.3"/>
<path stroke="#462c7a" d="M609.7 809.5v.3M608 812.5v.3"/>
<path stroke="#424085" d="M606.8 812.5v.3"/>
<path stroke="#3f4988" d="M607.4 809.5v.3"/>
<path stroke="#375a8c" d="M606.2 811.5v.3"/>
<path stroke="#34628d" d="M608.5 809.5v.3"/>
<path stroke="#2d728e" d="M609.1 810.5v.3"/>
<path stroke="#27818d" d="M606.8 810.5v.3M608.5 811.5v.3"/>
<path stroke="#acdc31" d="M607.4 811.5v.3"/>
<path stroke="#fde725" d="M608 810.5v.3"/>
</g>
<rect x="545.3" y="769.8" width="105.7" height="96.8" fill="none" stroke="#9a9a9a" stroke-width=".8"/>
<line x1="552.3" y1="866.6" x2="552.3" y2="868.2" stroke="#9a9a9a" stroke-width=".6"/>
<text x="552.3" y="873.6" font-size="6.5" text-anchor="middle" fill="#151515">-6</text>
<line x1="570.8" y1="866.6" x2="570.8" y2="868.2" stroke="#9a9a9a" stroke-width=".6"/>
<text x="570.8" y="873.6" font-size="6.5" text-anchor="middle" fill="#151515">-4</text>
<line x1="589.3" y1="866.6" x2="589.3" y2="868.2" stroke="#9a9a9a" stroke-width=".6"/>
<text x="589.3" y="873.6" font-size="6.5" text-anchor="middle" fill="#151515">-2</text>
<line x1="607.8" y1="866.6" x2="607.8" y2="868.2" stroke="#9a9a9a" stroke-width=".6"/>
<text x="607.8" y="873.6" font-size="6.5" text-anchor="middle" fill="#151515">0</text>
<line x1="626.3" y1="866.6" x2="626.3" y2="868.2" stroke="#9a9a9a" stroke-width=".6"/>
<text x="626.3" y="873.6" font-size="6.5" text-anchor="middle" fill="#151515">2</text>
<line x1="644.8" y1="866.6" x2="644.8" y2="868.2" stroke="#9a9a9a" stroke-width=".6"/>
<text x="644.8" y="873.6" font-size="6.5" text-anchor="middle" fill="#151515">4</text>
<line x1="543.7" y1="865.3" x2="545.3" y2="865.3" stroke="#9a9a9a" stroke-width=".6"/>
<text x="543" y="867.7" font-size="6.5" text-anchor="end" fill="#151515">-6</text>
<line x1="543.7" y1="847.2" x2="545.3" y2="847.2" stroke="#9a9a9a" stroke-width=".6"/>
<text x="543" y="849.6" font-size="6.5" text-anchor="end" fill="#151515">-4</text>
<line x1="543.7" y1="829.1" x2="545.3" y2="829.1" stroke="#9a9a9a" stroke-width=".6"/>
<text x="543" y="831.5" font-size="6.5" text-anchor="end" fill="#151515">-2</text>
<line x1="543.7" y1="811" x2="545.3" y2="811" stroke="#9a9a9a" stroke-width=".6"/>
<text x="543" y="813.4" font-size="6.5" text-anchor="end" fill="#151515">0</text>
<line x1="543.7" y1="792.9" x2="545.3" y2="792.9" stroke="#9a9a9a" stroke-width=".6"/>
<text x="543" y="795.3" font-size="6.5" text-anchor="end" fill="#151515">2</text>
<line x1="543.7" y1="774.8" x2="545.3" y2="774.8" stroke="#9a9a9a" stroke-width=".6"/>
<text x="543" y="777.2" font-size="6.5" text-anchor="end" fill="#151515">4</text>
<text x="550.5" y="781.5" font-size="10.19" textLength="78.2" lengthAdjust="spacingAndGlyphs">Correlation 0.474</text>
<text x="536" y="820.7" font-size="8" text-anchor="middle" transform="rotate(-90 536 820.7)">Replicate 2</text>
<text x="585" y="881.5" font-size="7.84" textLength="39.2" lengthAdjust="spacingAndGlyphs">Replicate 1</text>
<rect x="657.2" y="769.8" width="5.6" height="96.8" fill="url(#vg)" stroke="#3a3a3a" stroke-width=".35"/>
<line x1="662.8" y1="780.5" x2="664.6" y2="780.5" stroke="#9a9a9a" stroke-width=".6"/>
<text x="665.6" y="782.8" font-size="6.5" fill="#151515">700</text>
<line x1="662.8" y1="792.7" x2="664.6" y2="792.7" stroke="#9a9a9a" stroke-width=".6"/>
<text x="665.6" y="795" font-size="6.5" fill="#151515">600</text>
<line x1="662.8" y1="805.1" x2="664.6" y2="805.1" stroke="#9a9a9a" stroke-width=".6"/>
<text x="665.6" y="807.4" font-size="6.5" fill="#151515">500</text>
<line x1="662.8" y1="817.2" x2="664.6" y2="817.2" stroke="#9a9a9a" stroke-width=".6"/>
<text x="665.6" y="819.5" font-size="6.5" fill="#151515">400</text>
<line x1="662.8" y1="829.6" x2="664.6" y2="829.6" stroke="#9a9a9a" stroke-width=".6"/>
<text x="665.6" y="831.9" font-size="6.5" fill="#151515">300</text>
<line x1="662.8" y1="841.8" x2="664.6" y2="841.8" stroke="#9a9a9a" stroke-width=".6"/>
<text x="665.6" y="844.1" font-size="6.5" fill="#151515">200</text>
<line x1="662.8" y1="854" x2="664.6" y2="854" stroke="#9a9a9a" stroke-width=".6"/>
<text x="665.6" y="856.3" font-size="6.5" fill="#151515">100</text>
<text x="377.3" y="606.2" font-size="14.1" textLength="10.18" lengthAdjust="spacingAndGlyphs" fill="#111" stroke="#fff" stroke-width="0.12">H</text>
<text x="445.3" y="599.2" font-size="9.9" text-anchor="middle">WT: Guide-level</text>
<text x="446.5" y="611.3" font-size="9.9" text-anchor="middle">Log Fold Change</text>
<g fill="none" stroke="#1f77b4" stroke-linecap="round" stroke-width="1.9" stroke-opacity=".3">
<path d="M454.6 668.8h0M448.3 658.2h0M454.1 658.3h0M462.9 655.3h0M462.5 661.5h0M454.2 663h0M445.8 657.5h0M460.8 651.1h0M462.4 664h0M448.7 662.2h0M434.2 672.3h0M469.6 652.8h0M456.1 661.6h0M453.9 651.7h0M450.8 669.3h0M455.4 646.9h0M442.3 660.9h0M465 667.9h0M447.8 667.5h0M452.7 671.5h0M474.3 658.8h0M441.9 680.6h0M463.4 666.8h0M472.6 672h0M470.2 675.3h0M458.2 659.3h0M450.9 650.4h0M437.1 671.1h0M436.7 664.5h0M458.6 642.5h0M430.9 676.1h0M455.6 671.6h0M441.2 664.3h0M454 654.4h0M461.2 670.2h0M452.6 639.7h0M447.6 663.3h0M453 670.6h0M458.6 651.9h0M439 648.1h0M468 677.4h0M464.2 676h0M460.9 669h0M458.2 655.3h0M466 659.4h0M450.3 660.8h0M434.8 678.4h0M446.6 658.4h0M451.5 680.3h0M461.8 659.3h0M461.7 669.9h0M477 643.3h0M462.6 654.9h0M450.1 652.3h0M455.9 658.2h0M440 665.3h0M476.6 669.3h0M456.8 657.2h0M447.7 695.4h0M456.1 649.9h0M456.1 668.2h0M458.9 651.2h0M450.8 655.9h0M461.3 657.4h0M455.2 663.5h0M463.5 657.5h0M458.6 669.1h0M446.4 667.1h0M464.4 661.4h0M447.3 659h0M459 666.3h0M471.8 658.3h0M495.1 649.1h0M465.7 661.6h0M471.7 656.7h0M442.6 672.3h0M459.5 657.4h0M455.4 657.7h0M464.6 669.1h0M476.8 652.7h0M454.5 644.9h0M446.2 665.1h0M451.8 657.5h0M453.3 656.5h0M457.7 657.7h0M453.1 676.4h0M452.3 656.3h0M461.9 672.1h0M458.6 660h0M448.8 661.3h0M461.9 652.9h0M458.7 656.4h0M477.9 650.2h0M436.3 663h0M465 659.4h0M468.9 673h0M456 682h0M457.5 664.7h0M462.7 666.2h0M451.1 659.9h0M454 669.2h0M434.6 661.9h0M472.3 668.2h0M467.2 655.2h0M452.6 661.1h0M466 670.2h0M438.2 669.7h0M459 653.3h0M456.9 645.3h0M461.9 664.3h0M469.6 662.7h0M450 664.3h0M466.1 658.4h0M480.2 662.9h0M460.8 668.5h0M439.5 663.4h0M470.2 670.1h0M446.5 674.4h0M460 661.5h0M486.7 685.4h0M443.8 667.2h0M450.4 645h0M478.5 655.5h0M460.6 652h0M439.1 661.2h0M438.7 666.2h0M443.3 663.7h0M436.9 673.4h0M466.1 673.1h0M448.7 668.9h0M472.1 661.1h0M435.1 650.6h0M440.9 664.8h0M451 653.2h0M429.8 662.3h0M450.1 666.5h0M449.6 677.2h0M452.2 647.7h0M469 649.6h0M458.8 660.7h0M446.8 650.2h0M447.6 664.4h0M453.8 655.6h0M411.7 687.6h0M447.5 670.3h0M462.8 662h0M471.1 659.7h0M452.5 673.3h0M473.2 653.8h0M457.7 660.3h0M452.4 652.9h0M464.4 667.1h0M456.9 669.1h0M480.5 666.5h0M445.2 656.5h0M450.4 667.6h0M466.5 654.8h0M453.7 650.8h0M469.6 655.8h0M428.7 673.3h0M465.7 657.2h0M440.8 662.5h0M460.8 666h0M455.9 664.9h0M475 655.4h0M445.3 655.2h0M462.9 667.3h0M464.9 650.5h0M487 632.8h0M464.1 663.1h0M454.1 666.1h0M452.4 649.9h0M493.2 653.7h0M452.4 661.6h0M455 665.1h0M461 649.5h0M471.8 665.9h0M468.9 656.4h0M469.5 664.3h0M466.4 668.5h0M463.3 653.3h0M465 654h0M446.1 670.6h0M461.6 657.3h0M456.2 681.1h0M468.9 658.1h0M444.4 674.8h0M468.2 663.2h0M454.2 659.2h0M446.7 662.9h0M449.6 650.3h0M473.8 659.9h0M441.9 666h0M454.9 660.4h0M446 653.9h0M450.8 655h0M456.7 647.1h0M446.9 659.4h0M461.2 647.6h0M478.1 657.3h0M463.6 670.6h0M472.9 626.5h0M448.9 650h0M445 664.4h0M468.4 660.9h0M461.7 668.3h0M456.6 653.1h0M448.2 666.9h0M447.2 655.8h0M443.4 654.6h0M426.3 663.4h0M457.8 661.7h0M467.2 665.7h0M458.8 679.5h0M450.8 658.4h0M439.2 667.5h0M436.8 678.4h0M472.7 661.6h0M460.9 661.1h0M430.9 665.3h0M457.7 657.1h0M453.7 668.5h0M432.1 670.6h0M465 652.7h0M429.2 654.4h0M462.9 671.8h0M424.2 660h0M455.7 667h0M478.9 647.5h0M443.8 677.2h0M442.9 657.2h0M460.7 680.2h0M468.2 662.9h0M449.4 659.9h0M435.3 651.8h0M456.4 674.5h0M435 673.4h0M446.3 664.2h0M469.8 658h0M471.4 644.1h0M429.3 675.2h0M446.7 665.9h0M439.3 655.3h0M481 669.4h0M438.8 674.2h0M443.6 647.7h0M474.7 652.8h0M470.5 647.1h0M466.6 674.4h0M450.1 665.5h0M494.3 656h0M445.6 648.9h0M479.2 666.1h0M451.4 646.4h0M463.6 659.9h0M456.9 666.3h0M442.9 671.2h0M456 663.4h0M452.6 641.2h0M463.8 646.5h0M462.6 669h0M436.8 658.7h0M451.5 670.5h0M447.5 646.7h0M471.3 676.5h0M470 653.5h0M462.4 662.8h0M432.2 656.5h0M444 645.8h0M440.5 673.5h0M456.1 659.5h0M451.3 663.2h0M468.7 663.8h0M480.3 669.5h0M455 673.4h0M455.1 656h0M447.7 679.5h0M449.9 656.5h0M444.3 671.5h0M467.5 659.4h0M442.6 677.2h0M443.8 679.9h0M476.6 664.3h0M449.9 663.6h0M483.3 663.9h0M453.3 677.7h0M485.8 673.5h0M463.9 657.1h0M461.1 675.1h0M461 653.1h0M474.4 664.3h0M461.4 657.5h0M444.9 668.4h0M437.3 667.4h0M456.8 648.9h0M462.1 654.1h0M463.1 660.3h0M470.2 660.3h0M459.4 670.3h0M432.2 680.1h0M451.7 666.7h0M445.4 674.2h0M440.8 676.3h0M439.6 661.6h0M454.5 670.6h0M448.2 661.1h0M455.1 667.6h0M438.7 657h0M459.4 672.2h0M450.4 674.3h0M448.7 672.9h0M452 676.3h0M457.1 670.9h0M431.7 649.8h0M467.5 671h0M484.4 675h0M432.5 663.7h0M471 690.3h0M449.5 653h0M465.9 672h0M421.6 677.9h0M434.2 661.1h0M429.4 660h0M478.1 656.9h0M455.8 651h0M441.3 666.2h0M428.6 663.8h0M445.2 652.7h0M438.6 673.7h0M474.1 670.5h0M458.8 665.3h0M443.7 664.9h0M464.6 649.8h0M447.3 684.5h0M468.4 697.4h0M451.3 671.1h0M452 663.5h0M473 653h0M458.5 687.4h0M474.3 656h0M449.2 668.5h0M457.9 668.8h0M462.8 668.9h0M459.9 664h0M464.9 671.3h0M471.8 679.3h0M459.2 668.2h0M457.1 670.1h0M486.3 668.8h0M448.5 655.8h0M429.1 665.3h0M430.2 681.3h0M467.3 665.2h0M447.8 669h0M474.6 645.9h0M441.8 646.7h0M459 674.5h0M464.6 673.1h0M451.4 673.4h0M439.8 671h0M436.3 671.4h0M439.9 658.9h0M452.6 646.3h0M465.5 647.5h0M462.5 649.4h0M435.3 666.6h0M444.6 678.2h0M428.1 662.2h0M435.1 672.5h0M461.1 678.1h0M471.8 669.1h0M459 647.8h0M460.6 657.2h0M487 661.2h0M468.9 654h0M467.9 668.9h0M444.8 666.6h0M457.5 652.6h0M474.2 658.4h0M457.2 667h0M420.9 663.1h0M454.9 653h0M453.8 632.7h0M454.4 655.6h0M443.3 657.7h0M458.6 662.4h0M433.6 655.3h0M444.7 659.2h0M446.3 672.7h0M473.8 666.6h0M467 674h0M443.1 667.4h0M472.9 670.9h0M445.3 674h0M457.9 672.7h0M459.9 672.3h0M452.6 665.4h0M435.2 656.4h0M454.9 643.1h0M465.9 677h0M466.2 664.5h0M450 657.6h0M472.1 653.2h0M458.9 654.7h0M461.1 660.1h0M421.3 658.4h0M425.7 681.7h0M476.1 666h0M452.5 659.3h0M495.5 670.9h0M460.4 665.6h0M474.9 648.1h0M421.1 687.4h0M471.6 662.2h0M460.8 673.3h0M471.2 673.2h0M455.9 660.7h0M454.8 648.2h0M472.2 683.2h0M449 676.7h0M444.5 650.7h0M469.7 652.5h0M457.9 667.4h0M446.1 656.9h0M430.8 661.9h0M417.6 654h0M463 649.9h0M447.4 648.6h0M432.6 664.7h0M443.4 652.7h0M466 660.2h0M433.6 665h0M436.3 666.3h0M423.5 671.6h0M460.9 676.8h0M452.8 668.9h0M489.4 688.1h0M443.9 649.1h0M453.6 664.4h0M476.1 656.6h0M472.8 665.7h0M445.2 660.4h0M447.5 653.5h0M466.5 666.7h0M501.9 648.4h0M455 674.3h0M432.3 671.6h0M445 649.6h0M462.1 641.4h0M440.9 660h0M449.1 654.8h0M447.3 641.1h0M459.1 645.3h0M447.3 674.9h0M466.5 668.4h0M467.1 676.4h0M457.7 676.3h0M457.4 649.1h0M438.9 677.6h0M456.2 672.5h0M448 661.7h0M438.1 661.2h0M506.9 641.2h0M458.2 651.2h0M444.7 663.1h0M463.6 652.1h0M446.5 650.7h0M440.5 654.8h0M514 665.8h0M426.7 657h0M483.8 667.1h0M430.1 677h0M466.8 652.1h0M455.6 661.9h0M484.5 666.7h0M451.9 653.5h0M437.2 659.7h0M475.3 678.8h0M444.7 669.5h0M465.8 648.8h0M453.1 673.8h0M442 654.6h0M453.9 642.1h0M458.2 653.5h0M445.6 653.7h0M446.1 672.1h0M498.3 656.1h0M470.5 667.6h0M430.7 660.8h0M461 684.5h0M420.9 674.1h0M440.4 670.1h0M450.2 642.8h0M448.9 666.1h0M472.7 651.1h0M447.5 656h0M414.7 649.4h0M458.1 682.9h0M470.4 659.1h0M441.9 669h0M473.7 645.6h0M422.6 681.7h0M474.8 669.5h0M473.2 657.6h0M455.2 653.9h0M447.3 675.7h0M459.8 647.4h0M473.6 664.2h0M472.5 674.9h0M468.1 661.1h0M443.5 669.4h0M464 663.7h0M445.5 671.3h0M467.3 667.8h0M451.8 655.1h0M438 647.1h0M447.7 679.7h0M478.8 674.5h0M449.7 670.1h0M431.9 653.9h0M438.9 657.5h0M455.5 658.8h0M445.7 680.8h0M489.1 654.2h0M443.3 670.5h0M453.7 661.3h0M425.1 667.8h0M475.2 647.2h0M472.2 652.4h0M442.7 662.7h0M441.7 667.5h0M467.8 656.7h0M478.3 653.6h0M438.4 680.7h0M468.1 653.9h0M457.3 677.1h0M462.5 639.6h0M469.2 666h0M448.3 649h0M470.4 664.4h0M448 686.6h0M431.1 672.1h0M443.6 660.9h0M438.4 659.8h0M497 634.5h0M428.8 660.2h0M472.2 650.8h0M479.9 659.3h0M438.3 665.7h0M454.5 649.2h0M486.9 652.6h0M482.4 667.5h0M453 674.3h0M480.8 631.2h0M493.3 664.7h0M477.9 658.9h0M462.6 688.1h0M449 648.8h0M467.8 653h0M469.5 667.7h0M433.7 667.4h0M449.6 672.3h0M462.9 674.3h0M435.3 680.5h0M499.2 666.9h0M459.8 663.4h0M408.2 679.6h0M431.5 677.8h0M442.5 657.5h0M447.8 692.9h0M454.4 644.3h0M489.8 645.7h0M433.9 680.2h0M465 655h0M466.5 649.5h0M470.8 640.3h0M453.2 682.9h0M458.4 673.3h0M470.9 666.7h0M428.9 656.2h0M463.3 677.6h0M466 653.7h0M471 671.8h0M469.9 662h0M471.3 664.3h0M458.2 664.1h0M486.3 652.2h0M434.2 667.1h0M469.3 669.3h0M474.3 676.6h0M434.5 650.5h0M442.4 674.6h0M443.5 661.5h0M425.5 679h0M452.7 650.4h0M477.7 637.8h0M487.8 642.5h0M461 647.4h0M452.8 668.4h0M455.2 694h0M458.1 646.1h0M435.5 650.1h0M451.3 696.9h0M471.1 654.9h0M462.3 646.4h0M444.6 662.5h0M460.6 644.3h0M441.8 664.5h0M454.3 678.8h0M446.8 660.2h0M426.7 667.3h0M465.6 664.2h0M442.6 681.7h0M460.7 678.8h0M450.3 650.1h0M440.3 672h0M447.6 652.4h0M434.4 669.3h0M481.2 655.1h0M457 655.3h0M453.7 645.7h0M447.3 641.3h0M459.8 677.1h0M421.1 665h0M431.4 663h0M464.6 665.6h0M442.2 659.5h0M462.1 675.9h0M456 640.7h0M453.7 649h0M476.2 648.1h0M463.8 676.1h0M485 651.9h0M468 683.7h0M464.5 661.8h0M480.6 673.1h0M439.9 676.2h0M481 663.7h0M477.2 660.6h0M458.6 643.9h0M453.2 672.2h0M439.2 682.8h0M425.3 673.9h0M455.6 677.2h0M464.1 670.6h0M432.8 667.8h0M441 671.8h0M440.5 679.6h0M459.1 672.9h0M435.9 668.8h0"/>
<path d="M442.4 673.9h0M443.8 659.5h0M462.5 661.8h0M441.2 663.9h0M457.3 671.1h0M430.1 664.8h0M444.9 675.8h0M461.7 665.4h0M457.8 649.5h0M453.9 666.9h0M468.1 664.8h0M469.7 662.3h0M452.9 655.2h0M445.5 675.4h0M447.2 656.8h0M442.6 661h0M456.6 659.4h0M453.4 650.1h0M456.7 661.3h0M433.5 664.6h0M457.1 654.5h0M433.9 670.9h0M449.6 665.3h0M447.6 655.5h0M464.4 660.8h0M466.6 660.9h0M449.6 655.8h0M478.2 662.6h0M467.3 651.2h0M459.4 664.3h0M445.3 654.8h0M450.9 658.4h0M493.8 653h0M465.4 669.4h0M469 648.5h0M458.2 662.5h0M452.4 649h0M452.3 659.1h0M474.1 647h0M469.2 651.1h0M461.8 671.1h0M434.8 669.9h0M441.1 659.4h0M460.9 664h0M448.5 666.7h0M446.9 661.7h0M456.7 662.5h0M470.4 645.4h0M451.6 652.7h0M452.2 660.1h0M442.2 684.7h0M459.7 667.3h0M457.2 646h0M452.2 664.3h0M434.2 653.8h0M437.1 661.9h0M452.8 647.9h0M458.6 661.8h0M470.2 646.9h0M433.4 655h0M450.1 650.5h0M438.7 633.7h0M461 666.9h0M459.2 655.8h0M474.8 656h0M438.8 662.1h0M464.7 653.6h0M465.1 665.1h0M480.1 651.6h0M455.1 676h0M443.4 671.3h0M459.5 651.9h0M439.1 671.3h0M460.9 668h0M449 670.5h0M474.9 667.3h0M490.2 641.2h0M443.1 649.5h0M445.9 677.6h0M465.3 658.4h0M481 650.5h0M476.2 694.5h0M442.6 646.5h0M447.1 653.8h0M439.3 672.3h0M455.6 661.7h0M465 663.7h0M438.8 668h0M470.4 664.7h0M467.1 658.9h0M445.1 658.7h0M455.7 670.8h0M436.7 668.8h0M458.2 672.6h0M446.7 670h0M468.5 661.9h0M465.5 664.6h0M457.2 666.5h0M490 650.3h0M463.5 652.5h0M473.3 657.2h0M450.6 653.5h0M455.9 680h0M463 666.6h0M477.9 638.4h0M457.1 647h0M464.5 684.7h0M454.5 663.5h0M466.2 656.6h0M451.4 663.8h0M470.4 671.7h0M461 655.8h0M452.6 677.3h0M434.7 666.3h0M429.4 684.2h0M469.2 659.9h0M452.6 666.4h0M456.3 654h0M429.9 674.6h0M463.1 672.4h0M475.2 655.8h0M458.9 659.9h0M456.8 649.2h0M445.3 682.5h0M461.3 671.5h0M459.8 653.8h0M453 658.7h0M466.7 673.5h0M458 661.2h0M458.6 663.5h0M459.9 657.8h0M445.3 660.1h0M460.8 657h0M453.8 670.6h0M436.5 660.1h0M462.2 667.4h0M457.4 663.2h0M459.9 645.4h0M440.3 644.2h0M451.3 665.8h0M489.8 631.4h0M449.3 662.1h0M446.7 687.9h0M449.3 646.9h0M444.5 664h0M461.4 658.6h0M454.6 665.6h0M437.6 651.3h0M468.2 668.5h0M445.9 667.5h0M441.5 662.1h0M462.5 653.1h0M439.9 669.4h0M483.7 695.9h0M486.8 671.1h0M426.2 671.5h0M443.1 670.6h0M455.4 671.4h0M444.8 670.4h0M461.6 666.2h0M446.9 676.5h0M475.6 692.6h0M465.7 652.8h0M476.2 662.1h0M433.3 660.4h0M479.6 660.1h0M475.2 644h0M445.8 679.8h0M460.3 664.4h0M459.2 646.2h0M453 667.8h0M455.8 651h0M456.9 658.3h0M483 659h0M454.2 689.3h0M459.9 678.2h0M445.6 664.5h0M462.1 656.1h0M442.9 668.8h0M448.1 677.1h0M458.1 657.8h0M468.5 652.3h0M451 644.1h0M451.3 668.9h0M462.5 651.2h0M452 671.1h0M455.2 651h0M444 661.8h0M478.1 654.7h0M437.3 665.4h0M459.6 666.2h0M440.7 648.8h0M430.2 671.6h0M484.4 676.6h0M476 656.5h0M432 667h0M451.4 667.7h0M442.9 666.2h0M437.6 671.7h0M476.9 656h0M475.6 653.2h0M468.6 670.6h0M459.7 657.1h0M478.5 650.4h0M470 658.7h0M439.2 653.5h0M422.1 678.7h0M453.7 658.1h0M463.5 659.8h0M446.3 658h0M451.7 672.8h0M448.5 669.7h0M463.2 692.3h0M435.2 660.5h0M481.3 667.1h0M443.7 668.7h0M469.8 642.6h0M458.5 674.2h0M457.4 658.9h0M447.1 651.7h0M458.2 648.7h0M438.2 690.7h0M469.4 645.5h0M434.1 667.7h0M462.2 660.8h0M488.5 660h0M460.5 662.8h0M437.3 687.4h0M449.2 660h0M471.4 668.7h0M469.9 661h0M478 659h0M461.1 658.6h0M467.4 649.2h0M473.8 663.4h0M472.3 651.5h0M441.2 674.7h0M465.7 658.9h0M471.9 662.7h0M460.8 682h0M468.9 656.9h0M448.1 663.7h0M436.3 674.7h0M454.2 662.6h0M427.4 669.8h0M458.1 674.5h0M432.1 674.9h0M474.1 664.3h0M443.9 657.4h0M437.9 675.6h0M464.4 659.3h0M464.5 657h0M463.8 650.2h0M460.9 658.9h0M455.5 653.1h0M459.2 668.8h0M451.7 663.6h0M446.9 678.3h0M453.4 676.6h0M437.1 656.4h0M450.1 671.7h0M461.4 653.3h0M470.4 658.2h0M462.6 663.9h0M457.9 664.8h0M440.6 687.8h0M460.6 673.7h0M447.2 641.2h0M431.4 663.6h0M439.3 677.3h0M441.6 657.4h0M467.3 660.7h0M449.2 674.4h0M439.1 665.4h0M451 650.1h0M455.1 657.6h0M448.9 656.2h0M445.8 703.6h0M438.1 664.1h0M447.1 672.9h0M460 660.7h0M464.7 681.3h0M459.8 681.9h0M477.2 660.7h0M453.5 665.1h0M473.9 651.3h0M438.9 655h0M453.6 647.9h0M446.8 671.7h0M433.6 674h0M456.4 666.2h0M464.7 655.5h0M478.3 655.2h0M453.1 660.5h0M461.9 672.8h0M461.1 668.6h0M460.4 647.7h0M462.1 668.8h0M450.5 660.9h0M474.4 659.5h0M459.7 672.7h0M446.1 663.3h0M462.7 668.6h0M446.3 667.2h0M458.4 673.9h0M443.4 682.6h0M438.9 662.1h0M430.7 656.2h0M442.1 659.3h0M471.1 667.1h0M453 679.7h0M448.8 663.3h0M445.9 683.7h0M455.6 673.9h0M473.4 671.1h0M444.5 671.6h0M450 668.3h0M415.9 656h0M446.7 628.7h0M449 675.9h0M439.3 661h0M457 672.1h0M512.8 633h0M469.7 657.6h0M471.2 648.4h0M456.5 657h0M432.8 654.3h0M449.1 657.9h0M467 682.7h0M447.9 651.3h0M463.6 657.2h0M472.5 661.8h0M464.4 662.3h0M480.1 643.7h0M475.2 664.2h0M461.3 659.7h0M464.5 667.6h0M441.7 631.3h0M456.6 674.6h0M451.6 655.4h0M467.5 666.3h0M454.5 652h0M450.6 655.9h0M442.8 667.4h0M440.1 656.1h0M406.2 656h0M439.6 663.2h0M440.9 666.5h0M477.9 657.5h0M444.8 662.1h0M458.4 669.6h0M450.6 677.6h0M468.5 654.1h0M454.3 656.1h0M449.8 666.6h0M428.6 687.2h0M450.9 659.3h0M426.3 661.3h0M469.7 654.8h0M472 668.2h0M464 653.1h0M438 670.1h0M443.2 667.4h0M469.7 695.3h0M454.7 665.7h0M450.3 664.6h0M431.5 672.7h0M464.3 679.8h0M464.6 646.5h0M438.9 659h0M467.2 655.2h0M463.6 681.6h0M466.7 666.9h0M414.9 661.4h0M421.2 662.4h0M466.4 658.6h0M422.5 669.6h0M439 658.6h0M452 646h0M454.3 661.2h0M454.7 656.9h0M469 672h0M446.7 669.1h0M450.3 671.2h0M466.9 664h0M452.7 667.4h0M443.4 676.1h0M449.8 673.7h0M488.8 666.2h0M438.3 678h0M472.9 659h0M439.2 683.9h0M445.4 652.4h0M454.6 659.4h0M442.2 676.8h0M447.2 666.8h0M467.3 669.6h0M446.1 649.9h0M437.8 669h0M424.3 662.1h0M467.3 643.7h0M456.5 647.7h0M467.5 676.3h0M443 664.6h0M468.8 669.6h0M463.9 663.9h0M471.4 640h0M490.2 644.7h0M467.3 657.7h0M445.8 648.7h0M476.4 674.5h0M452.6 661.9h0M432.3 676.3h0M441.3 670.3h0M462.5 641.4h0M462.1 671.7h0M463.2 667.6h0M448.6 664.8h0M446.3 658.9h0M462.7 661.4h0M464 647.9h0M449 671.6h0M422.5 690.2h0M436.8 671h0M451.5 662.6h0M486.1 659.3h0M458.3 656.2h0M459.8 640.7h0M475.8 652.4h0M452.4 656.1h0M462.8 661.6h0M445 665.7h0M447.2 655.1h0M471 653.1h0M452.5 675.4h0M443.6 656h0M485.5 649.9h0M465.7 664h0M462.5 676.3h0M446.8 674.7h0M478.5 666.4h0M480.5 669.6h0M433 660.7h0M448.5 654.5h0M450.1 688.7h0M444.9 678.8h0M467.8 653.4h0M436.3 678.9h0M440.8 669.3h0M464.5 671.2h0M476.9 653.4h0M439.6 655.3h0M452.3 669h0M424.8 692.5h0M464.9 674.2h0M430.3 663.1h0M438.3 653.3h0M451 652.1h0M451.1 690.1h0M487.8 666h0M470.6 654.1h0M424.7 674.5h0M467.9 672.8h0M442 656.7h0M468 671.8h0M454.1 653.9h0M451.6 653.3h0M431.6 672.7h0M506.8 662h0M477.5 664.3h0M462.7 655.9h0M467.7 637h0M472.6 666.7h0M463.9 673.8h0M437 657.6h0M440 675.3h0M442.6 657.4h0M477 639.1h0M461.5 678h0M453.7 669.5h0M445.6 672.6h0M458.7 660.7h0M458.1 653.4h0M448.1 672.3h0M462.4 647.3h0M459.2 683.7h0M437.6 656.1h0M476.2 668.9h0M438.8 644.6h0M470.2 649.7h0M464.2 649h0M510.9 653.1h0M454.3 674.1h0M465.5 675.7h0M448.7 678.5h0M438.4 660.2h0M447.8 673.6h0M436.8 676h0M472 663.1h0M461.8 655.6h0M436.1 655h0M451.3 650.8h0M471.2 644.9h0M449.7 669.1h0M425.8 646.7h0M447.7 653.1h0M466.6 649.3h0M460.3 675.7h0M473 648.3h0M470.6 656.8h0M461 674.7h0M444.4 666.1h0M415.7 675.6h0M443.6 661.1h0M439.4 667.6h0M429.3 667.7h0M467.8 624.3h0M448.6 643.1h0M444.2 678.5h0M459.7 649h0M491.9 650.9h0M456.2 646.2h0M457.7 652.8h0M464.1 671h0M465.6 654.6h0M461.3 652.5h0M409.6 700.6h0M465.9 644.4h0M437.2 663.9h0M454.6 683.6h0M468 647.7h0M441.9 679.2h0M456.9 665h0M436.7 655.4h0M409.2 676h0M429.2 652.2h0M440.9 651.5h0M482.5 657.1h0M444.2 665.6h0M448.2 670.3h0M443.7 653h0M450.2 647.6h0M432.7 652.2h0M466.7 662.6h0M486.1 657.8h0M460.6 640.7h0M447.6 667.9h0M444.6 656h0M469.1 644.1h0M482.2 664.5h0M441 678.7h0M453.4 638.2h0M427.3 665.4h0M435.1 680.8h0M450.3 682.4h0M440.6 656.9h0M476.1 667.4h0M452.2 671.5h0M428.4 664h0M490.4 643.1h0M447.3 660.5h0M477.4 664.7h0M458.2 689h0M463.2 676.1h0M471.1 665.2h0M448.4 647.8h0M443.1 652.6h0M462.4 650.3h0M465.8 637.8h0M456 643h0M469.7 670.3h0M464.4 645.9h0M450.1 654.2h0M455.2 680.6h0M454 645.8h0M488.8 656.3h0M468.8 654.9h0M486.6 636.3h0M460.2 651.4h0M456.5 654.6h0M466 653.5h0M441.5 672.1h0M455.7 641h0M461.3 670.5h0M433.9 671.8h0M456.1 687h0M455.4 677.2h0M434.9 678.9h0M468.5 647.1h0M433.1 669h0M431.2 633.4h0M455.4 655h0M422.6 675.6h0M444.1 653.5h0M465.9 667.3h0M447.7 656.2h0M459.4 670.9h0M446.3 680.5h0M445.1 663.8h0M471.3 661.3h0M430.6 657.4h0M454.7 667.7h0M441.8 649h0M462 674.9h0M429.5 658.5h0M505.1 635.7h0M454.3 669.7h0M457.8 676h0M501.8 651.3h0M412.6 664.4h0M441.3 667.2h0M448.1 650.2h0M441 664.4h0M465.2 666.6h0M436 685.1h0M434.5 661.8h0M444.9 644.6h0M449.8 652.6h0M446.1 678.2h0M461.2 649h0M450.9 676.6h0M438.2 666.6h0M464.4 637.1h0M464.1 673.9h0M475.1 647.6h0M456.5 669.3h0M454.4 681.6h0M480.1 646.6h0M441.2 660.5h0M484.3 657.2h0M472.9 654.6h0M452.2 679.7h0M462.9 645.3h0M455.4 649.9h0M477.8 642h0M485.6 664.4h0M435.4 656.1h0M438.2 673.6h0M443.2 655.2h0M472 659.7h0M461.5 640h0M448.2 675.1h0M445.2 669.1h0M464.1 694.3h0M456 681.4h0M479.7 637h0M453.8 663.4h0M466 651.5h0M477.8 651.7h0M471 680.3h0M489.6 667.4h0M502.9 659.2h0M445.6 673.1h0M473.4 668.9h0M490.6 656h0M445.6 651.2h0M434.6 659.7h0M429.8 681h0M463 640.2h0M470.9 651h0M478.4 646.7h0M440.2 650.3h0M475.4 660h0M448.3 676.6h0M485 662.8h0M429.3 654.5h0M488.9 670.3h0M431.5 659.3h0M486.1 680.4h0M452.7 658.2h0M482.8 676.4h0M468 657.2h0"/>
<path d="M426.1 661.9h0M450 666.7h0M449.3 657.8h0M446.7 668h0M455.6 652.1h0M471.5 651.6h0M468.6 663h0M463.4 655.4h0M463.3 652.7h0M467.6 682.9h0M457.2 652.8h0M465.8 671.8h0M451.7 672.7h0M473.7 673.7h0M459 671.5h0M448.4 659.3h0M451.4 653.8h0M471.1 660.1h0M453 659h0M457.1 666.6h0M442.3 654.9h0M447.1 671.1h0M468.9 653.3h0M471.1 655.3h0M446.3 672.5h0M430.3 666.4h0M445.2 654.4h0M452.7 666.1h0M452.3 675.2h0M451.8 655.4h0M457.6 668.5h0M440.7 679.2h0M454.6 656.8h0M460.9 653.6h0M448.4 674.6h0M453.8 669.5h0M440.8 667.3h0M461.4 654.6h0M456.2 669.8h0M449.5 663.9h0M467.7 662.4h0M458 662.4h0M461.9 664.9h0M454.8 673.8h0M455.3 667.1h0M461.6 664.3h0M447 660.8h0M450.6 667.1h0M451.5 651.8h0M425.9 660.8h0M461.4 658.6h0M449 653.5h0M457.8 653.8h0M451.5 660.2h0M460 660.3h0M445.2 668.3h0M455.1 664.9h0M460.3 651.3h0M467.2 659.4h0M439 651.9h0M476.2 662.6h0M458.6 676h0M494.4 661.8h0M454 663.3h0M475.2 659.1h0M429.7 668.5h0M466.4 666.7h0M449.6 673h0M435 658.9h0M452.7 643.6h0M456.7 655.6h0M471.7 657.2h0M443.5 659h0M421.3 676.8h0M465.3 649.4h0M459.1 669.8h0M438.9 668.3h0M418 653.5h0M454.2 662.2h0M457 671.6h0M455 675.9h0M441.1 661.2h0M466.5 670.5h0M450.6 657.8h0M469.1 667h0M463.8 664.2h0M457.8 649.4h0M442.5 651.1h0M442.3 658.9h0M451 669.7h0M459.9 656h0M445.8 665.6h0M445.4 667h0M453.3 676.1h0M451.4 649.5h0M442.2 674.9h0M438 672.6h0M431.7 665.1h0M469.3 670.1h0M457.3 666.8h0M435.4 660.9h0M456 673.1h0M452.2 662.7h0M446.4 668.9h0M465.3 655.9h0M463.2 659.6h0M446.3 674.3h0M453.2 668.4h0M470.4 669.4h0M446.3 655h0M458.4 684.1h0M481.9 649.3h0M446.7 664.3h0M443.7 658.3h0M482.4 654.2h0M459.1 654.3h0M434.3 667.1h0M453.7 671.7h0M445.6 672.5h0M456.8 696.8h0M457.5 669.3h0M463.6 643.7h0M449.9 661.8h0M465.8 661.6h0M484.9 656.7h0M473.9 661h0M443.5 676.8h0M452.5 665h0M456 656.8h0M451.1 660.7h0M462.4 651.9h0M460 657.5h0M442.3 656.7h0M439.3 680.5h0M460.1 657h0M465.7 664.4h0M453.2 658h0M442.6 661h0M471.3 676.5h0M444.7 674.9h0M438.1 668.2h0M459.5 663.9h0M428.5 668h0M457.4 665h0M448.4 666.4h0M454 651.8h0M447.5 664.9h0M492.2 659.6h0M451.4 662.5h0M472.3 668.7h0M484.8 653.7h0M448 655.2h0M467 658.7h0M471.2 668.4h0M466 656.1h0M473.6 663.7h0M463.7 664.8h0M471.5 652.1h0M455.1 659.2h0M448.8 656.6h0M464.9 659.8h0M473.6 653.6h0M449.2 674.2h0M458.7 665h0M459.6 666.3h0M454.9 660.7h0M458.5 658.8h0M464.9 662.6h0M474.6 656.9h0M466.1 663.8h0M460.8 683.1h0M474.3 666.1h0M471.9 665.2h0M440.8 664.1h0M467.4 655.6h0M451.9 657.2h0M459.2 660.2h0M479.6 659.7h0M444.9 652.2h0M434.6 660.4h0M446.4 686.4h0M433.2 659h0M447.5 669.4h0M490.5 654.4h0M456.8 659.7h0M457.4 651.5h0M461.6 669.8h0M457.4 656.1h0M445.7 658.8h0M439.1 669.2h0M436.1 678.2h0M462.5 676.7h0M450.1 657.1h0M450.3 663h0M463.9 671.5h0M455.2 670.3h0M451.4 655h0M448.5 644.4h0M463.3 646.5h0M447.8 673.3h0M448.8 670.3h0M461.6 667.6h0M478.2 674.7h0M447.3 664.1h0M469.9 647.6h0M450 665.5h0M479.4 653.6h0M430.4 657.4h0M458.1 673.1h0M450 659.8h0M429.2 669.5h0M437.3 661.5h0M474 658.6h0M465.6 660.7h0M454.5 645.5h0M462.6 662.5h0M432.4 671.5h0M464 650h0M454.8 661.6h0M436.1 656.5h0M442.5 648.5h0M446.9 649.7h0M463.1 674.4h0M464.7 669.5h0M472.4 665.9h0M440.1 658.6h0M457.4 671.2h0M464.1 657.9h0M475.3 650h0M460 654.7h0M462.7 662.7h0M445.1 673.2h0M456.1 695.5h0M455.3 666.7h0M445.2 646.2h0M461.8 672.8h0M444.5 660.6h0M427.9 669.2h0M453.5 670.4h0M482.3 670.7h0M467.8 678.8h0M454.3 656.3h0M465.1 673.7h0M454.6 658.4h0M491.2 656.1h0M459.4 655.1h0M462 659.4h0M422.5 666.7h0M461.3 644.8h0M450.4 679.7h0M463 658.4h0M456.1 653.3h0M440.1 658.9h0M446.7 664.5h0M443.4 654.9h0M437.6 659.2h0M439.5 662.9h0M458.5 662.7h0M469.9 649.7h0M456.4 651.7h0M452.3 659.2h0M446.5 654.4h0M436.9 653.4h0M444.5 678.4h0M454.9 663.5h0M449.9 641.7h0M461.1 648.8h0M458.9 670.2h0M481.8 651h0M438 666.5h0M461.2 664.6h0M456.9 679.1h0M453.3 674.2h0M451.3 652.4h0M454.6 651.7h0M466.5 654.1h0M401.2 638.1h0M444.9 651.5h0M460.3 669.1h0M467.2 675.2h0M449.9 643.2h0M501.2 664.5h0M476.5 642.8h0M469.2 643.7h0M464.1 657h0M456.1 651.9h0M469.7 653.3h0M467.1 661h0M449.3 668.2h0M457.1 676.6h0M466.8 637.5h0M451 665.4h0M422.2 665.1h0M462.6 665.9h0M467.6 651.5h0M441.6 662.8h0M446.7 658.8h0M461 666.7h0M427 650.2h0M466.4 667.9h0M460.6 652h0M459.7 668.3h0M475.6 672.2h0M451.2 651.5h0M450.8 671.6h0M473.1 665.5h0M457 670.3h0M447.4 687.3h0M459.4 658.5h0M451.6 663.7h0M443.4 663.8h0M433.2 673.2h0M439.8 675.2h0M447.1 647.6h0M441.8 670.3h0M464.8 646.8h0M434 663.5h0M443.5 666h0M450.5 676.3h0M448.5 668.4h0M431 664h0M447.4 671.6h0M451.7 668h0M443.6 670.5h0M440.1 666.8h0M462.3 641.9h0M451.3 673.9h0M476 637.9h0M464 660.7h0M464.6 652.1h0M432.7 668.3h0M437.8 650.3h0M466 659.9h0M469 661.3h0M453.2 653.2h0M435.4 658.5h0M449.4 669.6h0M445.6 668.7h0M455.4 671.6h0M440.4 664.7h0M466.1 657.9h0M474.3 655.4h0M476.4 656.2h0M475.7 650.6h0M467.9 677.2h0M445.6 662.6h0M461.4 671.1h0M459.6 649.9h0M453.3 660.6h0M460.7 668.3h0M450.9 671.3h0M444.4 664.4h0M430.6 649.8h0M444.8 664.2h0M465.3 663.4h0M452 654.5h0M471.2 661.7h0M446.3 662.3h0M469.4 662.1h0M458.1 663h0M448.3 661.6h0M440.2 661.2h0M467 649h0M439.7 677.3h0M458.2 644.5h0M460.5 662h0M473.4 670.6h0M452 650.5h0M448 661.2h0M488.4 668.8h0M417.4 664.2h0M460.8 659.2h0M476.1 654.7h0M449.8 678.5h0M451.9 669.4h0M484.7 659.8h0M444.1 673.7h0M468.1 653h0M472.2 663.1h0M470.1 667.1h0M470.7 665.3h0M463.1 670.6h0M467.9 628.8h0M432.4 669.4h0M459.4 651.9h0M473.6 669.7h0M437.1 673.3h0M452.4 670.5h0M470.8 658.4h0M454.2 647h0M440.9 659.4h0M480.5 662.1h0M462.5 656.3h0M454.6 653.8h0M473.3 652.9h0M477.8 650.1h0M444.7 657h0M476 658.4h0M440.9 674.7h0M469.6 659h0M460.2 644.6h0M472.9 659.7h0M486.8 662.4h0M446.1 650.9h0M435.7 676.4h0M431 681.2h0M480.6 639.6h0M454.6 680.4h0M469.5 652.5h0M434.2 671h0M448.1 650.2h0M464.7 656.4h0M429.3 677.8h0M428.5 657.5h0M431.8 668.7h0M482.9 655.7h0M464.9 651.7h0M432.9 663.3h0M429.3 655.7h0M455.4 674.5h0M462.2 672.4h0M476.7 656.4h0M441.7 670.1h0M478.4 663.1h0M483.7 686.9h0M459.8 678.6h0M450.8 684.5h0M471.2 657.8h0M469.8 656.6h0M465.8 668.7h0M464.5 661.2h0M451.1 659h0M444.3 680.6h0M434.8 679.2h0M461.1 672.8h0M437 660.9h0M428.2 662.9h0M444.8 658.3h0M462.9 665.8h0M438.8 669.6h0M404.9 673h0M423.4 658.1h0M450.5 648.4h0M475.4 660.9h0M454.2 664.4h0M423.9 663.9h0M459 648.9h0M447.2 652.9h0M447.8 646.2h0M467.2 663.8h0M431.3 670.1h0M468.3 653.5h0M466.3 682.4h0M468.9 651.1h0M434.6 658.1h0M449.3 649h0M437.8 675.8h0M475.9 673.8h0M471 680.3h0M449.6 651.2h0M448.9 660.7h0M455.9 646.4h0M482.6 665.9h0M443.2 653.9h0M447.4 652.1h0M466 644.3h0M452.9 643.7h0M473.1 642.1h0M482.7 667.8h0M506.2 668.1h0M446.6 658.3h0M476.9 660.2h0M420.7 657.5h0M428 675.8h0M485.8 644.1h0M463.6 689.4h0M466.9 676.3h0M425.7 633.7h0M439.1 646.6h0M468.6 645.2h0M445.4 655.6h0M470.4 659.7h0M449.6 647.2h0M442.6 668.9h0M456 634.7h0M461 674.3h0M434.5 658.8h0M435 671.6h0M448.5 656.6h0M449.7 636.8h0M456.9 682.2h0M459.5 636h0M477.3 653.1h0M455.1 678h0M474.5 667.1h0M428.9 653.5h0M444 667.3h0M437.2 664h0M451.6 658.7h0M462.8 668.8h0M477 653.4h0M462.1 654h0M473.9 657h0M463.9 651.6h0M456.8 660.7h0M434.9 677.4h0M455.8 663.4h0M469.2 687.4h0M455.2 669.8h0M436.4 664.3h0M436.5 669.1h0M444 674.6h0M452.6 648.9h0M426.3 658.1h0M437.8 671.1h0M427.1 671.1h0M423.7 646h0M464.6 647.7h0M470.9 661.4h0M434.4 673h0M455.8 662.2h0M434 662.5h0M449.4 655.4h0M478.5 639.4h0M483.9 644h0M465 671.4h0M470.9 670.6h0M482.9 641.9h0M409.2 681.5h0M446.9 684.1h0M443.3 653h0M458.7 633h0M438.5 665.5h0M464.3 667.4h0M419.6 668.1h0M456.9 649.1h0M442.4 663.4h0M442.1 666.6h0M457.8 660.3h0M439.7 679.6h0M453.6 674.1h0M440.3 657.1h0M441.6 650.6h0M457.3 655.9h0M472.7 649h0M455.7 665h0M445.4 676.3h0M470.4 674.1h0M458.6 680.8h0M466 652h0M434.5 665.8h0M444 648.4h0M489.1 650.9h0M473.8 657.5h0M464.6 679.3h0M477.7 654.5h0M464.7 653.7h0M444.2 647.1h0M450.7 677.5h0M445.6 678h0M465.5 665.7h0M489.2 665.8h0M430.4 659.2h0M459.6 677.7h0M468.3 664.8h0M469.9 643.6h0M454 683.7h0M453.7 645.7h0M470.8 672.7h0M462.5 649.4h0M470.4 652.6h0M469.1 667.7h0M449.4 653h0M472 646.6h0M447.6 654.5h0M434.4 668.6h0M473.3 654.8h0M484 661.1h0M463.3 648.3h0M440.1 664.2h0M444.1 660.9h0M459.7 673.3h0M459.1 651.5h0M465.3 637h0M463.6 668.2h0M427.7 686.1h0M417.4 666.6h0M459.8 659.5h0M450.9 666.8h0M432.4 660.9h0M445.4 647.5h0M446.7 675.8h0M455.5 655.2h0M455.9 644.7h0M453.3 680.2h0M467.5 668.1h0M458.6 683.1h0M470.6 654.8h0M487.4 664.2h0M408.8 669.6h0M466 655.7h0M426.9 665.7h0M412 683.9h0M474.3 652h0M486 655.5h0M438.9 664h0M460.4 676h0M502.5 639.2h0M434.7 664.6h0M448.9 671.9h0M480.5 638.9h0M459.7 645.8h0M457.2 671.6h0M441.3 669.6h0M420.7 668h0M443.6 678.7h0M469.1 681.1h0M447.4 650.9h0M413.5 662.8h0M450.9 674.7h0M508 634.8h0M431.4 652.8h0M439.3 655.2h0M432.3 684.1h0M482.8 656.9h0M469.7 684.9h0M471.1 645h0M445.6 649h0M442.4 676.2h0M421.9 664.5h0M440.8 679.9h0M485.9 657.8h0M473.2 699.3h0M458.1 647.4h0M457.7 676.2h0M494.3 650.6h0M454.1 665.9h0M466.5 645.3h0M438.9 673.5h0M448.5 671.2h0M453.1 651.5h0M422.6 688.5h0M464.5 664.4h0M433.1 683.8h0M476.5 641h0M457.5 657.5h0M473.8 666.5h0M469.4 658.1h0M436.5 666h0M436.7 674.4h0M461 649.1h0M439 665.1h0M443.7 691.4h0M481.1 655.3h0M447.9 657.8h0M491.7 669.6h0M443 658.6h0M427.7 666.7h0M436.7 676.4h0M485.3 668h0M472.6 662.4h0M470.4 667.1h0M472.3 649.4h0M467.7 673.1h0M481.2 669.7h0M479.3 678.4h0M460.8 663.8h0M430 684.8h0M463.7 653.6h0M454 655.5h0M461.4 681.1h0M461.8 645.6h0M432.3 670.7h0"/>
<path d="M440.5 676.1h0M457.1 670.8h0M458.5 654h0M460.2 666.9h0M453.9 670h0M473 653.7h0M438.5 673.7h0M459.8 677.6h0M469.6 650.6h0M465.5 661.5h0M463.2 660.4h0M463.4 666.7h0M454.3 666.7h0M448.1 659.1h0M475.4 654.2h0M457.7 659.8h0M461 659.5h0M462.5 659.4h0M462.3 654.7h0M425.5 686.2h0M447.2 664.5h0M451.6 668.4h0M456.7 640.1h0M466.1 673.1h0M452.2 676.1h0M456.3 675.9h0M460.7 669h0M445.3 656.9h0M467.6 663.9h0M449.9 667.1h0M451.7 659h0M430.5 696.2h0M449.5 666.5h0M432.8 670.6h0M470.9 672h0M453.7 653.4h0M457.9 662.8h0M447.6 662.4h0M438.5 660.6h0M459.3 653.1h0M449.3 651.6h0M465.6 672.5h0M477.9 667.6h0M455.7 660.7h0M447.5 670.3h0M443.7 669.2h0M447.4 661.2h0M486.4 681.8h0M458.6 656.8h0M468.5 653.8h0M455.2 673.3h0M434 663.9h0M460 657.5h0M453.6 652.1h0M451.4 663.7h0M459.7 651.6h0M480.3 657.9h0M459.9 671.4h0M463.6 659.7h0M451.1 657.4h0M441.5 679h0M452.8 665.7h0M469.9 657.2h0M475.8 662.5h0M425.7 670.2h0M447.6 663.8h0M462 658h0M471.5 653.7h0M455.2 663.4h0M457.3 672.3h0M455.8 652.1h0M461.4 654.3h0M456.6 662h0M457.3 676.7h0M453.3 656.2h0M464.4 653.9h0M455 660.1h0M448.9 649.6h0M469.4 656.1h0M474.4 662.5h0M462 664.3h0M445 674.8h0M466 663.6h0M468.9 671.1h0M454.6 664.4h0M457.4 657.5h0M453.6 679.9h0M463.5 670.8h0M446.4 663.6h0M470.4 673.9h0M448.4 664.6h0M485.3 667.9h0M463 672.6h0M403.1 681.5h0M417.5 671.9h0M439.8 667.2h0M463.5 656.9h0M466 669.4h0M450 658.8h0M411.5 672.2h0M449.7 671.1h0M463.1 661.7h0M454.2 662.2h0M459 665.3h0M472.5 657.6h0M487.8 674.4h0M470.1 668.4h0M460.5 657.1h0M504.9 642.4h0M449.2 675h0M451.1 688.6h0M439 658.1h0M460.8 663.8h0M458.9 661.6h0M462.8 649.3h0M460.2 649.7h0M452.6 657.5h0M477.9 657.5h0M456 657h0M469.8 652.3h0M440.4 670.3h0M468.7 680.1h0M468 658.8h0M459.1 645.9h0M463.8 650.4h0M469.1 672.7h0M452.9 676.6h0M463.7 655.8h0M445.9 663.8h0M452.2 661h0M470.4 660.9h0M449.9 673.2h0M453.6 668.7h0M475.3 665.7h0M445.7 646.6h0M450.9 642.4h0M440.3 658.9h0M441.3 641.6h0M461.1 654.3h0M469.3 658.1h0M449 671.9h0M449.9 668.8h0M439.1 671.2h0M446.8 652.4h0M464.9 660.1h0M473.1 650.5h0M404 671.1h0M444.8 661.8h0M440.4 662.4h0M472.9 647h0M447.1 650.2h0M465.2 672.1h0M466.1 665h0M451 667.5h0M455.3 674.2h0M482.1 655.7h0M469.6 667.5h0M469.5 660.8h0M447.5 648.7h0M462.1 666.4h0M442.6 673.6h0M465.7 665.9h0M445.9 652.2h0M441.3 669.2h0M455.6 662.9h0M471.8 649.6h0M475.4 671.4h0M439 659.5h0M473.1 655.8h0M457.8 678.6h0M457.9 667.5h0M449.9 661.2h0M473 652.9h0M440.3 662.8h0M407.2 675.8h0M455 671h0M466.6 670h0M478.1 653.3h0M493.3 671.3h0M451.7 651h0M465.5 670.5h0M447 659h0M463.4 673.2h0M438.6 670.7h0M448.7 663.8h0M464.2 656.7h0M453.8 646.7h0M465.4 664.6h0M465.7 647.9h0M438 672.2h0M462.5 670.6h0M465.9 658.3h0M442.7 658.6h0M442.7 652.8h0M456.2 667.2h0M436.7 659.7h0M454.8 643h0M457.7 655.9h0M462.8 667.3h0M447.4 667h0M461.2 662h0M465.7 653h0M443.9 662.5h0M442.5 664.4h0M450.6 670.6h0M448.3 655.9h0M431.5 660.4h0M463.8 647.5h0M462.1 667.1h0M489.2 644.3h0M481.1 664h0M477.1 672.9h0M468.4 655.6h0M447.6 675h0M426.1 662.4h0M468.6 664.8h0M448.7 655.3h0M450.6 668.6h0M456.6 666.9h0M446.7 661.1h0M454.3 667.2h0M442.5 670.5h0M432.4 672.5h0M449 665h0M441.6 667.7h0M433 664.2h0M476.2 670.4h0M470 664.7h0M468.1 656.1h0M456.7 661.4h0M453 641.7h0M448.2 652.1h0M455 657.3h0M448.7 681.6h0M433.9 658.2h0M455.2 669.5h0M461 652.1h0M465.5 648.7h0M442.1 653.6h0M479.7 660.3h0M445.7 683.5h0M489.3 652.8h0M471.3 650.4h0M441.7 661.8h0M491.3 662.7h0M457.7 657.2h0M432.5 649.5h0M430.4 670.3h0M452.2 652.9h0M479.2 664.9h0M443.3 649.3h0M451 655.6h0M448.6 643.8h0M468 655.7h0M462.3 651.7h0M454 672h0M490.4 682.8h0M479.5 663.6h0M456.2 665.4h0M459.2 670.2h0M462.9 642.8h0M444.8 640.3h0M468.2 651.6h0M452.7 654.3h0M442.6 660.4h0M431.7 672.2h0M458.3 664h0M455.5 668.3h0M471.6 658.7h0M466.6 654.3h0M450.9 665.6h0M431.6 669.9h0M472.5 660.9h0M445.9 671.7h0M436.6 674.5h0M476.3 657.9h0M456.4 675.2h0M459.4 679.3h0M407.1 656.8h0M453 659.9h0M476.8 671.4h0M456.5 678.4h0M461.7 662.4h0M432.9 655.8h0M465.3 662.2h0M454.7 653.3h0M436.6 647.9h0M460.4 651.3h0M454.7 625.3h0M472.6 656.6h0M440.4 672.5h0M463.7 653.4h0M469.9 653.5h0M464.1 658.9h0M446.4 656.3h0M474.8 656.4h0M438 658.8h0M461.2 665.7h0M461.5 664.7h0M471.3 658.8h0M464.8 667h0M467.8 649.7h0M456.9 663.6h0M444.8 667.5h0M446.3 670.8h0M443.5 650.9h0M459.3 660.3h0M440.7 674.3h0M438.5 679.6h0M462.9 664h0M472.2 660.1h0M452.9 644.2h0M469.4 677.2h0M458.7 663.9h0M475.1 655.2h0M446.7 678.9h0M458.7 655.1h0M471.7 677.3h0M474 664.5h0M495.7 657.3h0M453.5 682.6h0M419.7 660.7h0M459.7 665.9h0M469.2 673.4h0M455.4 681.4h0M455.3 641.5h0M470.1 646.7h0M447.1 667.6h0M433.9 669.3h0M490.4 660.3h0M472.9 649.8h0M464.1 663.2h0M435.3 650.7h0M461.2 677.7h0M485.6 642.4h0M450.5 660.1h0M486.4 658.3h0M474.3 668.2h0M403.7 690.5h0M467 669h0M452.3 672.5h0M486.3 654.2h0M410.4 685.8h0M442.8 664.2h0M452.4 646h0M471.4 668.3h0M462.7 669.2h0M464.1 664.4h0M443.1 675h0M465.7 698.1h0M468.8 663.9h0M473.8 678h0M456.5 649h0M445.8 657.8h0M454.3 660.3h0M443.9 652.9h0M475 660.2h0M442.6 667.2h0M436.9 649.4h0M453.4 662.9h0M465.2 655h0M444.9 675.9h0M471.2 661.8h0M466 651.4h0M458.2 672.8h0M445.8 669.4h0M445.2 653.7h0M479.7 659.3h0M440.8 677.3h0M477 651.8h0M436.1 658.1h0M447.5 653.6h0M436.8 665.9h0M458.5 665.9h0M462.2 661.1h0M456.1 646.4h0M459.7 650h0M455.7 672.3h0M443.2 661.2h0M447.6 646.4h0M453 651.1h0M476 655.1h0M456.5 672.7h0M465.8 661.6h0M440.2 675h0M452.6 656.3h0M450.6 659.2h0M470.3 641.4h0M444.7 670.3h0M481.5 674.4h0M476 675.1h0M444.3 671.1h0M478.7 646.3h0M467 662.8h0M475.9 659.8h0M472.8 659.2h0M456.7 648.5h0M466.4 643.2h0M454.4 656.4h0M454.8 652.8h0M452.8 676.9h0M444 665.7h0M455.6 648.5h0M452.4 639.6h0M453.5 655.5h0M455.6 651.5h0M438.4 663h0M440.8 661.4h0M438 680.2h0M491.7 646.4h0M436.1 661.5h0M445.2 645h0M480.8 668.8h0M444.9 660.8h0M444.5 658.3h0M448.6 672.2h0M465.9 654.7h0M451.2 673.6h0M435.7 686.3h0M447.9 667.5h0M448.9 652.1h0M435.3 665.8h0M481.3 657.5h0M406.7 669h0M442.5 682.9h0M434.7 646.6h0M476 657.1h0M450.6 649.5h0M426.6 668.3h0M469 652.5h0M456.8 677.5h0M447.5 658.5h0M452.5 662.7h0M457.3 671h0M464 668.6h0M455.5 680.9h0M466.8 645.8h0M475.1 649.5h0M482.7 660.8h0M471.8 670.9h0M447.9 650.1h0M459.4 657.9h0M459 676.4h0M472.8 669h0M490 664.8h0M500.8 662.3h0M459.3 659.1h0M451.4 656.9h0M435.7 662.5h0M455.9 654.5h0M476.1 650.8h0M468.7 662.1h0M412.5 685.2h0M440 656h0M464.2 646.7h0M452 654.6h0M416 655.7h0M433 678.5h0M448.2 644.9h0M465.4 668.3h0M468.6 659.1h0M454.2 658.1h0M458.3 668.5h0M444.1 655.9h0M481.3 661h0M445.3 666.9h0M442.1 666h0M466.3 656h0M436.4 671.1h0M459.8 673h0M471.8 655.3h0M467 661h0M445 673.4h0M437.7 666.5h0M432.6 668.9h0M451 682.2h0M460.5 667.5h0M488.5 661.8h0M447.1 669.8h0M463.6 677.3h0M449.2 662.4h0M453.9 645.5h0M465.4 679.1h0M478.8 678.9h0M462.1 656.3h0M434.1 676.5h0M437.6 654.9h0M452.6 663.2h0M449.7 657.5h0M457.7 664.5h0M425.3 668.7h0M441.1 665.8h0M460.4 675.9h0M429.2 657h0M442.2 656.1h0M447.4 685.1h0M473.1 671h0M490.6 659.7h0M462.1 673.1h0M472.9 665.2h0M449.5 656.4h0M435.9 668h0M471.7 674.9h0M441.2 658h0M440.1 661.1h0M459.2 680.9h0M459.7 684h0M434.8 673.1h0M451.4 662.7h0M452.6 669.3h0M467.3 675.1h0M439.3 664.9h0M464.8 650.2h0M467.7 664.4h0M489.1 655.1h0M444.6 655.4h0M463.5 680.9h0M456.9 658.3h0M476.9 664.3h0M432.5 660h0M446.5 666.6h0M477.1 646.3h0M446.8 680.8h0M476.3 673.3h0M429.1 656.4h0M460 654.9h0M464.6 652h0M455.2 655.7h0M464.4 674.6h0M480.4 671.9h0M441.6 650.2h0M450.8 684.6h0M451.5 648.6h0M462.4 640.5h0M463.7 658.6h0M480.6 656.2h0M498.4 646.4h0M475.2 646.9h0M450.2 672.7h0M470 666.8h0M439.2 669.6h0M464.8 658.5h0M456.5 659.2h0M448.5 679.1h0M466.9 671.7h0M445.3 644h0M457.7 645.1h0M479.5 653.8h0M448.4 643.1h0M466.5 658.7h0M437.1 661.2h0M435 664.1h0M461.3 672.1h0M453.3 664.8h0M446.6 692.2h0M450.2 650.9h0M433.3 657.3h0M454.5 671.5h0M444.4 666.9h0M475.8 640.7h0M452.5 670.1h0M481.1 645.2h0M463.2 652.2h0M426.2 666.5h0M500.1 673.2h0M435.4 647.4h0M468 652h0M467.9 671.3h0M456.9 669.2h0M443 676.5h0M479.6 661.8h0M433.7 673h0M487.1 670.2h0M468 667.7h0M469.4 649.4h0M466 682.5h0M439.2 676.3h0M463.1 676.9h0M481.5 666.3h0M449.3 654.4h0M457.5 660.7h0M438.4 695h0M461.7 687.4h0M458.1 650.5h0M444.8 648.9h0M428.2 667.2h0M440.7 663.3h0M451.1 676.4h0M429.7 661h0M423.4 658.7h0M457.2 648h0M459.7 675.1h0M451.1 653.7h0M439.9 649.6h0M460.4 671.2h0M448.3 669h0M471.3 648.4h0M438.4 653h0M453.1 666.4h0M426.9 647.8h0M434.3 668.5h0M477.2 662.2h0M452.9 666.6h0M472.9 673.8h0M484.4 664.6h0M500.3 653.3h0M468.8 669h0M449.4 679h0M472.3 656.4h0M474.1 658.3h0M460.5 673.1h0M407.8 683h0M428.6 670.6h0M460.5 640.2h0M460.4 646.6h0M445 678.7h0M401.1 665h0M481.6 659.7h0M467.8 676.3h0M472.2 636.3h0M452.7 675h0M474 663h0M469.2 646.5h0M464.6 643.1h0M435.4 656.3h0M443.2 647.8h0M489.3 681.6h0M465.7 649.7h0M437.3 668.4h0M446.9 654.1h0M515.9 698.6h0M465 678.1h0M470.4 669.3h0M432.9 668h0M468.7 666.6h0M424.1 672.7h0M452.6 647.4h0M437.9 662h0M481.2 676h0M425.1 641.2h0M443 669.4h0M439.4 673.6h0M431.7 658.3h0M427.2 675.5h0M440 663.2h0M485.1 666.7h0M429.1 700.1h0M462.1 644.4h0M437.4 665h0M452.5 673.9h0"/>
<path d="M465.7 650.5h0M468.8 658.8h0M444 660.6h0M470.4 641.4h0M465.4 654.7h0M449.7 672.5h0M454.2 654.7h0M481.6 649h0M445.9 659.3h0M454.1 671.1h0M458.1 649.5h0M448.7 660.8h0M463.4 661.2h0M454.1 666.4h0M468.4 667.2h0M432.1 649.8h0M467.9 660.4h0M443.5 661.7h0M469.8 682.3h0M455.6 663.9h0M446.4 674.9h0M455.6 644.3h0M434.8 666h0M444 668.9h0M433.3 661h0M455.4 674.3h0M466.8 664.2h0M443.6 650.6h0M465.4 660.4h0M453.7 651.7h0M455 656.3h0M458.3 667.4h0M467.9 656.4h0M445.8 666.8h0M472.6 653.9h0M446.2 624.9h0M467.4 653h0M454.7 666.8h0M463.1 669.3h0M461.6 656.7h0M453.9 664.9h0M444.9 673.7h0M457.9 647.2h0M460.2 658h0M447.3 648.3h0M436 644.7h0M440.1 695.4h0M480.7 678.4h0M444.7 661.1h0M451.7 661.2h0M448 667.3h0M447.4 677h0M479.4 678.3h0M462.5 652.2h0M443.7 664.6h0M449 651.1h0M416.7 671.8h0M451.8 659.7h0M439.7 669.5h0M446.4 660.9h0M449 661.9h0M458.9 673.1h0M486.6 651.9h0M445.1 669.2h0M428.2 644.1h0M455.4 659h0M444.9 662.7h0M467.6 659.3h0M427 659.7h0M441.7 675.4h0M442.4 667.5h0M441.5 671.8h0M459.5 656h0M475 639.1h0M444.3 663.6h0M480.6 662.5h0M471.4 655.6h0M436.5 660.9h0M459.8 665.9h0M459.5 657.8h0M452.7 669.1h0M460.5 663.3h0M453.4 669.4h0M448.4 657.5h0M423.8 667.9h0M444.4 659.7h0M467.8 664.7h0M443.6 656.1h0M469.6 675.7h0M471.4 666.3h0M443.8 666.6h0M460 655.4h0M472.6 673.1h0M475.1 654.2h0M464.6 668.3h0M450.7 674.6h0M445.9 663.1h0M450 678.5h0M471.6 657.1h0M447.3 669.2h0M452.2 663.8h0M461.9 647.9h0M448 656.3h0M420.7 658.4h0M462.9 657.1h0M440.5 667.2h0M445.8 654h0M471 656h0M457.3 669.3h0M455.2 661.5h0M451.7 657.6h0M476.6 666.8h0M452.6 662.1h0M440.1 662.6h0M446.4 664.6h0M443.4 671.3h0M452.4 679.2h0M468.2 671.2h0M437 661.8h0M462 653.7h0M450.6 663.2h0M459.3 661.9h0M451.6 655.3h0M467 658.5h0M439.7 680.9h0M462.5 658.9h0M432.2 668h0M451.5 649.8h0M457 653.4h0M459.7 668.2h0M409.4 668.7h0M460.6 656.2h0M461.7 664.6h0M455.7 685.9h0M442.4 653.9h0M449.3 668.8h0M449.1 673.4h0M473.4 655.4h0M436.8 651.2h0M479.2 666.3h0M457.8 650.6h0M464.4 665.4h0M453.5 661.7h0M460.3 667h0M442.7 678.2h0M475.8 660.2h0M464.2 663.7h0M469.8 670.7h0M450.7 664.9h0M449.7 652.8h0M460.7 660.8h0M485.8 662.5h0M453.5 660.9h0M447.6 665.5h0M433.2 670.9h0M428.6 679.7h0M428.3 666.1h0M470.4 655.5h0M459.3 670.9h0M447.5 645.6h0M477.7 657.7h0M438.1 649.4h0M447.5 663.4h0M470.2 660h0M439.3 666.4h0M453.3 680h0M440 682.8h0M450.3 659.9h0M439 661.2h0M457.3 658.5h0M431.6 666.3h0M459.3 653.1h0M474.6 675.7h0M440.6 670.6h0M438.3 661.6h0M480 647.8h0M460.7 672.6h0M440 658.7h0M458.5 647.2h0M452 653.4h0M472 645.7h0M431.3 667.9h0M444.1 680h0M465.3 656.9h0M465.5 640.4h0M448 674.5h0M473.2 650.8h0M447.3 666.5h0M478.8 656h0M451.8 650.2h0M452.8 653h0M469.8 654.2h0M457.6 659.1h0M476.6 654.2h0M423.8 667h0M466.1 665h0M452.8 674.5h0M458.2 674.1h0M465.4 646.1h0M470.9 666.8h0M452.7 670.2h0M441.5 672.7h0M463.6 664.8h0M439 679.1h0M439.7 663.9h0M453 659.1h0M457.2 664.1h0M416.2 678.7h0M449.3 665.5h0M460.5 661.5h0M459.6 674.2h0M436.7 681.4h0M454.5 649.9h0M448 653.5h0M420.9 661h0M464.6 657.4h0M446.2 652.3h0M450.9 657h0M452.1 668.2h0M476.7 662.9h0M457.5 669.9h0M468 667.4h0M440.5 669.5h0M454.2 652h0M455.3 650.5h0M444.2 668.2h0M436.6 674h0M463.7 652.1h0M447 660h0M458.7 660.4h0M440.9 676.6h0M453.4 697.1h0M446.6 658.2h0M436.8 654.9h0M431.5 662.6h0M456.9 643.8h0M464.3 662.5h0M438.3 665.6h0M476.3 657.8h0M451.8 665.2h0M460.5 658.8h0M500.6 643.8h0M460.9 671h0M472.2 654.4h0M438.3 666.8h0M484.2 665.7h0M447 648.1h0M446.1 670.5h0M473.6 652.2h0M463 677.2h0M487.9 650.1h0M437.4 688.4h0M441.2 654.3h0M454.1 664.3h0M445.1 649.8h0M470.2 645.8h0M444.9 644.4h0M451 661.3h0M469.1 654.3h0M448.8 668.4h0M467.8 649.7h0M466.1 656.4h0M467.1 654.6h0M441.6 660.9h0M427.9 684.3h0M449.5 653.9h0M480.8 630.2h0M448.5 647.4h0M458 673.7h0M446.2 655.4h0M467.6 668.7h0M455.4 641.1h0M431.5 659.9h0M468.3 663.5h0M456.8 658h0M453.1 667.6h0M462.6 662.3h0M424.5 668.7h0M478.3 658.1h0M445.9 661.7h0M437.9 651.1h0M474.4 657h0M429.4 666.8h0M471.4 664.1h0M469.1 656.5h0M442 671.4h0M452.3 671.8h0M463 655.5h0M462.9 675h0M453.2 673h0M449.2 674.5h0M447.8 661.5h0M456.7 656h0M447 680.6h0M450.7 670.6h0M459.5 659.3h0M397.6 677.3h0M456.4 663.2h0M459.2 649.5h0M464.4 668.7h0M441.3 665.4h0M458.3 648.6h0M462 675.8h0M449.3 675.8h0M462.3 670h0M437.5 653.6h0M462 651.3h0M460.1 649h0M444 654.4h0M460.6 676.9h0M435.4 667.1h0M478.5 648.1h0M456.7 702.8h0M447.2 668.3h0M457 655h0M453.1 679.5h0M476 668.7h0M469.8 664.7h0M444.3 649.9h0M451.4 647.4h0M456.2 664.9h0M450.6 662.5h0M468.1 678h0M481.4 657.5h0M475.5 659.8h0M450.8 668.3h0M458.7 654.8h0M459.7 663.4h0M436.5 675.9h0M468.5 657.5h0M462.1 667.2h0M474.8 665.3h0M465.3 682.1h0M474.6 654.5h0M449.2 678.3h0M434 674.8h0M475.5 678.3h0M455.6 654.5h0M452 656h0M471.3 650.1h0M431.8 671.4h0M438.8 672.5h0M435 668.9h0M454.3 653.1h0M438.4 659.4h0M435.4 653.2h0M458.4 660.6h0M431 653.3h0M468.1 653.4h0M462.9 666.7h0M444.5 668.5h0M434.8 679.2h0M480.1 668.8h0M454.4 671.3h0M475.7 651.1h0M474.6 675h0M454.7 658.5h0M482.7 670.3h0M480.2 661.1h0M464.7 659.9h0M462 666h0M466.9 658.3h0M440.4 663.2h0M445.7 654.9h0M461.3 669.7h0M459.9 667.3h0M464.1 653.8h0M448.4 676.9h0M456.1 662.7h0M472.4 648.6h0M456 659.8h0M442.4 660.8h0M446.1 647.3h0M427.7 668.8h0M462.2 654.9h0M437.3 696.8h0M483.3 662h0M441.9 646.8h0M455.9 660.3h0M468.7 665.4h0M458.5 645.3h0M474.8 658.1h0M452 680.7h0M482.5 645.9h0M481.4 656.8h0M454.9 667.4h0M460 644.5h0M451.3 672.2h0M430.1 662.3h0M473.8 647.3h0M457.4 655.3h0M457.6 666h0M449.5 663.2h0M456.9 653h0M474.8 661h0M468.7 673.7h0M463.9 672.8h0M437.8 647.3h0M466.2 685.9h0M438.8 661.5h0M471.3 661.7h0M476.1 676.8h0M470 662.4h0M491.4 664.8h0M456.9 673h0M458.4 680.4h0M455.7 679.8h0M480.8 650h0M446.8 644.2h0M465.1 670.6h0M459.9 648.3h0M446.3 671.5h0M451.2 669.1h0M468.8 675.2h0M443.3 671.3h0M457.5 656.7h0M477.5 664.8h0M480 655.4h0M435.8 660.3h0M470.1 657.6h0M457.1 668.7h0M473.6 669.2h0M460.9 652.7h0M454.5 673h0M477.3 663.7h0M456.5 665.9h0M464 648.9h0M449.5 657.3h0M463.4 664.1h0M468.2 648.3h0M451.2 658.6h0M437.6 674.9h0M458.4 654.4h0M451 655.1h0M507 662h0M473.8 657.6h0M456.7 671.3h0M463.6 659.5h0M462.4 680.8h0M491.8 651.4h0M429.2 664.2h0M476.9 633.2h0M479.1 659.4h0M444.1 658.4h0M462 644h0M450.1 666.3h0M478.8 669.4h0M452.5 646.8h0M441.6 662.3h0M439.6 675.8h0M472.3 659.5h0M431 664.9h0M467.2 662.3h0M483.9 670.7h0M458 662.4h0M467.2 651.3h0M458.6 652.7h0M485.2 642.8h0M456.2 667.1h0M445.2 671.8h0M416.1 644.4h0M454.5 661.3h0M429.5 656h0M468.6 632.9h0M442 656.9h0M446.1 674h0M441.8 664.2h0M440.4 682.7h0M442.1 666.9h0M449 658.6h0M438.1 658.2h0M479.7 663.9h0M430.5 670.5h0M484.2 653.9h0M434.1 658.4h0M464.5 644.2h0M419.1 662.2h0M479.4 673.6h0M437 670.1h0M449 659.4h0M471.4 665.2h0M450.2 653.8h0M437.4 666.6h0M469.4 664.3h0M429.6 667.3h0M505.7 648.5h0M448.5 670.2h0M476 638.7h0M438.9 670.5h0M435.6 671h0M449 686.7h0M463.6 658.5h0M455.5 621.6h0M449.3 670.5h0M462.4 663.3h0M466.8 669.5h0M448.7 641.4h0M444.7 652.6h0M454 657.2h0M449.8 654.8h0M470.7 650.8h0M433.1 663.7h0M407.7 684.8h0M425.9 667.6h0M460.8 651h0M452.1 677.5h0M442.3 662.5h0M483.3 652.3h0M446.5 663.5h0M431.2 669.2h0M485.8 660.3h0M481.1 650.4h0M455.9 670.5h0M473.5 656.2h0M459.2 676.9h0M447.9 682.9h0M474.6 652.1h0M433.9 656.1h0M475.3 656.2h0M440.3 651.4h0M413.5 678.3h0M488.1 662.6h0M455.5 664.8h0M466.1 660.9h0M460.1 683.3h0M434.7 664.5h0M442 651.6h0M458.6 650.8h0M435.8 682.7h0M462.8 651h0M489.5 689.8h0M414.5 659.8h0M471.9 670.5h0M489.6 633.8h0M465.2 676.7h0M442 659.5h0M452.1 665.9h0M455.4 681.5h0M454.2 677.1h0M451.1 667.1h0M443.7 655.9h0M475.6 674.5h0M446.3 654.1h0M469.9 653h0M452.5 644.8h0M457.6 672.2h0M480.7 675.6h0M485.8 647.2h0M486.7 621.6h0M434.1 664.1h0M486.8 637.8h0M468.6 655.1h0M448 662.7h0M454.5 639.2h0M450.9 648.7h0M471.3 642.9h0M444.6 650.9h0M442.5 654.9h0M439.8 672.3h0M443 673.1h0M446.2 656.7h0M421.2 663.9h0M462.4 658.6h0M459.3 669.2h0M442.7 665h0M460.4 664.7h0M464.4 648.2h0M438.8 668.3h0M454.1 672.4h0M473.7 662.7h0M435.8 658.3h0M442 669.2h0M454.9 668.6h0M463.3 661.9h0M429.6 672.8h0M430.1 670h0M447.6 682.2h0M459.3 664.6h0M458.8 648.3h0M462.1 649.6h0M437.9 664h0M426.3 675.8h0M472.2 647h0M455.9 674.4h0M424.7 672.1h0M466.6 659.8h0M471.7 673.1h0M454.8 648.4h0M455.6 651.8h0M471.9 657.5h0M457.5 665.2h0M438.3 652.6h0M453.2 649.8h0M444.6 671.2h0M427.2 679.5h0M486.9 664.6h0M472.9 665.1h0M473.9 668.1h0M433.7 666.3h0M474.4 646.7h0M443.7 672.9h0M447.5 655.9h0M433.2 662.7h0M445.7 656.6h0M432.7 676.1h0M441.7 679h0M464.5 650.1h0M481.5 663.3h0M474.5 648.5h0M434.5 673h0M476.5 648.6h0M434.7 672.4h0M435.3 651.5h0M462.7 668.1h0M478.3 663.4h0M465.8 652.3h0M510 659.3h0M484.5 686h0M434.3 652h0M455.5 672h0M436.1 664.4h0M452.9 676.3h0M455.2 655.9h0M468.5 640.2h0M445.4 664.8h0M447.6 659.4h0M477.1 661h0M477.4 649.1h0M446.4 669.1h0M462.4 673.8h0M431.8 655.4h0M460.5 675.3h0M460.7 673.8h0M457.1 642.8h0M439.3 668.4h0M473.6 666.5h0M468.8 666.2h0M452.8 675.9h0M421.6 647.5h0M462.1 642.6h0M484.8 657.7h0M432.7 672.2h0M451.5 651.1h0M440.6 697.7h0M438.1 673.6h0M428.5 660.4h0M456.2 676.5h0M494.9 661.2h0M414.5 684h0M471.3 672.5h0M458.1 676.1h0M432.3 659.6h0M431.1 678.4h0M464.2 644.9h0M460.2 669.1h0M432.3 669.2h0M436.7 657.4h0M455.2 678.6h0M434.9 662.4h0M496.3 655.2h0"/>
<path d="M429.6 652.7h0M460.1 670.6h0M441.7 660.4h0M460.4 668.7h0M459.3 659.6h0M464.3 649.4h0M471 670.8h0M450.5 668.8h0M449.8 657.8h0M434.2 681.7h0M460.3 656.5h0M469.9 668.5h0M436.4 683.2h0M459.6 661.1h0M444.5 678.6h0M452.6 669h0M441.9 670.1h0M462.1 656.7h0M473.1 659.7h0M462.8 661h0M434.3 653.9h0M467.5 651h0M456.8 642.7h0M474.4 663.3h0M448.2 660.3h0M462.2 647.9h0M462.1 646.8h0M450 654.7h0M460.1 666.9h0M450.5 675.2h0M457 656h0M444.8 664h0M454.5 670.8h0M458.9 656.7h0M487.4 656.6h0M442.7 671.4h0M444.9 646.1h0M461.9 665.9h0M462 659.3h0M435.3 660.5h0M461.5 664.6h0M466.6 658.9h0M445.9 669.9h0M454.3 657.5h0M445.8 653.9h0M451.1 667.3h0M466 662.5h0M464.7 657h0M445 664.5h0M457.5 648.3h0M439.2 643.7h0M456.8 663.1h0M451.5 680.8h0M434.5 652.5h0M468.7 664.6h0M438.9 676.5h0M441.9 656.7h0M462.2 660.5h0M444.4 669.5h0M488.1 643.7h0M452.6 650.7h0M462.4 673.4h0M483.5 657.7h0M455.3 673.7h0M451.1 656.5h0M463.6 665.6h0M448.5 662.7h0M456.3 666.2h0M448.9 666.3h0M461.9 668.4h0M465.8 670.2h0M462.9 677.3h0M456.8 680.4h0M455.3 668.8h0M460 676.5h0M460.2 655.6h0M462.5 671.2h0M458.9 658.3h0M442.5 652.5h0M461.5 657.8h0M452.1 663.3h0M459.1 673.5h0M445.7 658.9h0M452.1 668.2h0M444.3 678.1h0M443.5 661h0M463 659.9h0M443.8 665.5h0M475.6 660.1h0M460.5 661.9h0M437.1 664.6h0M465.5 661.4h0M453.7 652.5h0M460.4 672h0M445.9 656.5h0M462.9 656h0M462 672.1h0M451.5 643.6h0M464.1 654.5h0M468.7 668.6h0M445.4 673h0M476 654h0M455.2 647.9h0M453.7 665.9h0M475.6 648.3h0M456.3 661.9h0M482.3 662.1h0M443 664.4h0M463.8 669.4h0M450.9 671.9h0M462.4 689.2h0M445.8 649.4h0M437.2 669.5h0M438.7 665.2h0M434.4 666.5h0M430.4 657.5h0M459.4 671.6h0M453 656.4h0M480.7 689.6h0M439.9 664.8h0M435.7 670.4h0M483.3 643.5h0M487.8 673.3h0M458.5 657.9h0M457.7 646.3h0M444.7 653.1h0M450.5 663.9h0M445.5 703.8h0M463.6 658.4h0M480.7 677h0M450.3 661.6h0M441.5 684.8h0M465 659.4h0M453.1 667.7h0M455.2 660.8h0M435 635.4h0M464.3 667.5h0M477.7 681h0M449.4 660.1h0M430 655.8h0M458 652h0M444 667.9h0M455.6 667.2h0M475.6 672.4h0M426.6 674.5h0M438.9 654.1h0M448.5 659h0M429 654.1h0M450.6 665.6h0M459.1 671.1h0M457.5 659.6h0M457.4 650.1h0M422.3 633.6h0M453.1 672.9h0M454.2 660.3h0M465.6 668.4h0M443.9 657.8h0M456.1 647.7h0M467.3 658h0M456.4 652.3h0M450 676h0M448.6 657.5h0M464.5 651.6h0M427.8 657.5h0M458.1 661.8h0M477.3 658.2h0M451.9 674.9h0M460 646.1h0M477.9 646.8h0M435.3 663.3h0M456.5 664.7h0M445.3 644.4h0M453.6 651.1h0M455.2 646.7h0M455.5 671.7h0M449.6 669.8h0M452.9 665.2h0M446.4 666.8h0M472.8 663.9h0M449.8 677.6h0M454.7 655.3h0M462.4 650.5h0M468.1 667.5h0M476.2 656.7h0M452 654.1h0M444.2 694.8h0M440.3 657.9h0M465.8 651.6h0M440.5 664.8h0M475.9 660.5h0M479.3 656.6h0M456.6 668.1h0M445.2 677.6h0M456.7 654.1h0M414.1 657.6h0M455.5 677.2h0M454.3 658.8h0M445.5 666.5h0M450.8 659.6h0M457.7 654h0M458.6 666.1h0M455.6 665.1h0M467.7 669.4h0M460.8 668.4h0M456.8 669.8h0M465.9 661h0M454.5 659.3h0M408.9 679.1h0M457.6 663.2h0M463.4 646.9h0M460.2 663.6h0M462.8 675.7h0M456.4 661.3h0M467.8 642h0M465.4 664.8h0M432.8 656h0M449.1 667.1h0M477.5 656.9h0M454.1 670.5h0M463.6 649.5h0M454 654.1h0M469.1 660.8h0M413.1 657.5h0M466.5 666.9h0M475.3 661.9h0M451.3 649.2h0M442.7 667.9h0M464.5 647.6h0M448.6 675.7h0M464.4 657.5h0M453.8 669.8h0M465.5 662.3h0M449.1 652.5h0M446.1 651.7h0M462.9 670.2h0M447.4 666.5h0M451.9 664.8h0M457.8 685.3h0M462.4 662.3h0M489.2 647.7h0M461 651h0M433.3 665.4h0M445.8 662.8h0M471.1 662.4h0M451.4 660.7h0M448.6 678.9h0M476.8 659h0M457.2 669.8h0M468.9 655.5h0M466.8 656.5h0M462.2 655.8h0M422.9 681.2h0M478.4 661.7h0M470.3 660.9h0M448.3 668.4h0M466.7 653.2h0M470.3 667.9h0M423.4 664.4h0M459.6 653.5h0M468.6 658.9h0M464.5 663.3h0M462.7 662.6h0M460.6 665.6h0M447.7 681.2h0M413.2 678.3h0M463.6 654.8h0M434.5 673.6h0M454.9 656.3h0M448 671h0M476.2 667h0M470.4 656.5h0M474.1 652.8h0M506.1 656.2h0M454.9 680.5h0M448.3 654.8h0M448.8 665h0M441.7 656.1h0M457.2 670.6h0M460.2 654.4h0M427.3 664.4h0M452.5 658.3h0M474.8 665.2h0M452.7 681.8h0M439.6 668.5h0M453.5 649.7h0M459.6 651.6h0M457.7 666.6h0M457.3 668.3h0M461.3 676.7h0M477.7 668.3h0M446.2 667.4h0M470.5 643h0M449.1 671h0M438.8 663.6h0M445 648.4h0M461.6 669h0M423.6 654.4h0M479.8 653.9h0M450.2 645.7h0M449.2 663.3h0M449.4 662h0M445.7 676.8h0M476.9 662.6h0M448.3 648.5h0M444.1 658.7h0M475.6 678.8h0M453.8 672.3h0M478.2 664.9h0M456.1 658.2h0M446.9 678.3h0M456.6 674.1h0M454.7 666.6h0M475.5 668.3h0M478 664.5h0M456.6 684.8h0M439.3 662h0M467.8 618.8h0M448.8 656.7h0M443.7 673.7h0M452 673.7h0M470.9 655.2h0M436.8 680.6h0M494.9 658.1h0M469.4 642.4h0M428.9 663.1h0M422.6 657h0M451.5 681.2h0M441.1 671.5h0M448.3 665.7h0M419.3 643.7h0M444.8 660.2h0M476.2 668.9h0M451.2 673.7h0M478.9 674.6h0M471.4 643.2h0M479.1 659.2h0M470.9 658.8h0M480.1 648.8h0M435.2 666.6h0M439.1 687.4h0M466.1 657.8h0M441.1 680h0M467.8 658.8h0M462.7 672.7h0M460.6 673.9h0M495.8 675.2h0M432.3 664.6h0M457.9 655h0M449.8 651.4h0M434.4 667.9h0M456.5 647.2h0M439.5 678.8h0M454.3 678.8h0M474 670.9h0M476.5 647.1h0M468.4 667.6h0M465.2 644.7h0M493.1 676h0M465 672.7h0M452.8 662.8h0M479.3 647.9h0M444.6 667.9h0M428.1 675.9h0M445.7 674.1h0M454.8 674.2h0M452.3 625.8h0M457.4 665.4h0M449.4 686.1h0M447.2 660.9h0M478.7 644.1h0M442 659.3h0M451.6 650h0M460.6 661h0M458.8 655.7h0M451 653.1h0M441.5 658.9h0M464.7 654.6h0M447.4 683.7h0M447.8 657.3h0M458.7 679.8h0M447.1 663.2h0M444.5 654.6h0M449.1 659.9h0M454.6 683.7h0M480.3 657.2h0M482.2 649h0M455.2 688.5h0M441.6 660.2h0M411.9 674.6h0M458.2 660.5h0M461 658.9h0M433.8 663.6h0M472.8 662.8h0M430.7 675.2h0M435.6 650.5h0M441.1 663.3h0M439.1 677h0M459 646.4h0M486.8 658h0M458 678.6h0M447.9 663h0M438.2 659.3h0M436 652.7h0M462.1 663h0M427.1 652.7h0M458.8 664h0M464.9 675.7h0M473.5 668.7h0M484.4 677.1h0M484.8 647.7h0M458.2 672.3h0M473.5 667.7h0M466.9 664.5h0M455.7 644.4h0M455.3 651.8h0M451.2 684.9h0M435.3 673h0M443.1 678.9h0M472.4 639.9h0M476.6 665.1h0M438.3 670h0M451 665.9h0M439.6 658h0M499.5 646.2h0M428.5 675.3h0M474.5 635.9h0M467.8 677.6h0M445.2 650.4h0M428.7 670.9h0M457.5 673.6h0M447 676.5h0M481.3 652.7h0M451.6 661.1h0M448.1 653.1h0M454.1 663h0M454.8 650.6h0M448.9 674.1h0M436.1 674h0M485.1 643.1h0M434.9 665.1h0M443.2 676h0M434.4 657.7h0M470.5 657.9h0M454.1 661.9h0M469.2 656.3h0M434.5 660.5h0M440 669.7h0M472.3 664.6h0M470.3 682.8h0M470.2 651.4h0M470 643.5h0M470 661.9h0M434.6 669.5h0M434.3 657.2h0M454.7 645.9h0M466.7 669.3h0M478.2 639.3h0M455.1 663h0M464.5 666.7h0M463.7 667.4h0M466.9 663.2h0M459.2 668.1h0M472.1 652.6h0M424.6 669.1h0M447.2 659.8h0M462.5 680h0M416.5 661.7h0M442.6 676.4h0M466 663.6h0M469.2 649.4h0M438.6 661.6h0M463.2 666.3h0M485.2 650.4h0M450.7 655.6h0M469.7 666h0M468.1 664.7h0M455.2 657.7h0M442.7 662.2h0M468.8 662h0M462.9 663.5h0M435.3 658.9h0M467.6 649h0M447.7 680.2h0M454.8 649.5h0M457.4 651.2h0M442.9 653.2h0M439.3 670.9h0M481.5 659.6h0M456 675.5h0M459 649.7h0M473.8 660.4h0M451.6 659.8h0M457.3 678h0M469.2 640h0M430.4 691.7h0M439.4 683h0M472.6 657.1h0M428.4 660.7h0M440.4 648.8h0M427.4 670.1h0M472.5 653.4h0M448.9 683.4h0M461.8 681.6h0M450.8 654h0M470.3 647.3h0M416.9 661.3h0M452.2 665.8h0M434.6 661.8h0M443.2 649.4h0M447.6 672.9h0M443.5 655.9h0M434.8 669.2h0M472.1 655.5h0M458.7 665.4h0M444.4 672.2h0M433.1 660.8h0M431.1 661h0M452.7 657.2h0M461.9 684.3h0M440.6 669.8h0M456.3 674.1h0M444.7 668.8h0M431.2 651.9h0M433.2 673.7h0M443.6 663.7h0M436.8 676.7h0M450.8 641.4h0M440.7 654.6h0M461.4 678.1h0M443.1 661.6h0M441.3 668.3h0M440.1 648.7h0M477.8 685.2h0M476.6 658.7h0M467.4 670.2h0M470.8 673.1h0M432.9 664.3h0M429.3 666.2h0M452.8 654.5h0M448.7 653.1h0M449.7 653.5h0M460.1 648.6h0M464.2 652h0M447.3 674.6h0M439.4 663.6h0M463.1 651.8h0M470.9 667h0M457.9 679.9h0M473.2 655h0M459.2 661.7h0M476.9 652h0M471.8 660.2h0M455.8 649.9h0M448.4 668.9h0M451.9 685.4h0M469.5 663h0M428.4 680h0M470.6 654h0M460.5 652.4h0M444.6 685.3h0M458.9 684.4h0M467 655.6h0M474.6 669.7h0M458 656.4h0M452 652.3h0M409.5 683h0M431.8 662.5h0M446.9 656.2h0M431.6 665.9h0M435.7 675.1h0M455.7 662.8h0M431.8 664.7h0M463.7 680.2h0M445.9 682.5h0M459 669.9h0M471 638.2h0M445.9 654.2h0M436.3 678.2h0M467.9 643.8h0M453.1 655.1h0M444.2 679.4h0M449.5 672.8h0M470.8 636h0M453.1 685.1h0M473.8 664.5h0M446.6 665h0M470.3 639.9h0M469.9 662.9h0M428.5 683.4h0M458.6 652.4h0M457 658.7h0M430.9 663.1h0M437.5 670.4h0M475.3 652.8h0M446.3 681.1h0M465.8 652h0M472.2 674.8h0M447.2 670.5h0M438.2 673.3h0M467.6 660.6h0M449.2 646.6h0M448.7 649.1h0M435.4 684.6h0M405.1 648.2h0M451.3 650.6h0M503.7 681.8h0M451.8 671h0M456.6 651h0M441.4 671.2h0M441.4 673.7h0M467.5 656.8h0M449.1 672.5h0M452.5 680.7h0M438.9 655.9h0M441.7 681.8h0M442.9 664.3h0M420.4 641.4h0M437.2 651.8h0M465.8 673.4h0M437.6 666.8h0M464.8 677.4h0M473.2 643.2h0M477.7 654.3h0M432.5 667.4h0M439.7 658.8h0M461.5 651.8h0M456 672.6h0M456.3 655.8h0M486.8 678.1h0M447.5 647.1h0M475.6 645.2h0M476.2 676h0M473.6 650h0M450 628h0M467.6 665.9h0M483.3 660.5h0M453.7 677.1h0M453.4 682.9h0M443.2 665.9h0M453.4 674.6h0M446.6 678.3h0M435.5 667.5h0M470.2 651.9h0M488 674.3h0M436.4 660.6h0M449.4 650.1h0M446.2 687.9h0"/>
<path d="M453.1 641.4h0M454.2 668.5h0M455.4 669.8h0M456.4 666.3h0M460.8 651.9h0M445.3 668.5h0M466.5 674.8h0M455.6 660.8h0M449.2 642.9h0M443.9 676.3h0M428 650.3h0M442 676.3h0M451.6 683.7h0M436.1 664.4h0M457 654.2h0M461.3 659h0M475.8 653.3h0M447.7 672.2h0M497.4 650h0M482.6 647h0M452.4 653.1h0M450.6 674.7h0M458 669.6h0M440.2 660.7h0M452.3 668h0M440.8 675.4h0M450.7 654.8h0M464.5 659.4h0M471.9 657.4h0M445.9 666.9h0M463.6 653.3h0M440 657.7h0M485.7 654h0M475.9 673.8h0M471.2 665.3h0M450.7 659.6h0M459.4 659.7h0M435.1 653.9h0M465.2 648.4h0M446.8 667.9h0M458.7 656.7h0M425.2 651.6h0M446.3 649.8h0M456.8 670.2h0M443.6 663.1h0M436.7 661.2h0M489.6 681.4h0M497.1 644.2h0M445.5 654.2h0M465.8 668.2h0M443.4 647.5h0M434.9 657.5h0M432.7 659h0M462.4 667.1h0M471.6 671.8h0M487.3 645.4h0M446.1 660h0M471.4 660.1h0M458 670.7h0M455.2 675.4h0M442.7 668.5h0M467.3 647h0M460 655.6h0M476.4 644.3h0M459.1 649.6h0M461.3 647.3h0M422.2 672.5h0M472 652.3h0M448.4 654.7h0M445.9 662.8h0M445.7 671.7h0M452.4 655h0M461.6 661.7h0M451.4 679.5h0M507.8 656.3h0M443.3 669.3h0M468.3 664.6h0M458.3 656.2h0M449.3 661.2h0M463.1 662.9h0M460.3 666.4h0M475.7 657.8h0M449.9 671.9h0M457.8 663.7h0M440.3 669.3h0M468.4 657.1h0M456.3 656.9h0M440.2 663.6h0M446.5 666.6h0M460.7 664.8h0M450.4 665.2h0M482.4 667.5h0M458.2 673.6h0M454.6 670.2h0M468.7 663.1h0M439.2 676.7h0M463.2 663.1h0M466.8 669.7h0M463.9 661.2h0M454.2 662.9h0M465 660.8h0M443.5 653.6h0M416.1 674.6h0M483.5 660.3h0M455 631.6h0M466.4 654.6h0M456.3 661.2h0M452.2 656.3h0M457.7 659.9h0M455.7 662.3h0M437.9 689.2h0M452.5 650.6h0M465.2 675.8h0M471.4 669.1h0M440.4 677.1h0M468.3 673.5h0M455.4 667h0M426.1 667.1h0M461.8 657.4h0M464 645.8h0M456.8 663.6h0M427.5 674.2h0M439.7 654.1h0M454.3 664.4h0M447.7 662.1h0M444.5 655h0M441.5 657.7h0M470.5 650.1h0M438.9 672.1h0M468.1 651.5h0M450.2 678.1h0M444.3 665.9h0M443.5 650.7h0M440.5 630.4h0M468.3 667h0M462.7 655h0M459 666.4h0M450 655.2h0M445.8 685.9h0M444 659.7h0M467.2 649.1h0M445.5 670.1h0M436.5 663h0M435.7 644.5h0M458.4 660.4h0M447.7 660.1h0M461.2 658.8h0M508.7 653.4h0M461.9 650.8h0M403 640.1h0M443.1 640.4h0M449.6 666h0M451.1 637.5h0M458.3 661.5h0M446.7 664.7h0M453.7 653.7h0M465.5 644.2h0M453 664.5h0M453.9 658.3h0M455.3 655.9h0M453.2 659h0M449.2 659.2h0M459.1 657.4h0M459 661.1h0M459 669.3h0M459.2 653.8h0M454.6 654h0M455 656.5h0M464.5 674.7h0M440.5 681.1h0M445.7 680.8h0M427.8 662.4h0M451.5 645.8h0M463.2 651.5h0M468.5 643.4h0M464.5 645.5h0M433.1 658.7h0M439.8 672.4h0M473.7 653.7h0M469.4 657.8h0M452.7 669.2h0M467.1 670.4h0M459.9 663.3h0M462 661.4h0M486.1 671.1h0M477.1 666.1h0M455.8 678.5h0M476.8 662.2h0M453.7 668.5h0M475.7 678.2h0M452.3 664.8h0M464.2 663.8h0M462.9 671.1h0M469.8 664.1h0M458.3 664.3h0M467.3 665.5h0M435 661.6h0M456.5 652.9h0M432.5 695.3h0M434.1 678.5h0M471.9 662h0M434.2 673.6h0M444.7 673.1h0M447.2 650.9h0M451.3 666.4h0M458 671.5h0M450.5 682.8h0M468.9 629.5h0M474.8 648.6h0M464.5 656.9h0M442.6 628.3h0M458.5 672.4h0M464.9 658.6h0M463.1 668.4h0M461.4 656.3h0M481.7 637h0M457.5 646.1h0M464.8 637.3h0M461.9 654.2h0M425.1 677.1h0M460.1 660.4h0M458.2 658.1h0M445.4 691.9h0M484.7 657.2h0M507.3 640.1h0M462.8 658.5h0M462 667.8h0M425.2 669.9h0M444.1 694.3h0M455.1 672.4h0M443.5 665.4h0M461.5 675.9h0M448.3 653.4h0M440.1 669.8h0M422.7 670.2h0M440.5 654.9h0M480.5 656.9h0M445.3 658.2h0M464.2 661.7h0M454.8 667.6h0M457.1 651.7h0M458.3 653.9h0M460.4 668.3h0M470.6 660.5h0M438.1 667.4h0M446.4 673.8h0M433.6 667.5h0M448.5 663.9h0M455.2 645.3h0M472.3 656.7h0M452.4 672.1h0M460.1 654.2h0M422.7 652.3h0M430 658.3h0M468.4 675.1h0M450.1 655.9h0M446.2 657.7h0M449.7 663.3h0M453.3 653.1h0M455.9 667.3h0M439.8 665.7h0M439.9 655.6h0M453.7 634.1h0M449.5 653.3h0M468.8 659.9h0M435.7 656h0M451 661.1h0M454.2 667h0M446.2 684.5h0M457.5 649.3h0M469.5 661.6h0M449.4 667.6h0M462.4 664.4h0M476.7 652.2h0M452.3 657.8h0M435.9 677.2h0M453.3 651.6h0M455.8 659.4h0M477.7 660.7h0M458.7 668.3h0M466.5 660.4h0M440.9 662.6h0M464.4 668.2h0M460.5 656.4h0M425.2 652.5h0M473.3 667h0M440.5 666h0M438.6 665h0M475.5 665.6h0M466.9 657.2h0M437.2 658.8h0M475.6 676.3h0M453.2 670h0M442 671.7h0M448.2 666.2h0M473.3 683.7h0M458.5 677.3h0M471.9 655.6h0M434.7 670.7h0M453.9 657.1h0M451 651.2h0M466.2 645.7h0M454.8 673.7h0M453.4 642.5h0M461.5 686.7h0M478 663.4h0M472.4 643h0M453.6 646.4h0M456.9 668.7h0M466.2 664.7h0M462.6 651.9h0M430.6 686.1h0M441.3 670.9h0M454.6 657.7h0M487.1 662.2h0M467.3 657.5h0M418.8 655.2h0M445.8 628.7h0M408.5 677.8h0M448 669.1h0M470.3 645.3h0M454.1 676.6h0M448.4 633.3h0M435.5 676.6h0M468.8 622.1h0M452.9 673.6h0M440 662.3h0M462.3 670.5h0M452.6 666.1h0M449.1 656h0M471.3 619.4h0M460.2 678.1h0M461.1 657.6h0M486.5 637.8h0M424.7 667.1h0M442 661h0M482.5 675.9h0M442.7 650.7h0M475.4 651.1h0M466.2 666.9h0M438.1 669h0M448.9 668.8h0M459.8 665.6h0M459.2 652h0M464.9 654.7h0M442.9 658h0M471.8 662.9h0M460.1 673.9h0M425.7 671h0M478 671.6h0M451.6 676.9h0M463.4 672.9h0M440.2 667.2h0M482.7 670.2h0M431.9 667.5h0M441.8 659.9h0M437.3 684.4h0M466.7 673.5h0M440.6 672.3h0M442.6 654.2h0M466.3 650.5h0M441.3 653.4h0M478.9 666.4h0M452.6 675.8h0M470.7 659.5h0M463.3 669h0M443.2 656.4h0M443.2 668h0M447 669.9h0M462.5 685.1h0M448.3 658.3h0M469 653.1h0M450.8 662.8h0M459.3 661.6h0M446.5 663.3h0M444.3 652.1h0M440.8 659.7h0M454.8 658.8h0M464.5 666.9h0M466.1 662.6h0M461.6 671.7h0M484 644.2h0M415.2 648.1h0M456.2 661.6h0M447.1 674.8h0M455.4 651.7h0M470.7 666.3h0M470.4 635.6h0M433.2 680.2h0M452.7 647.7h0M450.7 672.6h0M449.7 662.6h0M472.7 647.4h0M441.3 668.4h0M457.1 655.1h0M464.3 670.5h0M453.9 663.7h0M470.4 646.8h0M455.1 664h0M470.8 664.4h0M455 640.5h0M445.3 668.5h0M474.4 663h0M469.7 654.3h0M460.4 644.6h0M428.1 684h0M456.6 665.2h0M447.3 679.9h0M454.2 671.6h0M443.4 670.9h0M441.7 670h0M484.1 665.3h0M458.7 654.9h0M440.3 666.4h0M460.7 680.6h0M430.7 640.2h0M458.2 668.5h0M452 660.4h0M462.5 673.1h0M469.8 671.5h0M465.9 684.2h0M459.6 678.7h0M433.2 669.3h0M442.5 662.4h0M444.4 660.4h0M477.2 670h0M455.2 679h0M460.7 675.3h0M445.7 660.4h0M453.1 661.2h0M478.8 670.4h0M470.6 680h0M436.9 664.5h0M443.9 646.4h0M430.5 662.4h0M433.1 663.7h0M484.5 648.8h0M458.1 666.9h0M462.7 658.8h0M432.1 660.8h0M441.1 645.7h0M467.4 643.3h0M452.1 661.9h0M456.2 674.3h0M482.3 653.1h0M463.4 652.3h0M440.9 676.2h0M477.4 659.6h0M451 649.5h0M464 664.5h0M449.3 675.6h0M427.2 665.6h0M447 660.5h0M445.5 655.5h0M444.1 679.8h0M456.4 690.3h0M443.6 662.7h0M473.7 648.4h0M467 654.4h0M467.1 669.1h0M450 664.4h0M448 659.7h0M459.8 698h0M491.3 662.1h0M437 662.3h0M444.4 673.9h0M481.2 655.1h0M467.8 648h0M457.2 651.9h0M448.3 672.9h0M466.7 652.7h0M438.5 656h0M462.2 663h0M439 678.3h0M465.8 657.9h0M462.1 647.6h0M445.1 677.7h0M450.7 673.8h0M446.2 671.8h0M434.7 671.1h0M446.8 640.4h0M429.7 663.3h0M448.3 647.2h0M476.5 659h0M464.2 651.3h0M443 664.5h0M474.6 643h0M447.4 675.1h0M449 681.1h0M454.5 647.2h0M449 682.6h0M467.2 664.2h0M466.3 656.6h0M447.1 657h0M449.8 644.4h0M435.9 680.8h0M486.7 669.5h0M457.5 677.7h0M450.1 675.7h0M463.1 671.6h0M473 658.5h0M482.1 641.7h0M448.1 668.4h0M407.9 646.7h0M463.9 677.5h0M435.1 673.3h0M436.8 676.6h0M427.7 666.6h0M462.8 646.2h0M460.6 663.9h0M476.5 663.3h0M466 660.1h0M469 654.1h0M490 659.3h0M459.9 670.5h0M456.5 651.2h0M447.6 665.5h0M427.7 652.6h0M499.8 666.4h0M418.1 653.6h0M434.1 661.3h0M477.5 639.5h0M435.3 667.1h0M499 666h0M472.6 663.2h0M445 657.1h0M480.9 658.7h0M452 664h0M451 670.6h0M490.1 643.5h0M464.4 649.9h0M464.9 654.1h0M446.7 653.1h0M424.6 665.6h0M473.5 659.5h0M470.4 656.6h0M451.5 675.3h0M456.9 655.4h0M477.6 668.4h0M456.4 658h0M477.3 673.4h0M469.7 654.5h0M459.9 670.4h0M460.7 669.8h0M429.8 667.9h0M470.8 655.6h0M469 646.1h0M444.7 676.2h0M435.3 699.4h0M442.9 653h0M456.3 645.9h0M474.6 658.6h0M448.7 652.6h0M450.1 670.4h0M431 656.4h0M455 651.6h0M465.4 664.6h0M466.7 649.3h0M451.9 670.5h0M467.5 671.8h0M440.7 687.1h0M476.9 651.6h0M467.4 676.9h0M508.5 637.1h0M435 666.6h0M471.4 653.8h0M462.7 689.1h0M442.7 673.7h0M466.4 643h0M476.9 653.3h0M468.9 660.3h0M473.3 660.6h0M421 674h0M461 662.6h0M435.5 663.8h0M449.8 650.2h0M470.6 662.6h0M456.9 676.4h0M464.5 673.2h0M463.7 666.2h0M435.8 655h0M447.2 662.8h0M440.5 651.2h0M441 644.3h0M496.3 635.8h0M450 648.8h0M430.5 676.1h0M470.5 673.7h0M467.1 668.2h0M456 672.6h0M438.3 662.9h0M503.7 661.6h0M459.7 675.2h0M463.2 648.6h0M438 646.6h0M394.9 699.7h0M426.4 668.6h0M436.2 668.7h0M438.2 666.7h0M451.7 659.4h0M444.8 648.9h0M430 667.1h0M473.5 644.3h0M472.3 659.4h0M468.9 667.3h0M439.3 674.3h0M474.8 655.6h0M469.6 650.2h0M455.6 644.1h0M468.4 651.4h0M444.1 678.4h0M439.7 641.7h0M467.3 654.9h0M469.6 666.6h0M417.9 649.3h0M433.8 672.1h0M479.4 643.9h0M447.3 645.2h0M472.9 645.1h0M479.6 671.5h0M441.6 656.3h0M485.4 644.1h0M437.3 649.2h0M440.6 664.4h0M441.2 651.8h0M475.6 666h0M470.1 651.4h0M467.2 660h0M465.5 669.8h0M434.9 660.5h0M428.8 668.5h0M434 695.7h0M461.4 675.4h0M452 684.3h0M474.5 680.7h0M455.6 676.1h0M466.5 648.4h0M436.2 670.9h0M434.6 666.4h0M461.1 651.4h0M480 648.7h0M480.1 654.6h0M493 644.6h0M450.9 657.8h0M465.1 677.3h0M449.3 657.3h0M450.8 654.4h0M438.8 658.4h0M472.9 672.2h0M475 649.9h0M459.8 645.2h0M496.5 671.6h0M450.4 664.1h0M463.2 635.3h0M465.5 670.7h0M472.2 649.3h0M442.8 649h0M440.8 660.2h0M459.5 681.2h0M479.2 649.9h0M481 661.6h0M438.6 670.9h0M463.3 655.1h0M471.6 647.7h0M440.1 671.3h0M425.9 646.7h0"/>
</g>
<g fill="none" stroke="#ff7f0e" stroke-linecap="round" stroke-width="1.9" stroke-opacity=".5">
<path d="M457.8 660h0M460.9 663.3h0M459.9 661.9h0M456.4 661.3h0M458.2 662.3h0M459.8 659.1h0M450.6 661.4h0M461.7 662.3h0M454.1 664.3h0M460.4 659.9h0M456.6 659h0M457.3 659.8h0M457.6 666h0M455.5 660.2h0M455.2 662.3h0M465 665.2h0M461.5 665.1h0M455 667.7h0M455.2 660.9h0M454.1 661.6h0M459.1 664.7h0M460.8 664.5h0M461.6 654.5h0M452.8 659.3h0M450 667.5h0M464 663.6h0M457.6 662.4h0M458.1 663.1h0M458 658.8h0M452.4 663.7h0M453.9 660.5h0M453.9 662.8h0M460.1 665.8h0M456.7 667h0M453.2 658.9h0M455.7 662h0M454.4 664.7h0M453.2 667.3h0M453 665.8h0M451.1 662.2h0M455.7 665h0M459.8 661.3h0M447.4 660.4h0M454.6 659.2h0M455.9 657h0M455.7 665.6h0M452.4 660.6h0M451.3 663.3h0M457.2 663.3h0M457.9 661.1h0M464.2 658h0M460.1 663.8h0M455 663.8h0M456 666.8h0M460.5 662.4h0M461.1 659.4h0M449.6 662.9h0M447.8 663.9h0M458.5 666.3h0M467.5 660.3h0M444.9 664.7h0M451.1 658.1h0M452.4 661.8h0M456 668.8h0M453 665.8h0M460.9 666.2h0M455.1 665.4h0M461.1 656.8h0M454.2 669.9h0M457.7 661.3h0M460.2 660.7h0M463.3 659.9h0M458.3 664.8h0M464.2 662.3h0M461.7 658.5h0M454.9 660.4h0M458.8 657.9h0M445.8 658.2h0M457.5 664.7h0M462.9 661h0M465.4 657.2h0M458.6 656.8h0M457.8 671.4h0M448.2 658.9h0M448.8 664.4h0M453 663.6h0M460 667.3h0M459.4 659.5h0M464.9 658.9h0M453.9 656.2h0M452.1 664.6h0M455.1 656.1h0M462.1 666.2h0M465 661.6h0M458.7 655.8h0M466.3 659.3h0M467 661.3h0M458.6 667.8h0M451 654.5h0M450.4 664h0M464.7 660.6h0M464.1 668.9h0M462.2 656.6h0M468.8 663.1h0M454.1 657.4h0M452.3 660.7h0M456.6 664h0M451.6 660.5h0M446.7 658.8h0M451.4 656.9h0M457.3 657.7h0M451.9 654.1h0M464.1 664.8h0M451.8 664.5h0M451.7 666.1h0M457.6 655.6h0M450.8 659.2h0M463.7 662.7h0M462.5 660.9h0M449.3 661.9h0M457.4 659h0M465.3 666.8h0M456.7 667.8h0M457.3 656.4h0M460.2 657.3h0M461.7 663.9h0"/>
<path d="M454.7 665.3h0M459.7 661.3h0M453.4 666.3h0M449.6 663.8h0M454.3 662.6h0M453.1 661h0M458.1 665.6h0M455.1 661.1h0M456.4 662.1h0M456 665.9h0M455.6 661.7h0M449.7 662h0M455 669.9h0M456.6 658.5h0M451.3 658.8h0M462.2 663.1h0M454.2 666.7h0M454.9 660.5h0M453.2 661.9h0M452.8 664.1h0M448.2 661.8h0M459.5 664.6h0M457.2 659.6h0M454.8 655.2h0M458.3 658.8h0M455.4 656.2h0M453.9 658.1h0M460.9 666.3h0M460.8 661.6h0M457.5 666.3h0M458 663.6h0M462.4 658.9h0M451.7 657.7h0M455.1 666.4h0M460.1 659h0M460.4 663.1h0M464.5 662.7h0M460.3 665.3h0M453.7 664.5h0M462.7 663h0M459.2 666.3h0M457.1 663h0M452.3 668.1h0M461.8 666.3h0M455.6 664.1h0M458.9 667.4h0M456.6 650.1h0M461.9 662h0M459.6 663.9h0M446.7 664h0M454.3 664.2h0M448.3 662h0M456.4 666.6h0M454.7 657.9h0M452.2 664.5h0M457.8 661h0M463.4 660h0M463.3 659.3h0M458.9 662.8h0M458.5 661.4h0M453.4 663.7h0M460.9 659.6h0M462.1 664.6h0M468.4 661.7h0M455.9 664.4h0M462.3 660.9h0M463.5 661.2h0M465.1 663.1h0M452.8 663h0M451.4 664.3h0M450.9 666.4h0M458.6 664.7h0M462.5 657.4h0M457.4 664.8h0M455.3 666.8h0M457.3 669.1h0M451.8 664.2h0M464.2 664.3h0M453.6 659.6h0M454.7 659h0M464.9 658.6h0M463.9 661h0M455.5 669.7h0M449.2 665.3h0M452.4 660.2h0M457.4 656.1h0M467.4 662h0M463 666.9h0M462.4 667.4h0M458.3 660.6h0M464 668h0M459.1 660.5h0M455.9 657.4h0M450.7 662.5h0M454 658.3h0M448.6 663.4h0M456.6 659.4h0M459.8 662.7h0M461.3 662.5h0M461.2 668.8h0M452 656.5h0M456.4 659.1h0M457.4 652.7h0M450.2 661.7h0M459.3 658.1h0M457.6 662.4h0M457.7 657.8h0M459.3 668.3h0M460.8 666.9h0M447.9 655.3h0M451.6 661.4h0M457.6 670.6h0M455.9 656.6h0M459.6 654h0M462.7 664.2h0M457.9 656.6h0M466.8 661.1h0M458.1 667.9h0M465.7 661.8h0M456.7 668.4h0M449.2 666.7h0M457.1 667.4h0M449.5 660.5h0M454.1 655.8h0M449 667.9h0M452.5 658.5h0M458.2 657.7h0M444.2 664.6h0M463.8 665.5h0M452.1 661.6h0"/>
<path d="M460.7 661.3h0M458.2 661.3h0M453.3 661.5h0M461.5 666.3h0M460.6 663.1h0M460.4 664.5h0M459.3 658.6h0M460.5 667.2h0M455.2 659h0M448.6 663.7h0M453.2 664.4h0M455.8 663.9h0M459.9 661.4h0M456.3 661.1h0M455.2 666h0M463.3 659.7h0M454.9 664.9h0M462.4 663.1h0M454.9 661.4h0M459 666.3h0M454 659.7h0M458.5 662.2h0M458.9 663.3h0M454.2 659.1h0M460.2 665.9h0M454.6 667h0M457.3 660.4h0M458.9 660.3h0M448.8 661h0M453.1 663.9h0M457.6 668.7h0M452 662.4h0M462.4 666.7h0M455.4 663.3h0M465.7 661.9h0M456.3 660.2h0M459.9 662.4h0M454.6 657.3h0M456 662.4h0M457.3 662.9h0M462.8 657.9h0M456.1 666.8h0M452.9 660.1h0M466.9 662.8h0M460.6 659.2h0M459.8 665.4h0M454.3 660.6h0M454.2 662.9h0M452.6 665.2h0M461.4 659.7h0M461.9 665.3h0M461.8 662.8h0M454.6 670.2h0M458.3 664.7h0M450.8 659.9h0M457.5 663h0M460.1 663.9h0M452.4 659.2h0M459.4 657.7h0M457.9 666.9h0M458.3 668h0M462.2 656.9h0M452.6 666.6h0M457.4 658.6h0M453.2 666.7h0M457.3 666.6h0M456.4 658.8h0M463.6 658.7h0M451.4 657.9h0M454.4 661.9h0M459.1 666h0M460.9 663h0M461 658.2h0M451 668.7h0M468.7 661.7h0M462.7 667.1h0M451.6 654.7h0M457.8 664.2h0M462.1 658.6h0M447.4 659.8h0M456.9 657.6h0M456 664.9h0M451.6 658.5h0M461.9 660.1h0M459.9 660.1h0M463.3 661.5h0M457.7 661.6h0M464.6 659.1h0M450.3 666.7h0M460.4 669.4h0M457.2 667.3h0M461.8 661.6h0M449.3 659.5h0M448.5 662.4h0M453.5 656.9h0M449.2 665.5h0M450.9 661.6h0M452.9 661.3h0M459.8 668.8h0M448 662.6h0M456 665.5h0M464 660.7h0M458.2 656.8h0M453.4 657h0M461.1 656.5h0M456.4 668.7h0M468.5 664.5h0M455.2 668h0M445 661.7h0M454.7 670.8h0M455.6 656.5h0M450.4 663.4h0M458 657.4h0M451.9 658.1h0M467.4 661.2h0M456.4 657.2h0M455.8 671.6h0M453.6 655.5h0M460 655.8h0M450.6 663.6h0M462 657.6h0M451.3 662.9h0M467.5 659.2h0M464.4 657.7h0M462.8 668.5h0M469.7 664.6h0M451.9 663.6h0"/>
<path d="M451 661.3h0M456.2 661.7h0M458.6 663.8h0M459.2 657.3h0M454.6 661.6h0M458.5 662.8h0M452.8 665.4h0M460 665.4h0M456.6 663.4h0M453.5 667.1h0M462.1 659.8h0M454.1 663.6h0M463 661.1h0M454.4 659.6h0M448.3 663h0M455.9 672.7h0M453.3 659.1h0M459 656.6h0M457.1 657.6h0M458.7 657.2h0M453.9 662.7h0M455.4 663.1h0M455.2 666.2h0M453.7 664.4h0M453 661.3h0M457.4 667.4h0M457.2 662.1h0M456.9 668.1h0M457.4 661.2h0M461.2 657.7h0M451.7 664.9h0M457.6 665h0M464.1 662.8h0M449 664h0M452.8 666.9h0M460.1 662.2h0M457.9 668h0M452.6 663.1h0M455.2 665.3h0M464.1 663.9h0M459.1 666.7h0M446.5 665.9h0M451.2 662.2h0M453.2 660h0M452.9 661.1h0M450.1 663.2h0M460.3 662.6h0M450.1 659.8h0M463.5 664.7h0M459.4 658.9h0M461.3 658.7h0M461.2 664.6h0M467.1 663.2h0M457.9 661.8h0M455.7 662.4h0M455.8 656.7h0M459.6 661.7h0M456.6 663.6h0M458.5 660.3h0M466.6 658.8h0M453 659.3h0M454.6 662.5h0M452.1 659.9h0M460.5 661.3h0M449.9 658.9h0M451.8 659.5h0M451.4 669.6h0M455.8 664.3h0M457.7 659.8h0M454.8 667.8h0M460.7 667.1h0M452.4 654.7h0M456.2 660h0M462 659.3h0M455.5 666.4h0M459.3 666.1h0M449.8 666.3h0M457.4 658.8h0M456.4 670.5h0M450.2 664.4h0M460.7 659.5h0M458 655.5h0M455.7 659.3h0M468.4 664.3h0M451.7 664.2h0M462.8 662.4h0M449.3 659.5h0M456.3 667.8h0M466 661.9h0M461.6 665.6h0M452.8 663h0M464.1 660.5h0M458 665.3h0M458.2 665.6h0M459.2 659.7h0M446.8 659.6h0M450.3 662.6h0M462.8 658.8h0M448.5 665.5h0M460.6 668.5h0M462.2 665.2h0M454.5 659h0M461.2 665.4h0M450.5 661.5h0M460.2 663.6h0M456.1 657.9h0M452.1 665.9h0M456.5 669h0M462.2 661.4h0M465.8 668.3h0M451.3 670.9h0M453.9 655.6h0M449.8 656.8h0M448.6 657.8h0M452.3 657.7h0M461.5 666.6h0M454 665.7h0M469.2 662.9h0M460.7 656.9h0M466.1 666h0M457.8 666.5h0M454.8 670.5h0M447.8 659.9h0M461.5 654.3h0M446.6 661.6h0M451.2 667.2h0M451.7 657.9h0M447.5 654.3h0M451.6 659.1h0M461.5 663.4h0M454.2 657.8h0M460.5 664.1h0M457.8 655.7h0M452 669.1h0M453.1 668.6h0M456.4 653.1h0M462.7 660.4h0M455.6 655.1h0M462.4 662.1h0"/>
</g>
<g fill="none" stroke="#ff7f0e" stroke-linecap="round" stroke-width="1.9" stroke-opacity=".35">
<path d="M438.6 634.4h0M517 644h0M495 671.9h0M444.6 666.2h0M475.4 682.2h0M400.3 669.5h0M482.2 668.3h0M498.8 657.1h0M449 650.2h0M500 633.8h0M440.5 657h0M436.1 639.1h0M473.7 660.3h0M466.4 663.6h0M474.8 645.2h0M456.3 665.2h0M425.1 656h0M444.3 640.4h0M489.1 665.8h0M437.1 665.9h0M452.6 662.6h0M507.6 654.2h0M463 660.9h0M419.9 670.2h0M426.2 645.6h0"/>
</g>
<rect x="391.5" y="614.8" width="129.3" height="96.8" fill="none" stroke="#9a9a9a" stroke-width=".8"/>
<line x1="394.9" y1="711.6" x2="394.9" y2="713.2" stroke="#9a9a9a" stroke-width=".6"/>
<text x="394.9" y="718.6" font-size="6.5" text-anchor="middle" fill="#151515">-8</text>
<line x1="410.3" y1="711.6" x2="410.3" y2="713.2" stroke="#9a9a9a" stroke-width=".6"/>
<text x="410.3" y="718.6" font-size="6.5" text-anchor="middle" fill="#151515">-6</text>
<line x1="425.7" y1="711.6" x2="425.7" y2="713.2" stroke="#9a9a9a" stroke-width=".6"/>
<text x="425.7" y="718.6" font-size="6.5" text-anchor="middle" fill="#151515">-4</text>
<line x1="441.1" y1="711.6" x2="441.1" y2="713.2" stroke="#9a9a9a" stroke-width=".6"/>
<text x="441.1" y="718.6" font-size="6.5" text-anchor="middle" fill="#151515">-2</text>
<line x1="456.5" y1="711.6" x2="456.5" y2="713.2" stroke="#9a9a9a" stroke-width=".6"/>
<text x="456.5" y="718.6" font-size="6.5" text-anchor="middle" fill="#151515">0</text>
<line x1="471.9" y1="711.6" x2="471.9" y2="713.2" stroke="#9a9a9a" stroke-width=".6"/>
<text x="471.9" y="718.6" font-size="6.5" text-anchor="middle" fill="#151515">2</text>
<line x1="487.3" y1="711.6" x2="487.3" y2="713.2" stroke="#9a9a9a" stroke-width=".6"/>
<text x="487.3" y="718.6" font-size="6.5" text-anchor="middle" fill="#151515">4</text>
<line x1="502.7" y1="711.6" x2="502.7" y2="713.2" stroke="#9a9a9a" stroke-width=".6"/>
<text x="502.7" y="718.6" font-size="6.5" text-anchor="middle" fill="#151515">6</text>
<line x1="518.1" y1="711.6" x2="518.1" y2="713.2" stroke="#9a9a9a" stroke-width=".6"/>
<text x="518.1" y="718.6" font-size="6.5" text-anchor="middle" fill="#151515">8</text>
<line x1="389.9" y1="711.14" x2="391.5" y2="711.14" stroke="#9a9a9a" stroke-width=".6"/>
<text x="389.2" y="713.54" font-size="6.5" text-anchor="end" fill="#151515">-8</text>
<line x1="389.9" y1="698.98" x2="391.5" y2="698.98" stroke="#9a9a9a" stroke-width=".6"/>
<text x="389.2" y="701.38" font-size="6.5" text-anchor="end" fill="#151515">-6</text>
<line x1="389.9" y1="686.82" x2="391.5" y2="686.82" stroke="#9a9a9a" stroke-width=".6"/>
<text x="389.2" y="689.22" font-size="6.5" text-anchor="end" fill="#151515">-4</text>
<line x1="389.9" y1="674.66" x2="391.5" y2="674.66" stroke="#9a9a9a" stroke-width=".6"/>
<text x="389.2" y="677.06" font-size="6.5" text-anchor="end" fill="#151515">-2</text>
<line x1="389.9" y1="662.5" x2="391.5" y2="662.5" stroke="#9a9a9a" stroke-width=".6"/>
<text x="389.2" y="664.9" font-size="6.5" text-anchor="end" fill="#151515">0</text>
<line x1="389.9" y1="650.34" x2="391.5" y2="650.34" stroke="#9a9a9a" stroke-width=".6"/>
<text x="389.2" y="652.74" font-size="6.5" text-anchor="end" fill="#151515">2</text>
<line x1="389.9" y1="638.18" x2="391.5" y2="638.18" stroke="#9a9a9a" stroke-width=".6"/>
<text x="389.2" y="640.58" font-size="6.5" text-anchor="end" fill="#151515">4</text>
<line x1="389.9" y1="626.02" x2="391.5" y2="626.02" stroke="#9a9a9a" stroke-width=".6"/>
<text x="389.2" y="628.42" font-size="6.5" text-anchor="end" fill="#151515">6</text>
<text x="393.5" y="623.5" font-size="8.6" textLength="101.8" lengthAdjust="spacingAndGlyphs">Targeting correlation 0.219</text>
<text x="393.5" y="633.3" font-size="8.5" textLength="119.6" lengthAdjust="spacingAndGlyphs">Non-targeting correlation: 0.046</text>
<rect x="462.3" y="691.3" width="56.5" height="18.6" fill="#fff" stroke="#d4d4d4" stroke-width=".6" fill-opacity="0.8" rx="1"/>
<text x="514.4" y="698.6" font-size="8.4" text-anchor="end">Targeting</text>
<text x="514.4" y="707.3" font-size="8.4" text-anchor="end">Non-targeting</text>
<circle cx="516.6" cy="695.7" r="1" fill="#1f77b4" fill-opacity="0.4"/>
<circle cx="516.6" cy="704.5" r="1" fill="#ff7f0e" fill-opacity="0.5"/>
<text x="380.5" y="659.8" font-size="7.8" text-anchor="middle" transform="rotate(-90 380.5 659.8)">Replicate 2</text>
<text x="433.7" y="726" font-size="8" textLength="40" lengthAdjust="spacingAndGlyphs">Replicate 1</text>
<text x="596.3" y="598.2" font-size="9.9" text-anchor="middle">77-GA: Guide-level</text>
<text x="597.5" y="609.9" font-size="9.9" text-anchor="middle">Log Fold Change</text>
<g fill="none" stroke="#1f77b4" stroke-linecap="round" stroke-width="1.9" stroke-opacity=".3">
<path d="M621.9 675.4h0M612.1 673h0M601.2 662.8h0M625.1 659.3h0M605.3 648h0M600.5 654h0M617.3 663.5h0M586.3 659.5h0M591 687.1h0M608 657.4h0M619.5 661.5h0M620.6 665.9h0M599.3 674.6h0M632.4 655.8h0M608 664.5h0M589.1 668.4h0M606.8 652h0M615.1 650.5h0M614 660.6h0M616.1 650.1h0M608.2 646.6h0M601.7 659.3h0M631.5 653.3h0M608.5 667.2h0M604 674.7h0M603.9 672.6h0M609.2 671h0M599.8 672.8h0M593.2 649.9h0M610.1 671.3h0M604 655.9h0M611.6 669.6h0M617.7 659h0M606.3 651.1h0M613.2 693.5h0M576.6 684.3h0M598.9 665.4h0M623.9 653.7h0M610 662.6h0M609.7 669.1h0M600.2 674.6h0M624.6 662.3h0M605 668.5h0M599.8 647.6h0M646.5 675.9h0M587.3 656.4h0M595.9 660.5h0M616.4 678.2h0M584.5 673.1h0M609.8 664.8h0M620.4 673.6h0M599.7 660.2h0M604.1 657.4h0M603.6 673.4h0M594 676.1h0M610.1 645.3h0M608.7 659.4h0M590.1 672.6h0M613.1 657.7h0M622.4 660.7h0M604 667.5h0M599.7 657.6h0M593.3 673.6h0M600.5 666.9h0M608.1 675.6h0M605.2 665.2h0M613.1 664.7h0M603.3 682.7h0M587.9 666.3h0M611.5 664.7h0M598.1 665h0M591.2 661h0M597.3 657.9h0M615.3 648.9h0M606.4 659.8h0M624.7 670.1h0M589.2 660.3h0M605.6 669.8h0M596.2 671.3h0M625.6 647.6h0M612.3 666.2h0M601.1 668.4h0M599.2 659.7h0M600.3 663h0M592.5 680.6h0M595.5 661.5h0M620.2 660.2h0M593.1 648.6h0M596.7 664.6h0M612.6 662.9h0M601.9 669.1h0M587.4 668.9h0M607.8 667.8h0M612.9 674h0M611.1 655.2h0M603.5 664.9h0M615.8 650.4h0M624 652h0M600.3 665.7h0M594.1 679.2h0M609.7 652.4h0M585 670.9h0M589.8 647h0M619 638.3h0M602.4 643.4h0M610.1 680.8h0M595.6 656.5h0M616 663.9h0M619.3 654.9h0M607.8 677.6h0M601.7 675.2h0M591.9 653.4h0M625.3 661.3h0M605.2 657h0M587.6 668h0M598 664h0M618.9 658.4h0M614.1 665h0M595.3 645.7h0M611.5 659.8h0M623.2 685.2h0M613.1 669.4h0M613.9 656h0M589.6 677.5h0M609.7 654.4h0M592.7 672.9h0M597.3 660.6h0M623.7 643.3h0M615 652.5h0M606.7 661.2h0M619.6 650.1h0M621.7 662.2h0M589.9 669.8h0M608.9 653.7h0M616.7 662.2h0M622.7 660.1h0M608 671.9h0M622.1 673.4h0M593.4 654.6h0M615.4 667.4h0M615.6 660.8h0M613.1 672.3h0M608.7 674.6h0M613.3 663.9h0M596.9 648h0M623.3 658.3h0M610.3 668h0M624.8 657.3h0M602.6 652h0M610 660.5h0M624.7 665.2h0M602.1 667.3h0M590.7 667.6h0M590.7 647.5h0M623.3 662.6h0M581.9 661.6h0M601.7 666.8h0M612.3 674.6h0M595.3 673.8h0M606.5 663.5h0M604.1 656.6h0M602.8 650h0M605.7 655.5h0M598.7 653.2h0M606.4 672.7h0M613.8 660.5h0M610 678.5h0M618.6 663.7h0M593.6 670.5h0M592.2 668.6h0M625.6 670.5h0M586.1 657.9h0M609.8 663.9h0M569.3 668.7h0M610.2 657.9h0M630.9 683.8h0M608 649h0M580.7 658.2h0M604.7 671.6h0M620 664.3h0M595 669.6h0M628.2 653.4h0M620.4 654.7h0M599.6 668.2h0M600.8 660.7h0M625.8 677.3h0M603.7 653.1h0M616.5 668.7h0M607.1 658.9h0M599.5 675.6h0M621 668.6h0M589 652.1h0M618.8 666.4h0M583.1 662.8h0M603.8 676.9h0M623.2 668.1h0M600.2 678.2h0M578.2 680.8h0M613.5 667.9h0M606.8 657.6h0M629.8 660.1h0M587.4 676.2h0M607.2 663.7h0M618.3 664.7h0M589.2 665.9h0M597.8 670.9h0M619.5 655.9h0M624.4 666.3h0M604.2 658.5h0M605 680h0M606.5 667.1h0M604.5 673.3h0M596.6 673.9h0M592.4 659.2h0M602.6 658h0M599 653h0M608.3 661.8h0M604.2 666.5h0M593.4 661.2h0M598.5 642.2h0M610.6 650.3h0M617.2 656.9h0M595.9 674.5h0M618.1 672.9h0M618.4 662.4h0M597.8 655.1h0M607.1 661.2h0M612.5 658h0M595.2 666.4h0M609.8 653h0M594.2 662.8h0M600.6 669.6h0M624.2 671.7h0M620.6 677h0M595.6 658.1h0M582.9 658.4h0M590.2 670.8h0M614.6 658.4h0M611.1 666.6h0M612.8 666.6h0M631 652.6h0M614.3 676.7h0M608.1 666.3h0M594 664.4h0M618.6 675.6h0M590.5 653.1h0M615.6 656.3h0M605.4 660.3h0M581.1 668h0M616 659.4h0M588.2 664h0M601.8 660.5h0M608 671.2h0M590.8 658.6h0M611.1 676.5h0M632.8 664.3h0M603.1 658.9h0M616.5 670.2h0M592.1 671.3h0M622.6 666.7h0M592.7 655.3h0M615.2 662.1h0M619.4 659.7h0M614 659.8h0M602.8 653.7h0M629 692h0M616.2 664.3h0M608.5 671.5h0M606.9 673.5h0M605.8 661.9h0M598.5 663.3h0M598.4 683.5h0M614.4 667.5h0M610.1 658.7h0M581.7 672.2h0M617 660.7h0M599.8 670.1h0M594.9 681.4h0M605 662.8h0M618.7 667.4h0M595.2 680.9h0M591 675.1h0M606.4 678.2h0M634.2 663.4h0M632.1 678.9h0M601.7 653.2h0M614.7 654.8h0M632.7 666.1h0M614.1 649.5h0M626.2 666.2h0M606.1 664.4h0M617.2 646.8h0M598.6 678.6h0M586.7 673.7h0M597.3 657.1h0M610 656.5h0M594 677.1h0M621.4 656.1h0M606.5 678.7h0M584.2 669.3h0M595.2 671.6h0M612.7 656.7h0M600.9 657.5h0M611.5 671.3h0M597.2 666.4h0M616.2 678.4h0M590.5 663.6h0M614.7 646.3h0M611.6 662.1h0M602.4 655.5h0M590.2 656.9h0M596.7 658.5h0M631.9 660.6h0M601.1 656h0M606.5 670.4h0M575 674h0M597.8 669.6h0M632.6 651.9h0M626 673.9h0M597.5 679.5h0M594.8 650.1h0M597.8 672.1h0M610.1 647.3h0M600.6 652h0M604.6 669.3h0M612.4 667.2h0M588.7 661.2h0M591.6 643.2h0M596.1 667.9h0M604.7 663.6h0M617.8 671.8h0M610.2 673.4h0M624.2 644.1h0M584.1 666.6h0M604.2 675.8h0M605.4 654.7h0M611.2 656.5h0M622.1 658.7h0M622.3 670.1h0M623.1 654.8h0M625.3 647.5h0M597.1 643.7h0M595.3 647.2h0M618.2 652.8h0M606.1 648h0M623.2 653.1h0M607.7 674.1h0M620.5 668.2h0M588 673.1h0M606.5 642.4h0M614.7 671h0M601.4 647h0M595.2 664.9h0M598.1 684.5h0M607.8 662.6h0M617.4 652h0M610.6 676.8h0M591.2 669.9h0M599.5 654.6h0M572.2 659.8h0M623.5 691.7h0M616.5 641.3h0M613.1 651.4h0M601.9 665.6h0M582.3 674.5h0M602.6 663.3h0M577.1 678h0M603.2 667.1h0M627.3 653.5h0M582.3 665.8h0M614.9 642.1h0M590.7 666.5h0M609.6 664.7h0M608.1 655h0M595.6 655.5h0M624.5 648.4h0M587.5 650.4h0M609 673.2h0M620.6 651.9h0M590.7 683.3h0M593 653.1h0M620.3 668.5h0M651.8 669.5h0M574.1 652.5h0M586.3 674.6h0M615.9 666.2h0M590.3 659h0M597.4 659.1h0M596.4 662.8h0M609.5 655.1h0M605.9 656.8h0M602 662.6h0M619.2 648.1h0M606.9 674.8h0M612.3 651.3h0M601.6 676.6h0M600.3 651.4h0M613.5 637.2h0M608.2 656.3h0M602.5 672.4h0M603.2 650.4h0M596.9 659.4h0M596.1 666.4h0M608.5 658.4h0M585.1 672.3h0M629.1 673.8h0M610.2 675.1h0M611.6 681.7h0M587.1 669.9h0M608.4 665.9h0M604 663.4h0M622.6 639h0M610.3 647.6h0M612.9 641.5h0M617.3 665.8h0M608.6 660.2h0M586.1 676.3h0M602.8 660.6h0M593.9 659.6h0M586.7 652.7h0M617.1 670.6h0M591.9 660.4h0M611.9 649.7h0M589.4 670.8h0M629.5 654.9h0M611.3 647.7h0M593.4 667.7h0M619.8 646h0M611.1 652.7h0M608.8 651.1h0M595.8 682.9h0M622 684.7h0M605.1 676.9h0M609.8 687h0M591.9 665.7h0M599.8 641.8h0M597.5 673h0M624.9 646.4h0M590.8 662.2h0M592.6 665.4h0M617.5 668.2h0M600.3 701.2h0M600.6 673.1h0M599.2 662.6h0M608.6 664h0M562.5 685.5h0M612.9 646.9h0M611.6 660.2h0M619.1 650h0M614.9 653.6h0M589.2 657.6h0M608.2 637.2h0M621.3 653h0M584.2 668.3h0M582.3 655.4h0M599.5 656.5h0M604.6 646.1h0M632.1 657.7h0M605.1 654.2h0M614.5 672.4h0M601 654.8h0M595.1 651.3h0M587.8 662.8h0M617.8 653.5h0M643.1 634.4h0M587.4 686.6h0M574.9 667.5h0M610.2 670.4h0M597.3 649h0M621.7 648.1h0M630.5 657.9h0M595.8 646.3h0M622.4 650.2h0M606.8 654.5h0M600.1 671.4h0M587.2 669h0M622.5 652.3h0M616.7 640.4h0M624.8 663h0M631.2 680.3h0M599 639.7h0M599.8 666.1h0M606 668h0M646.7 673.2h0M580.7 670.5h0M576.5 658h0M571.9 655h0M598.7 671.4h0M603.7 670.8h0M596.9 669h0M574.4 669.8h0M587.7 656.7h0M627 652.4h0M589.1 675.1h0M615.3 647.5h0M621 653.7h0M599.4 651h0M603.8 669.2h0M613.6 659.7h0M610.9 669.5h0M639.1 677.6h0M619.6 658.4h0M606.2 676h0M632 672.4h0M621.4 655.8h0M589.3 649.5h0M570 648.9h0M600.6 684.7h0M608.3 651.6h0M622.4 671.4h0M586.6 685.1h0M613.6 681.6h0M583.9 671.9h0M605.2 652.7h0M600.6 678.8h0M616.1 674.4h0M611.8 642.8h0M607.8 651.8h0M629.4 666.3h0M580.2 675.9h0M587.1 661.6h0M613.5 675.3h0M611.3 669.9h0M605.6 673.3h0M615.4 644.5h0M595 670.6h0M615.7 662.2h0M594.2 669.8h0M589.7 665.4h0M630.7 655.5h0M568.5 671.3h0M585.7 666h0M589.6 662h0M582.1 693.2h0M620.1 654.5h0M593.5 657.2h0M627.2 681.7h0M617.1 674.5h0M597 678.6h0M598.7 668.5h0M589.9 659.8h0M598.6 642.4h0M596.2 679.8h0M583 668h0M620.5 659.4h0M628.2 661h0M581.2 691.6h0M591.7 657.6h0M588.7 675.8h0M615.9 653.4h0M576.9 662.9h0M602.2 635.4h0M598 662.8h0M597.9 677.2h0M597.3 668.3h0M619.6 664h0M645.9 660.7h0M577.9 624.8h0M595.4 652.8h0M601.1 649.1h0M596 672.3h0M596.6 652.5h0M618.8 682.2h0M627.5 673.8h0M620.6 675.6h0M586 677.8h0M580.8 675.6h0M570.6 661.4h0M615 669.6h0M608.8 644.9h0M593.3 666.7h0M596.4 656.2h0M579.5 660.9h0M628.7 648.4h0M584.8 657h0M602.6 677.2h0M620.1 686.6h0M611.9 663.3h0M623.6 664.9h0M601.7 683.3h0M594.3 667.2h0M585.8 677.2h0M608.2 653.2h0M577.8 669.1h0M616.7 635.3h0M608.8 649.4h0M607.3 644.3h0M654.2 625.6h0M617.6 649.6h0M634.4 653.2h0M631.7 657.9h0M627.1 656.3h0M603.7 662.6h0M589.8 663.2h0M586.9 643.4h0M594.5 675.1h0M621.7 664.3h0M593.3 694.9h0M627 644.3h0M585.9 652.7h0M618.8 647.2h0M595.3 659.6h0M591.4 664.9h0M575 669.4h0M593.6 675.1h0M620.2 644.6h0M604.5 674.9h0M566.8 652.1h0M575.7 664h0M602.1 656.1h0M583.3 656.2h0M619 660.8h0M617.9 673.5h0M596.3 677.5h0M633.4 660.5h0M584.4 675.6h0M597.9 648.8h0M616.7 672.2h0M601.9 673.7h0M585.7 663.2h0M611.3 653.1h0M621.2 634h0M577.7 663.4h0M626.4 664.1h0M622.3 645.5h0M599.9 686.2h0M592.1 644.6h0M604.2 684.1h0M589.8 651.5h0M617.2 634.8h0M595.2 678.4h0M628.9 657.1h0M623 670.2h0M596.7 650.6h0M605.3 650.6h0M592.6 656.8h0M633.9 665.4h0M614.5 663.7h0M623.2 651.2h0M594.6 661.7h0M601 681.6h0M605 659.8h0M628.4 671.4h0M586.5 671.6h0M612.4 679.8h0M614.6 673.9h0M614.4 687.9h0M624.7 668.9h0M632.4 684.6h0M640.8 668.1h0"/>
<path d="M600.4 661.6h0M632.3 664.1h0M611.3 662h0M580.3 674h0M580.6 669.5h0M627.8 664.6h0M609.1 664.2h0M623.5 661.4h0M604.5 677.6h0M608.2 662h0M605.6 660.6h0M603.2 669.7h0M629 662.2h0M621.2 657.1h0M585.2 654.2h0M605.7 659.4h0M600.8 655.1h0M618.2 662h0M616.3 665.8h0M583 657.9h0M600.5 667.5h0M603.5 675.2h0M615.8 661.8h0M588.3 671.3h0M602 664.1h0M607.4 671.3h0M588.5 662.2h0M610.9 660.9h0M602.8 661.9h0M608.6 674.2h0M603.2 654.5h0M611.8 684.4h0M630.6 656.6h0M600.5 652.7h0M602.4 666.9h0M597.6 651.8h0M643.1 638.6h0M606.2 662h0M617.9 650.4h0M606.8 664.2h0M596.8 660.3h0M598.7 658.4h0M598.8 663.6h0M589.9 674.2h0M614 660.2h0M611.1 657.2h0M585.9 643.3h0M605 658.9h0M604.5 670.2h0M609.5 664.6h0M622.8 657.7h0M619.3 665.6h0M599.7 679.2h0M646.9 637.8h0M620 655.3h0M615.1 653.3h0M618.5 653.6h0M614.1 652.5h0M606.1 657.4h0M592.4 671h0M601.7 655.1h0M596.6 637.4h0M602.8 659.1h0M608.2 659.5h0M623.4 663.5h0M614.4 675.6h0M620 663.2h0M592.5 687.5h0M617.5 664.3h0M612 656.9h0M613.4 665.8h0M628.4 665.6h0M610.6 672.7h0M587.8 663h0M608.2 667.2h0M592.2 660.3h0M596.1 668.6h0M618.5 664.2h0M620.7 668.3h0M590.1 661.8h0M615.2 674.5h0M604.9 661.2h0M615.2 663.4h0M594.2 655.2h0M606.3 680.1h0M594.9 667h0M620.1 666.5h0M616.7 656.8h0M595.7 659.9h0M593.5 660.9h0M631.2 641.5h0M621.6 658.1h0M620.1 657.7h0M625.8 657.3h0M593.2 658.2h0M613.9 657.8h0M610 662.1h0M625.9 654.4h0M591.8 655.6h0M594.8 664.4h0M613.1 659.4h0M610.4 648.3h0M586.8 668.3h0M632.2 657h0M628 658.2h0M632.8 667.7h0M609.1 650.6h0M618.8 652.6h0M555.7 646.2h0M599.9 671.5h0M611.7 664.2h0M611.4 651.8h0M610.2 677.6h0M590.3 670.8h0M639 647.5h0M600.5 673.7h0M585.6 686.3h0M616.5 671.8h0M603.1 656.3h0M604.6 675.7h0M617.6 658.7h0M599.7 646.3h0M600.9 664.6h0M594.1 652.2h0M593.4 682.3h0M615.7 670.6h0M602.5 657.3h0M583.3 663.9h0M618.7 660h0M573.4 682.9h0M605.5 671.5h0M597.7 656.8h0M603.7 676.7h0M638 662.1h0M610.1 657.6h0M598.6 668.6h0M615.4 681.3h0M613.6 670.5h0M592.4 664.1h0M616.4 656.9h0M590.8 672.7h0M586.2 645.6h0M587.3 677.5h0M610.5 669.6h0M597.2 664.6h0M614.1 664.6h0M606 657.3h0M600 660.1h0M595.3 668.4h0M581.8 656.2h0M587.8 654.8h0M583.5 671.1h0M615.8 674.2h0M597.9 653.4h0M595.8 668h0M616.7 662.5h0M598.2 678.4h0M597 674.5h0M611 670.8h0M606.2 655.2h0M633.8 663.3h0M607.6 658h0M596.3 673.4h0M606.7 649.2h0M585.6 662.7h0M592.4 648.8h0M605.2 679.8h0M609.3 666.1h0M633.2 666.9h0M617.6 645.6h0M595.2 651.5h0M613.1 654h0M611.7 648.2h0M613.6 673.1h0M596.4 667h0M614.6 666.7h0M624.2 659.5h0M601.9 668h0M583.6 666.7h0M592.4 658h0M611.1 668.4h0M601.6 662.5h0M613.6 667.1h0M639.2 653.2h0M599.9 646.7h0M647.2 663.7h0M589.7 656.6h0M593.9 648.6h0M616.5 672.7h0M626.4 661.1h0M623 638.5h0M611.6 651.1h0M625.5 651.4h0M602.1 679.4h0M608.5 657.3h0M601.5 665.7h0M585.7 658.4h0M587.3 659.7h0M623.9 664.6h0M601.4 682.4h0M629 667.7h0M634 662h0M612.1 668.6h0M596.5 656.4h0M590 678.3h0M603.1 653.1h0M625.4 663.5h0M580.2 674.9h0M606.3 674.4h0M592.1 668.4h0M614.9 668.3h0M622.2 651h0M610.8 671.7h0M609.3 667.9h0M586.4 656.4h0M626.7 662.4h0M599 661.1h0M601.1 666.5h0M630.7 652.9h0M609.4 662.1h0M598.2 657.5h0M582.1 666.4h0M641.1 664h0M617.5 665.6h0M608.1 669.7h0M595.7 671.2h0M610.8 655.5h0M603.7 664.1h0M609 674h0M617.8 678.2h0M597.5 662.6h0M608.5 647.8h0M612.9 656h0M599.8 656.7h0M612.2 664.9h0M607.9 665.2h0M597.9 669.7h0M597.4 667.9h0M584.9 661.2h0M629.1 661.4h0M603.1 665.6h0M607.2 650.8h0M593.6 655.9h0M621 655.9h0M599.9 675.2h0M614.8 669.9h0M595.5 652.2h0M616.6 658h0M616.6 661.3h0M603.5 683h0M605.3 667.1h0M607.2 672.8h0M616.3 652.1h0M629.4 667.2h0M605.2 672.2h0M586.5 661.9h0M602.5 655.9h0M612.6 649.9h0M587.2 674.7h0M606.9 673.9h0M604.1 661.6h0M597.7 670.3h0M598.7 659.2h0M599.2 666.5h0M581.4 661.2h0M594 667.6h0M607.4 655h0M606.4 665.4h0M591.4 662.2h0M574.3 675.7h0M632.7 644.4h0M589.6 663.2h0M598.8 677.2h0M608.1 649.5h0M602.8 671.3h0M607.5 666.2h0M606.9 670.5h0M584 665.3h0M610.5 663.6h0M614.7 661.8h0M587.8 672.8h0M622.1 650.3h0M603 667.3h0M596.8 665.4h0M622.6 668.8h0M584.7 673.1h0M623.1 659h0M606.7 652.5h0M622.2 654.2h0M586.2 671.5h0M614.4 647.2h0M591.7 669.3h0M644.1 661.2h0M627.4 657.5h0M618.7 658.2h0M604.1 647h0M612.8 668.7h0M598.8 670.3h0M609.3 627.3h0M578.9 624.7h0M617.5 639.7h0M589.8 646.3h0M595.1 663.3h0M615.4 655.1h0M623.9 667.6h0M598 658.8h0M606.1 653.4h0M581.1 667.3h0M632.4 660.8h0M577.1 662.8h0M645.1 670.8h0M617.2 668.6h0M610.3 658.9h0M582.7 681.8h0M579.7 668h0M587.4 678.5h0M622.4 667.3h0M609 668.5h0M610.4 686.6h0M607 653.4h0M591.4 669.9h0M584.6 664h0M595.1 658.5h0M628.1 651.9h0M617.1 670.8h0M607.3 652.6h0M620.7 653.6h0M599 665.2h0M593.1 669.2h0M593.6 670.1h0M613.2 644h0M572.6 679.9h0M594.9 657.3h0M573.3 663.4h0M587 660.3h0M599.9 675.2h0M597.6 660.6h0M613.1 661.9h0M592.3 662h0M601.5 678h0M594.8 662.5h0M591.9 652.3h0M614.3 684.8h0M619.6 651.4h0M618.2 670.8h0M628.7 654.8h0M604.1 654.6h0M602.2 674.7h0M604.5 669.3h0M630.4 654h0M613.3 675.8h0M598.5 673.4h0M603.5 660.6h0M599.3 672.1h0M604.1 650.1h0M613 660.2h0M588.7 651.2h0M620.3 661.1h0M581.7 675.6h0M611.4 670.2h0M597.8 675.1h0M619.9 656.6h0M620.4 646.5h0M595.4 648h0M612 655.2h0M631.9 664.5h0M626.9 667.2h0M621.1 683.6h0M622.5 653.9h0M584.9 664.7h0M608.5 661.2h0M613.9 663.5h0M574.5 653.2h0M579.1 661.5h0M586.9 665.7h0M597 663.7h0M621.1 665.9h0M614.7 655.7h0M595 676.5h0M624.3 666.4h0M627.9 652.8h0M587.6 674.7h0M604.6 658.2h0M624.4 673.8h0M609 652.4h0M602.8 657.5h0M588.3 661.4h0M599.7 662.2h0M601.2 660.6h0M568.3 677.2h0M630.5 651.2h0M611.7 673.8h0M594.4 670.9h0M632.7 662.5h0M606.8 669.4h0M614.7 673h0M567.3 668.7h0M586 654.7h0M617.4 658.3h0M599.7 667.2h0M607.7 656.5h0M602.9 652.7h0M578.7 646.7h0M602.3 670.2h0M622.8 666.8h0M594.1 666.7h0M622 665.3h0M610.7 667.5h0M623.6 656.1h0M619.9 659.6h0M592.3 675.2h0M610.2 647.4h0M639.4 649.8h0M595.6 673.5h0M589.8 676.1h0M610.6 665.4h0M589.5 664.7h0M599.4 654.8h0M612.5 672.4h0M616.3 669h0M618.3 651.6h0M617.1 654h0M622 667.1h0M601.8 669.4h0M604.9 657.3h0M596.8 680h0M598 663.2h0M574.7 666.5h0M612.4 657.8h0M613.6 665.3h0M604.8 664.9h0M634.4 658.4h0M593.6 677.1h0M631.6 657h0M588.7 672.7h0M612.9 652.6h0M600.3 682.2h0M613.5 658.1h0M626.3 646.8h0M611.3 679.5h0M608.5 654.6h0M611.5 659.8h0M585 670.5h0M592.2 665.2h0M619.2 655.4h0M610 653.1h0M595.1 672.3h0M584.1 681.3h0M617.1 666.8h0M613.7 655.9h0M593.9 672.1h0M601.8 650.3h0M633 675.8h0M644.7 665.6h0M602.6 672.3h0M584 662.5h0M586.4 678.7h0M612.9 677.4h0M617.9 674.6h0M623 674h0M625.9 645.2h0M598 666.4h0M595.4 655h0M555.8 662.3h0M581.2 674.2h0M597.4 655h0M631.2 644.5h0M590 660.8h0M621.7 674h0M613.8 647.4h0M603.3 673.5h0M615.5 663.2h0M601.4 650.4h0M593.7 663.3h0M573.2 665.1h0M603.7 671h0M617.2 680.9h0M598 681.9h0M591.3 671.9h0M620.2 662.6h0M624.2 634.5h0M626.6 655.5h0M625.2 675.9h0M594.3 669.2h0M574.7 651.2h0M602.2 659h0M587.4 664.7h0M574.2 644.2h0M600.1 663h0M621.8 652.3h0M589.9 650.8h0M627.6 665.9h0M604.8 668.5h0M595.1 680.4h0M614.8 656h0M639.4 670.4h0M626.2 666.1h0M620.4 648.9h0M620 672.1h0M604.1 636.8h0M610.3 675.1h0M593.5 665.7h0M599.3 652.4h0M595.8 661.6h0M620.7 669.8h0M605.8 667.5h0M576.7 663.6h0M596.3 676.8h0M590.1 686.2h0M609.5 654h0M604.4 633.7h0M589.8 655.4h0M614 644.4h0M588.9 622.3h0M599.2 649.9h0M630.5 664h0M639.7 657.3h0M627.1 670.7h0M573 674.9h0M639.5 660.3h0M584.6 660.1h0M596.2 653h0M589.1 666.2h0M605.1 673.1h0M624.8 650.6h0M634.5 642.7h0M606.4 670.5h0M609.3 670.7h0M595.9 648.5h0M628.3 672.3h0M614 638.8h0M622.1 659.5h0M568.2 672.9h0M616.7 667.5h0M617.9 655.2h0M612 644.9h0M617.1 661.4h0M576.3 687.5h0M584 660.7h0M588.4 667.9h0M624.2 652.8h0M639.4 662.7h0M590.1 671.3h0M611.3 650.1h0M627.4 668.9h0M570.3 662.4h0M608.3 674.9h0M587.2 665.1h0M591.3 666.4h0M617.3 672.3h0M576.4 635.6h0M600.3 670.1h0M579.9 671.1h0M592.3 671.9h0M615.9 665.1h0M609.7 654.2h0M601.4 660.5h0M586.4 669.1h0M594.6 674.9h0M587.7 666.5h0M579.9 658.4h0M583.6 668.1h0M617.1 673.3h0M598 648.2h0M605.6 650.3h0M604.7 663.4h0M585.1 683.8h0M621 662.6h0M615.4 646.1h0M609.9 697.9h0M615.9 653.5h0M631 660.6h0M578.5 669.8h0M593 661.7h0M578.3 663.1h0M600.6 650h0M599.5 680.7h0M578.5 666.4h0M571.2 667.5h0M618.8 655.9h0M611.1 651.7h0M614.5 651.1h0M594.4 653.4h0M587.9 656.3h0M592.6 641.4h0M613.2 650.6h0M594.4 687.4h0M627.3 651.3h0M607.7 663.2h0M618.7 669.5h0M626.3 655.7h0M571.5 684.4h0M599.8 676.7h0M590.3 667.6h0M625.6 649.3h0M624.3 675.6h0M609.3 676.6h0M588.1 649.8h0M631.3 667.5h0M612 665.9h0M593.6 659.2h0M619.6 664.3h0M578.1 665.7h0M593.6 686.7h0M596.8 671.3h0M589.6 658.9h0M628.7 650.5h0M589.7 668.4h0M618.8 665.9h0M606 666.7h0M610.1 666.3h0M615.6 659.2h0M578.2 660.1h0M601.7 653.2h0M612.9 671.9h0M622.4 662.5h0M591.6 648.9h0M592 656.6h0M607.8 645.8h0M591.5 681.3h0M618.1 652.3h0M594.2 673h0M609.2 660h0M618.6 671.8h0M604.9 678.5h0M622.2 677.4h0M588 657.4h0M622.6 637.4h0M619 660.5h0M637.7 651.9h0M630.9 662.8h0M601.8 641.5h0M622.5 679.6h0M658.4 673.1h0M596.2 644.6h0M626.4 659.5h0M614.4 672.3h0M605.2 653.5h0M583.2 677.1h0M619.8 652.6h0M624.8 654.9h0M603 650.5h0M587.1 663.7h0M633.7 650.7h0M578.4 683.5h0M611.4 674.5h0M592.3 651.2h0M610.6 649.3h0M610.4 676.2h0M575.8 668.6h0M590.6 674.7h0M624.6 662.8h0M634.3 653.1h0M597 646.7h0"/>
<path d="M584.1 671.6h0M598.7 662.4h0M589.9 670h0M622.3 648.8h0M596.4 664h0M600.5 661.6h0M577 667.2h0M610.4 666.2h0M593.1 672.1h0M600.9 665.3h0M619.5 679.7h0M590.7 657.7h0M604.2 653.1h0M602.9 666h0M617.4 659.3h0M576.3 671h0M598.8 664h0M605.9 648.3h0M601.8 652h0M614.5 652h0M610.2 641.2h0M621.9 658.2h0M588.7 663.4h0M618.1 654.2h0M602.2 658.7h0M602 667.6h0M600.5 667h0M605.3 665.7h0M600.1 660.8h0M615.6 659.1h0M618.5 668.6h0M601.8 649.7h0M598.9 626.6h0M596.6 659.2h0M628.9 662.1h0M609.6 651.1h0M604 670.3h0M606.1 659.2h0M599.8 653.3h0M599.3 658.8h0M593.5 664.2h0M574.5 688h0M588.8 708h0M614.4 684.1h0M597.5 664.8h0M600.9 659.3h0M598.8 665.3h0M601 655.1h0M582.7 675.6h0M611.8 666.6h0M572 672.6h0M611.4 665.1h0M595 666.7h0M607.3 661.6h0M594.6 657.9h0M616.2 665.6h0M613.7 661.5h0M631.2 650.6h0M617.6 669.2h0M613 687h0M606.4 664.5h0M599.9 669.4h0M603.3 661.3h0M611.5 669.3h0M591.8 665.9h0M601.4 671.9h0M603.8 650.9h0M608.1 672.9h0M612.2 667.8h0M583.2 649.9h0M626.9 670.5h0M614.5 653.2h0M619 676.3h0M591.3 647.4h0M622.2 641.1h0M610.6 643.5h0M609.6 658.2h0M593.7 675.8h0M624.8 651.9h0M604.1 662.1h0M622 651.9h0M619.6 659.6h0M621.5 679.1h0M578.4 670.4h0M608.1 671h0M619.6 670.6h0M601.4 657.2h0M622.3 662.8h0M650.2 660h0M595.5 665h0M589.3 669.2h0M602.7 643.5h0M594.4 659.6h0M616.8 657.9h0M611 656.3h0M603.3 665h0M573.9 670.7h0M615.7 666.9h0M590.7 675.8h0M606.3 650h0M610.8 669.9h0M593.3 672.9h0M567.2 687.3h0M602.8 657.1h0M606.2 666.3h0M604.6 652.3h0M621.2 664.5h0M639.1 650.5h0M603.2 659.5h0M611.6 663.1h0M584.8 666.1h0M607.4 658.6h0M609.2 660.1h0M581 670.4h0M598 660.1h0M604.5 651.1h0M602.4 661.6h0M608.2 669.1h0M622.5 663.2h0M616.6 677.4h0M589 666.5h0M616.1 661.6h0M607.7 679.2h0M598.2 662.2h0M591.9 670.8h0M610.2 662.2h0M612 659.1h0M620.9 656.7h0M606.9 659.8h0M618.9 650.7h0M594 653.4h0M606.1 679.2h0M589 660.7h0M597.8 629.4h0M632.6 655.8h0M604.1 654.9h0M617.9 661.8h0M615.9 654.5h0M622.1 663.8h0M604.1 669.3h0M602.2 668.9h0M601.8 664.4h0M599.1 670.5h0M611.5 661.4h0M590.6 669.1h0M627.3 641.6h0M587 662.7h0M611.6 671.7h0M606.4 675h0M618.4 644.8h0M601.4 687.1h0M572 655.8h0M607.6 643.7h0M614.6 657.1h0M606.8 661.7h0M618.3 658.7h0M617.1 656h0M615.6 667.3h0M616.5 685h0M595.5 676.6h0M614.3 666.6h0M619.2 672.4h0M586.2 679.5h0M594.3 667.3h0M601.6 670.8h0M604.1 650h0M627.5 661.5h0M600.4 669.3h0M591.7 663.2h0M606 670.6h0M623.9 649.1h0M600.4 671.3h0M581.6 668.4h0M607.4 655.2h0M604.1 651.9h0M616.7 655.5h0M606 663h0M621 653.2h0M567.4 672h0M616.2 669.2h0M627.2 663.1h0M603.2 649.9h0M579.7 672.1h0M620.5 671.5h0M605 673.8h0M613.6 661.8h0M613 664.1h0M617.8 653.3h0M608.7 672h0M605.6 655.4h0M591.2 662.3h0M609.9 673.2h0M597.9 664.3h0M593.2 660.6h0M619 667.9h0M637.4 659.8h0M594.4 669h0M595.8 668.8h0M600.6 654.3h0M612.9 657.6h0M591.9 674.8h0M623 665.7h0M610.7 667.2h0M610.4 663.8h0M614.4 663h0M603.1 653.1h0M609 649.7h0M604.5 665.4h0M620.9 665.4h0M614.4 675.1h0M622.8 659.7h0M594.4 675.2h0M584.7 687.2h0M597.4 672h0M607 667.3h0M605 684.2h0M603.9 677.5h0M613.1 664.9h0M574.2 659.7h0M612.9 648.1h0M615.1 642.1h0M619.7 655.6h0M585.6 677.8h0M602 663.7h0M605.4 660h0M614.2 650.9h0M592.9 675.1h0M620.5 657.7h0M595.8 651.5h0M608.3 669.7h0M615.2 660.8h0M591.8 656.7h0M619.3 678.3h0M609 664.2h0M606.9 657.2h0M627.2 657.7h0M648 676.8h0M615.2 672.9h0M600.2 675.4h0M621.2 659.3h0M596.5 654.1h0M610.7 669.1h0M606.8 645.5h0M583.6 665.3h0M570.2 663h0M619.5 661.5h0M619.3 664.8h0M609.2 664.6h0M597 662.5h0M590.5 658.8h0M621.6 672.2h0M624.4 659.3h0M608.6 667h0M615.1 689.8h0M593.6 678.9h0M613.4 665.9h0M569.7 675.4h0M594.1 667.2h0M616.5 643.8h0M611.9 670.1h0M620 666.5h0M617.4 647.4h0M633 671.4h0M614.9 657.7h0M618.9 658.1h0M592.6 665.2h0M594.7 647.8h0M604.3 675h0M605.3 663.8h0M610 672.5h0M613.1 656.4h0M577 683.1h0M595.3 661.7h0M587 673.8h0M627.4 661h0M590.1 673.5h0M594.1 654.9h0M603.8 658.2h0M600.3 685.1h0M613.5 650.4h0M619.3 671.1h0M575.9 670.5h0M605.7 644.1h0M585.9 670h0M612.4 658.1h0M580.9 654.5h0M596.2 676.9h0M607.2 660.3h0M614 669.3h0M622.7 657.3h0M593.1 669.3h0M587 666.8h0M570.8 689.5h0M602.2 640.1h0M595.9 657.6h0M587.2 678.2h0M601.6 654h0M637.3 650.4h0M590.7 668.1h0M630.4 665.2h0M593.3 664.7h0M594.2 659.1h0M614.1 655.3h0M633.5 669.1h0M604.1 654.8h0M605.1 660.7h0M614.7 662.7h0M604.4 692.1h0M605.9 657.6h0M588.3 664.6h0M595.4 664h0M598.1 661.4h0M618.5 649.4h0M602.2 660.6h0M593.2 670h0M588.1 681.7h0M579.7 666.8h0M621.7 655.1h0M615 664.6h0M623.9 653.1h0M593.3 658h0M603.3 676.4h0M605 658.2h0M603.2 667.6h0M633.4 667h0M607.4 663.3h0M589.3 700.7h0M615.7 657.4h0M605.1 677.3h0M598.9 655.5h0M588.6 666.7h0M600.8 651h0M610.3 660.9h0M620 662.3h0M585.8 691.3h0M615.8 653.4h0M572.6 685.8h0M607.9 665.9h0M626.3 653.2h0M596.8 654.7h0M598.9 660.9h0M620.9 645.5h0M625.8 669.1h0M611.5 662h0M612 656.8h0M600.8 667.9h0M585.5 671.8h0M591.7 654.6h0M613.8 670.1h0M616 641.5h0M612.2 652.6h0M614.6 671.8h0M617.5 661.1h0M602.5 666.8h0M611.4 654.7h0M608.5 697.4h0M589.2 656h0M636.8 661.2h0M592.4 677.2h0M596.3 655.9h0M608.1 671.8h0M618.1 666.6h0M611.3 644.5h0M603.7 679.7h0M582.2 664.3h0M586.9 665h0M625.9 670.5h0M641.1 652.6h0M608 665.3h0M605.5 667.3h0M587.9 679.3h0M588 661.1h0M598.6 673.4h0M606.8 651.9h0M600.5 671.2h0M609.9 664.4h0M599.3 657.4h0M596.4 667.2h0M616.8 647.6h0M609.5 654.2h0M593.5 656.2h0M611.2 649.1h0M581.5 669.6h0M625.2 657.6h0M616.2 674.4h0M589.5 648.2h0M602 674.6h0M610.4 675.2h0M615.8 671.6h0M615.3 647.1h0M583.1 662.1h0M620.1 653.7h0M606.8 653.6h0M594.5 671h0M572.7 663.4h0M597.2 667.7h0M615.2 645.7h0M587.7 670.3h0M634.5 640.5h0M583 665.7h0M608.1 653h0M583.3 680.9h0M603.8 671.9h0M617.9 666.2h0M599.7 666.6h0M608.9 653h0M616.4 671.2h0M589.3 668.3h0M624.5 664.7h0M601.7 676.5h0M586 663.7h0M625.1 668.3h0M596.2 685.8h0M604 664.2h0M576.3 678.1h0M621.8 671.2h0M626.3 658.9h0M603 668.7h0M584.8 645.2h0M596.8 673.2h0M600 673.6h0M590.4 674.3h0M604.9 670.3h0M624.4 664h0M628 675.7h0M596.6 660.7h0M617.8 672.6h0M619.6 661.4h0M600.8 658.6h0M606.2 661h0M582.5 681.4h0M629.3 652.3h0M600.4 651.9h0M589.1 689.9h0M581.3 678.6h0M599.9 657h0M598.4 675.7h0M588.5 663.3h0M597.1 647.5h0M596.1 666.3h0M590.7 664.2h0M596.8 675.4h0M609.6 655.7h0M634.6 659.4h0M588.1 658.9h0M606.8 676.5h0M612.9 655.2h0M589.3 671.6h0M592.7 668.9h0M618.9 647.7h0M612.7 668h0M613.2 669.9h0M623.2 672.4h0M605.4 672.5h0M584.4 671h0M600.7 641.2h0M605.3 657.3h0M608.6 661.9h0M616.2 673h0M621.5 651.6h0M596.9 650.2h0M617 675.8h0M606.1 672.4h0M597.2 656.4h0M604.5 683.9h0M571.4 666.3h0M597 670.4h0M589.4 658.2h0M597.3 658.2h0M629.2 656.4h0M594.2 662.2h0M605.9 668.5h0M614.2 667.4h0M635.7 661.2h0M598.2 654.1h0M596 694.7h0M604.9 662.1h0M666.3 661.1h0M597.1 672.9h0M601 663.1h0M612.8 674.4h0M601.4 655.1h0M599 667.4h0M618.7 660.8h0M593.7 681.1h0M622.1 676.7h0M598.4 674.5h0M591.4 672h0M620 656.5h0M636.4 684.7h0M590.3 660.9h0M642 653.6h0M616.8 663.9h0M591.8 660.1h0M616.9 671h0M624.1 666h0M608.1 674.6h0M597.9 686.2h0M612.7 653.2h0M640.3 647.1h0M624 660.6h0M586.7 669.7h0M571.8 671.5h0M604.3 681.7h0M595.8 672.1h0M610.4 659.2h0M614.8 639.9h0M634.8 662h0M591.3 687.8h0M620.3 667.3h0M622.8 643.8h0M602.1 691.7h0M587.8 668.3h0M617.7 667.6h0M598.3 652.9h0M600.9 676.4h0M603.5 673.1h0M572.2 679.9h0M630.8 657.8h0M620 673.4h0M571.7 650.9h0M624.3 648h0M607.4 645.3h0M623.4 669.5h0M615.6 661.4h0M606.7 673.5h0M589.9 654.4h0M607 656.9h0M596.1 677.2h0M584 660.5h0M612.9 641.7h0M667.2 650.5h0M588.2 650.6h0M625.3 664.7h0M631.2 653.8h0M595.1 660.6h0M594.4 654.6h0M628.7 669h0M619.9 635.3h0M633 663.4h0M593.2 646.1h0M592.4 653.8h0M598.1 669.8h0M618.7 656.4h0M608.9 648.1h0M556.6 682.4h0M559.6 704.4h0M588.3 658.5h0M587.7 674.4h0M587.6 672.7h0M588.1 696.2h0M599.9 649.7h0M628 670h0M626.9 633.3h0M597.7 654.7h0M624.1 656.6h0M619.5 642.2h0M585.5 655.7h0M620.9 668.3h0M629.6 655h0M623.3 656.9h0M601.3 648.6h0M624.7 679h0M590.3 666.7h0M612.3 645.6h0M612.2 650.4h0M591.7 672h0M590.3 652.3h0M590.5 649.7h0M610.1 655.2h0M641.1 653.7h0M639.9 625.4h0M609.6 667.6h0M575.9 697h0M600.8 687.8h0M573.1 650.3h0M602.1 650.5h0M623.3 662.3h0M589.8 679.4h0M576.4 655.2h0M623 679.3h0M635.6 688h0M611.6 653.8h0M596 664.4h0M610.6 654.3h0M598.3 651.5h0M625.3 662.6h0M584.3 677.7h0M591.3 657h0M624.7 673.7h0M610.9 676.7h0M614.7 675.7h0M578.8 669.4h0M613.6 652.6h0M616.1 663.6h0M618 650.6h0M628.5 653.8h0M584.8 674.4h0M619.3 663.6h0M591.1 665.4h0M620.4 675.5h0M608.5 659.4h0M602.4 677h0M621 660.5h0M634.7 663.1h0M612.3 682.7h0M623.3 652.8h0M598.8 676.2h0M625.1 676.8h0M609.8 649.1h0M614.6 659.5h0M609.8 657.4h0M583.2 646.1h0M606.2 667.5h0M580.7 656.4h0M610.6 685.2h0M623.1 654.8h0M612 685.1h0M637.3 654.4h0M579 664.4h0M592.5 660.3h0M594.1 646.9h0M578.2 654.8h0M625 645.7h0M620 662.9h0M590.6 685.2h0M580.8 673h0M633 676.3h0M615.7 656h0M618.7 641.7h0M607.1 676.1h0M604 645.3h0M558.1 661.8h0"/>
<path d="M587 663.1h0M589.9 674.4h0M589.7 672.3h0M615.4 655.3h0M603 661.3h0M595.4 665.6h0M612.4 649.4h0M608 670h0M614.4 661.9h0M617.3 643.1h0M597.5 659.4h0M627.7 653.7h0M581.5 651.8h0M586 643.7h0M656.7 663.1h0M602.2 666.9h0M601 668.5h0M593 668.8h0M620.5 665.4h0M611 660.8h0M598.2 671h0M600.3 651.3h0M610.8 657.4h0M596.5 663.4h0M609.1 664.8h0M606.1 683.9h0M608.6 665.7h0M601.9 657.9h0M609 658.1h0M605.1 664.1h0M596.8 656.8h0M610.4 675.8h0M629.5 663.6h0M597.8 655.7h0M591.9 639.1h0M611.9 643h0M583.3 673.5h0M579.8 654.4h0M632.9 646.9h0M620.6 658.8h0M614.1 653.9h0M624.8 662.2h0M604.2 657.6h0M586.6 671.5h0M603.5 675.3h0M601.1 662.2h0M598.8 680.2h0M604.9 655.7h0M627.5 640.9h0M622.4 670.4h0M596.5 651.7h0M589.3 666.1h0M574.1 669.7h0M605.8 661.8h0M600.9 665.4h0M585.2 679.7h0M620.7 661.1h0M597 669.5h0M558.2 662.4h0M571.6 674.4h0M610.8 666.9h0M603 651h0M622.1 658.4h0M595.7 667.4h0M632.8 655.2h0M615.3 670.5h0M601.7 668.5h0M589.8 657.6h0M603.3 670.2h0M635.5 652.2h0M619 661.3h0M604 672.5h0M623.9 656.4h0M587 666.1h0M597.3 668h0M600.1 679.5h0M605.9 656.4h0M608.6 661.1h0M619.3 665.7h0M604 663.5h0M599.5 658.9h0M609.2 677.9h0M602.5 677.9h0M594.2 674h0M595.4 667.8h0M604 658h0M624.2 659.8h0M606 667.7h0M611.6 650.5h0M589.8 641.4h0M602.4 659.6h0M615.1 657h0M605.2 666.7h0M624.6 647.5h0M604.3 652.1h0M619.9 653.3h0M621.5 652h0M617.8 665.9h0M625.3 667.8h0M610.7 655h0M605.7 670.2h0M590.8 678.9h0M618.2 665.7h0M594.6 666h0M616 661.5h0M629.7 656.5h0M607.6 658.8h0M618.1 670.7h0M621.4 662.2h0M633 653.8h0M610.6 662.4h0M603.7 668h0M620.3 668.7h0M636.5 680.2h0M593 657.3h0M592.3 662.2h0M614.3 658.5h0M600.6 660.9h0M595.7 655.7h0M609.8 665h0M583.3 669.4h0M605.8 672.3h0M601.5 664.6h0M605.3 669.5h0M608.9 654.3h0M617.3 681.7h0M617.8 662.6h0M593.2 659.2h0M606.1 658.6h0M620.1 663.8h0M592.4 675.4h0M593.6 681.2h0M607.7 664.7h0M616.4 672.1h0M603.6 649.3h0M585.7 662.6h0M594.4 680.1h0M618.2 674h0M607.4 657.2h0M617.6 673.1h0M592 666.1h0M602.9 659.4h0M596.9 659.7h0M615.5 652.7h0M590.7 654.5h0M612.4 666.1h0M596.8 678.1h0M598 687.1h0M604.7 667.9h0M584.1 667.5h0M599.2 663.8h0M575.3 667.6h0M590.7 651.4h0M600.2 657.5h0M612.5 659.3h0M599.2 655.2h0M571.5 680.1h0M612 654.1h0M581.8 667h0M606.8 658.9h0M603.6 683.5h0M610.8 651.6h0M604 666.4h0M587.1 647.5h0M599.6 667.8h0M621 666.1h0M583.7 667.1h0M604.1 673.7h0M589.8 679h0M606.9 653.5h0M606 664.4h0M593.3 661.3h0M625.4 664.2h0M607.8 660.7h0M622.4 667.7h0M603.6 669.2h0M582.7 682.6h0M578.8 666h0M607.9 651.8h0M611 659.9h0M613.9 649.7h0M618.2 667.3h0M603.4 662.2h0M618.2 676.9h0M589.8 679.8h0M590.4 665.2h0M605.7 643.9h0M608.5 668.2h0M591.7 658.3h0M617.4 668.6h0M615.5 669.5h0M601.3 669.1h0M602.3 670.9h0M585.6 676.7h0M598.2 649.5h0M613.2 663.4h0M601.2 659.5h0M611.5 657.5h0M591.7 668.3h0M595.5 659.6h0M613.3 642.4h0M602 643.4h0M603.8 651.9h0M619 668.8h0M609.3 673.8h0M622.4 662.3h0M621.1 655.5h0M620.5 651.4h0M608.5 663.7h0M596.9 662.3h0M613.7 652.6h0M594.4 671.9h0M612.9 651.3h0M631.1 661.8h0M593.7 672.4h0M612.1 656.3h0M600.1 683.5h0M605.9 653.7h0M626.2 660.1h0M600.3 671.7h0M597.8 661.9h0M598.5 664h0M601.2 676.7h0M596.5 678.9h0M615.9 665.9h0M606.1 649.5h0M585.4 659.2h0M603.3 655.7h0M605.3 661.2h0M601.7 661h0M628.7 672.8h0M605.8 663.2h0M584.1 664h0M613 667.1h0M588.8 675.9h0M595.8 660.9h0M612.5 652.2h0M620.4 651.8h0M614.2 668.1h0M589.9 656.3h0M633.9 646.4h0M603.5 665.4h0M614.8 665.4h0M597.6 673.9h0M594.2 661.9h0M609 674.2h0M624.1 653.1h0M607 667.5h0M593.9 665.7h0M600.7 655.2h0M613.7 660.1h0M620.7 658.5h0M602.9 647.3h0M617.3 665.1h0M608.9 668.6h0M604.4 677.6h0M591.4 644.5h0M598.9 669.5h0M623.6 666.8h0M580.6 655.3h0M591.4 652.8h0M614.5 666.9h0M615 669.2h0M584.7 682.4h0M588.4 665h0M605.2 664.4h0M586 662.8h0M601.1 673.7h0M598.6 660.4h0M577.1 667.5h0M584.3 670.1h0M616.8 671.3h0M593.8 663.1h0M624.8 667h0M622.6 658.7h0M577.7 680.9h0M627.9 668.4h0M596.6 655.8h0M584.3 674.5h0M594.7 670.1h0M585.5 656.8h0M602.3 654.9h0M618.3 692.3h0M637 678.2h0M622 663.7h0M614.9 644.7h0M582.7 671.6h0M601.8 674.3h0M599.1 664.6h0M613.4 658.6h0M595.1 662.1h0M625.6 662.1h0M599.3 653.5h0M611.1 671.7h0M602.4 651.3h0M589.5 659.8h0M624.5 650.2h0M611.2 667.2h0M610.2 657h0M595.5 660.8h0M621 670.8h0M610.5 669.1h0M606.2 674.5h0M575.3 672.4h0M609.1 679.6h0M612.5 665.7h0M596.2 673.9h0M588.3 655.9h0M612.5 660.8h0M616.5 657.8h0M593.6 657.8h0M604.1 661.7h0M598.5 678h0M593.7 670h0M596.8 665.4h0M595.2 657.3h0M591.3 661.6h0M588.6 658.3h0M605.9 643.2h0M590 654h0M609 658.7h0M591.5 666.5h0M612.5 646.3h0M618.7 658.8h0M617.7 663.6h0M618.6 661.9h0M598.1 665h0M568.3 680.4h0M598.1 669.2h0M621.5 668.4h0M589 661.3h0M608.8 661.9h0M608.4 652.8h0M607.4 677h0M584.5 670.3h0M586.6 681.2h0M598.2 661.1h0M590.3 658.2h0M577.9 669.9h0M594 655.1h0M590.5 675h0M608 662.8h0M594 668.2h0M612.6 645.8h0M611.2 664.5h0M615.1 652.8h0M596.8 653.5h0M632.4 659.4h0M600.4 684.7h0M598 658h0M598.8 650.4h0M634.8 664.8h0M564.4 670.9h0M618.2 663.5h0M585 667h0M592.5 664.6h0M591.1 650h0M621.1 645.8h0M610.7 667.1h0M621.1 650.8h0M615.7 661.2h0M623.6 672h0M576.2 669.9h0M623.3 654.3h0M588.2 651.7h0M624.6 655.7h0M608.3 676.5h0M613 673.4h0M602.4 686.7h0M631.7 652.1h0M617.5 668.2h0M596.1 650.2h0M591.9 660.5h0M581.2 647.1h0M608 671.7h0M574.5 654.2h0M627 669.7h0M620.8 650.3h0M616.7 650.4h0M599 681.3h0M613.9 660.8h0M612.3 662.9h0M605.1 670.1h0M602.6 656.8h0M612.5 669h0M607.3 657.9h0M601.2 654.1h0M625.6 654.8h0M624.4 669.7h0M591.2 670.6h0M623.9 657.4h0M592.1 657.1h0M604.1 676.9h0M600.5 663.1h0M590.3 675.9h0M625.8 652.9h0M593.9 676.1h0M635 655.6h0M599.5 666.7h0M608.2 681.7h0M621.2 660.2h0M588.6 670.9h0M584 650.8h0M632 654.1h0M607.7 633.3h0M610.6 645.9h0M594.4 674.7h0M614.4 677.9h0M598.1 656.4h0M578.9 668.4h0M599.5 632.5h0M616.8 658h0M646 661.4h0M562.6 673.6h0M616.6 629.6h0M622.9 659.4h0M602.5 663.9h0M599.4 662.6h0M609 672h0M604.7 659.9h0M606.7 669h0M578.3 662h0M627.5 662h0M600.3 652.5h0M613.2 655.9h0M607.7 674.4h0M589.5 670.5h0M630.1 664.7h0M611.4 662.6h0M595.6 663.9h0M602.3 680.9h0M601.1 670.9h0M574 658.9h0M599 670.8h0M627.2 657.9h0M596.8 671.8h0M578.9 667.3h0M602.3 667.3h0M621.8 648.8h0M587.9 679h0M591.8 679.4h0M579.8 657.6h0M618.9 653.3h0M614.3 660.2h0M589 661.8h0M579 688.3h0M594.6 646.9h0M623.3 665.5h0M596.9 667h0M592.8 669.3h0M622.7 660.4h0M603.2 648.4h0M617.4 661.3h0M608 667h0M620.6 671h0M608.9 649h0M591.3 672.8h0M625.5 651.4h0M629.4 652.4h0M624.5 652.1h0M588 671.5h0M617.3 654.8h0M623.5 673.5h0M608 664.1h0M619.1 657.7h0M608.6 670.1h0M605.5 660.6h0M622.3 639.6h0M599.9 676.7h0M617.2 650.1h0M590 676.9h0M627.8 650.5h0M624.3 647.9h0M606.1 646.4h0M594.4 651.7h0M594.3 683.4h0M614.1 642.5h0M591.9 655.3h0M624.5 667.3h0M616.2 657.1h0M600.1 649.1h0M609.6 651.4h0M604.4 673.2h0M604.2 656.3h0M595.7 658h0M619.1 656.2h0M619.2 648.7h0M607.4 648.2h0M579.9 676.4h0M593.9 644.2h0M621.2 656.2h0M591.4 699.3h0M622 650.1h0M621.3 659.6h0M584.4 697.2h0M616.1 664.5h0M592.8 677.6h0M606.1 666.8h0M601.9 661.9h0M614.7 659.1h0M597.9 680.7h0M613.5 662h0M580 626.8h0M603.1 679.6h0M612 674.8h0M628.9 667h0M586.4 668.3h0M575.5 672.7h0M600.6 656.8h0M569 672.2h0M628.6 668.7h0M619.2 652.4h0M596.3 695.5h0M610.2 663.9h0M627.4 651.9h0M612.3 645.1h0M629.2 672.3h0M604.8 651.1h0M594.6 673.7h0M612 670.4h0M590.4 681.8h0M626.1 659.4h0M608.1 676.8h0M606 650.5h0M591.7 663h0M600.5 648.8h0M590.4 660.8h0M603.4 653.6h0M587.3 661.1h0M579.9 673h0M609.3 656h0M625.9 671.3h0M612.5 671.7h0M589.2 668.9h0M578.8 659.2h0M595.2 654h0M628.5 665.7h0M625.6 664.4h0M596.7 676.9h0M590.8 683h0M600.3 681.1h0M602.7 684.5h0M618.5 672.1h0M610.8 653.8h0M614.5 670.6h0M621 653.6h0M581.2 671.4h0M623.4 656.2h0M611.8 655.6h0M638.2 671.3h0M623.6 650h0M599.5 622.2h0M621 671.3h0M617.5 674.9h0M601 677.6h0M613.5 638.2h0M608.1 642.3h0M598.8 672.3h0M617.1 656.1h0M607.5 668.7h0M586.4 665.5h0M613 674.2h0M583 658.4h0M612 669.7h0M628.7 656.2h0M610.8 678.7h0M614.1 674.7h0M616.6 644.4h0M623.1 648.4h0M631.4 670.2h0M612 671.6h0M590.4 669.5h0M626.8 660.3h0M624.5 664.9h0M581.1 688.3h0M634.4 649.3h0M617.5 659.2h0M598.1 652h0M629.2 659.4h0M612.9 654.4h0M618.2 655.5h0M608.2 655.5h0M628.3 660.8h0M629.4 660.4h0M610.8 650h0M594.2 689.5h0M589.4 667.8h0M659.9 663.3h0M620.7 666.2h0M626.7 638.7h0M617 646.2h0M625.5 653.8h0M632.6 660.1h0M569.8 674.1h0M587.8 663.6h0M592.7 659.5h0M611.4 648.7h0M619 678.4h0M633.8 666.4h0M633.5 642.2h0M614.1 655.5h0M653.7 662.6h0M581.8 674.1h0M621.8 674.3h0M592.3 673.5h0M616.3 644.7h0M606.9 652.4h0M620.3 672.5h0M612.9 647.3h0M590.7 667.8h0M588.9 663.8h0M631.2 657.7h0M594.3 669.1h0M644.9 679.3h0M629.2 661.7h0M593.2 675.4h0M630.1 654.6h0M596.4 648.4h0M604.7 675.8h0M621 641.8h0M601.2 696.5h0M580.9 666.6h0M597.3 672.6h0M586.1 656.6h0M621.1 674h0M648.2 665.1h0M634.9 661.2h0M640.8 627h0M628.8 649h0M620 656.3h0M592.1 671.4h0M615.5 649h0M584.7 647.4h0M616.5 651.3h0M598.6 652.3h0M605.5 680.1h0M585.6 658.3h0M632.1 647.2h0M627.5 659.4h0M604.1 656.3h0M629.6 659.9h0M581.3 662h0M614.1 663.3h0M615.8 667.3h0M600.3 681h0M637.1 663.2h0M595 651.5h0M626.6 647.6h0"/>
<path d="M600.2 662.5h0M610.4 663.7h0M618.6 674.2h0M604.8 654h0M611.3 660.1h0M614.2 663.5h0M602.5 671h0M607.7 668.4h0M627.8 666.7h0M598.8 655.4h0M587 652.1h0M615.5 664.9h0M605.5 659.9h0M614.6 667h0M603.8 658.9h0M619.4 654h0M608.7 670.3h0M605.8 655.2h0M619.6 666.6h0M591.3 674.5h0M610.3 656h0M612.6 668.5h0M590.3 661.3h0M599.6 676.1h0M612 669.4h0M607 667h0M599 667.3h0M585.2 672.8h0M607.2 651.5h0M607.5 682.8h0M611.8 662.1h0M577.8 673.9h0M615.9 655.1h0M611.2 664.9h0M598.3 671.9h0M602.8 663.6h0M612.3 676.3h0M619.2 648.9h0M597.1 663h0M606.7 675.5h0M602.1 660.8h0M600.2 673.9h0M606.7 659.1h0M633.6 663.8h0M618.7 663.6h0M573.4 671.9h0M623.9 659.6h0M596.7 659.6h0M602.7 665.7h0M604.3 662.3h0M604.2 672.8h0M599.2 671.8h0M604.6 681.7h0M584.2 670.3h0M597.4 658.2h0M608.8 673h0M606.2 670.3h0M609.8 655h0M607 659.6h0M612.8 649.8h0M617.1 654.3h0M599.1 646.2h0M598.4 655.6h0M596 656.2h0M605.3 667.8h0M589.1 660.2h0M610.4 668.1h0M618.7 666h0M574.3 668.5h0M603.4 656.6h0M617.3 672.2h0M618.4 655h0M627.8 652.5h0M606 668.9h0M598 672.9h0M586.5 665.3h0M589.3 674.8h0M616.6 666.5h0M617.1 652.6h0M616.5 663.1h0M613.1 662.6h0M617.1 665.7h0M630.4 676.4h0M587.9 673.8h0M594.6 664.2h0M592.7 676.2h0M566.1 682.2h0M599.7 678.6h0M628.1 650.3h0M608 655.2h0M590 680.4h0M592.8 658.1h0M595.6 662.6h0M601.7 649.9h0M621 686.1h0M581.9 681.2h0M618.1 656.4h0M609.3 653.7h0M580.2 670.6h0M581.5 661.6h0M609.8 673.2h0M587.9 662.2h0M593.6 659.2h0M609.1 656h0M617.4 668.5h0M595.2 656.4h0M606.8 656.3h0M627.3 645.2h0M608.4 655h0M587.9 664.2h0M612.6 659.7h0M622.4 667.9h0M611.1 662.7h0M593.3 665.5h0M558.6 674.4h0M622.2 654.3h0M576.7 680.3h0M595.9 661.3h0M614.2 670.6h0M596.4 647.1h0M626.7 650.8h0M609 678.7h0M622.1 655.2h0M598.9 668.7h0M579.1 681.9h0M603 652.3h0M584.3 672.1h0M605.8 649.1h0M582 665.5h0M601.9 666.7h0M601.7 680.8h0M599.7 663.8h0M585.3 666.2h0M591.3 672.3h0M595 652.6h0M596.6 654.7h0M600.6 664.1h0M594.3 673h0M599.5 657.1h0M599.2 665h0M605.9 648.3h0M595.5 661.3h0M611.6 659.8h0M590.7 667.2h0M603 679.2h0M592.7 659.4h0M574 673.3h0M596.6 668.8h0M595.3 654.5h0M601.5 672.3h0M634.8 681.2h0M617.9 668.1h0M622.3 670.3h0M623.2 670.2h0M580.6 679.3h0M608.1 663.6h0M593 671.7h0M625.4 668.4h0M633.9 661.6h0M569.7 676.3h0M592.5 651.5h0M590.4 668.9h0M602.9 661.2h0M611.8 666.7h0M604.2 660.8h0M603.4 668h0M630.9 667.5h0M606.6 657.3h0M618.3 662.4h0M612.6 648.1h0M590 672.7h0M609 662.6h0M599.4 661.7h0M591.4 658.1h0M603.9 662.4h0M597 671.9h0M585.1 653.5h0M609.9 657.5h0M636.9 671.9h0M579.6 654.8h0M615.9 661.2h0M614.7 651.5h0M601.7 661.8h0M579.5 667.6h0M598 664.7h0M608.6 659.2h0M594 670.3h0M604.6 670h0M579.2 675.1h0M592.7 664.6h0M623 654h0M640.3 667.2h0M586.7 670.9h0M600.8 669.6h0M612.3 649.9h0M564.3 667.2h0M598.4 660.1h0M620.7 660.2h0M596.3 658.5h0M576.2 657.9h0M598.3 675.9h0M575.7 670h0M582.4 669.6h0M605.5 674h0M605.2 654.9h0M601.8 658h0M614.9 669.3h0M593.5 673.8h0M577.3 676.4h0M619.5 690.9h0M600.8 680.6h0M594.6 659.1h0M640 649.2h0M619.8 655.6h0M592.5 668h0M617.8 655.6h0M615.7 662.4h0M626.2 660.5h0M582.9 671.4h0M611.2 651.1h0M607.6 669h0M609.1 667.9h0M613.2 655.1h0M584.3 672.9h0M610.9 658.7h0M609.7 660.2h0M620 659.3h0M621.9 667.2h0M604.5 655.9h0M603.9 670.1h0M599 660.1h0M600.2 655.2h0M600.1 659.1h0M576 669h0M573.7 660.6h0M629.6 644.6h0M603.9 672.7h0M593.8 654.4h0M582.8 667.3h0M595 654h0M610.4 675.9h0M619.6 642.6h0M587.6 670h0M617.6 658.6h0M619.3 665.3h0M582.5 675.5h0M591.6 653.8h0M629.6 668.1h0M612.9 667.1h0M563.6 650.8h0M615.9 651.6h0M610 660.8h0M619 671.1h0M593.2 664.2h0M583.1 663h0M605.6 665.1h0M605.4 657.4h0M604.1 641.9h0M589.6 672.6h0M617.2 674.3h0M608.1 672.4h0M599.2 666h0M593.7 667.9h0M618.9 667.3h0M589.3 664.4h0M610.3 665.7h0M607.8 679.5h0M606.2 666.7h0M591.5 670.3h0M624.5 662h0M607.8 677.1h0M597 662.7h0M594.9 668h0M616 630.1h0M616.2 656.7h0M598.1 670.5h0M597 666.7h0M602.2 676.3h0M590 665.8h0M591.8 672.9h0M608.2 657.7h0M607.2 661.6h0M614.5 659.8h0M637.1 666.2h0M604 649.6h0M619.3 651.2h0M588.4 676.3h0M617 660.4h0M615.7 653.8h0M628.2 679.9h0M595.5 672.4h0M580.3 661.2h0M627.3 657.8h0M591.3 666.4h0M616.2 669.4h0M631.1 660.6h0M619.1 658.8h0M615.7 652.9h0M592.7 661.3h0M589.9 690.5h0M598.4 661.9h0M641.8 650.2h0M619.2 658.6h0M606 662.6h0M582.2 680.4h0M619.6 663.6h0M610.2 672.3h0M631.7 645.6h0M616.5 649.6h0M590.4 653.9h0M611.4 668.2h0M610.3 669.7h0M625.4 655.7h0M599.9 670h0M593.6 657.3h0M604.9 666.7h0M592.3 649.2h0M617.3 664.4h0M609.3 663.5h0M595.1 681.7h0M594.8 677.8h0M613.2 657.7h0M622.8 665h0M599.1 653.7h0M606.1 645.6h0M646.5 645.5h0M588.5 657.5h0M612.8 663.5h0M622.5 659.6h0M604.4 665.2h0M583.3 661.5h0M605.1 675.5h0M598.4 665.8h0M606.5 637.9h0M626.7 637.2h0M616.3 668h0M604.2 664h0M605.1 672.6h0M606.8 663.7h0M570.1 673.5h0M612 657.4h0M603.7 666.6h0M610.4 670h0M610.9 646.1h0M621.7 672.3h0M619.6 673.5h0M590.6 664.6h0M615.3 674.8h0M618 650.1h0M611.1 671.6h0M591.6 662h0M622.5 669.1h0M608 670.9h0M609.5 671.4h0M605.9 690.3h0M588.2 665.8h0M608.7 668.8h0M603.1 655.2h0M614.1 655.6h0M592.8 663.4h0M630.5 665.4h0M605.6 660.1h0M608.6 666.6h0M613.7 673.1h0M626 653.3h0M632.6 659.3h0M602.3 659.9h0M622.1 660.6h0M589.9 667.3h0M608.3 675.5h0M614.7 660.2h0M598.2 659.6h0M600.5 653.4h0M618.4 652.5h0M636.3 677.8h0M598.6 680.8h0M578.1 657.6h0M610.9 652.6h0M615.5 672.2h0M601.4 675.5h0M611.8 655.8h0M617.7 656.9h0M594 687.4h0M619.4 644.6h0M619.4 686.6h0M606.2 644.6h0M603.6 672.8h0M587.3 674.5h0M574.1 656.4h0M619.8 651.4h0M592.1 656h0M613.5 661.1h0M612.7 664.8h0M576 652.3h0M623.7 653.1h0M624.6 672.8h0M604.7 649.6h0M625.2 648.7h0M600.4 675.6h0M573.3 658.8h0M585.4 664.7h0M616.6 675.4h0M605.6 677h0M641.5 682.9h0M588.7 651.8h0M629.7 666.3h0M589.7 679.6h0M591.9 669.8h0M631.9 666.8h0M624.9 655.8h0M590.6 661.6h0M591.5 659.2h0M608.2 674.4h0M606.5 667.2h0M594 660.9h0M620.6 682.1h0M593.8 669.8h0M613.3 687.2h0M629.9 671.1h0M613.5 666.4h0M637.3 658.9h0M625.4 652.1h0M614.8 673h0M583 670.2h0M612.3 646.2h0M602.6 669.2h0M623.3 662.7h0M637.5 661h0M625.3 670.6h0M584.4 656.4h0M603.4 668.7h0M599.7 670.4h0M612 678.7h0M598 668.3h0M586.2 659.6h0M596.7 664.6h0M599 657.8h0M604.4 652.8h0M612.9 675.4h0M631.1 659.4h0M587 634.6h0M600.6 653.1h0M611 651.1h0M607.4 665.2h0M601.3 657.1h0M609.6 665.2h0M624 666.3h0M576.4 666.5h0M614.6 656.7h0M620 668.4h0M642.4 662.7h0M623.5 664h0M626.1 690h0M634.5 653.2h0M596.5 664h0M602.7 673.1h0M626.6 664.4h0M582.7 682.7h0M627.6 668.1h0M608.4 651h0M590.7 656h0M620.6 649.1h0M579 671.4h0M633.2 640.6h0M602.1 637.8h0M618 659.9h0M600.1 668h0M621.9 657h0M589 670.8h0M621.1 651.2h0M583.8 655.7h0M581 664h0M595.9 680.4h0M614.6 665.1h0M621.2 674.6h0M596.9 673.4h0M606.3 650.5h0M620.2 669.6h0M598.8 651.7h0M610.2 653.9h0M590.3 673.8h0M608.9 658.5h0M651.2 647.7h0M601.9 643.9h0M586.7 675h0M600.9 678h0M626.1 676.1h0M620.3 665h0M596.8 654h0M619.8 645.3h0M590.7 655.8h0M584.7 657.1h0M619.6 671.4h0M611.4 652.6h0M617.1 662.5h0M596.4 670.3h0M612.7 633.9h0M611.5 670.1h0M605.5 669.4h0M611.7 635.5h0M579.8 651.7h0M619.7 644.6h0M597.3 652.3h0M593 641.9h0M628 653.1h0M586.9 667.5h0M613.9 653.4h0M632.5 666h0M615.3 670.2h0M593.3 666.9h0M653.9 686.4h0M587 661.7h0M608.2 656.6h0M612 663.8h0M602.8 677.2h0M617.6 664.3h0M606.7 646.8h0M593 677h0M614.8 672.6h0M625.8 665.9h0M589.7 669.6h0M646 661.1h0M594.6 666.7h0M597.5 675.5h0M600.7 655.9h0M614.9 683h0M619 660.4h0M627.9 657.9h0M585.2 664.1h0M618.7 646.3h0M615.6 659.6h0M581.5 671.5h0M600.1 664.7h0M602.3 647.9h0M603.5 647.4h0M612.6 650.5h0M612.7 645h0M579.3 675.7h0M624.6 664.2h0M589.3 657.7h0M615.2 658.1h0M582.8 673.5h0M601.5 653.4h0M576.2 660.8h0M583.7 669.8h0M622.8 677.4h0M600.4 678.9h0M582.8 656.6h0M583.6 664.9h0M641.4 639.1h0M634.5 629.6h0M599.9 683.5h0M588.8 682.6h0M630.2 661.7h0M621.3 666.3h0M588.3 667.4h0M591.6 655.6h0M575.1 673.1h0M586.1 666.2h0M619 669h0M572.1 671.6h0M625 668.4h0M595.2 646.6h0M594 657.2h0M610.6 677.5h0M593.1 679.9h0M584.5 675.5h0M594.7 676.1h0M622.1 659.2h0M599 659.4h0M611.3 653.3h0M611.7 656.6h0M588.2 668.7h0M612.4 648.7h0M604 664.8h0M577.5 664.4h0M614.7 667.6h0M639.5 651.9h0M638.8 647.3h0M594 676.5h0M589.2 651.2h0M601.8 663.3h0M569.8 665.3h0M601.8 653h0M629.6 661.1h0M588.8 653.1h0M635.4 670.2h0M630.7 670.3h0M613.9 643.6h0M617.1 650.8h0M563.5 655.4h0M620.1 656.4h0M609.9 683.5h0M596.9 676.6h0M598.4 648.2h0M612.7 678.4h0M635.7 641.5h0M625.1 650.4h0M606.5 652.1h0M607.3 660.9h0M586.6 657.8h0M624.6 658.5h0M600 675.1h0M601.3 667.4h0M593.7 674.5h0M616.4 647.2h0M623.1 650.2h0M594.2 646.9h0M585 651.1h0M598.2 677h0M620.6 670.7h0M608.1 674.1h0M590 654.8h0M603.8 658.2h0M610.2 646.1h0M627.3 671.9h0M583.3 653.7h0M583.3 667.8h0M598.2 656h0M610.5 666.9h0M638 663.7h0M621.8 648.7h0M625.3 640.9h0M588.3 653.7h0M613.1 670.1h0M606.4 653.9h0M630.4 671.8h0M620.2 661.7h0M600.4 658.6h0M614.6 679h0M604.6 689.7h0M647.3 662h0M609.8 647.8h0M591.4 663.5h0M644.9 656.3h0M616.8 671.2h0M595.4 657.7h0M615.3 644.1h0M610.7 650.2h0M629.6 653.3h0M666.4 622.1h0M629.2 647h0M630.1 663.9h0M581 673h0M576.8 678.5h0M593.2 662.8h0M621.6 642.3h0M631.7 643.2h0M575.5 666.6h0M641.7 663.3h0M573.1 672.9h0M610.8 643.1h0M598.5 669.7h0M620.8 653.1h0M594.5 683.4h0M635.2 666.2h0M591.9 647.5h0M629 655.1h0M599.9 660.7h0M561.4 663.8h0M598.7 674h0M590 677.7h0M614.1 649.7h0M608.6 683.7h0M600 666.7h0"/>
<path d="M609 658.4h0M613.7 652.2h0M614 646h0M603.3 679.3h0M598.8 654.3h0M608.3 671.6h0M621.6 658.5h0M600.7 646.7h0M616.1 668.9h0M609.5 654.3h0M607.3 668.7h0M583 653h0M580.6 672.1h0M608.3 664.7h0M634.8 652.9h0M593 673.6h0M609 666.3h0M597.2 669.1h0M618.8 659.4h0M589 674.3h0M594.8 655.6h0M626.7 662.2h0M617.2 645.1h0M595.7 665.6h0M603.9 651.4h0M631.2 649.3h0M592.9 667h0M608 667.4h0M610.5 660h0M594.8 659.9h0M618.7 662.8h0M580.3 661.3h0M599.5 665.3h0M601.4 669h0M611.6 653.9h0M602.2 663.7h0M595.4 668.1h0M629.4 654.8h0M607.5 667h0M604.9 668h0M611 660.3h0M607.5 671.3h0M584.6 684.6h0M627.8 668.7h0M613.2 654.7h0M598.9 670.6h0M608 664.6h0M612.8 670.6h0M624.2 657h0M635.1 678.8h0M613.2 660.5h0M594.7 662.1h0M602.8 657.1h0M608.8 677.4h0M617.4 660.8h0M581.6 659.9h0M609.2 671.9h0M610.3 668.3h0M615.6 670.6h0M605.8 657.6h0M599.3 676.1h0M621.1 655.3h0M610.7 648.4h0M624.1 650.5h0M620.9 640.7h0M618.5 663.7h0M610.1 662.8h0M597.9 666.1h0M605.8 678.9h0M582.2 662.5h0M610.9 666.5h0M589.8 663h0M600.5 672.8h0M599.3 657.6h0M624.5 655.8h0M595.2 679.4h0M615.3 658.3h0M628.8 668.8h0M618.1 651.1h0M624.8 649.6h0M603.4 666.9h0M591.1 672.3h0M589.3 684.7h0M604.4 658.7h0M600.2 664.5h0M583.4 679.7h0M614 666.3h0M628.7 647.8h0M599.4 668.9h0M617.4 659.7h0M597 666.7h0M608.1 664.2h0M587 628.6h0M603.6 676.7h0M616.9 669.2h0M615.9 659h0M617.3 656h0M602.9 639.9h0M598.7 660.9h0M600.5 659.7h0M610.8 665.2h0M615.4 650.4h0M620.3 659.2h0M604.6 661.7h0M629.4 665h0M608.2 659.4h0M592.7 675.7h0M590.8 672.9h0M595.6 649.5h0M618.1 666.8h0M602.4 668.2h0M612.5 658.3h0M585.5 660.4h0M616.1 663.9h0M600.6 677.4h0M595.7 659.9h0M622 648.6h0M604.3 673h0M606.7 670.3h0M619 672.5h0M592.2 678.7h0M606.8 674.8h0M609.9 656.8h0M592.9 678.2h0M613.8 672.8h0M612.6 662.9h0M607.2 678.8h0M581.7 665.9h0M625.2 660.2h0M603.1 657.9h0M607.7 656.9h0M600.7 660.4h0M605.9 660h0M602.7 661.6h0M602.7 672.6h0M601.7 650h0M568.3 678h0M577.2 668.7h0M627.9 668.3h0M582.1 666.2h0M578.8 669.6h0M629.4 638.1h0M603.4 655.2h0M588 657.2h0M615 669h0M611.1 662.9h0M616.2 652.2h0M595.5 669.6h0M592.5 664.1h0M614.4 673.3h0M606 664.4h0M620 651h0M605.9 666.6h0M618.7 661.3h0M587.8 676.2h0M626.4 662h0M606.7 655.4h0M615.7 653.6h0M598.2 671.6h0M604.1 659.7h0M591.2 668.4h0M601.7 690.9h0M622.2 661h0M605.8 676.7h0M611.2 672.9h0M605.5 664.7h0M588.6 665.6h0M595.9 649.8h0M613.6 659.8h0M593.1 667.1h0M584.7 678.1h0M606 667.7h0M613 656.2h0M597.6 650.7h0M605 666.5h0M582.1 663h0M610.7 657.8h0M620.6 657.4h0M632.8 646.8h0M593.3 664.5h0M599.5 658.9h0M591.7 657.3h0M588.5 668.8h0M609.7 673.6h0M599.7 679.8h0M593.8 669.5h0M612.8 675.7h0M596.4 668.8h0M600.1 655.5h0M592.1 671.2h0M591.5 667.7h0M588.2 670.4h0M611.1 669.3h0M606.2 663.3h0M603.7 653.6h0M605.4 668.8h0M590.5 665.9h0M603.5 665.6h0M615.1 672.4h0M600.2 676.6h0M629.5 657.1h0M618.2 649.4h0M623.6 653.1h0M639.3 659.8h0M622.6 660.9h0M628.2 655.8h0M599.6 677.1h0M613.4 665.4h0M589.2 670h0M621.4 665.2h0M617.9 670.4h0M604 667.6h0M594.6 688.2h0M601.8 652.6h0M613.4 686.6h0M604.5 663.9h0M613.6 649.5h0M596.4 667.2h0M551.3 685.6h0M588.6 662.7h0M614 633.4h0M600.2 651h0M596.9 663.1h0M611.2 667.8h0M630.1 657.4h0M598.2 662.4h0M570.2 661.4h0M590.7 664.3h0M596.7 662.7h0M564.3 648.9h0M614.6 681.7h0M617.5 655h0M605.4 651.1h0M623 649h0M625.7 664.5h0M619.7 671.1h0M641.9 654.3h0M621.4 672.4h0M597.5 648.9h0M603.7 661.5h0M617.9 631.2h0M628.5 664.5h0M620.4 662.9h0M598.8 671.8h0M605.3 660.3h0M619.6 661.9h0M610.2 670.5h0M611.7 656.1h0M594.6 664.1h0M614.9 648.1h0M600.8 670.4h0M613.3 617.9h0M606 648.3h0M601.7 653.9h0M590 674h0M606.1 668.5h0M598.8 663.6h0M605.2 656.1h0M595.7 661h0M605.9 652.3h0M628.7 661.6h0M596.4 656.7h0M608.8 658.8h0M611.4 676.1h0M643.3 628.2h0M598.5 682.3h0M614.6 663h0M635.1 663.9h0M602.4 665.4h0M594.3 670.5h0M604.2 677.7h0M599.1 666.6h0M615.7 656.7h0M614.9 624.1h0M624.3 652.3h0M611.4 649.9h0M616.6 658.7h0M589.6 669.2h0M602.7 671.2h0M622.4 666.3h0M609.6 675.4h0M613.7 662.3h0M597.8 658.4h0M592.6 661.9h0M620.1 653.8h0M591.9 666.7h0M636.8 689.5h0M605 670.6h0M632 662.2h0M612 660.5h0M621.1 669.5h0M614.2 662.1h0M624.1 660.2h0M602.6 660.9h0M612.9 671.4h0M608.9 646.4h0M608.7 660.1h0M616.3 654.9h0M616.9 653.7h0M621.8 663.5h0M609.3 662.5h0M593.1 650.6h0M652.1 661.2h0M599.6 668.2h0M616.9 664.8h0M598 670.2h0M591.8 682.2h0M591.9 660.5h0M594.5 665h0M612.2 652.2h0M597.6 667.7h0M603.9 673.8h0M596 673.4h0M595.8 670.2h0M605.1 671.3h0M639.2 668.5h0M608.3 674.4h0M606.4 672.5h0M623.1 667.3h0M592.3 674.2h0M609.6 669.4h0M620.6 655.5h0M623.7 657.3h0M623.7 672.4h0M627.8 658.8h0M617 662.5h0M595 674h0M588.2 674.8h0M621.3 661.6h0M590 665.5h0M611.3 641.3h0M585.8 661.6h0M616 660.8h0M602.2 656.9h0M578.7 689.7h0M632.6 653.5h0M619.7 684.4h0M619.1 668.9h0M615.4 668.3h0M600.8 658.2h0M627.6 650.2h0M611.6 650.8h0M622.2 651.4h0M596.1 652.5h0M614.3 679.1h0M619.7 666.3h0M612.1 659.8h0M620.1 671.6h0M597.5 665.4h0M629.6 654.1h0M592 677.9h0M620.6 649.9h0M595.4 666.6h0M599.2 661.8h0M623.1 658.5h0M598.4 657.1h0M600 649.6h0M631.8 641.7h0M609.3 663.1h0M617.4 667.1h0M601.9 655.1h0M616.8 649.5h0M606.6 653.2h0M584.3 651.6h0M612.3 655.8h0M598.7 646h0M626.7 663h0M610.2 675.7h0M625.2 672h0M611.2 665.8h0M594.7 660.8h0M614.2 670.7h0M613.3 653.6h0M627.1 651.8h0M595 676.9h0M602.4 657.7h0M607.4 660.9h0M597.8 658.7h0M627.9 664.8h0M567.5 641.6h0M608.4 673.5h0M603.1 677.3h0M594.5 652.5h0M602.5 674.8h0M606.5 662.2h0M595.5 657.1h0M624.1 670.9h0M599.7 683.1h0M604.5 655.5h0M601 656.7h0M611.2 648.9h0M574.1 664.1h0M609.8 674.5h0M614 692h0M628.6 660.7h0M599.9 679.3h0M572.6 637.7h0M591.3 665.4h0M616.8 676.2h0M622.4 670.8h0M606.3 661.4h0M618.6 671.1h0M624.5 679.2h0M579.4 686.9h0M576.1 666.1h0M613.4 650.7h0M615.9 646.8h0M600.5 662.8h0M598.8 649.4h0M586.2 660.7h0M596.6 676.6h0M614.6 646.2h0M610 663.7h0M600 648h0M596.1 674.2h0M578.9 679.4h0M591.7 672.2h0M603 663.4h0M621.2 653.3h0M597.9 660.7h0M613 667.8h0M616.2 661.6h0M632.2 682.3h0M614.6 665.5h0M601.6 677.7h0M626.1 659h0M587.6 673h0M610.3 677.4h0M618.4 667.9h0M614.1 657.1h0M573.5 679.3h0M600.2 664.2h0M599 653h0M590.3 670.4h0M578.4 667.2h0M594.1 653.1h0M601.3 666.6h0M626.8 661.1h0M621.6 657h0M616.4 675.4h0M608.4 649.2h0M642.1 651h0M605.3 644.2h0M608.3 648.1h0M611.2 686.9h0M618.6 666.1h0M616.9 677.6h0M628.3 659.9h0M632.9 656.2h0M647.2 658.5h0M623.3 647.6h0M615 658.8h0M608.3 662.6h0M555.6 658.3h0M592.8 668.9h0M576.5 670.8h0M637.6 665h0M628.5 650.1h0M597 686.9h0M585.8 668.5h0M580.1 671.3h0M583.8 673.9h0M588.7 658.8h0M605.2 678.8h0M600.7 669.1h0M594.6 654.5h0M606.8 673.9h0M623.3 665.6h0M595.2 677.9h0M589.9 657.5h0M616.1 649.3h0M603.3 671.9h0M586.1 659.1h0M610.1 669.2h0M593.9 675.9h0M585.8 664.3h0M605.2 652.3h0M597.5 680.3h0M621.1 659.6h0M620.8 669.4h0M611.3 665.6h0M585.1 672.7h0M609.9 653h0M627.6 645.2h0M607.9 676.3h0M575.3 672.5h0M616.7 672.4h0M564.1 681.9h0M597.8 650.1h0M628.6 630.1h0M582.7 670.3h0M624.6 659.4h0M592.8 672.7h0M594.3 663.7h0M632.3 642.8h0M651.2 668.7h0M606.1 651.4h0M614.4 660.5h0M631.4 665.7h0M622.8 689.5h0M596.3 671.6h0M606.6 647.1h0M596.4 648.5h0M607.4 653.8h0M583.6 659.6h0M615.9 671.7h0M589.6 654.1h0M624.5 667.8h0M607.7 658.1h0M631.1 657.2h0M607.2 655.9h0M607.5 638.7h0M640.3 671.6h0M615.3 651.1h0M580.6 661.9h0M585.3 679.5h0M609.1 668h0M604 660.4h0M611.6 670.9h0M570.7 670.9h0M590.6 674.3h0M597.9 652.6h0M597.7 663.3h0M601.7 659.8h0M577.9 666.2h0M621.1 677.5h0M594.7 657.4h0M602.9 659.8h0M596.3 654.3h0M609 675.5h0M575.4 652.2h0M593.7 652.5h0M613.2 668.8h0M631.5 658.7h0M584.3 682h0M637.2 654.3h0M609.5 651.7h0M590.6 647h0M586.2 669.7h0M576.8 661.9h0M620.5 668.2h0M616.4 664.5h0M592.3 665.5h0M618.2 665.1h0M593.6 662h0M587.4 661.1h0M628 670.7h0M613 645.9h0M593.6 674.4h0M600.8 671.7h0M585.1 676.5h0M606 649.7h0M591.1 677h0M596.2 682.3h0M577.3 676.4h0M626.6 641.6h0M619.9 648.7h0M631 673.3h0M586.9 665.1h0M606.8 639.4h0M580.3 651.9h0M587.9 657.5h0M598.5 651.7h0M591.5 653h0M589.5 662h0M624 647.9h0M612.6 637.6h0M611.2 663.3h0M625.3 657h0M621.8 650.1h0M587.2 647.9h0M584.1 665.5h0M616 634h0M624.4 697h0M614.9 676.1h0M610.2 653.4h0M596.4 651.5h0M626.8 653.8h0M601.6 666.7h0M633.7 659h0M633.4 667.5h0M605.7 677.6h0M589 672.1h0M626.5 686.9h0M623.3 650.7h0M590.5 658.4h0M640.1 651.7h0M625 663h0M579.2 663.9h0M618 663.4h0M588.8 679.6h0M620.4 661.4h0M580.3 659.1h0M562.6 670.4h0M609.1 656.5h0M602.2 642.6h0M587.5 679.5h0M578.6 653.2h0M603.4 675.2h0M586.9 676.7h0M599.5 656.2h0M616.5 679.8h0M628.3 644.5h0M600 652.8h0M610.2 707.3h0M625.6 654.8h0M586.6 663.8h0M584.6 679.9h0M614.8 649.9h0M630.6 660.5h0M579.8 669.5h0M633.6 669.9h0M614.7 653.4h0M596.4 657.5h0M573.9 662.6h0M610.8 635.1h0M593.6 654.8h0M621.5 683h0M616.6 666.9h0M591.6 659.2h0M610.2 654.6h0M591.7 650.9h0M609.5 678.5h0M614.6 667.3h0M598.8 706.5h0M626.4 654.3h0M627.4 654.6h0M615.6 679.2h0M613.5 678.7h0M617.2 674.3h0M622.7 662.1h0M564.5 667h0M642.7 639.5h0M622.4 672.2h0M607.3 649.1h0M608.5 645.9h0M636.8 660.7h0M598.1 673.2h0M584.3 656.5h0M646.1 653.7h0M589.7 667.5h0M602.9 670.4h0M614.7 652.5h0M576.7 672.1h0M593.3 679.3h0M598.7 672.9h0M585.9 655.4h0M656.4 677.3h0M626.5 682.8h0"/>
<path d="M600.6 662.8h0M602.4 661.2h0M645.4 667.1h0M602.9 664.7h0M597.5 678.3h0M611.1 663.1h0M598.3 653.5h0M609.6 653h0M591.5 669.1h0M591.3 660.1h0M598.3 674.4h0M617.8 649.5h0M618.1 663.7h0M587.7 673.2h0M619.1 657.8h0M609.3 651.3h0M613.6 660.7h0M593.4 667.2h0M600 673.2h0M589.1 679.3h0M605.4 674h0M599.3 674.9h0M629 663.5h0M610.4 660h0M604.6 671.9h0M637.3 659.9h0M595.8 665.6h0M606.7 683.7h0M625.5 668.4h0M616.4 649.1h0M590.9 666.1h0M597.5 651.2h0M606.4 657.7h0M595.4 652.9h0M591.6 668h0M595.3 689.5h0M561 692.2h0M609.6 663.8h0M631.8 655.1h0M609.9 653.5h0M600.4 680.2h0M603.5 663h0M626.8 665h0M580.1 658.1h0M634.6 681.4h0M614.5 672h0M623.3 655.2h0M625 663.7h0M606 660.7h0M587.9 668.8h0M610 652.6h0M597.7 671.4h0M610.9 664.5h0M608.6 655.4h0M580.5 665.3h0M594.5 659.6h0M596 649.9h0M593.9 677.9h0M608.4 659.3h0M593.9 669h0M612.7 635.8h0M596.4 646.8h0M615.6 644.3h0M617.8 665.4h0M614.9 662.7h0M603.2 659.9h0M603.5 676.3h0M588.1 656.2h0M594.5 671.6h0M598.2 662.5h0M609.1 666.1h0M607.7 668h0M611.5 665.9h0M603.3 661.3h0M601 659.9h0M599.8 665.5h0M628.1 660.9h0M617.9 657h0M586.3 672.1h0M604.3 674.3h0M611.7 664.7h0M591.2 664.7h0M594.2 656.6h0M607.5 650.2h0M589.7 655.4h0M591.4 657.5h0M581.2 660.6h0M602.5 680.9h0M590.7 668.2h0M605.6 665.3h0M607.8 674.8h0M592 658.2h0M579.1 662.4h0M599.4 665.7h0M597.1 650.2h0M624.4 659.3h0M588.6 662.4h0M613 647.3h0M603.9 673h0M610.4 671h0M602 654.3h0M608.5 674.8h0M607.2 665.2h0M624.6 675.8h0M634.3 664.7h0M605 662.8h0M621.5 639.1h0M601.7 658.2h0M611.6 663.9h0M613.1 673.4h0M592.2 671.5h0M608 663.6h0M582.6 665.3h0M601.3 656.1h0M609.5 673.6h0M602.6 659.9h0M626.9 668.1h0M619.3 655.4h0M597.4 666.8h0M597.6 660h0M618.3 654.2h0M607.8 661.8h0M595.8 668.7h0M606.3 638.9h0M631.8 669.7h0M610.9 649.2h0M608.8 671.9h0M620.9 659.9h0M616.5 653.7h0M600.2 676.6h0M621.7 661.8h0M578.8 676.9h0M617.5 663.4h0M611.3 660.8h0M602.6 654.6h0M610.2 658.3h0M594.9 663.7h0M592.4 679.2h0M606.3 651.3h0M618.7 648.9h0M560.2 674.2h0M622.7 670.6h0M624.5 656.2h0M590.3 663h0M614.9 648.2h0M606.1 656.3h0M595.9 663.1h0M625 669h0M591.5 654.1h0M599.8 668.9h0M595.1 653.5h0M606.2 666.9h0M594.3 648.8h0M592.1 706.5h0M612.9 647.6h0M619.5 670.6h0M567.4 675.6h0M621.2 689.7h0M623.1 661.4h0M614.6 666.2h0M579.4 659.4h0M611.9 648.1h0M600.7 664.6h0M626.1 660h0M611.7 650.2h0M593.7 671.2h0M602.7 666.1h0M601.6 651.3h0M594.5 669.1h0M602.9 657.9h0M609 692.1h0M623.3 668.3h0M613 661.7h0M620.6 665.1h0M614.3 665h0M592.5 649.3h0M615.2 646h0M604.7 657.9h0M597 672.5h0M597.1 665.9h0M590.8 669.5h0M596 643.4h0M586.8 673.3h0M608.7 678.2h0M604.5 669.3h0M599.6 662.5h0M604.2 664.1h0M606.4 681.7h0M594.5 667.3h0M617.9 666.5h0M604.8 676.2h0M598.3 664.9h0M587.7 663.9h0M599.8 660.9h0M583.5 666.2h0M584 662.3h0M604.6 665.9h0M583.2 676.5h0M602.7 647.9h0M564.8 664.2h0M587.8 654.1h0M606.8 662.2h0M600.7 669.5h0M606.9 644.7h0M604.8 648.6h0M598.3 663.4h0M582.9 673.3h0M631.2 657h0M567.6 691.2h0M607.2 658.1h0M616.4 671.3h0M606.6 663.9h0M584.5 664.9h0M582.2 661h0M604 671.2h0M610.4 660.5h0M613 665.2h0M585.1 664.3h0M611.3 675.6h0M622.5 652.7h0M614.7 668.8h0M609.9 666h0M609.7 661.4h0M617 667.6h0M603.1 665.7h0M589.6 666.6h0M586.4 663.8h0M610.4 671.8h0M595 674.6h0M647.5 693h0M605.5 654.7h0M611 673.1h0M591.7 660.4h0M607 656.5h0M618.3 662.5h0M603.5 671.6h0M616.4 660.2h0M605.6 695.6h0M604.4 660.8h0M592.5 663.9h0M621.9 658.6h0M607 659.2h0M611.9 671.5h0M604.4 670.3h0M633.1 638.7h0M598.9 685.5h0M617.7 660.1h0M596.3 670.5h0M593.4 672.3h0M601.4 672.9h0M603.1 650.8h0M596.9 657h0M587.1 652.7h0M592.4 665.5h0M594.5 661.7h0M615.2 649.7h0M602.2 667.7h0M622.5 659.3h0M612.8 658.3h0M625.1 664.1h0M619.6 650.8h0M606.7 667.7h0M629.5 662.8h0M571.9 673.1h0M593 646.7h0M619.6 671.3h0M630.1 645.3h0M603 653.3h0M615.7 670.8h0M607.5 678.2h0M580.5 658.8h0M598.8 654.2h0M615.8 662.1h0M609.6 665.6h0M629.1 657.5h0M600.8 652.3h0M589.2 675.8h0M601.3 666.3h0M600.9 668.3h0M606.1 659.9h0M587.5 667.7h0M594 659.8h0M602.8 650.1h0M614.7 659.8h0M608.6 658.2h0M613.1 653.7h0M595.4 672.9h0M601.9 670.5h0M610.5 654.7h0M599.5 669.9h0M620.9 669.5h0M632 663.4h0M585.4 661.9h0M605.4 680.3h0M623.7 656.9h0M592.6 681.6h0M624.3 670.5h0M595.1 670.5h0M590.4 671.7h0M596.8 678.6h0M611.5 658.8h0M595.7 668.4h0M590 653.9h0M590.6 656.6h0M587.9 675.5h0M602.2 662h0M624.9 647.2h0M613.4 659.5h0M571.4 667.5h0M605 653.8h0M627.9 666.4h0M603.9 668.9h0M601.1 660.7h0M592.8 657.2h0M597.6 677.2h0M579.9 664.3h0M615.7 655.2h0M600.3 650.5h0M612.6 668.4h0M598.6 679.3h0M607.6 669.5h0M619.3 684.6h0M622.5 658.4h0M591.6 666.8h0M597.1 640.9h0M618.8 646.1h0M604.2 667.2h0M578.7 666.2h0M611.9 676.9h0M580 670h0M614.3 663.4h0M596.6 655.5h0M620.2 662.8h0M614.8 647.3h0M584.4 655.4h0M598 637.5h0M613.6 666.9h0M588.9 670.7h0M593.4 661.6h0M623.4 642.8h0M611.3 661.8h0M605.2 677h0M631.5 650.7h0M605.7 646.2h0M620.1 656.2h0M596.4 657.9h0M586.9 671.1h0M619 649.1h0M611.1 656.4h0M594.7 658.6h0M579 674.4h0M609.2 670.8h0M590.7 670h0M607 660.5h0M620.6 658.7h0M628.4 667.7h0M592.8 677.3h0M593.5 645.9h0M626.3 652.2h0M584.6 676.7h0M606.8 670.6h0M612.3 668.1h0M614.3 658.6h0M622.2 675.1h0M611.2 670.7h0M606.1 668.7h0M602.2 669.4h0M616 679.6h0M602.7 655.1h0M607.2 679.8h0M629.3 664.9h0M618.3 660h0M588.3 665.9h0M626.5 680.4h0M606.7 673.4h0M615.2 673h0M603.7 656.8h0M615.3 669.7h0M596.9 662.6h0M600.8 653.3h0M621.4 651.6h0M616.6 659.5h0M599.4 655.7h0M613.3 653h0M589.8 661.8h0M628 654.7h0M590.2 654.6h0M604.1 652.9h0M624 655.1h0M592 654.7h0M605.3 657h0M610.9 667.3h0M607.6 673.1h0M597.9 671.1h0M593.6 665.3h0M582.9 656h0M629.4 663.4h0M633.1 657.9h0M610.9 662.9h0M595.6 655.8h0M598.9 648.7h0M628.9 656.3h0M589 663.4h0M630.6 628.3h0M618 652.6h0M592.5 675.1h0M599.5 663.8h0M616.1 680h0M620.3 658h0M591.2 651.9h0M608.8 685h0M594.9 665.2h0M626.1 651.3h0M633.4 665.8h0M597.7 668.4h0M609.5 668.7h0M588.6 665.5h0M591.4 685.1h0M616.9 668.5h0M614.3 652.6h0M579.4 656.4h0M621 653.3h0M624 671.3h0M608.1 670h0M605.3 650.1h0M632.3 668.1h0M575.5 663.8h0M606.2 642.7h0M618.5 665.9h0M621.1 649.3h0M616.2 666.6h0M588.9 690.9h0M614.5 651.1h0M590.6 659.9h0M613.5 663.1h0M612 669.9h0M615.7 656.6h0M615.6 664.8h0M609.8 650.8h0M607.3 651.6h0M586.1 647.9h0M610.3 657.3h0M591.6 670.4h0M629.6 665.9h0M613.9 653.4h0M619.9 652.5h0M608.9 662.1h0M612.1 650.8h0M622.6 690.8h0M596.4 673.8h0M600.6 688.1h0M575 659.2h0M639.6 645h0M612.4 655h0M593.6 678.5h0M585.6 667.9h0M622.5 662.9h0M589.8 696.6h0M607.5 666h0M604.5 682.1h0M595.9 661.5h0M626.6 655.2h0M595.9 652.4h0M593.8 666.5h0M609 667.5h0M604.2 658.9h0M581 674.6h0M597.5 685.7h0M599.3 676.7h0M578.9 654.3h0M581.2 668h0M603.3 667.5h0M620.5 667.2h0M594.3 675.8h0M583.9 657.4h0M612.6 668.9h0M583 667.3h0M585.3 657.8h0M618.9 660.4h0M587.5 655.1h0M608 653.9h0M598.9 652.2h0M598.9 667.5h0M572.5 677.7h0M623.8 666.9h0M607.5 655h0M617.2 670.8h0M612.1 637.2h0M615.4 674h0M600.9 655.4h0M589.4 657.9h0M593.9 672.8h0M577.4 666.4h0M617.7 662.1h0M622 671.1h0M581.7 686.3h0M626.3 672.1h0M627.8 660.7h0M589.5 672.2h0M608.2 672.1h0M619.6 663.3h0M603.4 662.4h0M580.2 692.3h0M597.8 660.3h0M572.9 680.1h0M585.9 670.8h0M609 656.8h0M565.7 666.6h0M587.6 670.7h0M616.1 663.1h0M590 660.4h0M615.5 674.6h0M622.8 649h0M598.9 673.2h0M600.8 674.8h0M599.7 657.5h0M602.3 674.5h0M614.4 661.2h0M618.2 667.7h0M601.4 677.7h0M596.4 688.1h0M579.5 668.4h0M600 650.2h0M617.6 660.9h0M585 673.8h0M613.2 680h0M594.5 656.2h0M595.7 674.5h0M600 670.5h0M625.1 664.5h0M625.1 658.4h0M615.8 657.8h0M572.7 670.8h0M587 668.8h0M628.8 652.5h0M619.3 652.3h0M590.3 679h0M571.6 663.6h0M592 661.5h0M622.2 646.7h0M616.5 677.2h0M597.9 657.3h0M602.7 663.9h0M618.9 669.6h0M618.6 665.3h0M590.4 673.4h0M602.5 647.2h0M602.1 652.5h0M591 675h0M612.9 670.7h0M604.9 650.4h0M629.3 649.4h0M601.2 678h0M628.8 680.9h0M617.9 653.7h0M590 659h0M586.2 667.9h0M606.4 654.1h0M636.1 674.5h0M597.8 676.5h0M624.6 662.9h0M599.9 646.8h0M587.2 659h0M582.6 662.8h0M577.9 664.9h0M635 656.8h0M594.4 684.1h0M599.1 656.8h0M612.6 656h0M587.7 678.7h0M631.4 664.6h0M600.6 656.7h0M590.1 661.7h0M620.7 675.6h0M615.7 668.2h0M605.5 665.3h0M595.1 666.3h0M604.5 655.8h0M582.4 675.8h0M617.3 673.9h0M615.9 682.1h0M585.2 679.9h0M593.1 654.2h0M629.6 654.8h0M596.7 676.3h0M584.3 680.7h0M606.8 675.4h0M614.4 657.2h0M635.7 650.5h0M588.9 652.4h0M637.3 666.6h0M614.9 669.9h0M569.4 675.5h0M626.1 672.8h0M613.9 655.6h0M616.4 639.7h0M662.7 644.5h0M625.3 686.3h0M602.1 664.5h0M602.4 647.7h0M577.6 674.9h0M619.2 646.5h0M619.9 667h0M626.1 670.9h0M597.1 687.1h0M621.1 660.3h0M617.9 657.5h0M630.8 659.8h0M623.6 665.6h0M567.5 655.2h0M609 675.7h0M611.4 653.9h0M606.7 675.6h0M566.5 689.2h0M620.4 673.9h0M590.8 649.2h0M609.4 687.3h0M613.4 674.4h0M605.7 672.6h0M602.6 675.9h0M611.7 657.7h0M587.2 655.9h0M571.6 658.4h0M633.9 648.4h0M620 655.8h0M584 654.3h0M622.7 653.3h0M622.2 666h0M611.7 644h0M572.4 659.8h0M582.3 666.7h0M597.8 668.6h0M579.4 663.5h0M562.5 684.1h0M569.8 697h0M589.6 673.3h0M627.9 653.9h0M599.1 659.8h0M632.1 645.6h0M610.2 679.6h0M585.1 669.3h0M568.8 634h0M599.8 693.8h0M607.1 685.3h0M588.2 672.5h0M594.1 684.5h0M625.3 660.8h0M619.6 654.4h0M607.1 647.1h0M594.8 679.4h0M588 660.9h0M606.9 649.8h0M632 670.7h0"/>
</g>
<g fill="none" stroke="#ff7f0e" stroke-linecap="round" stroke-width="1.9" stroke-opacity=".5">
<path d="M606.9 660.5h0M606.2 660.7h0M614.2 663.7h0M605.8 662.5h0M602.7 667.6h0M610.2 664.6h0M604 666.6h0M605.1 663.2h0M604 658.6h0M605.7 659.8h0M604.8 661.8h0M608.4 663.1h0M606.8 668.3h0M610.8 659h0M604.6 664.6h0M606.9 660.8h0M608.6 666.2h0M610.5 662.2h0M605.2 667.2h0M609.3 660.6h0M600.2 662.7h0M603.2 666.2h0M606.9 656.9h0M609.6 661.4h0M613 658.2h0M610.2 659.4h0M608.5 665.3h0M601.2 662.8h0M603.8 660.8h0M615.5 665.2h0M606.2 658.4h0M598.7 660h0M611.2 664.2h0M612.3 663.4h0M606.9 665h0M614.4 665.2h0M611.1 660.6h0M609.1 663.3h0M611.9 664.4h0M604.5 661.7h0M612.2 662.2h0M606.8 664.2h0M604.1 668.3h0M613.1 665.1h0M608.2 668.4h0M608.2 658h0M603.9 658.2h0M612.1 657.1h0M605.6 664.3h0M602.5 665h0M601.4 661.4h0M603.7 664.8h0M602.9 662h0M605.4 666h0M608.3 659.9h0M607.3 662h0M604.1 662.9h0M613.3 665.7h0M603 659.9h0M610.7 661.5h0M609.5 667.3h0M609.3 662.7h0M603.6 664h0M616.2 666.4h0M601.3 664.3h0M614.8 665.6h0M606.7 659.3h0M600.9 659.8h0M612.8 659.8h0M604.8 665.5h0M597.4 662h0M602.8 661.6h0M603.7 659.5h0M610.4 665.1h0M593.3 665.1h0M612.5 661.3h0M608.5 666.8h0M612 666.7h0M609.6 673.5h0M599.9 661.6h0M614.2 661.7h0M599 664.8h0M610.3 667.6h0M615.1 663.6h0M605.9 663.8h0M607.8 660.9h0M601.2 668.5h0M600.7 656.9h0M605.8 669.5h0M608 669.7h0M609.4 657.8h0M609 662.9h0M602.1 658.4h0M598.3 662.6h0M603 663.2h0M603.5 656.1h0M613 661.5h0M600.6 664.9h0M607.3 666.5h0M609.5 654.1h0M604.5 660.4h0M601.6 666h0M601.4 663.6h0M610.6 668.9h0M596.9 657.8h0M611.5 660.5h0M609.5 656h0M604.6 669.6h0M599.5 667.2h0M608.6 659.2h0M613.1 668.8h0M607.8 667h0M605.8 666.7h0M610.1 666.2h0M612.5 666.4h0M614.9 656.8h0M598 663.4h0M600.2 665.5h0M606.4 668.1h0M614.4 662.6h0M612.3 669.9h0"/>
<path d="M606.4 664.6h0M602.4 666.7h0M606.1 662.4h0M601.3 659.8h0M611.9 667.4h0M610.7 665h0M609.7 666.9h0M598.3 662.8h0M609.2 662.2h0M599.4 666.1h0M605.7 663h0M605.2 661.7h0M613.6 662.2h0M600.2 665.3h0M607.5 666.3h0M610.3 660.5h0M606.8 660.2h0M610.5 661.8h0M608.7 666.8h0M607.4 663.2h0M605.1 666h0M605.2 662.5h0M606.4 667.9h0M609.6 665.2h0M602.8 661.9h0M617.2 658.9h0M610.9 662.1h0M607.8 668.4h0M600.5 659.7h0M614.5 666.7h0M609.8 660.1h0M603.6 663.4h0M610.2 667.8h0M605.1 660.3h0M608.6 665.8h0M613.8 664.1h0M609 660.8h0M603.9 659.8h0M602.6 672.2h0M604 666h0M605.9 661h0M600.9 660.9h0M610.7 669.7h0M603.6 658.2h0M606.3 665.8h0M613.5 666.5h0M604.8 663.7h0M607.7 665.2h0M597.2 666.4h0M608.1 665.1h0M603.3 665.2h0M605.6 659.1h0M609.3 669.4h0M607.1 657.6h0M609.4 658.5h0M611.3 663.6h0M606.3 667.1h0M606.8 661.1h0M607.2 667h0M603.4 662.7h0M611.7 664.7h0M602.6 669.9h0M613.2 660.5h0M608.5 663.3h0M610.4 665.6h0M612.6 664.1h0M607.4 662.7h0M609.9 663.5h0M609.7 656.8h0M607.6 653.5h0M605.5 669.3h0M602.6 664.1h0M605.9 657.3h0M601 665.7h0M611.7 665.8h0M599.8 663.4h0M606.8 668.3h0M604.6 657.9h0M610.2 658.8h0M610.2 657h0M611.4 660.6h0M608.4 662.8h0M605 664.7h0M613.9 660.5h0M614.7 664.3h0M601.8 666.5h0M604.6 659h0M607.3 654.9h0M611.7 660h0M603.4 655.9h0M606.1 672.4h0M612 662.1h0M605.1 666.8h0M609.4 661.6h0M600.6 662.7h0M602.9 656.7h0M614.4 659.3h0M603.9 668.6h0M603.9 661h0M607.7 670.6h0M613.8 662.8h0M611.3 668.3h0M603.6 667.7h0M608.4 659.5h0M601.8 664.2h0M602.9 668.2h0M609.7 666h0M615.1 662.7h0M599.4 664.3h0M607.2 658.8h0M603 658.5h0M608.6 658.6h0M605.1 670.3h0M602.3 660.1h0M610.5 667.2h0M609.8 657.8h0M617 660.2h0M598.1 661.3h0M605.7 660h0M600 661.5h0M610.8 670.7h0"/>
<path d="M616.2 659h0M615.2 656h0M603.8 669.6h0M614.1 664.1h0M611 667.6h0M618.4 659.2h0M608.4 664.4h0M603.7 664.5h0M610 664h0M606.6 662.5h0M606.4 656.8h0M600.2 663.1h0M605.5 664.9h0M609.7 661h0M613.5 666.2h0M605 660.5h0M604.7 665.5h0M614.8 666.3h0M608.4 661.3h0M602.8 665.2h0M603.8 665.4h0M608.9 662.7h0M610.4 659h0M606.1 660h0M604.4 663.1h0M604.2 664h0M606.5 661.2h0M613.4 664.9h0M611.8 672.8h0M612.1 661.2h0M600.8 667.6h0M603.6 660.6h0M604.9 662.1h0M609.1 667.8h0M617.1 667.3h0M611 662h0M602.4 660.6h0M601.9 661.4h0M597.3 666.7h0M602.5 667.9h0M610.8 654.6h0M615.5 667h0M611.4 662.3h0M598.4 661h0M602.9 658.6h0M609.1 666.2h0M608.7 659.4h0M617.6 666.5h0M604.9 661.5h0M610.7 660.9h0M606.2 666.1h0M614.4 661.2h0M610 668h0M614.3 660.3h0M605.9 666.9h0M610.3 663.5h0M607.6 668.9h0M610.7 654.3h0M607.4 663.2h0M607.7 665.4h0M609.3 660.6h0M606.4 659.2h0M609 666.7h0M603.8 662.3h0M604.7 667h0M608.8 665.8h0M609.6 664.8h0M611.6 659.9h0M608 663.8h0M606.4 657.3h0M599.4 664.4h0M611.4 660.5h0M601.3 663h0M615.8 664.4h0M612.1 663.3h0M604.6 664.3h0M613 660.2h0M610 670h0M612.4 659.1h0M602.5 662.6h0M606.7 660h0M603.1 666.6h0M608.2 658.5h0M607.8 664.5h0M611.8 665.9h0M611.6 666.8h0M602.7 666.1h0M607 662.7h0M610.7 664.4h0M602.3 663.4h0M604.8 658.2h0M609.4 662.1h0M603.3 658.3h0M607.3 661.4h0M611.2 665.5h0M605.5 668.3h0M605.4 663.7h0M606.6 669.5h0M614.3 667h0M598.6 658.9h0M610.3 656.1h0M600.4 661.6h0M601.7 662.9h0M613.6 667.9h0M603.2 671.9h0M608.5 670.2h0M601.6 665.8h0M606.6 667.5h0M604.6 668.5h0M603.3 668.1h0M600.8 660.9h0M602.7 656.6h0M614.2 664.8h0M614.5 658.9h0M605.8 670.6h0M609.8 657.6h0M613.5 666.8h0M599.7 666h0M604.2 669.8h0M618.6 663.5h0M602.4 658.1h0M603 667.6h0M610.6 658.1h0M606.7 657.7h0M600.9 664.5h0M599.9 655.1h0M609.4 656.7h0M604 660.7h0M597.3 664.8h0M616.5 663h0M600.4 662.6h0"/>
<path d="M608.6 663.9h0M607.5 661.6h0M609.6 662h0M603.5 664.4h0M611.7 664.6h0M606.1 659h0M603.7 661.8h0M617.2 657.1h0M612.5 661.9h0M607.8 661.5h0M606.4 668h0M605 664.6h0M609.8 655.1h0M612.3 663.7h0M613.5 663h0M605.5 661h0M606.3 666.5h0M610.9 660.4h0M610.1 658.5h0M603 660.7h0M609.1 660.5h0M607.9 667.3h0M611.9 669h0M605.5 669.5h0M601.4 661.9h0M612.5 665.4h0M606.8 663.6h0M614.9 663.6h0M609.7 665.2h0M614.6 660.8h0M604.8 656.8h0M612.7 667h0M605.1 663.5h0M595.5 667.4h0M599.9 660.7h0M603.2 661.5h0M606.5 661.9h0M613.2 660.6h0M604.8 653.8h0M603.6 665.6h0M605.4 660.7h0M606 663.5h0M604.5 662.6h0M608.8 664.3h0M611.2 662h0M610.9 666.9h0M608.8 662.4h0M601.1 669.5h0M608.2 666.1h0M603.8 658.1h0M606.8 669.4h0M604.1 656.4h0M606.8 664.6h0M599.8 667.3h0M613.4 668.3h0M603 663.8h0M599.9 662.7h0M611.1 666.1h0M607.7 661.9h0M602.8 665.1h0M605.3 659.6h0M609.6 664h0M610.3 660.7h0M610.5 670h0M603.4 660.1h0M613.4 660h0M608.6 667.9h0M607.3 666.4h0M609.7 666.5h0M615.5 662.5h0M602.1 666.2h0M607.6 667h0M608.4 658.2h0M613.6 662.2h0M605 665.8h0M606.4 664.5h0M606 666.8h0M600.7 665.3h0M609.8 655.8h0M605.2 668.3h0M608.6 669.3h0M601.7 660.6h0M606.4 660h0M600 665h0M610 660.8h0M610.7 659.4h0M609.3 668.1h0M605.1 657.4h0M608.6 658h0M598.5 660.4h0M613.8 664.9h0M600.8 658h0M611.1 664.1h0M601.5 658.3h0M599.2 664h0M601.7 667.1h0M603.4 668.2h0M602.4 668.4h0M600.4 659.9h0M604.2 669h0M607.1 655.8h0M597.3 660.6h0M607.8 659.3h0M607.6 667.9h0M607.6 660.6h0M601.6 661.1h0M615 661.4h0M613.1 666h0M612.1 667.6h0M609 657.1h0M610.1 667h0M612.4 669h0M607.2 671.2h0M599.6 667.9h0M609 660.4h0M603.9 666.7h0M599.2 666.4h0M604 663.3h0M600 669.3h0M614.1 664.6h0M614 667.4h0M609.3 671.3h0M606.2 671.9h0M602.5 660.1h0M604.4 667.6h0M612 660.1h0M600.7 668.5h0M614.6 657.9h0M615.8 669.6h0M603 666.8h0"/>
</g>
<g fill="none" stroke="#ff7f0e" stroke-linecap="round" stroke-width="1.9" stroke-opacity=".35">
<path d="M596.5 662.9h0M589.8 659.7h0M619.2 671.1h0M572.3 682.8h0M551.5 667.5h0M609.3 688.2h0M618.3 665.6h0M565.9 681.9h0M638 673.3h0M556.9 648.7h0M620.5 654.9h0M593.1 651.6h0M594.4 676.6h0M623.6 672.7h0M595.4 643.4h0M626.3 638.9h0M603.9 645h0M625.4 664.7h0M615.4 649.1h0M626.9 673.3h0M636.2 689.5h0M578.6 663.8h0M648.5 655.5h0M570.7 657.3h0"/>
</g>
<rect x="541.8" y="614.8" width="129.6" height="96.1" fill="none" stroke="#9a9a9a" stroke-width=".8"/>
<line x1="545" y1="710.9" x2="545" y2="712.5" stroke="#9a9a9a" stroke-width=".6"/>
<text x="545" y="717.9" font-size="6.5" text-anchor="middle" fill="#151515">-8</text>
<line x1="560.45" y1="710.9" x2="560.45" y2="712.5" stroke="#9a9a9a" stroke-width=".6"/>
<text x="560.45" y="717.9" font-size="6.5" text-anchor="middle" fill="#151515">-6</text>
<line x1="575.9" y1="710.9" x2="575.9" y2="712.5" stroke="#9a9a9a" stroke-width=".6"/>
<text x="575.9" y="717.9" font-size="6.5" text-anchor="middle" fill="#151515">-4</text>
<line x1="591.35" y1="710.9" x2="591.35" y2="712.5" stroke="#9a9a9a" stroke-width=".6"/>
<text x="591.35" y="717.9" font-size="6.5" text-anchor="middle" fill="#151515">-2</text>
<line x1="606.8" y1="710.9" x2="606.8" y2="712.5" stroke="#9a9a9a" stroke-width=".6"/>
<text x="606.8" y="717.9" font-size="6.5" text-anchor="middle" fill="#151515">0</text>
<line x1="622.25" y1="710.9" x2="622.25" y2="712.5" stroke="#9a9a9a" stroke-width=".6"/>
<text x="622.25" y="717.9" font-size="6.5" text-anchor="middle" fill="#151515">2</text>
<line x1="637.7" y1="710.9" x2="637.7" y2="712.5" stroke="#9a9a9a" stroke-width=".6"/>
<text x="637.7" y="717.9" font-size="6.5" text-anchor="middle" fill="#151515">4</text>
<line x1="653.15" y1="710.9" x2="653.15" y2="712.5" stroke="#9a9a9a" stroke-width=".6"/>
<text x="653.15" y="717.9" font-size="6.5" text-anchor="middle" fill="#151515">6</text>
<line x1="668.6" y1="710.9" x2="668.6" y2="712.5" stroke="#9a9a9a" stroke-width=".6"/>
<text x="668.6" y="717.9" font-size="6.5" text-anchor="middle" fill="#151515">8</text>
<line x1="540.2" y1="709.66" x2="541.8" y2="709.66" stroke="#9a9a9a" stroke-width=".6"/>
<text x="539.5" y="712.06" font-size="6.5" text-anchor="end" fill="#151515">-8</text>
<line x1="540.2" y1="698.12" x2="541.8" y2="698.12" stroke="#9a9a9a" stroke-width=".6"/>
<text x="539.5" y="700.52" font-size="6.5" text-anchor="end" fill="#151515">-6</text>
<line x1="540.2" y1="686.58" x2="541.8" y2="686.58" stroke="#9a9a9a" stroke-width=".6"/>
<text x="539.5" y="688.98" font-size="6.5" text-anchor="end" fill="#151515">-4</text>
<line x1="540.2" y1="675.04" x2="541.8" y2="675.04" stroke="#9a9a9a" stroke-width=".6"/>
<text x="539.5" y="677.44" font-size="6.5" text-anchor="end" fill="#151515">-2</text>
<line x1="540.2" y1="663.5" x2="541.8" y2="663.5" stroke="#9a9a9a" stroke-width=".6"/>
<text x="539.5" y="665.9" font-size="6.5" text-anchor="end" fill="#151515">0</text>
<line x1="540.2" y1="651.96" x2="541.8" y2="651.96" stroke="#9a9a9a" stroke-width=".6"/>
<text x="539.5" y="654.36" font-size="6.5" text-anchor="end" fill="#151515">2</text>
<line x1="540.2" y1="640.42" x2="541.8" y2="640.42" stroke="#9a9a9a" stroke-width=".6"/>
<text x="539.5" y="642.82" font-size="6.5" text-anchor="end" fill="#151515">4</text>
<line x1="540.2" y1="628.88" x2="541.8" y2="628.88" stroke="#9a9a9a" stroke-width=".6"/>
<text x="539.5" y="631.28" font-size="6.5" text-anchor="end" fill="#151515">6</text>
<line x1="540.2" y1="617.34" x2="541.8" y2="617.34" stroke="#9a9a9a" stroke-width=".6"/>
<text x="539.5" y="619.74" font-size="6.5" text-anchor="end" fill="#151515">8</text>
<text x="544.8" y="622.8" font-size="8.53" textLength="101" lengthAdjust="spacingAndGlyphs">Targeting correlation 0.214</text>
<text x="544.8" y="632.8" font-size="8.47" textLength="119.1" lengthAdjust="spacingAndGlyphs">Non-targeting correlation: 0.042</text>
<rect x="613" y="690.5" width="57.1" height="18.6" fill="#fff" stroke="#d4d4d4" stroke-width=".6" fill-opacity="0.8" rx="1"/>
<text x="665.7" y="697.8" font-size="8.4" text-anchor="end">Targeting</text>
<text x="665.7" y="706.5" font-size="8.4" text-anchor="end">Non-targeting</text>
<circle cx="667.9" cy="694.9" r="1" fill="#1f77b4" fill-opacity="0.4"/>
<circle cx="667.9" cy="703.7" r="1" fill="#ff7f0e" fill-opacity="0.5"/>
<text x="535.5" y="660.8" font-size="8.1" text-anchor="middle" transform="rotate(-90 535.5 660.8)">Replicate 2</text>
<text x="584.5" y="724" font-size="7.94" textLength="39.7" lengthAdjust="spacingAndGlyphs">Replicate 1</text>
</svg>
</body></html>
